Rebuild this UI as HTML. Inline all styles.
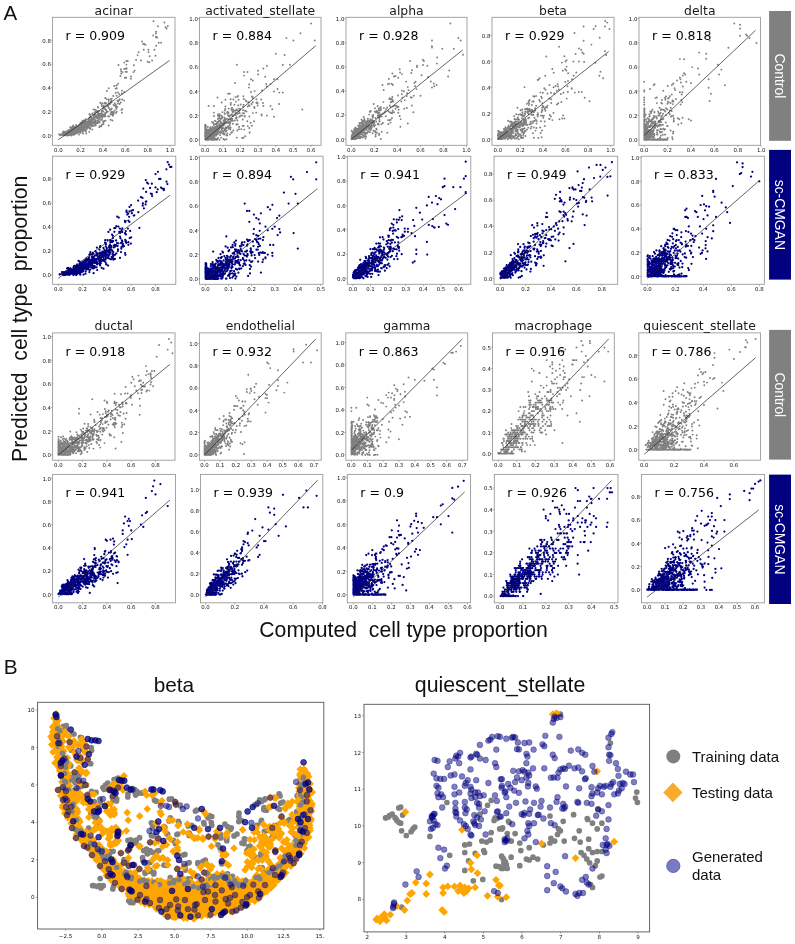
<!DOCTYPE html><html><head><meta charset="utf-8"><style>html,body{margin:0;padding:0;background:#fff;}svg{display:block;}</style></head><body>
<svg width="795" height="944" viewBox="0 0 795 944">
<rect width="795" height="944" fill="#fff"/>
<path d="M97.7 112.7h0M87.0 122.1h0M86.4 122.5h0M68.3 133.9h0M82.2 129.7h0M76.9 130.4h0M71.1 131.0h0M95.7 121.0h0M91.2 117.7h0M88.9 125.6h0M63.9 135.1h0M95.1 111.9h0M89.7 122.5h0M92.5 122.9h0M81.9 123.2h0M76.4 127.8h0M108.2 116.2h0M69.5 134.7h0M61.0 134.6h0M98.1 121.7h0M102.8 116.2h0M76.0 129.5h0M89.8 128.4h0M77.3 126.5h0M69.9 132.4h0M92.4 122.5h0M67.8 134.5h0M68.6 132.8h0M65.7 132.4h0M72.8 132.9h0M91.5 124.7h0M66.4 132.7h0M99.8 118.4h0M77.9 128.4h0M98.9 119.1h0M91.7 121.1h0M85.4 120.0h0M122.1 90.6h0M70.4 134.7h0M95.6 120.1h0M92.9 126.0h0M102.4 115.5h0M66.1 134.9h0M70.9 127.3h0M104.4 120.9h0M103.6 106.5h0M68.3 134.3h0M83.8 126.8h0M77.2 126.5h0M83.9 129.7h0M75.6 130.1h0M95.9 116.2h0M75.0 133.8h0M108.6 125.4h0M67.0 133.1h0M69.6 135.2h0M103.0 121.1h0M103.3 111.6h0M88.3 120.3h0M71.8 131.6h0M105.5 120.6h0M70.4 129.5h0M97.7 120.4h0M96.6 110.7h0M63.6 134.0h0M87.8 127.7h0M118.3 101.2h0M85.5 125.2h0M112.4 114.3h0M94.5 116.5h0M89.3 124.0h0M106.0 103.1h0M63.2 133.9h0M65.3 135.1h0M96.5 117.3h0M61.3 134.5h0M70.4 131.9h0M93.5 109.4h0M74.2 129.4h0M93.8 121.8h0M78.8 130.3h0M108.6 103.3h0M105.2 112.9h0M60.2 135.0h0M60.8 134.8h0M80.7 129.7h0M66.1 134.7h0M72.8 131.5h0M72.4 134.3h0M101.5 125.7h0M90.5 121.9h0M87.7 125.3h0M65.6 134.8h0M73.1 133.1h0M84.2 121.9h0M63.6 135.2h0M107.9 111.8h0M79.7 129.7h0M85.0 126.1h0M76.1 130.2h0M110.6 119.8h0M103.1 115.5h0M73.6 131.0h0M107.9 105.6h0M66.5 132.0h0M60.4 135.2h0M96.8 116.9h0M83.4 120.5h0M101.0 115.2h0M109.9 109.3h0M69.6 133.1h0M76.1 132.3h0M70.2 133.6h0M73.1 131.5h0M92.4 117.9h0M69.7 133.0h0M97.7 123.2h0M79.2 124.9h0M101.6 115.3h0M76.0 130.7h0M80.7 126.4h0M98.7 116.7h0M89.3 122.8h0M62.8 133.7h0M116.4 106.3h0M71.2 135.0h0M92.5 118.3h0M110.4 109.7h0M79.0 134.5h0M72.9 130.7h0M76.5 129.7h0M76.2 125.4h0M82.5 123.0h0M116.9 107.6h0M113.6 104.8h0M119.3 94.2h0M72.9 131.7h0M67.1 135.4h0M119.3 99.9h0M67.4 133.9h0M86.3 127.2h0M116.0 112.9h0M64.8 132.9h0M98.6 120.3h0M73.1 128.8h0M68.4 131.5h0M74.6 133.2h0M81.9 129.1h0M71.6 135.5h0M74.2 130.4h0M91.6 122.7h0M92.1 125.0h0M122.1 109.0h0M107.1 105.7h0M79.8 125.1h0M82.9 124.3h0M82.8 128.2h0M95.6 123.9h0M78.6 130.0h0M76.1 129.2h0M82.4 130.6h0M80.4 129.2h0M82.3 120.9h0M72.9 128.9h0M89.4 114.2h0M117.9 103.5h0M74.4 134.2h0M71.0 131.4h0M86.7 129.2h0M82.8 130.9h0M115.7 106.8h0M106.4 111.9h0M74.5 130.6h0M72.2 130.2h0M92.2 121.0h0M81.5 127.3h0M62.1 134.5h0M83.0 128.0h0M111.7 108.5h0M87.8 122.5h0M106.0 113.1h0M82.4 126.2h0M78.6 128.2h0M70.9 133.3h0M74.5 129.6h0M71.0 132.0h0M70.1 129.8h0M68.6 135.1h0M87.3 123.8h0M71.4 130.1h0M77.1 129.4h0M89.3 121.6h0M98.2 117.3h0M90.3 123.1h0M124.3 91.9h0M110.9 99.2h0M71.6 135.1h0M83.1 133.4h0M76.8 130.0h0M98.9 117.0h0M98.0 114.5h0M122.1 99.4h0M101.1 120.0h0M76.8 132.9h0M94.3 114.9h0M72.5 129.2h0M63.1 133.9h0M74.8 132.2h0M98.5 113.3h0M88.9 122.6h0M101.2 126.3h0M70.1 134.4h0M99.0 111.2h0M82.2 127.6h0M67.6 135.3h0M81.2 122.6h0M71.8 130.9h0M71.1 133.8h0M99.4 115.0h0M74.5 128.9h0M85.9 121.6h0M81.7 127.3h0M72.8 130.1h0M93.2 122.3h0M79.1 128.5h0M83.4 123.8h0M78.5 128.6h0M65.3 133.4h0M113.2 112.0h0M89.3 131.7h0M64.4 134.0h0M117.3 100.7h0M92.4 120.7h0M87.3 122.6h0M106.0 103.6h0M116.7 111.7h0M89.5 123.3h0M77.5 128.6h0M98.9 116.7h0M85.0 123.7h0M73.3 132.3h0M76.9 133.2h0M90.2 116.3h0M100.8 116.7h0M71.6 129.8h0M90.7 122.7h0M80.8 129.4h0M95.1 117.3h0M95.8 125.4h0M70.3 127.2h0M83.1 123.5h0M97.1 118.3h0M75.7 131.8h0M108.6 107.7h0M62.4 134.4h0M101.8 124.7h0M94.2 122.2h0M97.2 111.2h0M74.5 130.4h0M69.7 132.1h0M80.5 132.8h0M81.9 129.2h0M79.8 130.0h0M74.7 127.0h0M94.2 116.3h0M91.5 120.5h0M80.5 126.5h0M78.6 126.3h0M84.1 127.0h0M66.0 133.4h0M92.1 121.6h0M104.9 114.9h0M93.5 122.4h0M80.7 128.4h0M69.5 133.9h0M86.3 125.7h0M98.1 107.6h0M92.7 125.9h0M67.4 134.0h0M90.0 121.5h0M73.2 125.5h0M86.3 124.8h0M82.2 130.1h0M99.3 127.3h0M120.7 102.5h0M70.8 128.0h0M79.1 128.0h0M67.7 135.5h0M109.2 116.6h0M87.9 125.9h0M116.3 108.7h0M76.0 133.2h0M73.0 130.4h0M90.4 114.6h0M84.1 129.0h0M87.5 123.7h0M67.8 132.7h0M101.7 114.7h0M96.8 123.0h0M92.4 129.6h0M72.8 130.5h0M85.5 130.7h0M79.5 130.1h0M99.5 122.5h0M85.6 123.5h0M74.0 131.6h0M64.9 131.6h0M84.9 126.0h0M63.7 132.7h0M91.5 122.2h0M90.8 120.7h0M88.1 124.3h0M94.2 115.2h0M87.1 124.3h0M71.9 130.1h0M85.6 126.7h0M88.4 120.8h0M94.6 120.2h0M80.9 124.3h0M74.3 126.9h0M71.5 130.5h0M73.2 134.5h0M62.6 134.6h0M70.3 130.1h0M71.5 130.6h0M63.1 135.3h0M70.5 132.1h0M105.6 116.2h0M91.4 121.9h0M77.0 130.5h0M71.4 133.4h0M111.5 100.6h0M99.8 122.1h0M104.3 115.3h0M85.3 127.5h0M92.3 113.4h0M64.4 135.2h0M86.7 125.7h0M68.4 131.1h0M74.3 129.3h0M66.1 132.6h0M81.2 128.0h0M81.8 124.8h0M68.7 130.1h0M86.0 131.2h0M65.7 134.4h0M98.6 121.3h0M67.0 132.0h0M72.0 130.8h0M108.9 99.4h0M85.6 121.1h0M117.2 106.7h0M88.7 125.6h0M66.7 135.2h0M69.5 131.0h0M76.0 125.3h0M68.6 133.0h0M88.0 121.8h0M111.0 112.7h0M95.7 117.4h0M75.3 132.7h0M66.1 133.5h0M75.0 129.2h0M84.8 124.7h0M83.7 130.5h0M115.7 92.7h0M113.5 114.2h0M105.0 109.0h0M62.0 134.7h0M70.2 131.4h0M82.2 128.1h0M92.2 120.2h0M105.9 110.1h0M67.8 131.7h0M73.6 132.0h0M89.7 128.5h0M103.3 114.7h0M77.0 126.5h0M95.2 121.8h0M88.8 127.2h0M74.0 126.6h0M103.3 122.6h0M70.6 132.9h0M74.4 132.5h0M78.6 127.8h0M83.6 124.0h0M82.4 128.1h0M72.0 127.4h0M90.7 125.6h0M71.8 129.7h0M113.9 112.5h0M119.6 103.9h0M108.4 106.3h0M59.7 134.4h0M104.4 114.2h0M74.3 132.0h0M73.2 131.7h0M93.6 115.5h0M100.9 115.2h0M82.3 127.9h0M89.9 125.5h0M78.3 131.8h0M95.4 121.3h0M100.3 102.8h0M67.1 134.4h0M112.9 115.7h0M102.3 117.5h0M97.2 115.3h0M95.3 109.8h0M66.5 133.9h0M68.8 133.0h0M81.0 128.4h0M67.0 133.4h0M94.7 117.7h0M71.8 130.0h0M75.2 131.3h0M77.2 129.9h0M86.2 133.5h0M99.7 126.3h0M88.5 125.4h0M95.5 114.2h0M66.9 132.9h0M76.7 127.0h0M89.3 125.7h0M72.9 133.2h0M105.1 114.1h0M97.6 118.0h0M90.7 123.1h0M75.2 133.2h0M63.3 135.3h0M87.1 126.4h0M59.6 134.8h0M62.8 134.6h0M93.8 119.1h0M84.1 128.6h0M89.6 117.7h0M75.4 128.2h0M75.4 129.5h0M76.0 129.2h0M87.8 122.6h0M63.9 134.2h0M63.1 134.6h0M104.1 116.5h0M94.3 124.4h0M84.9 128.8h0M66.7 134.3h0M71.0 134.6h0M85.6 119.1h0M69.2 133.8h0M70.8 130.0h0M73.8 131.4h0M67.1 134.3h0M96.8 111.9h0M112.4 112.6h0M69.6 132.8h0M66.8 134.9h0M121.5 110.1h0M80.3 125.0h0M103.2 108.3h0M111.9 114.6h0M83.1 128.8h0M66.0 135.2h0M111.9 111.6h0M114.2 105.4h0M121.9 93.4h0M69.0 132.6h0M72.5 131.5h0M77.8 126.8h0M80.6 130.8h0M75.0 133.9h0M71.5 131.1h0M105.6 106.6h0M101.9 106.0h0M101.6 111.0h0M119.7 99.2h0M62.9 133.0h0M83.5 126.3h0M74.0 134.8h0M82.5 123.4h0M100.0 113.8h0M101.8 119.2h0M111.6 102.3h0M66.0 133.6h0M87.4 124.9h0M91.0 122.5h0M75.3 130.1h0M76.3 129.3h0M103.7 105.8h0M90.5 128.0h0M79.4 128.4h0M81.2 124.2h0M72.2 129.7h0M59.2 134.3h0M110.2 103.8h0M75.8 128.4h0M83.3 130.6h0M81.7 127.1h0M82.5 132.1h0M109.4 104.1h0M76.5 130.0h0M73.3 131.1h0M84.1 127.3h0M94.3 117.7h0M70.2 134.0h0M91.0 117.0h0M85.6 131.3h0M65.3 134.2h0M80.2 123.5h0M69.3 132.5h0M83.6 126.8h0M75.2 131.8h0M74.3 127.0h0M91.3 119.6h0M67.5 130.7h0M92.9 117.6h0M91.4 120.9h0M103.7 114.6h0M71.4 131.8h0M78.8 131.8h0M72.4 130.2h0M73.0 126.6h0M70.4 132.5h0M70.9 134.2h0M78.4 126.6h0M88.3 122.7h0M87.6 124.1h0M97.9 106.9h0M112.7 113.0h0M92.7 119.1h0M62.5 133.7h0M85.2 130.4h0M80.8 124.3h0M85.4 127.5h0M79.4 127.7h0M85.9 122.5h0M69.7 133.7h0M110.4 114.4h0M62.8 134.3h0M122.0 112.7h0M78.8 132.2h0M72.5 131.8h0M82.3 131.6h0M98.6 115.9h0M86.5 127.2h0M86.5 124.4h0M95.1 123.1h0M78.5 128.2h0M90.3 124.5h0M89.0 125.3h0M106.7 111.2h0M114.8 103.1h0M66.7 132.4h0M99.0 122.0h0M76.1 132.2h0M91.6 125.9h0M98.9 113.7h0M73.4 127.9h0M75.0 130.8h0M79.8 126.6h0M80.2 131.7h0M84.3 122.5h0M78.8 129.4h0M77.1 132.8h0M91.4 124.8h0M76.0 129.0h0M76.6 133.3h0M101.9 114.0h0M104.4 108.2h0M115.7 104.8h0M78.5 128.7h0M73.7 131.4h0M94.3 125.5h0M99.9 114.5h0M70.7 133.3h0M64.9 133.5h0M67.7 133.8h0M67.8 131.4h0M101.7 113.0h0M112.4 120.4h0M94.2 123.4h0M71.9 133.3h0M110.3 110.5h0M70.1 133.0h0M76.2 125.3h0M74.8 131.8h0M71.3 132.8h0M82.6 126.0h0M90.3 120.3h0M124.1 100.6h0M93.2 114.9h0M65.8 135.1h0M71.2 134.3h0M101.5 116.7h0M91.4 124.3h0M65.7 132.7h0M94.5 112.7h0M81.8 126.3h0M70.7 131.9h0M65.4 133.0h0M63.2 131.4h0M91.3 122.2h0M95.4 120.1h0M66.0 134.4h0M103.5 124.0h0M66.3 134.2h0M77.6 132.6h0M98.1 116.2h0M81.2 123.9h0M114.7 110.5h0M80.1 130.7h0M104.6 103.3h0M102.6 110.2h0M81.6 126.5h0M96.5 122.5h0M72.1 132.9h0M71.2 133.0h0M89.7 123.4h0M86.1 123.5h0M88.9 120.9h0M88.8 119.2h0M90.4 119.9h0M95.0 121.2h0M101.0 119.9h0M86.0 122.3h0M78.6 130.0h0M111.8 108.8h0M90.4 128.7h0M104.9 102.6h0M118.0 92.5h0M105.9 103.7h0M125.5 77.8h0M125.9 71.8h0M126.7 71.6h0M121.2 71.3h0M120.9 69.3h0M126.5 68.1h0M106.7 99.2h0M108.7 100.9h0M114.3 85.9h0M116.8 88.3h0M110.8 101.9h0M126.4 64.6h0M116.4 85.6h0M101.6 104.2h0M124.2 68.9h0M122.8 72.1h0M113.3 95.9h0M126.3 60.9h0M111.9 98.6h0M126.2 77.7h0M108.7 88.2h0M126.6 68.8h0M116.6 95.8h0M118.2 83.6h0M116.8 85.3h0M108.0 105.1h0M118.5 64.9h0M105.2 98.0h0M106.1 110.0h0M115.6 88.6h0M102.4 103.2h0M106.9 90.9h0M127.8 61.0h0M145.5 44.7h0M124.3 62.6h0M140.9 60.4h0M137.6 55.1h0M153.5 21.3h0M130.9 78.8h0M134.6 70.6h0M149.4 62.3h0M155.8 33.4h0M120.4 75.9h0M158.0 26.2h0M156.1 45.8h0M133.5 72.1h0M155.9 37.2h0M156.1 36.6h0M126.6 71.9h0M133.9 65.3h0M125.9 68.4h0M148.4 49.7h0M149.6 56.3h0M124.9 77.8h0M143.7 49.8h0M144.2 44.0h0M121.2 73.5h0M157.2 37.5h0M148.5 52.1h0M156.1 31.7h0M131.0 76.4h0M136.1 60.0h0M164.4 22.5h0M167.8 26.0h0M165.5 27.2h0M153.2 35.5h0M158.8 42.7h0M161.1 42.7h0M142.1 41.5h0M143.2 43.9h0M138.7 52.2h0M147.7 61.7h0M152.1 60.5h0M154.4 49.8h0M155.5 55.8h0M166.6 28.4h0" stroke="#808080" stroke-width="1.95" stroke-linecap="round" fill="none"/>
<line x1="58.3" y1="139.8" x2="169.6" y2="60.4" stroke="#222" stroke-width="0.7"/>
<rect x="52.5" y="17.3" width="122.5" height="128.0" fill="none" stroke="#9a9a9a" stroke-width="0.9"/>
<text x="58.3" y="151.9" font-family="'DejaVu Sans', sans-serif" font-size="5.4" fill="#111" text-anchor="middle">0.0</text>
<text x="80.6" y="151.9" font-family="'DejaVu Sans', sans-serif" font-size="5.4" fill="#111" text-anchor="middle">0.2</text>
<text x="103.0" y="151.9" font-family="'DejaVu Sans', sans-serif" font-size="5.4" fill="#111" text-anchor="middle">0.4</text>
<text x="125.3" y="151.9" font-family="'DejaVu Sans', sans-serif" font-size="5.4" fill="#111" text-anchor="middle">0.6</text>
<text x="147.7" y="151.9" font-family="'DejaVu Sans', sans-serif" font-size="5.4" fill="#111" text-anchor="middle">0.8</text>
<text x="170.0" y="151.9" font-family="'DejaVu Sans', sans-serif" font-size="5.4" fill="#111" text-anchor="middle">1.0</text>
<text x="50.9" y="137.8" font-family="'DejaVu Sans', sans-serif" font-size="5.4" fill="#111" text-anchor="end">0.0</text>
<text x="50.9" y="114.0" font-family="'DejaVu Sans', sans-serif" font-size="5.4" fill="#111" text-anchor="end">0.2</text>
<text x="50.9" y="90.2" font-family="'DejaVu Sans', sans-serif" font-size="5.4" fill="#111" text-anchor="end">0.4</text>
<text x="50.9" y="66.4" font-family="'DejaVu Sans', sans-serif" font-size="5.4" fill="#111" text-anchor="end">0.6</text>
<text x="50.9" y="42.6" font-family="'DejaVu Sans', sans-serif" font-size="5.4" fill="#111" text-anchor="end">0.8</text>
<path d="M58.3 145.3v1.8M80.6 145.3v1.8M103.0 145.3v1.8M125.3 145.3v1.8M147.7 145.3v1.8M170.0 145.3v1.8M52.5 135.5h-1.8M52.5 111.7h-1.8M52.5 87.9h-1.8M52.5 64.1h-1.8M52.5 40.3h-1.8" stroke="#888" stroke-width="0.6"/>
<text x="65.5" y="40.0" font-family="'DejaVu Sans', sans-serif" font-size="12.55" fill="#000">r = 0.909</text>
<text x="113.8" y="14.7" font-family="'DejaVu Sans', sans-serif" font-size="12.4" fill="#1a1a1a" text-anchor="middle">acinar</text>
<path d="M222.1 118.3h0M252.0 125.7h0M218.0 127.2h0M216.3 129.5h0M220.2 123.6h0M210.4 132.0h0M207.8 135.0h0M207.9 138.8h0M209.1 139.1h0M213.6 133.6h0M210.6 133.8h0M216.2 131.4h0M223.5 123.4h0M225.5 106.4h0M218.2 130.6h0M257.6 105.6h0M212.1 134.0h0M211.3 135.9h0M214.7 130.3h0M222.8 127.5h0M207.5 131.7h0M220.5 121.9h0M236.6 109.2h0M230.5 119.8h0M215.4 123.9h0M212.0 136.5h0M220.2 120.5h0M230.4 119.5h0M231.4 120.4h0M223.0 131.2h0M223.2 125.3h0M242.0 115.6h0M232.8 123.7h0M210.4 132.9h0M211.3 134.0h0M207.5 139.2h0M227.1 135.5h0M222.2 116.9h0M233.0 112.3h0M237.7 124.3h0M213.0 130.7h0M218.0 137.9h0M211.1 128.6h0M233.4 99.4h0M215.3 131.7h0M232.3 115.3h0M228.5 115.7h0M217.1 133.6h0M219.4 116.7h0M230.4 129.5h0M217.4 131.6h0M227.0 118.7h0M210.3 131.6h0M205.9 136.7h0M214.6 127.6h0M212.5 127.0h0M210.1 135.0h0M211.8 137.3h0M215.8 124.2h0M208.2 139.2h0M224.7 118.3h0M214.7 134.7h0M214.8 129.7h0M211.5 130.2h0M231.5 115.1h0M217.9 122.8h0M240.4 109.2h0M244.2 129.6h0M219.5 139.7h0M211.9 139.2h0M210.5 134.9h0M247.3 121.2h0M216.3 135.5h0M262.0 90.4h0M231.9 114.1h0M220.9 126.8h0M212.0 122.1h0M212.4 134.5h0M209.0 135.3h0M214.5 129.7h0M222.1 125.6h0M236.9 109.7h0M206.5 130.9h0M215.4 139.5h0M215.6 131.2h0M211.1 134.3h0M254.3 107.0h0M248.8 105.1h0M232.0 132.3h0M213.6 135.4h0M237.9 113.7h0M209.5 136.3h0M254.6 91.1h0M232.3 118.8h0M209.0 136.9h0M238.0 95.9h0M220.7 123.4h0M219.1 128.3h0M224.6 133.7h0M222.4 127.8h0M216.7 133.8h0M213.3 134.1h0M214.0 132.8h0M216.8 132.1h0M214.0 136.4h0M248.7 102.5h0M210.3 130.6h0M205.3 130.1h0M213.9 124.8h0M210.4 133.0h0M217.6 121.9h0M230.7 127.6h0M208.3 136.6h0M220.9 126.2h0M244.0 113.1h0M214.0 125.0h0M209.7 131.9h0M216.6 129.5h0M249.3 128.0h0M209.5 136.7h0M211.7 139.5h0M224.6 128.4h0M224.2 117.4h0M221.8 128.3h0M221.7 129.5h0M248.5 102.1h0M212.8 134.7h0M220.8 132.8h0M209.2 133.7h0M212.9 131.8h0M227.1 112.9h0M209.1 133.2h0M222.0 129.6h0M209.2 137.4h0M213.5 133.0h0M219.7 127.4h0M216.5 129.4h0M235.4 97.1h0M223.5 120.8h0M207.2 132.3h0M206.0 139.2h0M218.7 132.4h0M225.9 131.4h0M228.6 122.9h0M220.6 124.0h0M224.6 123.0h0M231.1 132.8h0M243.9 113.5h0M209.1 135.9h0M214.3 136.6h0M224.5 130.2h0M226.3 122.6h0M250.6 122.7h0M243.8 98.9h0M222.4 128.2h0M207.2 132.9h0M225.4 123.4h0M221.7 102.5h0M213.0 130.2h0M233.1 116.1h0M215.0 135.6h0M207.0 137.7h0M279.1 104.0h0M213.7 134.3h0M221.1 118.7h0M235.4 113.0h0M216.9 132.0h0M211.5 135.6h0M223.1 133.5h0M219.4 127.0h0M221.6 128.8h0M206.8 137.1h0M220.8 127.7h0M217.6 126.2h0M234.3 104.8h0M236.7 118.6h0M249.1 84.5h0M206.0 135.7h0M217.6 132.5h0M228.1 122.6h0M228.4 121.9h0M208.9 138.7h0M209.6 139.2h0M207.2 138.7h0M209.9 137.0h0M217.9 134.1h0M210.1 136.3h0M227.9 126.3h0M220.0 125.9h0M223.0 128.2h0M212.6 137.6h0M243.6 104.7h0M214.7 132.5h0M217.6 128.0h0M212.7 129.5h0M240.7 104.4h0M212.7 131.0h0M207.8 134.8h0M205.4 139.6h0M214.6 130.0h0M222.1 131.6h0M207.6 137.6h0M206.0 139.5h0M217.7 123.4h0M225.7 122.5h0M254.1 121.2h0M214.3 128.8h0M210.2 132.5h0M228.5 116.1h0M213.1 130.2h0M206.3 136.8h0M232.0 120.9h0M229.9 124.1h0M234.7 114.6h0M219.2 132.2h0M228.7 119.6h0M243.1 106.7h0M208.7 129.6h0M263.0 103.0h0M223.9 123.3h0M206.8 138.4h0M231.3 109.1h0M211.0 138.2h0M243.4 96.2h0M215.8 132.0h0M210.4 138.9h0M228.6 127.4h0M232.8 120.6h0M224.9 114.0h0M226.6 130.8h0M211.6 129.3h0M235.9 101.6h0M219.8 125.4h0M212.5 129.5h0M219.6 116.5h0M212.1 137.8h0M241.0 115.4h0M221.4 122.5h0M215.6 128.4h0M219.5 124.5h0M221.6 115.8h0M230.3 122.8h0M210.8 131.8h0M227.3 133.5h0M272.2 109.2h0M236.4 124.5h0M213.1 131.9h0M217.2 130.2h0M247.8 106.4h0M217.0 128.6h0M218.8 121.0h0M237.4 120.4h0M213.0 128.4h0M218.1 129.2h0M223.7 125.0h0M214.7 135.9h0M251.6 103.9h0M209.7 132.1h0M212.8 127.5h0M224.3 123.5h0M230.0 128.0h0M249.4 116.4h0M224.8 120.6h0M215.0 133.8h0M210.8 135.3h0M207.2 136.5h0M244.6 116.6h0M205.7 133.6h0M232.7 115.8h0M214.6 131.3h0M224.0 133.4h0M212.2 135.9h0M213.2 122.3h0M206.0 134.4h0M216.5 128.3h0M217.7 126.0h0M226.6 128.1h0M228.0 115.0h0M216.7 124.7h0M216.8 134.6h0M207.8 129.8h0M231.4 120.4h0M225.4 121.1h0M209.4 136.6h0M235.4 110.7h0M208.2 139.6h0M252.0 96.4h0M211.4 130.6h0M206.3 138.1h0M206.1 137.8h0M210.8 128.9h0M239.7 116.6h0M221.2 126.2h0M213.4 137.9h0M219.3 125.1h0M210.9 130.0h0M261.2 99.5h0M220.2 125.4h0M228.9 119.1h0M230.0 121.9h0M214.9 120.6h0M217.8 127.3h0M219.9 118.4h0M254.5 108.1h0M251.0 91.9h0M221.4 123.4h0M226.0 119.2h0M239.5 110.6h0M236.0 112.7h0M238.6 111.5h0M232.7 120.7h0M236.7 117.3h0M237.3 130.5h0M239.4 116.8h0M223.8 125.2h0M230.6 99.3h0M229.6 116.6h0M229.9 134.6h0M257.6 103.4h0M239.7 112.9h0M237.4 96.8h0M238.3 105.5h0M256.2 112.6h0M252.7 98.0h0M224.1 134.5h0M242.8 113.1h0M252.9 113.1h0M246.6 101.6h0M249.7 132.4h0M241.3 129.1h0M225.9 127.2h0M256.4 99.2h0M239.0 129.2h0M245.0 110.8h0M213.7 124.1h0M219.7 115.1h0M219.9 127.1h0M220.1 135.3h0M230.9 102.9h0M210.5 135.8h0M224.6 113.2h0M228.7 128.7h0M222.5 133.6h0M217.9 114.1h0M235.8 118.2h0M243.6 125.7h0M249.6 105.8h0M216.8 124.0h0M248.9 87.6h0M212.2 130.7h0M247.8 126.1h0M256.4 102.7h0M232.6 109.2h0M224.6 139.8h0M208.3 132.4h0M225.5 128.9h0M252.6 97.0h0M224.8 110.4h0M211.1 133.7h0M238.6 99.8h0M246.5 111.4h0M220.5 126.9h0M230.1 115.3h0M215.3 135.7h0M242.2 138.0h0M218.9 118.1h0M234.8 120.5h0M249.6 132.7h0M242.7 119.5h0M245.7 100.4h0M216.6 134.5h0M228.8 108.6h0M226.4 139.2h0M213.4 127.5h0M227.5 111.8h0M215.5 138.9h0M218.4 126.2h0M226.6 130.4h0M235.8 114.9h0M229.4 119.4h0M219.2 116.0h0M252.8 102.2h0M225.1 121.6h0M215.1 126.9h0M223.6 123.0h0M225.6 119.3h0M227.2 122.8h0M225.4 99.8h0M226.4 135.2h0M224.3 119.8h0M231.1 118.9h0M233.3 130.4h0M209.8 133.4h0M222.4 112.1h0M245.0 116.1h0M266.3 84.0h0M232.5 111.5h0M222.3 123.7h0M233.6 110.9h0M236.8 137.6h0M223.8 120.9h0M217.0 122.4h0M223.4 139.0h0M220.5 131.2h0M230.7 104.8h0M237.4 110.2h0M212.5 139.3h0M239.1 108.6h0M231.4 109.8h0M217.9 115.7h0M219.6 114.1h0M219.0 129.5h0M223.6 131.7h0M229.7 125.7h0M245.2 136.3h0M214.0 116.0h0M239.1 127.0h0M219.0 127.1h0M221.1 137.6h0M257.2 102.4h0M233.7 110.2h0M232.0 107.6h0M217.2 138.7h0M217.9 119.0h0M220.0 132.2h0M224.8 119.6h0M213.9 112.6h0M226.4 135.3h0M244.3 116.1h0M219.8 126.4h0M227.5 127.3h0M242.8 125.9h0M243.1 110.2h0M225.9 130.8h0M243.4 137.8h0M225.3 109.0h0M216.9 139.3h0M213.0 130.8h0M228.6 112.8h0M205.2 133.3h0M205.4 126.7h0M205.2 137.6h0M205.1 128.9h0M205.2 131.8h0M205.2 128.1h0M205.3 138.1h0M205.4 132.9h0M206.1 130.4h0M205.2 131.7h0M205.2 132.0h0M205.6 126.3h0M205.5 125.4h0M205.2 138.4h0M205.3 130.7h0M205.2 127.3h0M205.4 137.3h0M205.4 132.5h0M205.3 125.5h0M205.8 127.0h0M205.5 126.1h0M205.5 139.1h0M205.7 128.7h0M205.5 133.9h0M205.2 124.6h0M205.3 127.3h0M205.5 129.5h0M205.3 130.3h0M205.3 129.0h0M205.8 135.4h0M205.4 131.4h0M205.6 131.9h0M205.1 136.2h0M205.6 133.1h0M205.2 130.4h0M205.2 125.4h0M205.5 139.2h0M205.4 125.5h0M205.4 125.1h0M205.3 126.5h0M205.2 126.4h0M205.3 132.8h0M205.1 126.9h0M205.3 138.4h0M205.4 128.1h0M205.3 125.9h0M205.2 129.1h0M205.5 125.0h0M205.4 134.0h0M205.6 131.9h0M205.2 137.6h0M205.4 124.9h0M205.9 125.9h0M205.3 135.3h0M205.5 138.2h0M205.1 135.0h0M205.3 125.0h0M205.5 127.3h0M205.4 132.5h0M205.7 137.4h0M205.3 135.6h0M205.8 137.9h0M205.4 139.4h0M205.2 134.0h0M205.1 133.2h0M205.2 129.0h0M205.3 133.5h0M205.2 135.1h0M205.8 139.0h0M205.2 132.2h0M217.0 139.8h0M214.1 139.7h0M211.9 139.5h0M215.9 139.8h0M211.8 139.5h0M216.4 139.6h0M206.0 139.5h0M213.3 139.7h0M215.2 139.5h0M211.0 139.5h0M212.1 139.5h0M217.0 139.6h0M212.6 139.2h0M205.4 139.6h0M208.2 139.6h0M206.6 139.8h0M212.6 139.8h0M212.2 139.6h0M215.5 139.6h0M216.9 139.6h0M216.0 139.3h0M207.4 139.7h0M215.0 139.4h0M208.1 139.8h0M216.9 139.4h0M206.9 139.7h0M216.9 139.7h0M207.6 139.7h0M209.0 139.7h0M211.3 139.8h0M208.3 135.7h0M220.3 133.1h0M208.9 136.5h0M207.1 131.1h0M207.8 127.0h0M206.4 135.5h0M212.8 128.8h0M205.8 134.6h0M205.5 139.8h0M205.6 134.2h0M207.2 134.3h0M208.3 131.7h0M210.9 137.5h0M206.0 137.4h0M205.2 133.7h0M205.3 138.2h0M212.6 129.8h0M207.9 137.3h0M206.7 132.4h0M214.2 137.0h0M206.1 132.3h0M205.2 131.5h0M211.6 132.8h0M205.9 130.3h0M207.4 133.0h0M208.7 137.7h0M206.1 137.1h0M209.7 130.1h0M206.5 134.3h0M205.7 131.9h0M206.3 135.8h0M206.1 132.0h0M206.4 139.2h0M206.4 129.0h0M206.2 138.3h0M206.2 134.5h0M205.6 134.6h0M211.6 134.9h0M211.9 133.6h0M208.9 135.6h0M211.4 130.0h0M212.9 134.0h0M206.4 136.8h0M205.7 133.7h0M205.7 133.1h0M206.7 135.9h0M211.5 139.7h0M206.1 135.8h0M206.0 133.8h0M205.7 136.5h0M206.8 132.0h0M206.4 132.1h0M208.0 136.4h0M210.0 137.7h0M210.4 127.3h0M206.5 138.6h0M219.2 129.0h0M206.5 138.0h0M206.1 139.1h0M208.6 135.4h0M205.1 135.4h0M205.5 138.5h0M206.0 133.7h0M212.2 122.4h0M209.8 128.1h0M211.4 132.9h0M213.6 134.1h0M211.4 135.5h0M206.8 134.7h0M206.2 131.4h0M206.2 138.9h0M207.1 135.5h0M209.1 137.6h0M209.1 136.7h0M212.4 133.0h0M206.3 136.6h0M208.2 132.3h0M205.6 136.7h0M213.7 130.8h0M206.9 133.9h0M209.4 130.9h0M205.9 134.7h0M206.6 136.0h0M205.4 131.4h0M205.9 134.5h0M215.5 121.1h0M211.0 133.4h0M207.7 135.1h0M205.6 135.4h0M211.8 130.4h0M207.0 132.0h0M205.3 139.1h0M205.9 133.0h0M207.7 133.5h0M206.2 136.7h0M205.9 138.7h0M205.7 136.2h0M216.3 126.6h0M208.4 139.0h0M211.9 131.2h0M212.1 137.1h0M206.9 133.3h0M206.3 134.3h0M205.6 135.1h0M207.6 132.7h0M210.6 127.8h0M210.5 131.4h0M205.7 130.3h0M208.7 135.2h0M214.6 138.3h0M208.2 138.9h0M207.4 136.2h0M207.2 137.8h0M214.5 130.5h0M207.5 133.2h0M208.3 136.9h0M207.1 137.5h0M205.7 135.8h0M212.5 139.1h0M209.5 132.7h0M311.1 23.5h0M300.5 33.2h0M286.4 38.1h0M293.4 40.5h0M314.7 40.5h0M275.8 53.8h0M284.6 55.0h0M282.8 64.7h0M289.9 64.7h0M302.3 109.5h0M236.9 64.7h0M258.1 70.8h0M263.4 68.4h0M266.9 65.9h0M258.1 74.4h0M274.0 79.3h0M277.5 79.3h0M265.2 76.8h0M244.0 72.0h0M247.5 72.0h0M244.0 75.6h0M251.0 79.3h0M252.8 80.5h0M235.1 82.9h0M266.9 86.5h0M270.5 84.1h0M279.3 92.6h0M277.5 88.9h0M282.8 92.6h0M274.0 91.4h0M270.5 105.9h0M263.4 105.9h0M261.6 115.6h0M266.9 115.6h0M274.0 116.8h0M261.6 114.4h0M217.5 97.4h0M228.1 93.8h0M229.8 93.8h0M208.6 105.9h0M213.9 105.9h0" stroke="#808080" stroke-width="1.95" stroke-linecap="round" fill="none"/>
<line x1="205.1" y1="139.8" x2="315.7" y2="45.8" stroke="#222" stroke-width="0.7"/>
<rect x="199.5" y="17.3" width="121.5" height="128.0" fill="none" stroke="#9a9a9a" stroke-width="0.9"/>
<text x="205.1" y="151.9" font-family="'DejaVu Sans', sans-serif" font-size="5.4" fill="#111" text-anchor="middle">0.0</text>
<text x="222.8" y="151.9" font-family="'DejaVu Sans', sans-serif" font-size="5.4" fill="#111" text-anchor="middle">0.1</text>
<text x="240.4" y="151.9" font-family="'DejaVu Sans', sans-serif" font-size="5.4" fill="#111" text-anchor="middle">0.2</text>
<text x="258.1" y="151.9" font-family="'DejaVu Sans', sans-serif" font-size="5.4" fill="#111" text-anchor="middle">0.3</text>
<text x="275.8" y="151.9" font-family="'DejaVu Sans', sans-serif" font-size="5.4" fill="#111" text-anchor="middle">0.4</text>
<text x="293.4" y="151.9" font-family="'DejaVu Sans', sans-serif" font-size="5.4" fill="#111" text-anchor="middle">0.5</text>
<text x="311.1" y="151.9" font-family="'DejaVu Sans', sans-serif" font-size="5.4" fill="#111" text-anchor="middle">0.6</text>
<text x="197.9" y="142.1" font-family="'DejaVu Sans', sans-serif" font-size="5.4" fill="#111" text-anchor="end">0.0</text>
<text x="197.9" y="117.9" font-family="'DejaVu Sans', sans-serif" font-size="5.4" fill="#111" text-anchor="end">0.2</text>
<text x="197.9" y="93.7" font-family="'DejaVu Sans', sans-serif" font-size="5.4" fill="#111" text-anchor="end">0.4</text>
<text x="197.9" y="69.4" font-family="'DejaVu Sans', sans-serif" font-size="5.4" fill="#111" text-anchor="end">0.6</text>
<text x="197.9" y="45.2" font-family="'DejaVu Sans', sans-serif" font-size="5.4" fill="#111" text-anchor="end">0.8</text>
<text x="197.9" y="21.0" font-family="'DejaVu Sans', sans-serif" font-size="5.4" fill="#111" text-anchor="end">1.0</text>
<path d="M205.1 145.3v1.8M222.8 145.3v1.8M240.4 145.3v1.8M258.1 145.3v1.8M275.8 145.3v1.8M293.4 145.3v1.8M311.1 145.3v1.8M199.5 139.8h-1.8M199.5 115.6h-1.8M199.5 91.4h-1.8M199.5 67.1h-1.8M199.5 42.9h-1.8M199.5 18.7h-1.8" stroke="#888" stroke-width="0.6"/>
<text x="212.5" y="40.0" font-family="'DejaVu Sans', sans-serif" font-size="12.55" fill="#000">r = 0.884</text>
<text x="260.2" y="14.7" font-family="'DejaVu Sans', sans-serif" font-size="12.4" fill="#1a1a1a" text-anchor="middle">activated_stellate</text>
<path d="M392.4 73.5h0M387.3 132.7h0M376.7 129.5h0M372.8 117.8h0M378.5 115.4h0M360.8 130.2h0M371.3 122.5h0M359.7 124.1h0M371.6 121.8h0M373.0 121.8h0M352.8 135.8h0M355.3 136.7h0M369.8 122.1h0M356.2 132.5h0M379.1 112.8h0M368.7 123.0h0M363.7 132.0h0M355.4 138.0h0M355.4 127.4h0M392.6 110.5h0M379.2 112.8h0M366.0 124.8h0M359.9 137.4h0M390.7 119.8h0M361.6 130.4h0M355.8 132.4h0M364.9 133.0h0M362.6 129.4h0M359.7 132.1h0M354.5 136.1h0M368.9 125.6h0M356.4 138.6h0M352.7 133.4h0M353.7 135.9h0M363.3 136.3h0M363.7 116.9h0M355.2 132.8h0M354.3 133.3h0M371.5 127.2h0M362.2 125.0h0M359.8 122.9h0M368.1 122.9h0M379.9 116.8h0M355.3 128.9h0M353.7 138.0h0M369.5 126.8h0M377.9 124.3h0M370.7 130.1h0M357.5 133.4h0M363.1 129.4h0M372.7 120.8h0M368.4 122.3h0M372.8 123.2h0M359.1 130.1h0M377.9 115.4h0M361.5 119.6h0M370.8 111.0h0M371.8 120.1h0M356.8 131.3h0M379.5 121.5h0M356.6 128.6h0M380.1 115.2h0M362.1 126.0h0M364.3 136.6h0M361.7 122.9h0M373.5 130.8h0M365.9 136.1h0M365.9 136.7h0M379.1 135.0h0M379.9 110.6h0M370.0 129.2h0M383.7 90.0h0M360.7 131.1h0M357.3 132.0h0M365.2 126.5h0M369.1 114.6h0M392.3 97.0h0M367.7 120.5h0M355.6 132.2h0M378.2 123.7h0M373.6 123.9h0M361.1 129.3h0M380.3 107.4h0M360.7 132.6h0M360.4 134.1h0M364.6 120.7h0M371.8 127.2h0M356.9 134.8h0M375.3 132.3h0M363.0 123.7h0M354.7 138.6h0M355.7 133.7h0M356.3 137.6h0M357.3 135.6h0M370.4 119.7h0M379.9 115.0h0M360.7 134.2h0M376.3 128.8h0M358.7 131.5h0M362.3 132.9h0M353.2 137.8h0M363.5 129.5h0M360.7 137.0h0M384.6 112.4h0M383.9 108.1h0M363.8 126.4h0M354.6 138.7h0M375.5 118.1h0M370.7 122.6h0M355.8 138.0h0M388.0 84.3h0M367.2 132.9h0M382.9 122.9h0M362.9 120.7h0M370.4 126.3h0M362.4 121.2h0M371.5 125.7h0M356.3 137.2h0M385.8 116.2h0M360.3 129.5h0M379.2 133.7h0M362.9 126.1h0M366.4 121.4h0M354.3 137.5h0M363.9 128.5h0M380.8 139.0h0M397.4 107.2h0M353.7 135.9h0M361.1 136.9h0M360.4 128.3h0M367.5 124.4h0M378.8 109.9h0M368.9 124.0h0M358.5 133.6h0M381.9 116.6h0M359.8 129.7h0M355.6 133.5h0M363.5 124.3h0M366.3 124.6h0M366.6 129.8h0M371.5 120.2h0M367.6 124.4h0M369.8 111.8h0M359.3 134.0h0M359.7 134.3h0M356.3 136.6h0M366.5 123.8h0M379.5 119.9h0M360.4 133.2h0M360.8 130.6h0M378.7 108.5h0M362.7 135.1h0M366.6 123.8h0M381.0 107.1h0M355.5 135.1h0M355.7 139.0h0M371.4 128.5h0M364.9 122.5h0M367.6 125.4h0M357.5 132.3h0M365.7 123.0h0M364.6 124.9h0M356.2 132.9h0M360.3 137.9h0M369.6 120.7h0M370.1 127.8h0M357.0 136.4h0M395.5 75.9h0M358.6 135.0h0M391.5 99.3h0M375.7 134.7h0M362.6 129.3h0M373.3 114.9h0M391.0 102.2h0M359.8 129.5h0M374.8 111.6h0M357.1 136.3h0M360.0 130.8h0M367.1 127.0h0M379.9 115.2h0M364.4 120.2h0M356.5 134.0h0M361.9 134.2h0M367.9 118.6h0M366.4 128.5h0M352.5 134.4h0M394.1 112.2h0M358.1 131.5h0M390.6 102.1h0M398.6 109.7h0M360.0 125.1h0M359.4 122.9h0M364.8 125.6h0M354.8 136.5h0M354.7 134.3h0M359.4 131.6h0M395.5 108.7h0M389.8 98.3h0M357.0 135.2h0M359.6 136.0h0M357.9 132.6h0M357.8 129.8h0M358.1 136.1h0M357.8 128.6h0M358.0 125.6h0M359.3 134.9h0M376.4 111.3h0M377.6 105.9h0M356.5 133.8h0M371.2 124.4h0M353.9 139.0h0M374.3 126.4h0M373.3 125.4h0M355.4 137.9h0M357.6 137.1h0M355.8 136.6h0M371.2 121.6h0M372.6 133.3h0M355.7 135.5h0M375.0 108.2h0M367.5 121.1h0M356.4 136.9h0M368.6 124.9h0M353.6 137.3h0M364.9 127.8h0M354.4 135.4h0M369.9 132.1h0M374.1 123.5h0M368.1 126.8h0M377.8 123.9h0M365.2 127.7h0M373.0 116.8h0M391.9 101.8h0M365.7 134.2h0M377.0 132.7h0M364.1 128.5h0M362.6 127.7h0M352.4 138.8h0M367.8 122.9h0M355.5 134.4h0M392.8 100.2h0M378.8 124.6h0M355.0 134.1h0M397.9 95.5h0M364.8 128.0h0M362.5 121.7h0M372.0 120.8h0M362.7 131.7h0M355.5 128.7h0M373.3 121.9h0M381.7 131.7h0M398.2 77.8h0M362.2 132.9h0M353.3 135.0h0M356.2 137.0h0M364.5 133.1h0M356.3 136.0h0M354.5 138.9h0M354.3 136.3h0M372.3 116.2h0M388.9 79.0h0M365.5 138.4h0M375.4 125.1h0M367.5 127.3h0M371.0 122.6h0M352.1 138.2h0M361.7 131.8h0M362.9 123.1h0M369.0 129.3h0M364.4 118.9h0M375.6 136.4h0M356.7 129.9h0M355.5 136.0h0M364.5 122.0h0M354.4 130.4h0M396.2 105.7h0M359.6 125.9h0M389.3 83.6h0M353.7 137.8h0M357.1 136.4h0M376.3 121.5h0M366.0 132.6h0M357.4 131.0h0M357.6 132.4h0M359.8 133.2h0M392.3 112.4h0M394.7 105.5h0M364.7 130.2h0M362.0 126.1h0M368.0 131.3h0M352.6 132.7h0M367.1 126.3h0M399.7 115.9h0M366.6 124.9h0M359.5 132.5h0M362.1 127.8h0M375.6 118.0h0M364.0 130.8h0M364.9 128.2h0M360.4 131.2h0M378.1 113.8h0M401.8 94.3h0M351.9 138.9h0M355.4 133.1h0M362.3 123.5h0M362.2 131.7h0M358.8 137.3h0M354.7 134.1h0M354.6 135.8h0M358.9 135.9h0M374.4 122.5h0M369.0 131.7h0M356.7 135.0h0M369.8 122.1h0M388.3 124.0h0M356.9 134.7h0M359.2 125.6h0M360.5 136.9h0M364.0 128.2h0M362.7 132.3h0M353.3 132.0h0M383.4 102.1h0M376.6 132.6h0M355.8 130.8h0M360.9 127.3h0M359.5 130.4h0M373.7 120.6h0M361.2 132.9h0M372.9 121.0h0M358.1 137.9h0M358.8 127.6h0M355.6 133.1h0M354.8 136.1h0M357.0 137.4h0M360.7 127.7h0M359.0 132.9h0M375.0 130.9h0M361.5 133.0h0M367.1 123.2h0M364.5 133.8h0M361.7 133.7h0M373.9 123.4h0M357.2 135.4h0M355.4 135.0h0M361.2 122.7h0M356.7 138.1h0M363.4 127.9h0M390.7 99.3h0M353.0 136.8h0M371.7 120.5h0M381.4 124.2h0M363.3 128.4h0M363.8 135.7h0M398.3 112.8h0M368.9 125.4h0M359.1 138.3h0M361.9 133.2h0M361.6 128.6h0M379.3 117.9h0M370.1 126.1h0M377.5 111.3h0M377.9 117.0h0M368.0 120.2h0M356.8 134.5h0M356.9 132.2h0M356.2 130.9h0M357.5 134.4h0M370.5 119.1h0M354.3 138.5h0M373.7 104.0h0M377.3 112.1h0M356.0 139.0h0M361.6 125.7h0M365.0 125.4h0M356.2 136.9h0M370.3 128.5h0M369.9 112.1h0M367.9 127.8h0M362.9 126.9h0M355.5 138.7h0M401.9 90.6h0M388.1 120.1h0M400.4 126.8h0M357.4 136.5h0M356.1 135.5h0M362.6 137.5h0M391.2 113.0h0M355.5 135.9h0M362.7 128.4h0M381.0 114.3h0M376.0 112.5h0M380.7 108.0h0M357.4 130.7h0M361.7 131.0h0M360.9 130.1h0M381.0 109.8h0M385.5 111.2h0M367.1 125.2h0M360.7 130.4h0M355.1 132.6h0M365.7 132.7h0M376.3 111.3h0M359.3 136.3h0M365.9 126.3h0M362.6 123.1h0M362.1 133.4h0M364.5 134.5h0M365.9 129.2h0M369.6 121.4h0M359.8 132.7h0M383.1 113.5h0M360.6 131.8h0M358.9 128.9h0M370.3 126.4h0M353.0 134.9h0M352.6 134.4h0M353.0 139.0h0M353.1 138.1h0M352.2 137.7h0M351.8 131.0h0M351.7 136.3h0M362.1 127.3h0M352.6 135.0h0M353.0 135.9h0M352.4 137.1h0M353.3 136.4h0M354.5 132.3h0M352.2 136.4h0M353.4 132.8h0M351.7 136.5h0M351.6 138.4h0M356.1 133.3h0M357.6 132.3h0M354.5 135.7h0M359.3 133.7h0M353.1 134.4h0M355.7 137.1h0M353.5 136.9h0M355.1 139.0h0M352.1 136.8h0M352.2 137.9h0M355.0 135.7h0M354.2 139.1h0M355.7 133.8h0M354.1 129.2h0M352.7 135.5h0M354.2 137.1h0M351.5 138.1h0M351.8 137.6h0M358.8 131.7h0M361.7 129.8h0M352.8 138.9h0M351.9 138.4h0M351.7 135.6h0M352.4 137.0h0M353.8 135.1h0M352.9 135.0h0M354.5 138.7h0M352.0 135.2h0M352.4 136.7h0M356.1 130.8h0M355.4 136.2h0M352.9 138.7h0M359.4 128.5h0M353.0 135.6h0M351.7 130.8h0M352.7 137.2h0M353.1 135.0h0M351.7 139.2h0M354.6 138.0h0M355.3 132.6h0M354.1 133.6h0M354.0 138.1h0M351.7 136.9h0M404.8 100.1h0M386.1 109.1h0M407.8 87.1h0M389.7 112.2h0M401.4 101.5h0M389.3 99.0h0M387.3 107.5h0M428.1 77.0h0M423.0 65.0h0M392.9 106.6h0M411.9 97.6h0M408.5 90.2h0M437.2 57.5h0M389.4 120.2h0M416.5 89.1h0M396.8 106.2h0M404.2 108.8h0M411.9 105.5h0M412.1 70.2h0M388.2 110.9h0M389.8 105.5h0M398.5 106.8h0M413.3 112.3h0M406.2 81.6h0M400.1 72.4h0M400.7 119.1h0M406.8 96.1h0M431.9 46.2h0M407.2 93.3h0M390.5 112.7h0M403.9 91.2h0M402.4 97.6h0M436.9 63.6h0M410.7 97.3h0M413.7 95.8h0M415.6 81.8h0M390.7 107.1h0M414.4 82.9h0M433.8 83.4h0M390.5 122.6h0M392.0 117.9h0M392.2 113.0h0M393.2 101.6h0M406.8 108.0h0M415.0 85.9h0M391.7 98.9h0M450.4 23.5h0M432.0 40.4h0M460.7 40.4h0M458.4 38.0h0M432.0 47.6h0M442.3 48.8h0M453.8 48.8h0M463.0 54.8h0M449.2 70.5h0M448.1 76.5h0M410.1 60.9h0M422.8 59.7h0M423.9 60.9h0M417.0 65.7h0M417.0 66.9h0M427.4 65.7h0M399.7 69.3h0M402.0 74.1h0M411.3 72.9h0M394.0 76.5h0M421.6 75.3h0M430.8 81.4h0M432.0 87.4h0M434.3 86.2h0M436.6 85.0h0M420.5 95.8h0M407.8 123.5h0M382.5 85.0h0M391.7 83.8h0M392.8 85.0h0" stroke="#808080" stroke-width="1.95" stroke-linecap="round" fill="none"/>
<line x1="351.4" y1="139.2" x2="462.7" y2="50.0" stroke="#222" stroke-width="0.7"/>
<rect x="346" y="17.3" width="121.0" height="128.0" fill="none" stroke="#9a9a9a" stroke-width="0.9"/>
<text x="351.4" y="151.9" font-family="'DejaVu Sans', sans-serif" font-size="5.4" fill="#111" text-anchor="middle">0.0</text>
<text x="374.4" y="151.9" font-family="'DejaVu Sans', sans-serif" font-size="5.4" fill="#111" text-anchor="middle">0.2</text>
<text x="397.4" y="151.9" font-family="'DejaVu Sans', sans-serif" font-size="5.4" fill="#111" text-anchor="middle">0.4</text>
<text x="420.5" y="151.9" font-family="'DejaVu Sans', sans-serif" font-size="5.4" fill="#111" text-anchor="middle">0.6</text>
<text x="443.5" y="151.9" font-family="'DejaVu Sans', sans-serif" font-size="5.4" fill="#111" text-anchor="middle">0.8</text>
<text x="466.5" y="151.9" font-family="'DejaVu Sans', sans-serif" font-size="5.4" fill="#111" text-anchor="middle">1.0</text>
<text x="344.4" y="141.5" font-family="'DejaVu Sans', sans-serif" font-size="5.4" fill="#111" text-anchor="end">0.0</text>
<text x="344.4" y="117.4" font-family="'DejaVu Sans', sans-serif" font-size="5.4" fill="#111" text-anchor="end">0.2</text>
<text x="344.4" y="93.3" font-family="'DejaVu Sans', sans-serif" font-size="5.4" fill="#111" text-anchor="end">0.4</text>
<text x="344.4" y="69.2" font-family="'DejaVu Sans', sans-serif" font-size="5.4" fill="#111" text-anchor="end">0.6</text>
<text x="344.4" y="45.1" font-family="'DejaVu Sans', sans-serif" font-size="5.4" fill="#111" text-anchor="end">0.8</text>
<text x="344.4" y="21.0" font-family="'DejaVu Sans', sans-serif" font-size="5.4" fill="#111" text-anchor="end">1.0</text>
<path d="M351.4 145.3v1.8M374.4 145.3v1.8M397.4 145.3v1.8M420.5 145.3v1.8M443.5 145.3v1.8M466.5 145.3v1.8M346.0 139.2h-1.8M346.0 115.1h-1.8M346.0 91.0h-1.8M346.0 66.9h-1.8M346.0 42.8h-1.8M346.0 18.7h-1.8" stroke="#888" stroke-width="0.6"/>
<text x="359.0" y="40.0" font-family="'DejaVu Sans', sans-serif" font-size="12.55" fill="#000">r = 0.928</text>
<text x="406.5" y="14.7" font-family="'DejaVu Sans', sans-serif" font-size="12.4" fill="#1a1a1a" text-anchor="middle">alpha</text>
<path d="M542.3 103.1h0M531.9 109.9h0M535.9 119.6h0M526.7 124.8h0M501.6 136.2h0M511.7 125.6h0M528.7 109.5h0M516.0 121.4h0M521.1 115.0h0M499.5 135.9h0M514.8 138.5h0M508.1 120.8h0M517.6 132.3h0M522.8 137.9h0M515.9 121.7h0M523.6 123.9h0M515.8 122.5h0M507.5 127.6h0M524.0 132.8h0M523.4 129.0h0M527.8 112.9h0M508.3 127.2h0M531.0 123.8h0M501.7 137.9h0M511.9 128.8h0M524.4 115.7h0M529.3 117.6h0M540.4 92.6h0M512.1 122.9h0M503.3 136.1h0M514.4 128.3h0M520.6 110.3h0M515.3 135.2h0M511.3 129.7h0M533.8 127.5h0M519.2 134.1h0M542.0 110.9h0M524.6 128.3h0M517.6 132.0h0M505.8 128.8h0M518.0 133.4h0M533.8 112.3h0M513.0 137.6h0M506.5 133.0h0M502.7 139.0h0M521.2 137.2h0M528.7 101.2h0M502.1 136.7h0M540.6 133.0h0M506.0 135.7h0M501.8 138.1h0M545.4 110.7h0M523.2 135.0h0M505.6 134.3h0M513.1 127.5h0M528.4 109.4h0M522.6 115.8h0M525.0 130.8h0M525.5 109.2h0M515.3 123.6h0M536.1 105.7h0M507.7 135.6h0M505.7 138.0h0M537.4 114.7h0M505.0 137.1h0M516.1 129.8h0M527.0 129.4h0M520.6 125.0h0M528.2 118.3h0M515.3 127.6h0M544.9 109.2h0M511.3 132.4h0M503.0 133.2h0M563.4 92.7h0M522.4 131.9h0M508.9 137.8h0M525.2 121.2h0M504.8 136.3h0M529.3 108.8h0M542.7 105.8h0M501.8 137.0h0M511.5 121.6h0M527.8 110.0h0M537.6 114.8h0M533.0 121.1h0M503.2 134.1h0M521.0 135.5h0M544.7 108.4h0M531.4 114.8h0M559.1 46.8h0M506.5 132.0h0M514.6 127.5h0M502.3 138.9h0M517.3 119.3h0M535.5 130.6h0M509.0 133.2h0M525.4 135.9h0M519.5 125.2h0M521.9 118.2h0M505.5 138.2h0M513.2 136.4h0M513.0 129.2h0M504.2 134.1h0M520.0 134.3h0M549.1 118.7h0M509.5 137.6h0M515.1 124.2h0M543.8 115.8h0M516.7 123.9h0M518.0 136.2h0M510.7 131.5h0M503.5 135.2h0M523.5 125.5h0M562.8 70.7h0M507.0 132.5h0M504.8 134.9h0M514.8 123.3h0M500.5 138.1h0M505.4 134.1h0M504.5 137.3h0M511.7 132.5h0M541.5 112.2h0M510.1 135.3h0M506.3 132.6h0M502.8 138.7h0M499.6 135.9h0M507.2 133.2h0M517.4 126.4h0M540.1 127.5h0M501.0 135.7h0M533.4 114.9h0M518.0 121.9h0M514.3 123.4h0M519.1 126.4h0M520.3 125.1h0M527.1 108.4h0M541.0 115.6h0M531.4 126.4h0M524.2 124.2h0M504.4 138.1h0M536.0 95.9h0M537.8 113.1h0M522.2 126.0h0M545.5 89.7h0M503.5 133.9h0M514.2 116.2h0M539.3 99.9h0M526.0 109.2h0M523.1 116.5h0M551.2 99.2h0M522.4 112.3h0M511.4 136.1h0M553.7 72.7h0M513.7 137.8h0M512.5 125.5h0M506.3 135.5h0M512.7 131.7h0M533.6 101.2h0M506.0 134.2h0M508.6 132.5h0M506.8 134.3h0M505.3 138.7h0M543.3 117.7h0M522.3 126.2h0M525.0 109.3h0M508.5 126.6h0M500.8 137.3h0M521.5 123.1h0M503.2 135.6h0M515.1 125.3h0M530.8 128.5h0M528.6 102.0h0M533.9 137.8h0M522.3 114.1h0M517.8 121.4h0M508.7 125.4h0M541.8 97.9h0M536.5 123.4h0M500.3 134.0h0M520.9 138.1h0M532.0 109.8h0M507.3 136.7h0M517.8 118.3h0M509.8 136.3h0M506.6 135.3h0M520.9 129.7h0M510.4 134.5h0M544.8 126.0h0M534.5 117.7h0M503.8 137.6h0M519.9 127.3h0M504.2 138.0h0M511.9 131.5h0M530.5 109.9h0M512.0 126.1h0M533.3 96.1h0M499.8 132.0h0M508.3 136.3h0M508.2 132.0h0M509.7 134.8h0M515.7 124.2h0M515.7 126.7h0M501.2 137.7h0M520.9 130.4h0M503.0 136.1h0M526.3 122.3h0M509.8 121.7h0M507.6 136.3h0M510.4 130.3h0M532.9 133.2h0M511.5 129.7h0M525.2 120.2h0M518.8 139.2h0M534.4 110.6h0M525.1 114.0h0M505.2 136.8h0M541.2 96.6h0M517.5 107.7h0M512.6 130.8h0M515.7 125.7h0M499.8 137.1h0M502.3 138.6h0M502.0 134.7h0M528.5 111.5h0M509.2 137.2h0M518.6 134.0h0M500.8 137.5h0M506.4 137.5h0M511.0 124.8h0M524.5 87.1h0M523.9 132.1h0M532.6 111.1h0M511.2 125.7h0M540.0 101.4h0M514.3 122.0h0M509.9 133.5h0M507.2 135.5h0M511.3 129.3h0M516.5 124.6h0M513.8 137.1h0M510.9 135.4h0M522.6 128.9h0M511.5 131.3h0M501.4 139.0h0M558.1 86.4h0M501.8 134.4h0M516.6 131.5h0M520.7 122.9h0M506.4 133.8h0M517.3 129.5h0M518.8 123.5h0M510.3 121.7h0M532.5 114.8h0M531.0 121.9h0M538.4 137.9h0M516.6 124.6h0M519.3 119.7h0M524.4 122.0h0M532.3 101.6h0M520.5 129.7h0M500.9 134.4h0M500.5 138.3h0M543.6 107.0h0M542.3 115.8h0M521.3 122.3h0M505.7 130.1h0M517.4 124.6h0M504.5 130.5h0M537.7 80.0h0M510.5 138.2h0M520.3 114.3h0M503.3 138.4h0M508.2 132.9h0M517.1 130.0h0M520.4 121.9h0M503.9 135.3h0M518.4 126.8h0M503.5 134.0h0M533.5 101.6h0M529.7 124.2h0M528.9 114.3h0M509.9 128.2h0M502.8 134.8h0M535.1 108.2h0M514.5 119.0h0M507.6 136.7h0M499.7 137.9h0M503.7 136.8h0M518.9 136.0h0M510.5 136.6h0M531.6 112.2h0M528.9 105.1h0M501.1 136.3h0M522.3 130.4h0M536.7 120.9h0M502.9 132.3h0M507.8 131.2h0M517.8 130.1h0M523.8 133.6h0M516.2 131.0h0M504.7 134.4h0M512.5 129.8h0M519.4 127.6h0M523.8 119.8h0M516.8 138.6h0M516.2 114.3h0M518.5 119.3h0M512.1 125.9h0M517.9 117.5h0M510.4 132.9h0M549.6 119.0h0M518.5 127.3h0M517.6 137.1h0M534.2 96.7h0M504.8 134.6h0M558.9 89.4h0M505.1 131.8h0M522.1 132.4h0M510.8 121.8h0M501.8 135.2h0M525.2 123.3h0M540.9 121.3h0M510.3 126.8h0M515.7 133.9h0M557.0 104.5h0M552.4 120.1h0M500.3 137.6h0M500.5 138.9h0M505.3 134.1h0M503.5 133.3h0M514.3 128.4h0M525.5 119.0h0M507.9 134.7h0M536.4 127.9h0M506.3 131.7h0M547.5 93.4h0M504.2 134.2h0M538.3 114.6h0M501.4 138.9h0M561.9 62.6h0M513.0 123.2h0M534.6 121.0h0M508.6 131.6h0M519.6 126.4h0M547.1 107.6h0M517.4 131.5h0M505.3 129.0h0M506.6 131.9h0M531.9 105.0h0M527.2 125.1h0M517.6 132.9h0M513.8 129.2h0M500.0 137.9h0M512.8 128.8h0M542.2 109.9h0M506.3 130.3h0M506.7 131.1h0M506.7 136.1h0M521.3 136.9h0M525.7 122.9h0M501.5 137.0h0M511.0 125.3h0M513.4 133.0h0M504.4 138.3h0M511.7 130.9h0M499.0 137.2h0M519.9 124.0h0M522.5 132.2h0M542.0 130.5h0M531.3 110.2h0M508.5 134.1h0M547.5 105.6h0M525.3 120.3h0M516.4 138.3h0M505.0 132.4h0M522.1 115.4h0M525.2 113.9h0M503.2 132.8h0M537.7 116.4h0M502.7 134.9h0M507.8 139.2h0M527.6 124.6h0M507.8 128.8h0M542.3 107.7h0M501.5 136.8h0M530.6 121.7h0M512.0 135.8h0M542.9 92.7h0M526.1 120.3h0M521.4 129.4h0M515.2 131.3h0M525.6 124.4h0M522.0 124.9h0M521.4 122.0h0M516.3 135.3h0M544.3 88.3h0M512.4 132.2h0M529.6 100.0h0M522.4 131.5h0M509.8 138.0h0M529.5 110.6h0M503.0 134.2h0M505.3 129.9h0M523.5 120.8h0M516.7 126.8h0M549.5 85.0h0M549.8 115.0h0M510.3 130.5h0M526.3 124.8h0M503.4 135.8h0M510.9 137.3h0M503.0 135.2h0M513.3 124.7h0M531.7 114.8h0M515.5 119.4h0M510.8 129.4h0M505.3 131.8h0M535.2 110.5h0M523.3 115.7h0M516.4 124.2h0M507.7 132.3h0M513.6 125.8h0M504.3 133.2h0M551.2 103.0h0M501.0 132.4h0M511.5 133.9h0M505.1 134.1h0M501.8 135.7h0M522.8 123.2h0M521.1 136.2h0M542.5 110.2h0M528.3 127.6h0M523.9 122.2h0M521.7 130.0h0M511.6 138.7h0M512.9 136.5h0M533.0 122.9h0M505.5 127.3h0M505.0 138.4h0M502.0 137.1h0M511.5 124.5h0M525.6 131.2h0M527.2 111.9h0M502.6 138.4h0M529.2 103.5h0M516.2 128.3h0M530.0 111.3h0M525.3 111.8h0M512.5 132.4h0M503.0 134.1h0M530.9 123.8h0M526.9 103.8h0M519.8 126.5h0M546.2 56.5h0M546.1 106.9h0M507.0 131.5h0M512.8 136.6h0M518.6 114.7h0M511.5 123.7h0M506.8 135.1h0M522.2 109.5h0M519.1 124.5h0M559.4 119.2h0M523.2 137.4h0M524.6 113.5h0M514.9 136.1h0M544.7 121.5h0M541.7 137.3h0M508.1 128.0h0M499.5 132.0h0M498.9 136.2h0M499.3 139.1h0M508.2 131.7h0M503.5 137.2h0M497.9 135.8h0M499.2 134.3h0M500.9 135.2h0M507.3 131.2h0M502.1 135.5h0M501.6 132.3h0M500.3 137.1h0M502.6 136.2h0M502.9 132.2h0M506.0 129.0h0M499.3 136.2h0M507.2 131.0h0M501.6 138.8h0M498.4 135.2h0M506.5 131.4h0M500.6 133.1h0M499.5 137.1h0M497.9 139.0h0M498.1 130.7h0M505.5 132.9h0M500.4 136.7h0M499.0 135.7h0M499.7 134.0h0M507.2 133.1h0M503.9 129.0h0M500.6 134.8h0M502.8 138.0h0M503.4 134.4h0M498.7 137.5h0M499.9 132.0h0M500.9 137.8h0M499.9 138.0h0M498.2 137.3h0M502.8 138.7h0M498.7 136.8h0M500.0 136.4h0M508.4 128.9h0M498.5 138.2h0M498.4 133.2h0M498.0 134.4h0M500.9 132.8h0M504.0 134.0h0M499.0 137.1h0M498.5 137.5h0M504.3 134.5h0M499.5 135.3h0M499.6 138.4h0M504.6 134.1h0M498.8 136.4h0M499.2 138.4h0M501.1 135.3h0M498.6 136.1h0M502.7 134.0h0M499.3 136.7h0M508.8 134.8h0M511.4 132.1h0M498.8 134.4h0M504.6 135.5h0M498.3 134.4h0M503.6 131.6h0M499.7 136.9h0M498.3 136.5h0M503.7 132.9h0M498.4 137.5h0M501.4 132.6h0M504.5 134.9h0M498.4 135.6h0M498.5 131.0h0M498.7 132.2h0M498.2 138.9h0M498.9 134.5h0M499.1 138.2h0M498.3 138.6h0M500.1 135.1h0M505.4 133.0h0M557.6 84.3h0M565.2 69.2h0M581.8 91.9h0M589.5 101.2h0M574.8 92.6h0M556.8 90.7h0M567.5 86.3h0M551.0 92.8h0M583.7 53.8h0M552.3 68.9h0M560.8 94.1h0M576.3 72.4h0M571.7 88.7h0M584.1 62.0h0M603.1 78.2h0M561.4 102.0h0M568.1 73.3h0M553.5 113.0h0M563.1 115.5h0M568.0 80.9h0M566.4 70.5h0M571.8 88.3h0M605.2 20.9h0M555.6 85.9h0M575.6 53.9h0M560.9 94.0h0M595.6 26.2h0M553.6 87.2h0M573.6 75.7h0M567.9 91.9h0M565.3 81.9h0M554.2 93.5h0M558.3 103.3h0M595.4 62.8h0M551.0 116.4h0M578.8 91.9h0M572.0 79.3h0M599.7 37.7h0M549.3 98.4h0M566.7 98.6h0M607.2 22.6h0M605.0 26.4h0M609.5 29.0h0M583.6 26.4h0M593.7 29.0h0M574.5 32.9h0M583.6 40.7h0M591.4 44.6h0M579.0 48.5h0M581.3 49.8h0M582.4 52.4h0M564.4 56.3h0M565.5 61.4h0M566.6 60.1h0M573.4 61.4h0M579.0 61.4h0M566.6 66.6h0M605.0 51.1h0M606.1 55.0h0M600.5 71.8h0M599.3 75.7h0M584.7 97.7h0M564.4 118.5h0M562.1 118.5h0M545.2 75.7h0M539.6 78.3h0M538.5 79.6h0" stroke="#808080" stroke-width="1.95" stroke-linecap="round" fill="none"/>
<line x1="497.9" y1="139.2" x2="608.7" y2="51.5" stroke="#222" stroke-width="0.7"/>
<rect x="492" y="17.3" width="122.0" height="128.0" fill="none" stroke="#9a9a9a" stroke-width="0.9"/>
<text x="497.9" y="151.9" font-family="'DejaVu Sans', sans-serif" font-size="5.4" fill="#111" text-anchor="middle">0.0</text>
<text x="520.4" y="151.9" font-family="'DejaVu Sans', sans-serif" font-size="5.4" fill="#111" text-anchor="middle">0.2</text>
<text x="543.0" y="151.9" font-family="'DejaVu Sans', sans-serif" font-size="5.4" fill="#111" text-anchor="middle">0.4</text>
<text x="565.5" y="151.9" font-family="'DejaVu Sans', sans-serif" font-size="5.4" fill="#111" text-anchor="middle">0.6</text>
<text x="588.1" y="151.9" font-family="'DejaVu Sans', sans-serif" font-size="5.4" fill="#111" text-anchor="middle">0.8</text>
<text x="610.6" y="151.9" font-family="'DejaVu Sans', sans-serif" font-size="5.4" fill="#111" text-anchor="middle">1.0</text>
<text x="490.4" y="141.5" font-family="'DejaVu Sans', sans-serif" font-size="5.4" fill="#111" text-anchor="end">0.0</text>
<text x="490.4" y="115.6" font-family="'DejaVu Sans', sans-serif" font-size="5.4" fill="#111" text-anchor="end">0.2</text>
<text x="490.4" y="89.7" font-family="'DejaVu Sans', sans-serif" font-size="5.4" fill="#111" text-anchor="end">0.4</text>
<text x="490.4" y="63.7" font-family="'DejaVu Sans', sans-serif" font-size="5.4" fill="#111" text-anchor="end">0.6</text>
<text x="490.4" y="37.8" font-family="'DejaVu Sans', sans-serif" font-size="5.4" fill="#111" text-anchor="end">0.8</text>
<path d="M497.9 145.3v1.8M520.4 145.3v1.8M543.0 145.3v1.8M565.5 145.3v1.8M588.1 145.3v1.8M610.6 145.3v1.8M492.0 139.2h-1.8M492.0 113.3h-1.8M492.0 87.4h-1.8M492.0 61.4h-1.8M492.0 35.5h-1.8" stroke="#888" stroke-width="0.6"/>
<text x="505.0" y="40.0" font-family="'DejaVu Sans', sans-serif" font-size="12.55" fill="#000">r = 0.929</text>
<text x="553.0" y="14.7" font-family="'DejaVu Sans', sans-serif" font-size="12.4" fill="#1a1a1a" text-anchor="middle">beta</text>
<path d="M654.8 127.3h0M650.0 137.9h0M655.1 127.5h0M654.4 111.9h0M652.3 130.8h0M655.5 98.1h0M680.6 104.4h0M650.4 136.3h0M660.0 137.6h0M649.4 114.3h0M644.8 131.7h0M652.8 127.9h0M670.8 107.7h0M651.6 122.2h0M652.9 131.8h0M670.6 102.9h0M665.2 111.4h0M650.1 135.2h0M646.9 127.1h0M659.5 125.0h0M646.9 137.2h0M653.4 131.4h0M675.1 90.1h0M660.8 135.8h0M646.5 129.1h0M651.1 112.9h0M651.1 123.9h0M659.2 122.5h0M669.9 110.5h0M651.8 121.9h0M649.1 121.8h0M654.1 123.6h0M651.3 131.9h0M649.1 133.4h0M650.3 111.5h0M679.3 119.2h0M654.4 117.1h0M679.9 92.3h0M673.1 133.5h0M653.9 137.1h0M645.1 138.6h0M647.8 123.2h0M661.9 116.1h0M679.8 77.5h0M649.6 120.9h0M660.9 125.4h0M655.5 121.5h0M655.9 125.5h0M660.1 138.7h0M650.7 135.4h0M646.7 134.2h0M649.7 130.9h0M648.8 136.5h0M661.1 117.0h0M681.4 99.9h0M645.2 138.8h0M663.3 90.8h0M666.5 108.6h0M646.8 127.1h0M652.5 109.6h0M665.3 98.6h0M649.8 115.9h0M657.0 130.3h0M673.4 101.2h0M673.8 118.3h0M654.1 134.0h0M653.5 137.8h0M660.4 128.9h0M660.0 120.9h0M659.6 114.9h0M656.3 125.5h0M659.0 115.6h0M667.8 101.6h0M660.6 119.3h0M682.2 102.1h0M682.6 117.8h0M648.4 138.8h0M649.7 131.2h0M656.9 118.4h0M656.8 97.4h0M647.1 128.0h0M667.7 137.9h0M646.9 137.1h0M656.5 117.6h0M662.3 115.6h0M654.1 122.1h0M647.7 135.6h0M673.7 121.5h0M662.0 131.7h0M645.3 136.8h0M661.1 122.3h0M652.1 136.6h0M658.1 139.0h0M651.3 135.8h0M684.0 59.2h0M660.8 124.6h0M663.6 128.8h0M657.0 132.5h0M655.6 125.3h0M646.6 136.4h0M650.8 121.3h0M656.9 103.1h0M651.2 129.7h0M677.8 118.3h0M655.3 124.5h0M647.4 135.8h0M652.4 134.3h0M658.6 113.1h0M646.0 137.2h0M669.7 114.3h0M673.3 115.6h0M650.3 125.8h0M651.9 137.0h0M659.3 113.7h0M654.0 115.8h0M665.9 108.1h0M653.5 134.5h0M664.3 129.7h0M672.7 100.5h0M662.1 103.6h0M667.6 125.9h0M659.3 125.8h0M672.2 137.2h0M670.6 130.4h0M650.9 133.6h0M678.3 124.4h0M653.8 117.9h0M644.6 129.0h0M680.9 82.5h0M646.3 132.1h0M667.4 109.5h0M648.9 119.8h0M657.5 134.5h0M647.7 134.4h0M647.9 136.5h0M655.2 123.1h0M652.1 123.8h0M650.7 131.5h0M653.4 117.4h0M647.0 131.0h0M647.8 137.4h0M655.0 124.4h0M655.2 123.9h0M649.2 138.0h0M654.5 112.6h0M673.9 120.1h0M665.2 134.6h0M665.4 99.7h0M664.8 134.6h0M646.3 128.6h0M667.4 103.7h0M661.2 102.7h0M665.9 96.4h0M649.2 137.5h0M648.0 136.8h0M650.1 131.0h0M658.1 111.4h0M648.3 133.1h0M667.8 85.9h0M665.7 122.5h0M652.3 121.1h0M671.0 116.5h0M645.5 139.2h0M661.9 99.9h0M649.9 130.5h0M673.0 104.1h0M660.8 110.0h0M671.8 116.2h0M652.4 132.9h0M676.0 98.9h0M673.2 83.4h0M657.5 126.7h0M660.7 112.7h0M662.9 124.7h0M645.4 127.5h0M653.3 126.3h0M664.6 110.3h0M648.6 118.9h0M671.8 94.6h0M651.6 111.2h0M654.3 135.6h0M652.9 118.9h0M660.0 132.5h0M651.3 136.4h0M665.9 115.2h0M681.7 94.4h0M654.4 134.0h0M662.8 134.8h0M652.0 131.5h0M651.4 119.8h0M651.8 130.9h0M647.2 129.9h0M661.7 132.3h0M681.4 123.2h0M673.5 83.6h0M668.6 102.3h0M672.5 101.5h0M658.4 115.8h0M679.9 59.1h0M668.1 98.5h0M650.5 135.6h0M648.3 130.7h0M663.1 113.8h0M649.4 116.4h0M651.1 133.7h0M667.1 126.0h0M661.5 109.3h0M661.8 129.1h0M652.1 136.8h0M647.2 128.3h0M672.6 139.2h0M671.9 85.0h0M669.8 96.3h0M649.8 130.3h0M653.9 137.0h0M657.0 134.4h0M651.8 139.1h0M651.5 125.7h0M650.2 130.4h0M663.2 109.7h0M650.0 120.6h0M659.6 107.8h0M682.4 92.2h0M650.1 134.7h0M654.2 121.5h0M647.8 138.5h0M668.7 98.0h0M645.9 136.7h0M645.2 136.6h0M655.0 139.2h0M651.0 125.6h0M662.0 119.4h0M665.0 129.2h0M673.2 131.7h0M663.4 118.7h0M674.5 88.2h0M652.3 134.7h0M671.7 111.0h0M656.1 116.4h0M650.5 120.7h0M658.0 125.3h0M665.2 97.5h0M647.9 135.9h0M647.9 129.8h0M647.4 128.3h0M650.3 126.9h0M647.0 139.3h0M646.8 134.3h0M659.8 131.4h0M668.9 112.7h0M658.6 120.9h0M644.3 123.0h0M644.3 127.7h0M644.2 127.2h0M644.2 126.1h0M644.4 138.0h0M644.3 132.5h0M644.7 137.0h0M644.4 127.6h0M644.3 115.1h0M644.3 132.3h0M644.3 110.1h0M644.3 130.8h0M644.5 116.2h0M644.4 132.3h0M644.3 115.7h0M644.4 129.3h0M644.4 112.6h0M644.3 137.4h0M644.3 134.5h0M644.4 126.0h0M644.4 132.7h0M644.5 109.5h0M644.3 123.5h0M644.2 125.0h0M644.2 126.7h0M644.5 123.1h0M644.2 132.3h0M644.2 120.5h0M644.2 129.2h0M644.5 120.9h0M644.2 114.8h0M644.4 124.3h0M644.7 114.9h0M644.4 129.1h0M644.5 129.8h0M644.5 111.9h0M644.3 120.1h0M644.2 127.3h0M644.4 129.2h0M644.3 125.4h0M644.2 111.4h0M644.5 108.8h0M644.4 127.4h0M644.3 135.3h0M644.2 116.7h0M644.4 109.1h0M644.3 121.8h0M644.3 130.9h0M644.4 115.1h0M644.2 121.7h0M644.3 111.8h0M644.4 122.3h0M644.3 115.9h0M644.6 135.8h0M644.5 113.6h0M644.4 113.0h0M644.3 123.9h0M644.2 108.4h0M644.4 117.5h0M644.6 115.5h0M644.3 110.5h0M644.5 108.4h0M644.2 116.3h0M644.5 127.2h0M644.3 114.7h0M644.7 124.5h0M644.3 130.7h0M644.7 135.1h0M644.3 108.7h0M644.5 114.9h0M644.6 131.9h0M644.3 114.8h0M644.4 117.8h0M644.2 120.0h0M644.5 115.7h0M644.7 128.8h0M644.6 129.0h0M644.5 125.5h0M644.3 109.7h0M644.2 119.6h0M644.2 133.9h0M644.2 113.6h0M644.5 127.8h0M644.4 130.6h0M644.4 130.7h0M644.5 120.6h0M644.4 123.0h0M644.4 111.4h0M644.4 115.9h0M644.5 127.9h0M645.9 139.6h0M650.1 139.7h0M646.7 139.5h0M649.2 139.5h0M654.7 139.4h0M664.4 139.7h0M659.1 139.8h0M652.3 139.8h0M653.1 139.8h0M665.5 139.8h0M665.0 139.5h0M657.8 139.7h0M645.8 139.7h0M650.2 139.7h0M645.5 139.7h0M666.9 139.8h0M653.3 139.7h0M657.0 139.7h0M658.1 139.6h0M655.4 139.7h0M664.6 139.6h0M655.2 139.7h0M666.4 139.7h0M651.3 139.6h0M663.1 139.8h0M661.5 139.6h0M662.8 139.8h0M654.8 139.5h0M658.0 139.4h0M660.1 139.6h0M665.4 139.5h0M665.9 139.7h0M653.8 139.5h0M659.9 139.8h0M658.4 139.7h0M657.0 139.7h0M654.4 139.7h0M655.6 139.8h0M661.4 139.7h0M649.6 139.6h0M654.6 139.7h0M649.1 139.6h0M650.3 139.7h0M661.7 139.3h0M666.4 139.6h0M664.7 139.7h0M660.7 139.4h0M664.2 139.4h0M656.9 139.7h0M666.6 139.6h0M662.5 139.6h0M661.7 139.7h0M648.1 139.8h0M645.8 139.5h0M663.5 139.5h0M647.3 139.6h0M667.0 139.7h0M651.6 139.5h0M665.5 139.7h0M652.9 139.7h0M667.0 139.5h0M651.9 139.7h0M655.2 139.6h0M662.5 139.8h0M652.3 139.5h0M646.7 139.8h0M661.8 139.6h0M648.0 139.1h0M662.6 139.5h0M665.8 139.5h0M664.3 139.4h0M654.9 139.5h0M658.5 139.6h0M666.7 139.7h0M667.2 139.6h0M654.2 139.6h0M667.3 139.6h0M653.9 139.5h0M666.5 139.7h0M651.0 139.6h0M650.4 131.5h0M651.7 119.4h0M644.6 138.8h0M648.6 135.4h0M645.4 131.4h0M645.9 133.8h0M648.9 136.3h0M648.4 135.1h0M645.8 114.6h0M644.5 131.2h0M652.7 123.4h0M647.2 135.8h0M649.4 131.0h0M647.0 132.5h0M645.3 136.4h0M658.0 130.3h0M650.5 134.9h0M649.0 125.9h0M646.5 125.8h0M646.0 138.3h0M646.7 121.5h0M644.9 131.1h0M652.9 123.1h0M644.2 139.7h0M646.3 127.0h0M648.8 130.8h0M644.4 137.9h0M646.4 127.2h0M644.8 124.4h0M648.7 122.3h0M648.1 124.1h0M645.1 126.4h0M648.4 126.8h0M646.5 123.9h0M648.5 133.8h0M645.7 136.5h0M647.3 129.3h0M644.9 130.5h0M645.0 124.5h0M645.3 134.7h0M647.5 134.1h0M650.5 125.4h0M645.7 134.6h0M647.7 118.2h0M644.8 137.8h0M645.0 132.8h0M647.1 129.1h0M645.2 130.4h0M648.3 129.9h0M653.8 129.7h0M644.5 136.5h0M647.2 122.5h0M645.4 127.4h0M644.2 137.9h0M646.8 138.8h0M645.4 129.5h0M645.3 134.9h0M647.1 126.6h0M646.8 137.1h0M645.6 137.0h0M644.5 136.8h0M648.9 135.3h0M647.6 131.4h0M654.6 125.8h0M644.2 137.8h0M648.5 132.6h0M645.7 124.6h0M646.1 125.3h0M647.7 126.4h0M644.4 136.8h0M650.6 132.7h0M648.9 127.0h0M654.9 127.9h0M646.1 119.4h0M645.0 129.7h0M645.1 128.4h0M645.4 136.1h0M645.0 138.6h0M649.4 138.9h0M646.4 127.6h0M644.7 131.9h0M647.6 131.1h0M645.4 128.9h0M650.4 127.1h0M645.6 129.5h0M650.4 131.9h0M645.9 139.3h0M648.4 137.5h0M648.6 134.9h0M653.1 131.7h0M650.6 131.9h0M644.8 117.1h0M644.7 135.0h0M647.4 127.8h0M644.2 137.6h0M646.5 125.5h0M645.2 139.7h0M647.9 126.8h0M648.7 121.4h0M644.2 81.7h0M644.2 90.1h0M644.2 91.4h0M644.2 97.4h0M644.2 99.8h0M644.2 102.3h0M644.2 104.7h0M734.3 23.5h0M740.1 24.8h0M740.1 28.4h0M746.0 34.4h0M747.2 35.7h0M740.1 35.7h0M749.5 38.1h0M756.5 42.9h0M709.7 40.5h0M728.4 47.8h0M699.2 52.6h0M706.2 53.8h0M706.2 58.7h0M692.2 67.1h0M698.0 68.4h0M699.2 74.4h0M717.9 64.7h0M719.1 74.4h0M721.4 69.6h0M708.6 79.3h0M724.9 85.3h0M708.6 87.7h0M710.9 93.8h0M709.7 101.0h0M692.2 67.1h0M682.8 75.6h0M684.0 73.2h0M685.2 74.4h0M686.3 81.7h0M680.5 79.3h0M677.0 80.5h0M654.7 84.1h0M653.6 85.3h0M650.1 88.9h0M691.0 82.9h0M688.7 119.2h0M691.0 120.4h0M682.8 86.5h0" stroke="#808080" stroke-width="1.95" stroke-linecap="round" fill="none"/>
<line x1="644.2" y1="135.4" x2="755.6" y2="30.3" stroke="#222" stroke-width="0.7"/>
<rect x="639" y="17.3" width="121.5" height="128.0" fill="none" stroke="#9a9a9a" stroke-width="0.9"/>
<text x="644.2" y="151.9" font-family="'DejaVu Sans', sans-serif" font-size="5.4" fill="#111" text-anchor="middle">0.0</text>
<text x="667.6" y="151.9" font-family="'DejaVu Sans', sans-serif" font-size="5.4" fill="#111" text-anchor="middle">0.2</text>
<text x="691.0" y="151.9" font-family="'DejaVu Sans', sans-serif" font-size="5.4" fill="#111" text-anchor="middle">0.4</text>
<text x="714.4" y="151.9" font-family="'DejaVu Sans', sans-serif" font-size="5.4" fill="#111" text-anchor="middle">0.6</text>
<text x="737.8" y="151.9" font-family="'DejaVu Sans', sans-serif" font-size="5.4" fill="#111" text-anchor="middle">0.8</text>
<text x="761.2" y="151.9" font-family="'DejaVu Sans', sans-serif" font-size="5.4" fill="#111" text-anchor="middle">1.0</text>
<text x="637.4" y="142.1" font-family="'DejaVu Sans', sans-serif" font-size="5.4" fill="#111" text-anchor="end">0.0</text>
<text x="637.4" y="117.9" font-family="'DejaVu Sans', sans-serif" font-size="5.4" fill="#111" text-anchor="end">0.2</text>
<text x="637.4" y="93.7" font-family="'DejaVu Sans', sans-serif" font-size="5.4" fill="#111" text-anchor="end">0.4</text>
<text x="637.4" y="69.4" font-family="'DejaVu Sans', sans-serif" font-size="5.4" fill="#111" text-anchor="end">0.6</text>
<text x="637.4" y="45.2" font-family="'DejaVu Sans', sans-serif" font-size="5.4" fill="#111" text-anchor="end">0.8</text>
<text x="637.4" y="21.0" font-family="'DejaVu Sans', sans-serif" font-size="5.4" fill="#111" text-anchor="end">1.0</text>
<path d="M644.2 145.3v1.8M667.6 145.3v1.8M691.0 145.3v1.8M714.4 145.3v1.8M737.8 145.3v1.8M761.2 145.3v1.8M639.0 139.8h-1.8M639.0 115.6h-1.8M639.0 91.4h-1.8M639.0 67.1h-1.8M639.0 42.9h-1.8M639.0 18.7h-1.8" stroke="#888" stroke-width="0.6"/>
<text x="652.0" y="40.0" font-family="'DejaVu Sans', sans-serif" font-size="12.55" fill="#000">r = 0.818</text>
<text x="699.8" y="14.7" font-family="'DejaVu Sans', sans-serif" font-size="12.4" fill="#1a1a1a" text-anchor="middle">delta</text>
<path d="M78.0 267.7h0M67.7 273.3h0M68.7 271.1h0M76.3 275.0h0M89.4 272.1h0M81.9 265.4h0M63.9 273.1h0M126.0 234.4h0M74.0 268.8h0M109.5 250.9h0M113.7 247.4h0M72.8 272.7h0M81.4 270.1h0M99.2 256.2h0M68.8 268.6h0M64.9 274.7h0M103.4 247.9h0M78.5 265.9h0M104.2 261.1h0M67.8 271.5h0M70.8 272.5h0M87.4 264.6h0M68.1 273.0h0M122.4 241.5h0M64.3 273.6h0M83.1 271.3h0M129.4 221.9h0M79.2 268.9h0M80.8 266.1h0M77.2 269.0h0M74.3 270.2h0M113.3 252.1h0M76.7 270.9h0M92.1 267.6h0M121.0 252.1h0M67.4 271.0h0M67.3 273.9h0M83.3 264.1h0M89.7 265.5h0M103.3 260.2h0M73.5 271.1h0M76.4 266.1h0M68.0 274.0h0M108.8 251.2h0M66.0 274.6h0M81.5 263.1h0M97.1 264.4h0M97.7 263.4h0M76.8 270.4h0M125.8 240.9h0M70.9 272.9h0M113.1 255.2h0M123.1 244.1h0M111.4 246.0h0M111.9 240.7h0M81.4 267.3h0M68.6 269.2h0M85.4 267.4h0M91.0 264.8h0M117.9 251.1h0M64.3 273.2h0M73.7 271.7h0M72.6 271.8h0M129.7 238.1h0M92.1 258.0h0M114.3 246.7h0M94.1 261.0h0M73.9 266.1h0M112.5 254.2h0M92.9 261.0h0M79.9 269.4h0M89.6 262.1h0M91.9 256.7h0M112.8 254.0h0M70.0 273.8h0M77.2 271.3h0M84.9 265.3h0M85.5 273.7h0M106.1 253.1h0M80.3 274.7h0M106.2 255.8h0M83.2 261.7h0M87.2 260.4h0M70.9 269.4h0M94.7 255.6h0M76.5 274.0h0M69.5 273.0h0M91.8 263.8h0M94.6 261.3h0M92.8 252.9h0M72.1 272.1h0M69.0 270.3h0M109.1 246.0h0M92.7 262.3h0M80.1 265.2h0M106.8 250.4h0M94.7 266.2h0M82.9 263.8h0M82.7 269.9h0M62.5 272.6h0M89.9 254.0h0M72.3 270.7h0M67.3 274.7h0M126.3 242.9h0M75.1 271.7h0M88.9 262.5h0M79.7 266.8h0M63.9 273.1h0M107.9 257.9h0M76.2 269.6h0M128.4 242.2h0M79.0 268.4h0M77.6 267.8h0M99.6 253.5h0M67.9 271.0h0M72.2 272.8h0M111.8 250.2h0M106.6 250.4h0M125.7 221.1h0M78.2 269.7h0M67.3 272.7h0M85.5 259.9h0M72.7 273.2h0M106.1 264.3h0M81.3 270.1h0M93.1 259.7h0M105.3 254.4h0M120.9 243.1h0M109.1 254.5h0M77.5 265.1h0M66.2 271.9h0M83.2 269.4h0M82.6 264.7h0M93.6 273.2h0M69.7 271.2h0M75.0 273.5h0M74.2 267.5h0M74.5 270.8h0M99.4 261.0h0M79.3 269.3h0M69.3 274.9h0M76.1 273.8h0M86.0 262.1h0M113.2 256.2h0M107.9 250.3h0M83.8 269.6h0M100.7 254.5h0M103.5 268.7h0M74.8 270.0h0M106.4 252.0h0M78.0 272.6h0M111.3 259.0h0M82.0 268.8h0M98.9 258.2h0M79.3 268.8h0M88.2 259.1h0M103.4 252.4h0M105.7 256.3h0M69.3 274.9h0M105.0 255.4h0M68.2 267.9h0M77.6 265.4h0M121.4 247.0h0M113.5 259.7h0M102.3 256.3h0M114.9 258.9h0M75.6 270.7h0M73.0 274.1h0M70.8 272.2h0M78.7 268.9h0M73.3 269.0h0M66.3 272.7h0M70.3 272.8h0M108.6 256.1h0M71.2 271.2h0M78.9 268.6h0M73.5 274.7h0M69.3 270.1h0M63.4 273.8h0M128.4 244.8h0M100.0 260.5h0M100.0 261.8h0M114.0 245.3h0M108.1 265.6h0M79.8 273.5h0M69.0 273.7h0M78.3 268.1h0M75.0 271.0h0M67.0 274.6h0M116.3 253.4h0M81.3 263.0h0M102.0 252.6h0M105.0 242.6h0M67.7 273.3h0M110.0 244.7h0M111.0 241.3h0M83.4 266.5h0M73.8 270.8h0M89.8 263.3h0M87.9 259.3h0M69.9 273.2h0M66.2 272.9h0M80.8 271.3h0M83.6 266.6h0M108.2 251.0h0M76.5 271.7h0M84.1 266.9h0M62.8 274.2h0M74.0 272.9h0M75.2 272.1h0M85.2 266.0h0M125.2 239.8h0M76.3 268.8h0M71.8 272.5h0M97.1 254.5h0M99.5 249.7h0M77.8 270.4h0M63.3 274.5h0M82.4 262.2h0M101.7 254.1h0M105.2 240.2h0M82.6 263.4h0M102.6 253.1h0M81.7 270.9h0M70.2 270.9h0M94.6 258.5h0M67.0 268.4h0M104.3 249.6h0M103.9 251.5h0M68.9 272.5h0M63.0 272.9h0M80.7 265.1h0M91.1 264.8h0M95.1 262.6h0M79.1 273.3h0M123.2 246.5h0M113.2 241.2h0M92.1 263.6h0M69.1 274.3h0M90.5 262.2h0M69.2 273.4h0M63.3 272.9h0M94.8 262.5h0M66.8 271.6h0M100.0 263.2h0M90.4 252.0h0M87.0 260.0h0M104.9 250.8h0M63.1 272.4h0M70.6 272.0h0M80.2 266.2h0M81.3 266.7h0M120.0 236.5h0M122.0 242.3h0M66.1 271.3h0M92.4 261.6h0M66.9 274.4h0M110.9 259.3h0M97.1 255.4h0M78.8 271.5h0M84.0 264.8h0M70.5 274.2h0M78.4 273.0h0M102.3 251.6h0M65.0 273.8h0M99.5 255.9h0M91.3 259.9h0M72.3 272.9h0M62.2 273.8h0M106.2 251.3h0M87.2 266.6h0M77.6 271.2h0M91.7 267.4h0M81.2 265.8h0M81.8 267.0h0M68.7 272.7h0M68.6 269.5h0M95.4 262.8h0M74.2 268.6h0M108.5 250.2h0M118.0 249.3h0M96.1 255.4h0M131.1 237.3h0M80.5 264.3h0M105.6 243.8h0M95.1 262.3h0M98.2 256.7h0M79.1 265.2h0M84.8 262.5h0M90.0 264.8h0M83.1 271.2h0M70.5 269.5h0M80.3 272.5h0M93.0 261.0h0M120.1 232.9h0M89.7 259.6h0M114.9 254.8h0M70.4 274.0h0M97.2 270.1h0M78.5 260.8h0M83.5 274.6h0M110.8 242.1h0M75.8 272.7h0M93.6 259.4h0M95.4 251.2h0M93.4 268.4h0M125.1 253.0h0M118.3 243.3h0M64.9 273.6h0M59.6 274.6h0M77.6 271.5h0M88.1 261.0h0M100.1 262.5h0M86.4 267.9h0M71.2 271.6h0M74.2 273.7h0M73.7 274.1h0M84.0 268.7h0M111.6 256.9h0M62.0 272.0h0M75.8 269.9h0M67.3 272.6h0M79.9 263.8h0M107.5 254.6h0M67.0 274.1h0M88.5 259.5h0M72.2 273.4h0M101.7 255.4h0M60.0 274.1h0M89.8 266.7h0M88.5 269.4h0M114.6 244.8h0M103.1 255.8h0M101.7 260.9h0M101.0 254.6h0M100.8 257.4h0M102.0 254.0h0M95.1 259.8h0M86.2 266.6h0M83.2 267.4h0M130.2 230.9h0M71.2 271.1h0M71.5 273.4h0M74.8 271.1h0M70.6 271.3h0M71.4 270.0h0M88.2 265.4h0M104.5 253.0h0M100.0 259.4h0M72.1 272.4h0M96.1 262.0h0M81.5 265.1h0M84.3 262.6h0M113.0 258.5h0M96.7 267.3h0M96.4 252.4h0M65.6 274.3h0M103.8 259.1h0M73.7 267.0h0M81.4 268.2h0M70.5 268.4h0M125.4 254.8h0M71.8 272.6h0M125.1 233.6h0M82.0 265.2h0M76.9 271.1h0M97.4 258.4h0M90.8 266.9h0M121.9 240.4h0M83.9 265.5h0M89.3 262.2h0M84.7 260.6h0M99.7 264.0h0M101.7 257.3h0M97.0 253.3h0M71.8 272.0h0M82.5 269.1h0M108.3 257.1h0M116.1 240.3h0M119.2 231.9h0M72.8 271.8h0M89.7 269.8h0M73.5 274.1h0M85.7 271.3h0M116.2 245.4h0M87.4 263.8h0M92.6 261.4h0M74.6 269.9h0M97.5 262.3h0M64.2 273.4h0M89.6 265.3h0M80.4 268.2h0M101.5 260.8h0M96.3 261.8h0M93.3 259.6h0M76.5 271.1h0M89.9 254.8h0M70.3 271.1h0M73.9 270.6h0M110.1 240.1h0M88.2 262.9h0M78.8 268.7h0M78.9 270.2h0M75.7 271.2h0M79.4 269.0h0M74.9 272.5h0M79.4 272.5h0M74.1 270.4h0M125.0 233.0h0M73.5 270.5h0M90.1 269.7h0M105.4 253.0h0M83.0 262.4h0M88.8 261.6h0M87.0 260.0h0M72.9 273.0h0M63.4 275.0h0M109.8 245.7h0M74.9 272.1h0M93.5 258.7h0M93.5 253.6h0M93.4 261.4h0M65.5 273.9h0M70.8 272.7h0M102.2 252.8h0M111.2 247.6h0M80.2 266.6h0M82.6 265.0h0M68.5 272.4h0M124.0 246.0h0M95.2 262.3h0M75.9 267.2h0M72.8 271.6h0M69.3 274.3h0M64.4 273.7h0M70.9 272.2h0M107.8 255.1h0M75.6 266.4h0M81.5 269.6h0M62.3 274.3h0M92.2 268.2h0M117.0 243.0h0M94.2 259.7h0M115.9 245.1h0M89.7 262.7h0M89.0 263.9h0M99.1 259.1h0M66.3 272.6h0M97.6 259.4h0M101.5 254.5h0M105.3 259.7h0M126.0 242.3h0M112.9 257.4h0M80.7 268.1h0M76.2 269.0h0M121.3 248.7h0M80.6 267.7h0M73.7 273.0h0M106.4 264.4h0M96.6 259.3h0M63.9 273.7h0M84.3 264.6h0M78.9 269.8h0M92.9 259.4h0M91.0 260.6h0M109.1 258.6h0M76.9 264.7h0M91.5 261.5h0M107.7 254.5h0M103.2 260.5h0M93.0 266.9h0M106.8 255.7h0M70.4 273.3h0M130.9 243.5h0M85.6 267.9h0M71.0 272.4h0M86.6 264.0h0M81.8 272.0h0M106.8 248.2h0M75.4 271.0h0M106.0 244.2h0M66.0 271.7h0M102.4 255.3h0M96.5 258.8h0M83.1 268.8h0M109.7 253.8h0M64.7 273.7h0M104.2 254.7h0M70.3 269.4h0M68.2 273.6h0M86.2 269.4h0M73.7 268.3h0M82.1 265.6h0M83.2 268.4h0M119.8 228.5h0M97.2 263.6h0M79.4 265.7h0M82.6 269.0h0M70.0 273.1h0M73.1 272.4h0M90.4 254.4h0M66.2 273.6h0M79.2 269.8h0M105.8 259.0h0M90.5 261.4h0M93.6 256.8h0M72.0 272.8h0M70.4 269.7h0M94.2 265.8h0M86.5 265.7h0M79.7 261.7h0M96.9 247.5h0M96.7 259.7h0M101.4 253.7h0M109.1 252.6h0M89.4 254.6h0M66.7 273.5h0M101.6 267.8h0M100.0 247.2h0M92.2 254.4h0M78.8 272.2h0M75.7 267.2h0M69.0 274.0h0M76.9 274.2h0M76.9 267.7h0M117.6 246.1h0M66.4 272.7h0M86.6 265.0h0M73.4 275.1h0M65.0 275.1h0M98.4 253.6h0M125.5 241.3h0M116.1 240.6h0M115.2 246.5h0M86.9 269.2h0M67.4 274.2h0M66.6 273.0h0M88.3 267.5h0M69.3 273.7h0M93.0 258.2h0M120.5 238.3h0M64.5 274.1h0M86.6 258.4h0M89.0 257.4h0M63.0 272.8h0M82.7 269.8h0M86.8 264.5h0M100.2 246.2h0M76.0 266.1h0M82.8 265.9h0M101.3 257.9h0M104.6 253.3h0M71.2 272.5h0M68.2 270.4h0M76.6 268.7h0M84.0 266.4h0M85.4 264.4h0M84.7 265.5h0M69.1 274.2h0M83.6 266.3h0M94.8 267.6h0M74.4 274.4h0M112.6 251.5h0M100.0 252.6h0M83.0 265.5h0M109.0 247.3h0M100.9 263.0h0M100.1 265.4h0M101.5 255.6h0M109.2 247.8h0M76.1 266.2h0M89.2 266.8h0M100.1 264.2h0M78.6 268.7h0M114.4 231.8h0M92.3 265.1h0M82.6 265.6h0M96.5 254.3h0M64.1 274.0h0M110.7 249.4h0M84.2 266.9h0M101.8 259.8h0M122.6 245.2h0M98.6 259.7h0M83.0 266.2h0M95.1 259.6h0M80.5 267.9h0M81.8 268.5h0M71.4 269.6h0M112.0 234.6h0M81.0 266.0h0M108.2 251.9h0M101.3 255.2h0M103.7 257.2h0M65.4 273.4h0M84.9 267.6h0M65.2 275.0h0M110.0 249.6h0M94.2 262.9h0M63.3 274.9h0M98.0 259.5h0M78.9 268.6h0M120.0 257.9h0M76.3 266.2h0M71.7 271.2h0M109.7 247.3h0M90.5 261.7h0M87.0 264.2h0M79.6 270.3h0M75.5 268.4h0M66.8 274.3h0M96.8 259.3h0M78.1 266.7h0M79.8 269.2h0M110.4 252.4h0M81.3 265.9h0M68.2 273.4h0M64.0 273.0h0M127.9 228.6h0M90.1 265.6h0M64.1 272.1h0M74.9 265.8h0M89.2 257.4h0M78.0 271.4h0M73.3 271.8h0M89.8 254.8h0M73.9 268.8h0M105.8 246.4h0M82.0 265.9h0M112.2 250.5h0M126.5 211.5h0M129.5 211.4h0M118.8 217.6h0M115.4 227.9h0M129.1 216.8h0M114.3 228.2h0M105.2 251.6h0M117.2 216.7h0M112.9 238.1h0M122.3 228.4h0M124.9 220.8h0M120.2 231.8h0M128.2 213.7h0M110.1 229.7h0M105.6 262.3h0M112.9 235.8h0M127.3 214.5h0M131.6 210.7h0M107.5 240.1h0M131.9 213.2h0M131.1 205.1h0M133.1 210.1h0M122.2 232.1h0M125.1 222.0h0M121.6 230.1h0M106.0 257.9h0M110.0 240.0h0M116.3 226.2h0M118.4 226.5h0M108.4 231.9h0M112.2 242.1h0M110.3 242.2h0M126.5 210.5h0M109.6 254.5h0M150.1 187.9h0M145.6 204.4h0M142.9 203.4h0M152.1 196.0h0M129.5 206.9h0M157.7 189.3h0M139.4 227.9h0M126.7 212.2h0M150.8 193.6h0M167.4 184.1h0M134.3 215.3h0M142.7 205.7h0M138.3 212.2h0M143.9 208.3h0M146.1 191.9h0M162.4 188.6h0M146.3 201.4h0M128.4 220.5h0M161.0 187.5h0M157.9 171.8h0M125.8 231.1h0M151.8 183.7h0M133.7 215.6h0M138.1 200.5h0M166.5 181.7h0M151.9 194.0h0M148.1 183.6h0M142.5 197.9h0M163.9 190.0h0M163.9 188.9h0M167.7 162.1h0M171.3 166.9h0M168.9 164.5h0M166.4 169.3h0M155.5 174.1h0M159.1 178.9h0M160.4 178.9h0M145.8 180.1h0M147.0 182.5h0M143.3 188.6h0M155.5 187.4h0M156.7 192.2h0M140.9 197.0h0M145.8 201.8h0M170.1 166.9h0" stroke="#000080" stroke-width="2.25" stroke-linecap="round" fill="none"/>
<line x1="58.3" y1="278.3" x2="170.0" y2="195.3" stroke="#222" stroke-width="0.7"/>
<rect x="52.6" y="156.2" width="123.2" height="128.1" fill="none" stroke="#9a9a9a" stroke-width="0.9"/>
<text x="58.3" y="290.9" font-family="'DejaVu Sans', sans-serif" font-size="5.4" fill="#111" text-anchor="middle">0.0</text>
<text x="82.6" y="290.9" font-family="'DejaVu Sans', sans-serif" font-size="5.4" fill="#111" text-anchor="middle">0.2</text>
<text x="106.9" y="290.9" font-family="'DejaVu Sans', sans-serif" font-size="5.4" fill="#111" text-anchor="middle">0.4</text>
<text x="131.2" y="290.9" font-family="'DejaVu Sans', sans-serif" font-size="5.4" fill="#111" text-anchor="middle">0.6</text>
<text x="155.5" y="290.9" font-family="'DejaVu Sans', sans-serif" font-size="5.4" fill="#111" text-anchor="middle">0.8</text>
<text x="51.0" y="277.4" font-family="'DejaVu Sans', sans-serif" font-size="5.4" fill="#111" text-anchor="end">0.0</text>
<text x="51.0" y="253.4" font-family="'DejaVu Sans', sans-serif" font-size="5.4" fill="#111" text-anchor="end">0.2</text>
<text x="51.0" y="229.3" font-family="'DejaVu Sans', sans-serif" font-size="5.4" fill="#111" text-anchor="end">0.4</text>
<text x="51.0" y="205.3" font-family="'DejaVu Sans', sans-serif" font-size="5.4" fill="#111" text-anchor="end">0.6</text>
<text x="51.0" y="181.2" font-family="'DejaVu Sans', sans-serif" font-size="5.4" fill="#111" text-anchor="end">0.8</text>
<path d="M58.3 284.3v1.8M82.6 284.3v1.8M106.9 284.3v1.8M131.2 284.3v1.8M155.5 284.3v1.8M52.6 275.1h-1.8M52.6 251.1h-1.8M52.6 227.0h-1.8M52.6 203.0h-1.8M52.6 178.9h-1.8" stroke="#888" stroke-width="0.6"/>
<text x="65.6" y="178.9" font-family="'DejaVu Sans', sans-serif" font-size="12.55" fill="#000">r = 0.929</text>
<path d="M263.7 252.9h0M230.2 271.2h0M214.2 278.7h0M208.5 272.0h0M220.8 270.8h0M209.3 271.4h0M232.3 259.8h0M227.4 258.5h0M250.2 251.5h0M220.2 270.5h0M246.9 256.6h0M220.7 272.2h0M224.3 256.0h0M235.2 245.7h0M207.2 278.5h0M230.0 259.5h0M209.2 275.2h0M239.1 262.4h0M246.4 255.8h0M220.2 265.1h0M229.8 262.0h0M214.1 272.9h0M225.4 271.5h0M217.3 267.3h0M259.9 245.9h0M211.4 272.6h0M244.4 260.8h0M220.2 272.5h0M230.5 259.7h0M217.3 273.2h0M233.1 257.4h0M215.6 273.7h0M258.8 253.0h0M225.9 278.6h0M214.9 272.6h0M206.0 278.0h0M213.2 271.2h0M219.1 271.0h0M251.6 255.4h0M218.4 268.9h0M222.0 264.3h0M210.7 266.1h0M219.6 260.7h0M213.7 267.9h0M223.7 260.4h0M232.3 273.3h0M211.6 264.3h0M211.1 269.0h0M213.8 267.6h0M219.5 267.7h0M211.1 277.5h0M215.1 265.2h0M215.1 272.8h0M243.5 245.1h0M210.1 277.6h0M228.7 264.5h0M222.0 270.7h0M223.6 260.5h0M212.4 268.5h0M225.0 264.9h0M222.5 271.0h0M213.8 264.9h0M229.0 274.9h0M212.3 271.1h0M255.1 258.0h0M210.8 271.5h0M207.4 278.5h0M218.4 276.1h0M208.3 275.8h0M213.3 266.0h0M214.6 273.7h0M227.7 269.8h0M212.6 277.7h0M231.9 266.0h0M208.4 274.5h0M218.5 257.9h0M211.9 276.0h0M217.9 278.2h0M209.3 273.2h0M207.0 271.6h0M206.7 276.1h0M216.6 278.8h0M249.8 240.1h0M234.1 271.2h0M226.0 262.6h0M214.8 278.4h0M256.4 249.5h0M215.1 264.4h0M222.2 274.2h0M231.2 267.8h0M207.0 277.3h0M211.4 275.0h0M212.4 277.7h0M225.3 269.2h0M231.3 268.1h0M250.7 252.2h0M212.0 273.8h0M232.8 247.2h0M208.1 277.4h0M222.7 265.5h0M234.0 252.6h0M234.2 242.4h0M206.7 276.1h0M215.3 269.8h0M237.0 256.8h0M227.0 255.8h0M273.3 244.9h0M209.0 275.4h0M226.4 278.7h0M217.4 267.5h0M236.7 251.5h0M227.2 265.9h0M217.2 267.9h0M236.4 276.5h0M263.4 237.2h0M215.9 268.4h0M240.4 253.9h0M212.1 275.8h0M222.9 268.0h0M229.0 261.9h0M224.0 265.1h0M220.3 264.3h0M228.9 266.5h0M222.3 269.3h0M218.9 269.8h0M205.6 276.8h0M209.6 276.3h0M229.6 264.4h0M215.4 268.5h0M207.8 276.5h0M216.7 260.7h0M218.3 264.2h0M223.1 271.4h0M227.6 269.2h0M211.5 275.8h0M207.5 278.1h0M257.7 249.5h0M222.2 266.3h0M217.4 277.3h0M217.8 272.7h0M211.6 276.4h0M227.1 263.9h0M208.3 273.1h0M246.5 251.6h0M240.5 250.3h0M239.5 264.8h0M211.0 277.8h0M210.7 268.8h0M232.6 261.5h0M215.2 269.0h0M207.9 268.4h0M214.0 275.2h0M209.2 277.7h0M206.1 274.8h0M253.5 233.8h0M221.0 258.0h0M206.7 276.1h0M207.4 276.3h0M218.8 269.6h0M205.8 270.9h0M221.6 262.0h0M235.7 257.1h0M211.7 272.5h0M221.7 270.3h0M230.0 278.1h0M229.0 263.6h0M215.8 263.5h0M249.1 240.2h0M208.5 273.0h0M213.3 268.0h0M213.2 272.8h0M210.6 270.2h0M206.1 277.7h0M212.4 275.7h0M210.8 277.1h0M212.2 275.2h0M213.5 276.9h0M218.0 271.4h0M225.7 263.0h0M212.8 267.3h0M219.9 275.9h0M214.6 270.8h0M212.8 276.5h0M244.5 255.4h0M225.5 257.9h0M219.7 269.1h0M235.0 258.6h0M227.7 256.9h0M222.5 274.5h0M247.4 244.4h0M223.9 274.2h0M216.6 275.6h0M220.2 274.7h0M209.5 274.4h0M239.3 253.0h0M212.6 269.8h0M217.4 260.8h0M213.3 276.6h0M247.5 254.1h0M224.0 267.5h0M251.6 252.4h0M212.6 278.5h0M210.2 271.9h0M229.2 265.8h0M217.0 269.5h0M221.6 269.4h0M231.9 267.4h0M218.4 270.6h0M210.9 277.5h0M293.6 233.1h0M230.1 257.1h0M226.7 271.2h0M229.3 259.7h0M212.2 272.2h0M217.4 273.8h0M223.5 273.9h0M213.1 277.7h0M236.2 261.0h0M227.3 260.7h0M227.6 260.3h0M208.7 273.6h0M222.5 266.8h0M222.7 267.9h0M221.9 257.0h0M223.5 267.4h0M220.5 271.3h0M232.5 264.3h0M223.4 264.0h0M238.9 263.2h0M208.3 278.4h0M232.5 267.2h0M218.2 275.0h0M245.2 251.5h0M222.2 262.5h0M214.3 276.0h0M235.4 251.1h0M237.2 269.5h0M209.1 277.8h0M215.4 266.4h0M216.4 274.4h0M210.3 276.5h0M234.8 264.4h0M214.1 268.4h0M251.3 253.2h0M213.3 272.5h0M207.2 272.8h0M219.4 264.0h0M240.6 260.2h0M221.3 261.3h0M206.9 274.9h0M222.6 268.2h0M237.2 262.7h0M227.0 260.8h0M243.7 263.8h0M242.1 251.4h0M248.0 241.2h0M214.0 277.6h0M214.1 278.9h0M237.5 255.4h0M219.1 264.3h0M216.5 272.8h0M213.3 265.3h0M225.5 264.5h0M230.5 260.9h0M220.0 274.9h0M218.2 268.5h0M253.5 246.1h0M211.6 268.8h0M258.1 235.9h0M211.0 271.3h0M207.5 278.7h0M243.5 253.8h0M222.1 274.9h0M206.9 278.8h0M220.4 261.6h0M220.5 276.5h0M227.8 256.5h0M216.1 274.5h0M221.4 267.3h0M231.0 262.0h0M210.7 270.0h0M211.0 278.2h0M235.9 268.9h0M227.7 268.4h0M211.7 277.3h0M252.6 252.2h0M209.8 277.6h0M216.4 278.7h0M225.7 262.1h0M212.7 264.0h0M211.9 275.5h0M209.5 276.0h0M214.3 268.1h0M206.4 273.2h0M206.9 275.3h0M217.9 271.6h0M235.5 244.0h0M209.3 272.6h0M217.4 268.4h0M230.3 273.8h0M220.9 257.5h0M213.3 265.0h0M235.4 262.7h0M250.0 273.4h0M213.6 264.8h0M239.0 263.4h0M262.9 252.6h0M226.9 261.3h0M212.6 262.2h0M222.3 278.3h0M250.9 250.1h0M235.8 261.7h0M241.6 244.0h0M272.3 228.8h0M225.2 265.7h0M216.5 267.5h0M240.7 249.1h0M224.8 267.9h0M242.9 266.1h0M229.6 273.2h0M258.1 261.6h0M223.0 272.6h0M236.2 249.7h0M233.4 276.1h0M277.6 235.0h0M228.0 275.7h0M250.7 248.4h0M234.8 275.0h0M219.9 275.3h0M250.0 268.9h0M256.4 240.2h0M247.1 239.7h0M255.1 239.1h0M232.3 277.5h0M240.1 265.4h0M231.7 261.1h0M246.3 260.3h0M262.7 252.1h0M224.1 265.0h0M259.7 230.8h0M245.5 264.9h0M223.3 274.9h0M217.4 261.7h0M241.4 246.0h0M244.7 263.4h0M251.1 262.1h0M227.7 247.7h0M213.7 267.4h0M242.1 242.3h0M239.3 251.7h0M244.5 260.7h0M258.0 246.8h0M221.9 276.7h0M237.4 260.9h0M231.0 247.4h0M262.5 262.1h0M226.8 267.7h0M225.6 246.4h0M260.9 272.5h0M234.0 273.8h0M232.7 253.4h0M213.2 251.5h0M236.1 261.0h0M234.2 253.8h0M242.8 258.0h0M221.6 274.2h0M247.0 245.7h0M228.8 267.6h0M236.6 251.6h0M237.8 252.8h0M238.4 257.0h0M247.0 250.6h0M261.9 252.8h0M214.6 272.4h0M252.4 261.3h0M231.7 270.6h0M229.2 250.1h0M254.6 255.0h0M241.3 268.3h0M258.8 244.0h0M230.9 255.9h0M259.2 254.9h0M233.4 256.6h0M242.0 242.6h0M223.5 266.9h0M234.6 264.4h0M256.5 239.5h0M264.9 252.9h0M209.4 271.3h0M260.2 252.5h0M262.9 240.1h0M235.2 273.7h0M235.9 240.7h0M249.5 260.4h0M272.3 252.9h0M240.0 246.1h0M225.8 265.2h0M231.6 267.0h0M233.4 258.5h0M265.4 257.3h0M206.3 277.4h0M239.1 268.5h0M224.6 270.0h0M260.4 238.6h0M226.9 262.9h0M217.9 262.0h0M248.1 275.9h0M218.3 270.5h0M220.5 272.1h0M215.6 275.5h0M256.9 241.8h0M238.4 250.7h0M280.1 232.4h0M231.9 263.4h0M235.3 261.1h0M217.2 278.8h0M228.7 260.9h0M229.2 275.9h0M247.7 255.1h0M220.3 263.3h0M252.9 241.5h0M251.1 266.6h0M238.3 259.8h0M244.5 242.0h0M229.9 260.7h0M228.9 262.0h0M218.0 265.3h0M223.0 252.6h0M232.6 244.9h0M259.8 223.4h0M240.2 246.5h0M228.6 251.2h0M239.6 269.0h0M243.1 259.2h0M222.4 251.5h0M216.3 259.9h0M226.0 259.8h0M235.4 278.6h0M258.0 242.6h0M233.2 257.1h0M249.7 265.0h0M235.0 249.3h0M218.2 265.5h0M220.5 254.2h0M224.9 273.6h0M263.2 259.5h0M238.2 250.2h0M222.8 276.8h0M238.4 272.7h0M206.0 265.2h0M205.6 269.5h0M206.0 270.4h0M205.7 272.9h0M206.0 263.5h0M205.8 267.8h0M205.5 269.6h0M206.0 276.1h0M205.5 268.0h0M205.8 267.2h0M205.6 263.2h0M205.9 274.8h0M205.6 273.9h0M205.8 265.0h0M205.7 269.4h0M205.6 273.7h0M205.7 271.1h0M205.7 272.7h0M205.9 272.1h0M206.5 274.6h0M205.6 269.3h0M206.1 271.3h0M205.8 272.2h0M205.8 266.4h0M205.9 270.0h0M206.1 271.1h0M205.6 271.0h0M205.6 268.3h0M205.6 278.0h0M205.8 270.5h0M206.2 267.1h0M205.5 268.4h0M205.7 276.0h0M206.1 270.0h0M205.7 273.4h0M205.6 277.6h0M205.5 271.3h0M206.2 263.7h0M206.3 265.2h0M205.7 275.0h0M206.4 278.7h0M206.0 265.0h0M205.9 266.8h0M205.6 275.6h0M205.8 277.4h0M206.0 276.7h0M205.6 266.6h0M206.0 269.1h0M205.9 270.5h0M206.1 275.3h0M205.8 263.4h0M206.0 271.5h0M205.6 271.3h0M205.6 270.3h0M205.6 274.1h0M206.3 266.3h0M206.3 275.5h0M206.4 270.3h0M206.0 268.6h0M205.6 264.5h0M206.1 270.5h0M205.6 277.9h0M206.0 276.0h0M205.5 269.7h0M205.6 267.8h0M205.8 275.9h0M205.9 269.4h0M206.1 271.8h0M205.6 267.1h0M206.9 268.2h0M214.2 278.4h0M217.1 278.8h0M214.6 278.8h0M221.2 278.7h0M208.9 278.9h0M217.6 278.9h0M209.4 278.5h0M215.0 278.7h0M207.6 278.8h0M210.0 278.9h0M206.0 278.9h0M211.3 278.5h0M213.8 278.7h0M216.4 278.7h0M214.6 278.6h0M214.9 278.6h0M217.9 278.7h0M218.4 278.7h0M205.7 278.4h0M209.7 278.8h0M211.7 278.9h0M217.6 278.6h0M214.8 278.9h0M207.6 278.7h0M209.4 278.9h0M215.5 278.8h0M213.2 278.5h0M213.9 278.6h0M213.4 278.9h0M205.6 278.5h0M207.3 272.5h0M210.3 268.5h0M205.8 274.4h0M215.3 272.4h0M206.1 270.3h0M208.4 274.3h0M212.0 272.4h0M206.9 271.0h0M217.6 274.5h0M208.3 270.7h0M207.3 273.9h0M217.1 269.4h0M223.6 265.4h0M211.2 277.5h0M216.3 276.2h0M215.2 275.4h0M210.3 272.0h0M208.5 275.2h0M210.1 273.9h0M205.7 270.5h0M206.6 277.0h0M207.3 278.1h0M209.2 270.2h0M206.5 273.3h0M213.1 265.6h0M207.5 271.0h0M210.3 274.4h0M206.9 274.3h0M212.7 267.0h0M206.8 272.3h0M206.2 277.9h0M207.2 274.5h0M206.3 278.4h0M209.1 271.6h0M207.2 278.2h0M209.0 270.4h0M213.7 272.6h0M216.3 278.9h0M219.9 272.7h0M208.1 272.1h0M210.2 277.3h0M208.9 274.2h0M208.2 274.3h0M206.4 274.7h0M210.5 276.9h0M211.2 268.7h0M210.0 275.7h0M210.1 270.7h0M205.6 273.7h0M207.9 272.8h0M209.5 269.4h0M215.8 271.4h0M206.7 270.8h0M205.6 277.6h0M207.2 272.4h0M214.1 277.5h0M206.5 276.8h0M209.2 278.2h0M210.5 276.7h0M205.9 274.5h0M208.7 275.4h0M206.3 275.6h0M210.1 276.4h0M216.7 275.7h0M205.5 272.8h0M212.1 277.1h0M206.9 273.7h0M207.6 274.9h0M205.9 275.3h0M213.7 271.8h0M205.7 275.7h0M205.7 269.8h0M228.0 267.3h0M209.5 271.5h0M208.3 273.3h0M208.4 274.5h0M205.7 269.0h0M210.3 271.9h0M205.5 272.1h0M206.6 271.4h0M214.6 278.3h0M205.8 273.3h0M209.3 276.9h0M215.3 276.9h0M208.0 269.9h0M207.2 278.2h0M207.0 275.6h0M213.2 275.7h0M206.4 274.7h0M211.8 276.7h0M206.6 274.2h0M210.4 272.9h0M209.1 272.3h0M214.3 272.9h0M214.4 272.7h0M206.2 275.0h0M212.4 275.2h0M212.3 273.8h0M216.4 273.1h0M205.6 273.8h0M214.9 267.0h0M207.5 272.4h0M216.2 272.0h0M207.3 277.1h0M219.1 271.1h0M207.5 272.6h0M209.8 271.5h0M208.5 276.6h0M208.0 277.4h0M210.1 269.1h0M209.1 270.4h0M208.2 269.7h0M221.7 267.7h0M210.3 277.3h0M208.1 271.2h0M206.5 274.9h0M207.6 273.5h0M207.1 275.5h0M210.9 264.0h0M316.2 162.3h0M307.0 172.0h0M290.9 176.8h0M293.2 179.3h0M316.2 179.3h0M283.9 192.6h0M295.5 193.8h0M288.6 203.6h0M297.8 203.6h0M297.8 248.5h0M244.7 203.6h0M247.0 210.9h0M249.3 210.9h0M253.9 214.5h0M256.3 218.1h0M260.9 213.3h0M267.8 207.2h0M272.4 204.8h0M270.1 209.6h0M258.6 219.4h0M265.5 226.7h0M277.0 218.1h0M279.3 215.7h0M249.3 221.8h0M267.8 230.3h0M274.7 226.7h0M279.3 229.1h0M272.4 255.8h0M265.5 258.2h0M267.8 254.6h0M270.1 244.9h0M258.6 238.8h0M256.3 235.2h0M253.9 229.1h0M226.3 236.4h0" stroke="#000080" stroke-width="2.25" stroke-linecap="round" fill="none"/>
<line x1="205.5" y1="278.9" x2="317.4" y2="188.7" stroke="#222" stroke-width="0.7"/>
<rect x="199.5" y="156.2" width="123.6" height="128.1" fill="none" stroke="#9a9a9a" stroke-width="0.9"/>
<text x="205.5" y="290.9" font-family="'DejaVu Sans', sans-serif" font-size="5.4" fill="#111" text-anchor="middle">0.0</text>
<text x="228.6" y="290.9" font-family="'DejaVu Sans', sans-serif" font-size="5.4" fill="#111" text-anchor="middle">0.1</text>
<text x="251.6" y="290.9" font-family="'DejaVu Sans', sans-serif" font-size="5.4" fill="#111" text-anchor="middle">0.2</text>
<text x="274.7" y="290.9" font-family="'DejaVu Sans', sans-serif" font-size="5.4" fill="#111" text-anchor="middle">0.3</text>
<text x="297.8" y="290.9" font-family="'DejaVu Sans', sans-serif" font-size="5.4" fill="#111" text-anchor="middle">0.4</text>
<text x="320.9" y="290.9" font-family="'DejaVu Sans', sans-serif" font-size="5.4" fill="#111" text-anchor="middle">0.5</text>
<text x="197.9" y="281.2" font-family="'DejaVu Sans', sans-serif" font-size="5.4" fill="#111" text-anchor="end">0.0</text>
<text x="197.9" y="256.9" font-family="'DejaVu Sans', sans-serif" font-size="5.4" fill="#111" text-anchor="end">0.2</text>
<text x="197.9" y="232.6" font-family="'DejaVu Sans', sans-serif" font-size="5.4" fill="#111" text-anchor="end">0.4</text>
<text x="197.9" y="208.3" font-family="'DejaVu Sans', sans-serif" font-size="5.4" fill="#111" text-anchor="end">0.6</text>
<text x="197.9" y="184.0" font-family="'DejaVu Sans', sans-serif" font-size="5.4" fill="#111" text-anchor="end">0.8</text>
<text x="197.9" y="159.7" font-family="'DejaVu Sans', sans-serif" font-size="5.4" fill="#111" text-anchor="end">1.0</text>
<path d="M205.5 284.3v1.8M228.6 284.3v1.8M251.6 284.3v1.8M274.7 284.3v1.8M297.8 284.3v1.8M320.9 284.3v1.8M199.5 278.9h-1.8M199.5 254.6h-1.8M199.5 230.3h-1.8M199.5 206.0h-1.8M199.5 181.7h-1.8M199.5 157.4h-1.8" stroke="#888" stroke-width="0.6"/>
<text x="212.5" y="178.9" font-family="'DejaVu Sans', sans-serif" font-size="12.55" fill="#000">r = 0.894</text>
<path d="M356.3 276.8h0M359.8 265.7h0M376.7 264.7h0M375.3 262.2h0M375.3 269.7h0M355.9 277.9h0M357.7 269.6h0M361.8 268.7h0M357.5 269.7h0M359.6 275.8h0M367.0 268.3h0M384.7 266.4h0M359.6 274.3h0M387.8 253.5h0M365.3 261.0h0M375.6 260.4h0M390.3 243.9h0M363.3 272.2h0M393.0 239.9h0M368.7 268.7h0M372.9 249.0h0M366.1 257.7h0M355.1 272.6h0M363.3 271.1h0M380.2 251.5h0M381.8 263.3h0M378.1 247.5h0M358.0 274.6h0M371.8 258.6h0M378.7 262.1h0M378.4 256.8h0M394.9 242.4h0M387.8 264.8h0M401.3 237.2h0M360.8 273.1h0M361.9 271.7h0M356.4 273.3h0M378.6 243.4h0M367.9 262.8h0M356.5 278.2h0M358.0 275.1h0M394.6 249.2h0M375.4 257.6h0M386.8 241.2h0M361.3 273.5h0M382.0 253.4h0M365.8 264.6h0M388.2 252.8h0M397.6 259.0h0M398.9 248.1h0M390.8 228.0h0M401.7 254.2h0M365.4 268.9h0M380.5 262.8h0M361.9 272.1h0M355.9 277.5h0M373.7 259.6h0M354.9 275.9h0M354.4 278.2h0M404.1 235.8h0M358.1 277.1h0M361.4 271.0h0M378.5 275.1h0M366.4 276.1h0M382.0 255.3h0M373.1 261.7h0M360.1 275.3h0M379.8 250.3h0M365.7 272.4h0M383.5 239.4h0M380.1 258.8h0M385.7 257.8h0M367.2 263.5h0M372.4 263.5h0M355.6 274.0h0M369.3 257.6h0M390.8 247.4h0M358.9 276.7h0M362.6 268.2h0M382.6 251.7h0M362.6 265.5h0M389.8 230.2h0M356.6 275.9h0M359.3 273.9h0M370.0 263.0h0M355.7 276.8h0M389.2 248.8h0M360.9 272.1h0M372.7 263.1h0M362.0 266.0h0M367.5 265.5h0M362.8 272.9h0M364.7 267.0h0M359.2 270.6h0M379.8 259.1h0M355.0 276.8h0M359.4 272.3h0M360.0 267.5h0M370.4 249.0h0M381.8 268.3h0M375.2 261.7h0M378.2 250.4h0M365.3 271.0h0M361.5 272.2h0M379.3 253.7h0M387.4 259.7h0M393.4 224.8h0M378.1 271.7h0M375.7 258.3h0M366.6 263.0h0M354.5 277.4h0M365.6 265.3h0M396.6 219.6h0M356.7 276.5h0M388.6 236.9h0M354.7 277.4h0M362.4 277.4h0M376.6 265.4h0M381.4 256.1h0M399.0 247.2h0M372.7 255.6h0M367.7 271.8h0M384.0 256.9h0M377.2 271.4h0M372.1 264.6h0M375.2 269.3h0M372.3 273.8h0M367.1 274.1h0M376.3 249.3h0M365.9 264.0h0M359.9 275.7h0M363.1 267.0h0M389.7 266.3h0M379.2 264.6h0M363.1 270.2h0M381.1 268.0h0M381.7 260.4h0M368.4 259.0h0M359.3 274.3h0M360.6 270.7h0M372.5 267.8h0M359.6 277.6h0M356.4 277.6h0M366.6 262.8h0M356.3 276.3h0M371.9 270.4h0M379.3 260.6h0M383.8 247.5h0M398.3 242.4h0M369.0 256.1h0M364.5 266.0h0M364.4 271.1h0M355.5 275.8h0M369.4 263.0h0M383.6 266.9h0M370.3 270.1h0M361.2 267.1h0M396.8 236.9h0M360.3 275.1h0M368.5 272.7h0M361.9 272.2h0M354.8 277.6h0M394.1 259.1h0M376.6 256.8h0M398.8 219.8h0M361.6 266.6h0M371.0 268.6h0M397.8 245.4h0M380.1 243.6h0M354.9 275.8h0M360.9 277.0h0M359.4 275.7h0M356.3 275.5h0M359.3 271.0h0M364.0 267.8h0M359.0 277.9h0M376.3 266.2h0M358.3 276.5h0M375.2 259.1h0M383.9 249.8h0M364.2 267.5h0M363.7 269.0h0M362.1 273.1h0M362.4 265.2h0M355.9 275.5h0M359.9 278.0h0M371.5 266.0h0M366.7 266.1h0M361.9 267.0h0M363.9 268.4h0M391.4 239.8h0M368.7 266.7h0M384.5 265.3h0M380.2 249.5h0M372.1 263.9h0M366.3 275.3h0M392.7 230.9h0M374.4 249.3h0M358.1 277.9h0M365.0 269.2h0M364.2 266.1h0M365.8 270.0h0M389.0 235.9h0M371.6 263.4h0M375.1 267.8h0M370.4 258.0h0M374.1 265.7h0M371.8 261.5h0M359.8 265.0h0M375.2 269.9h0M369.1 257.5h0M362.5 273.7h0M389.7 248.1h0M364.3 272.8h0M361.5 276.5h0M380.0 237.3h0M361.9 264.3h0M385.4 257.7h0M362.3 269.2h0M374.2 256.8h0M357.3 274.2h0M390.4 250.7h0M373.6 262.3h0M374.2 254.6h0M371.3 253.3h0M379.1 257.9h0M355.4 272.7h0M355.1 271.6h0M363.4 269.3h0M361.4 270.1h0M362.2 269.9h0M360.6 276.2h0M379.2 246.9h0M379.3 246.2h0M391.9 242.5h0M363.1 270.5h0M359.9 273.1h0M359.2 272.5h0M372.2 260.6h0M372.1 257.5h0M364.4 264.3h0M377.3 260.7h0M362.2 271.1h0M381.8 260.7h0M365.9 270.8h0M374.6 253.1h0M357.2 269.8h0M367.5 274.1h0M361.8 272.7h0M374.2 267.4h0M367.2 272.6h0M361.1 264.2h0M364.8 267.9h0M372.5 259.2h0M359.3 265.3h0M370.1 273.8h0M398.2 237.8h0M359.1 273.0h0M371.2 276.9h0M378.0 269.6h0M372.6 252.5h0M381.4 250.3h0M357.2 272.8h0M390.8 248.4h0M379.1 252.0h0M364.5 266.0h0M361.5 270.0h0M374.3 254.0h0M375.1 258.4h0M370.5 266.0h0M382.9 258.3h0M376.2 255.4h0M363.6 267.6h0M375.6 258.2h0M384.2 248.1h0M359.9 272.7h0M365.7 256.8h0M359.7 275.7h0M364.4 264.2h0M354.7 274.3h0M363.3 271.1h0M354.6 277.2h0M359.3 272.0h0M367.6 276.9h0M393.3 227.5h0M365.4 264.1h0M366.0 258.2h0M387.0 254.9h0M399.4 210.1h0M363.4 264.2h0M383.8 267.0h0M368.7 263.2h0M396.7 249.3h0M359.2 278.0h0M376.1 270.5h0M354.7 277.9h0M384.9 270.7h0M397.8 246.8h0M386.3 244.3h0M366.6 270.4h0M357.8 277.1h0M371.9 262.7h0M371.2 255.0h0M365.4 265.7h0M369.6 265.4h0M359.0 272.6h0M360.1 266.8h0M359.5 278.2h0M363.8 274.3h0M385.5 265.2h0M382.6 237.0h0M384.5 254.5h0M375.1 268.4h0M373.9 264.2h0M354.8 276.1h0M365.5 263.3h0M360.0 270.6h0M377.9 266.2h0M360.7 267.9h0M372.0 266.6h0M361.3 269.5h0M377.3 250.6h0M355.5 276.5h0M363.5 278.3h0M355.1 276.1h0M370.0 270.8h0M387.7 246.7h0M381.2 257.2h0M357.4 275.2h0M362.1 268.9h0M381.6 252.4h0M374.3 258.9h0M364.6 268.7h0M359.6 278.0h0M374.6 247.9h0M365.2 270.5h0M375.6 252.2h0M367.8 265.0h0M382.2 259.8h0M385.5 253.6h0M380.9 251.7h0M367.6 263.5h0M369.4 260.6h0M364.0 269.8h0M365.4 276.1h0M364.5 261.1h0M360.2 259.8h0M361.3 269.9h0M365.5 267.1h0M393.8 219.3h0M380.9 246.3h0M359.2 270.8h0M362.6 270.1h0M376.3 243.5h0M362.1 272.2h0M357.9 278.0h0M384.0 252.3h0M373.0 262.5h0M368.8 271.5h0M367.0 263.2h0M368.9 262.8h0M387.9 243.0h0M369.3 265.5h0M362.5 270.0h0M372.1 269.7h0M390.5 257.0h0M379.9 263.1h0M375.0 271.1h0M355.8 271.9h0M360.5 276.4h0M374.0 256.9h0M367.7 265.1h0M367.5 260.6h0M388.7 240.2h0M358.4 272.1h0M366.8 265.2h0M363.5 262.8h0M378.6 257.6h0M364.5 273.7h0M379.8 249.5h0M386.7 268.0h0M366.5 272.4h0M382.7 254.4h0M365.6 271.4h0M375.7 259.2h0M358.7 266.6h0M363.5 273.9h0M359.0 271.6h0M373.4 256.3h0M369.0 261.0h0M364.8 264.3h0M380.0 260.5h0M361.5 272.3h0M388.3 235.6h0M388.6 263.7h0M377.2 258.4h0M362.7 273.2h0M360.5 271.6h0M379.9 271.7h0M372.3 263.2h0M355.8 273.3h0M355.3 278.1h0M354.8 274.2h0M354.9 275.5h0M359.1 273.4h0M354.1 271.9h0M354.3 275.0h0M354.2 274.0h0M353.7 275.6h0M359.1 268.6h0M354.7 273.9h0M353.5 275.2h0M355.5 271.7h0M355.3 271.1h0M357.0 270.0h0M353.6 272.7h0M353.6 278.0h0M362.4 274.7h0M358.3 272.4h0M354.9 272.4h0M355.1 275.9h0M355.8 278.3h0M354.5 274.8h0M356.1 269.9h0M353.0 277.2h0M358.7 270.5h0M355.3 278.1h0M353.8 276.5h0M355.5 277.9h0M354.2 274.8h0M353.0 275.1h0M354.0 276.1h0M354.2 277.4h0M353.3 277.5h0M356.4 277.3h0M353.7 275.5h0M357.0 274.3h0M354.2 275.1h0M358.5 275.7h0M358.9 266.6h0M361.4 270.7h0M353.0 276.6h0M353.2 275.6h0M354.3 276.4h0M356.7 277.7h0M354.7 270.7h0M360.3 271.3h0M353.5 276.4h0M356.3 270.0h0M356.7 273.2h0M355.5 274.6h0M358.0 267.9h0M355.3 276.7h0M353.1 274.5h0M356.0 272.8h0M355.1 275.2h0M353.8 272.5h0M353.8 272.9h0M362.3 271.5h0M356.7 272.5h0M396.4 256.2h0M395.0 230.2h0M390.7 240.6h0M413.1 220.1h0M402.5 236.7h0M395.8 230.6h0M394.2 230.3h0M393.1 233.6h0M415.0 236.2h0M399.8 217.5h0M438.8 226.9h0M388.1 256.7h0M404.7 228.6h0M407.9 231.8h0M435.9 196.1h0M389.2 252.2h0M414.3 225.9h0M401.7 220.0h0M389.6 247.1h0M390.2 250.3h0M399.2 250.7h0M434.6 227.6h0M393.2 248.7h0M398.2 229.0h0M432.0 202.5h0M427.2 254.6h0M404.8 231.7h0M422.2 219.6h0M397.0 253.7h0M428.8 224.9h0M432.9 219.1h0M387.3 255.3h0M416.3 249.7h0M390.6 246.7h0M407.9 228.8h0M390.0 228.5h0M390.2 251.3h0M392.8 251.2h0M391.9 255.8h0M411.6 233.2h0M402.6 234.7h0M465.7 161.7h0M444.5 178.7h0M463.9 178.7h0M465.7 176.2h0M444.5 186.0h0M442.8 187.2h0M453.3 187.2h0M460.4 187.2h0M465.7 192.0h0M465.7 193.2h0M455.1 209.0h0M444.5 215.1h0M428.7 196.9h0M439.2 198.1h0M441.0 199.3h0M426.9 205.4h0M437.5 204.2h0M416.3 207.8h0M419.9 212.7h0M402.2 216.3h0M432.2 226.1h0M434.0 227.3h0M446.3 223.6h0M448.0 224.8h0M426.9 241.9h0M416.3 254.0h0M412.8 262.5h0M414.6 261.3h0M391.7 223.6h0M396.9 222.4h0" stroke="#000080" stroke-width="2.25" stroke-linecap="round" fill="none"/>
<line x1="352.9" y1="278.3" x2="465.0" y2="194.3" stroke="#222" stroke-width="0.7"/>
<rect x="347.3" y="156.2" width="123.5" height="128.1" fill="none" stroke="#9a9a9a" stroke-width="0.9"/>
<text x="352.9" y="290.9" font-family="'DejaVu Sans', sans-serif" font-size="5.4" fill="#111" text-anchor="middle">0.0</text>
<text x="370.5" y="290.9" font-family="'DejaVu Sans', sans-serif" font-size="5.4" fill="#111" text-anchor="middle">0.1</text>
<text x="388.1" y="290.9" font-family="'DejaVu Sans', sans-serif" font-size="5.4" fill="#111" text-anchor="middle">0.2</text>
<text x="405.8" y="290.9" font-family="'DejaVu Sans', sans-serif" font-size="5.4" fill="#111" text-anchor="middle">0.3</text>
<text x="423.4" y="290.9" font-family="'DejaVu Sans', sans-serif" font-size="5.4" fill="#111" text-anchor="middle">0.4</text>
<text x="441.0" y="290.9" font-family="'DejaVu Sans', sans-serif" font-size="5.4" fill="#111" text-anchor="middle">0.5</text>
<text x="458.6" y="290.9" font-family="'DejaVu Sans', sans-serif" font-size="5.4" fill="#111" text-anchor="middle">0.6</text>
<text x="345.7" y="280.6" font-family="'DejaVu Sans', sans-serif" font-size="5.4" fill="#111" text-anchor="end">0.0</text>
<text x="345.7" y="256.3" font-family="'DejaVu Sans', sans-serif" font-size="5.4" fill="#111" text-anchor="end">0.2</text>
<text x="345.7" y="232.0" font-family="'DejaVu Sans', sans-serif" font-size="5.4" fill="#111" text-anchor="end">0.4</text>
<text x="345.7" y="207.7" font-family="'DejaVu Sans', sans-serif" font-size="5.4" fill="#111" text-anchor="end">0.6</text>
<text x="345.7" y="183.4" font-family="'DejaVu Sans', sans-serif" font-size="5.4" fill="#111" text-anchor="end">0.8</text>
<text x="345.7" y="159.1" font-family="'DejaVu Sans', sans-serif" font-size="5.4" fill="#111" text-anchor="end">1.0</text>
<path d="M352.9 284.3v1.8M370.5 284.3v1.8M388.1 284.3v1.8M405.8 284.3v1.8M423.4 284.3v1.8M441.0 284.3v1.8M458.6 284.3v1.8M347.3 278.3h-1.8M347.3 254.0h-1.8M347.3 229.7h-1.8M347.3 205.4h-1.8M347.3 181.1h-1.8M347.3 156.8h-1.8" stroke="#888" stroke-width="0.6"/>
<text x="360.3" y="178.9" font-family="'DejaVu Sans', sans-serif" font-size="12.55" fill="#000">r = 0.941</text>
<path d="M549.0 227.0h0M508.3 277.1h0M534.4 248.6h0M521.4 259.4h0M512.5 266.3h0M528.4 251.4h0M521.6 259.9h0M521.5 256.3h0M509.6 272.5h0M534.0 227.5h0M513.8 262.8h0M528.5 262.1h0M521.2 257.7h0M512.3 273.1h0M519.3 268.0h0M524.6 250.4h0M512.4 264.6h0M530.3 255.3h0M540.8 257.8h0M513.1 269.4h0M502.2 275.7h0M524.6 247.8h0M513.4 268.4h0M544.7 238.2h0M515.4 271.9h0M525.7 252.2h0M522.1 266.6h0M507.8 266.4h0M525.7 251.5h0M504.1 274.2h0M515.8 265.0h0M515.6 266.4h0M514.0 262.0h0M551.7 236.8h0M518.9 256.5h0M524.6 250.6h0M516.3 265.3h0M521.7 261.1h0M536.8 251.6h0M504.2 272.7h0M509.1 264.7h0M520.2 246.9h0M509.2 268.8h0M518.0 244.1h0M543.2 241.0h0M525.2 264.4h0M521.9 259.1h0M527.9 264.7h0M523.5 244.2h0M510.8 255.2h0M523.0 260.3h0M524.8 252.1h0M510.7 277.7h0M540.1 256.9h0M518.2 251.2h0M517.3 261.4h0M538.6 251.8h0M548.1 239.1h0M558.5 234.4h0M525.4 259.4h0M567.5 219.1h0M510.4 267.8h0M514.5 269.1h0M530.8 236.1h0M524.8 246.5h0M518.3 249.3h0M509.9 268.7h0M518.6 277.5h0M506.6 270.5h0M537.3 258.9h0M503.4 272.6h0M563.4 204.6h0M529.8 255.1h0M526.5 269.4h0M540.9 250.9h0M503.9 275.9h0M522.5 263.1h0M514.4 258.1h0M511.6 269.3h0M526.8 250.3h0M518.5 263.7h0M515.7 262.3h0M543.6 265.8h0M527.3 247.2h0M512.1 274.5h0M530.6 251.0h0M515.2 259.8h0M516.5 263.3h0M504.9 271.0h0M510.0 275.9h0M528.6 259.7h0M515.0 267.1h0M504.7 275.9h0M542.4 230.7h0M506.9 272.8h0M538.5 239.0h0M505.8 267.3h0M507.7 269.7h0M506.8 267.8h0M509.1 273.8h0M512.8 262.5h0M541.3 257.5h0M533.5 248.9h0M527.2 265.1h0M514.2 267.6h0M504.2 276.7h0M523.0 265.6h0M540.8 256.5h0M507.9 273.2h0M506.0 276.5h0M523.9 255.5h0M528.2 242.5h0M541.2 244.9h0M503.6 272.5h0M536.0 265.4h0M529.5 243.2h0M524.6 267.6h0M527.2 257.9h0M514.3 252.8h0M527.1 255.4h0M513.7 266.8h0M538.1 257.0h0M537.2 249.3h0M512.7 267.1h0M504.1 275.9h0M513.7 263.3h0M524.1 264.6h0M518.1 262.5h0M509.9 269.7h0M511.5 263.9h0M539.6 244.5h0M532.2 225.2h0M525.4 264.9h0M511.6 263.7h0M505.5 274.4h0M506.8 277.6h0M535.0 234.1h0M510.4 267.9h0M512.1 266.2h0M539.9 235.0h0M524.1 257.4h0M535.0 256.2h0M571.6 221.3h0M512.1 270.6h0M502.5 275.4h0M518.2 257.1h0M516.7 261.8h0M503.8 275.8h0M503.5 277.8h0M510.2 265.7h0M504.0 271.1h0M522.0 254.0h0M523.7 263.3h0M537.6 251.2h0M536.3 237.7h0M513.0 269.0h0M519.1 267.9h0M510.1 273.4h0M527.5 247.9h0M516.5 256.1h0M526.7 259.0h0M559.9 198.2h0M517.8 268.8h0M500.7 277.6h0M515.0 253.8h0M510.4 274.5h0M532.9 234.8h0M523.4 254.1h0M504.7 276.5h0M540.4 242.1h0M521.1 260.8h0M510.1 263.2h0M507.6 277.7h0M553.8 226.5h0M515.4 272.5h0M512.8 262.5h0M507.3 268.1h0M500.7 278.3h0M551.5 245.5h0M528.5 246.6h0M543.7 231.3h0M512.5 259.0h0M516.4 270.9h0M546.2 235.0h0M505.1 269.7h0M509.9 268.7h0M516.5 260.0h0M549.6 239.2h0M518.6 270.4h0M535.1 236.4h0M546.4 243.6h0M517.0 262.0h0M517.7 255.4h0M526.9 255.8h0M529.0 247.3h0M528.2 247.2h0M553.3 236.5h0M516.1 260.1h0M540.5 244.7h0M522.2 252.3h0M550.9 240.3h0M513.0 260.5h0M525.0 252.8h0M546.2 230.0h0M520.2 277.0h0M507.1 274.7h0M516.3 265.6h0M514.1 268.4h0M511.6 265.5h0M518.0 252.3h0M537.6 236.3h0M514.7 269.8h0M513.7 267.7h0M520.1 263.4h0M530.4 257.3h0M510.4 266.7h0M519.3 257.4h0M540.7 246.0h0M535.2 262.7h0M527.1 259.1h0M521.5 271.2h0M565.2 213.2h0M542.5 233.3h0M512.8 268.2h0M502.0 277.3h0M512.9 275.2h0M534.0 249.6h0M516.9 269.2h0M524.7 257.3h0M552.7 246.1h0M506.2 269.6h0M541.3 237.0h0M525.4 262.4h0M535.0 245.1h0M518.6 268.6h0M507.6 276.4h0M508.0 276.0h0M507.5 270.2h0M504.8 273.2h0M520.8 265.3h0M520.1 259.4h0M542.3 224.0h0M529.5 255.4h0M546.7 212.9h0M509.6 271.9h0M511.2 267.5h0M517.9 263.6h0M516.2 261.8h0M537.4 225.6h0M536.6 263.3h0M521.8 275.9h0M519.6 266.5h0M512.8 269.7h0M521.9 265.9h0M545.4 237.9h0M518.5 251.8h0M503.3 276.7h0M538.7 253.7h0M523.3 250.7h0M508.8 269.7h0M530.3 246.2h0M510.8 271.2h0M563.5 215.1h0M541.2 236.9h0M565.4 261.3h0M529.5 246.8h0M527.3 252.8h0M510.4 270.0h0M511.4 262.3h0M518.4 270.1h0M506.9 269.9h0M522.9 258.3h0M510.1 275.0h0M537.7 233.1h0M518.2 264.6h0M566.1 214.8h0M528.8 255.3h0M530.9 268.9h0M509.9 271.0h0M531.3 261.7h0M522.0 257.5h0M519.3 264.5h0M530.4 271.5h0M522.1 261.2h0M520.7 254.2h0M505.7 271.2h0M535.9 233.9h0M513.6 265.5h0M549.4 229.6h0M533.7 241.7h0M556.6 225.0h0M537.3 223.1h0M559.6 232.5h0M515.8 260.7h0M503.8 268.6h0M520.3 266.6h0M507.1 270.3h0M512.7 264.6h0M573.5 243.9h0M501.2 273.9h0M516.5 267.0h0M569.5 248.0h0M515.5 265.0h0M542.8 243.2h0M513.2 264.4h0M505.6 276.7h0M501.1 277.5h0M543.8 255.3h0M503.9 274.6h0M510.7 264.7h0M503.4 276.8h0M511.3 270.4h0M549.1 240.1h0M513.1 269.1h0M533.7 238.2h0M512.0 261.5h0M536.3 264.6h0M537.1 234.1h0M543.3 242.9h0M508.8 269.9h0M504.5 268.4h0M545.8 246.6h0M513.3 266.9h0M501.8 273.1h0M500.4 273.5h0M504.9 277.9h0M502.5 275.1h0M501.3 276.5h0M500.7 272.7h0M502.6 273.2h0M501.3 275.5h0M505.4 268.9h0M503.7 275.7h0M501.8 276.1h0M503.9 273.6h0M502.2 271.7h0M508.2 270.8h0M501.1 277.0h0M501.4 272.0h0M504.4 275.9h0M515.4 265.3h0M501.3 275.2h0M504.1 270.5h0M502.4 273.6h0M502.2 273.5h0M503.1 273.7h0M507.2 267.7h0M501.2 272.9h0M504.5 273.1h0M500.2 274.1h0M503.4 272.1h0M506.4 271.1h0M501.6 277.7h0M505.8 272.4h0M500.8 273.4h0M501.3 276.6h0M505.6 272.8h0M505.8 267.9h0M506.3 268.5h0M508.9 272.4h0M509.5 267.4h0M502.7 276.6h0M504.0 277.2h0M503.4 272.2h0M502.1 271.2h0M509.7 266.6h0M502.2 277.6h0M500.6 273.5h0M512.3 265.3h0M500.6 278.1h0M506.4 270.4h0M507.5 268.1h0M501.7 275.3h0M503.9 276.9h0M504.3 277.3h0M506.7 265.2h0M502.7 272.3h0M501.6 272.5h0M500.7 273.0h0M513.1 264.9h0M502.3 275.0h0M554.9 230.8h0M607.4 176.9h0M569.4 188.0h0M569.8 199.7h0M560.6 212.2h0M582.9 197.2h0M576.9 203.5h0M607.6 195.6h0M578.9 202.9h0M551.2 229.2h0M555.3 239.4h0M559.4 211.3h0M567.8 220.6h0M562.4 221.2h0M575.5 189.4h0M556.0 223.2h0M564.6 202.6h0M589.6 189.4h0M602.7 169.9h0M559.2 221.4h0M564.2 216.6h0M561.6 201.4h0M594.0 178.0h0M584.6 225.0h0M572.5 187.3h0M592.1 201.3h0M578.6 185.0h0M585.9 202.1h0M600.3 176.6h0M578.1 206.5h0M586.6 215.5h0M573.5 211.4h0M610.4 176.3h0M586.2 200.9h0M563.6 211.5h0M560.1 191.9h0M558.1 228.7h0M581.9 187.5h0M572.7 216.7h0M584.3 197.7h0M611.9 162.2h0M600.5 164.9h0M605.5 167.5h0M589.0 167.5h0M596.6 164.9h0M577.6 171.4h0M584.0 179.2h0M582.7 183.1h0M572.5 188.3h0M573.8 189.6h0M581.4 190.9h0M580.1 190.9h0M556.0 194.8h0M554.8 198.8h0M559.8 201.4h0M561.1 200.1h0M570.0 197.5h0M576.3 200.1h0M573.8 198.8h0M591.6 197.5h0M582.7 214.4h0M563.6 227.4h0M558.6 240.5h0M545.9 217.0h0M547.2 217.0h0M563.6 234.0h0" stroke="#000080" stroke-width="2.25" stroke-linecap="round" fill="none"/>
<line x1="500.2" y1="278.3" x2="611.5" y2="169.4" stroke="#222" stroke-width="0.7"/>
<rect x="494" y="156.2" width="123.7" height="128.1" fill="none" stroke="#9a9a9a" stroke-width="0.9"/>
<text x="500.2" y="290.9" font-family="'DejaVu Sans', sans-serif" font-size="5.4" fill="#111" text-anchor="middle">0.0</text>
<text x="525.6" y="290.9" font-family="'DejaVu Sans', sans-serif" font-size="5.4" fill="#111" text-anchor="middle">0.2</text>
<text x="551.0" y="290.9" font-family="'DejaVu Sans', sans-serif" font-size="5.4" fill="#111" text-anchor="middle">0.4</text>
<text x="576.3" y="290.9" font-family="'DejaVu Sans', sans-serif" font-size="5.4" fill="#111" text-anchor="middle">0.6</text>
<text x="601.7" y="290.9" font-family="'DejaVu Sans', sans-serif" font-size="5.4" fill="#111" text-anchor="middle">0.8</text>
<text x="492.4" y="280.6" font-family="'DejaVu Sans', sans-serif" font-size="5.4" fill="#111" text-anchor="end">0.0</text>
<text x="492.4" y="254.5" font-family="'DejaVu Sans', sans-serif" font-size="5.4" fill="#111" text-anchor="end">0.2</text>
<text x="492.4" y="228.4" font-family="'DejaVu Sans', sans-serif" font-size="5.4" fill="#111" text-anchor="end">0.4</text>
<text x="492.4" y="202.4" font-family="'DejaVu Sans', sans-serif" font-size="5.4" fill="#111" text-anchor="end">0.6</text>
<text x="492.4" y="176.3" font-family="'DejaVu Sans', sans-serif" font-size="5.4" fill="#111" text-anchor="end">0.8</text>
<path d="M500.2 284.3v1.8M525.6 284.3v1.8M551.0 284.3v1.8M576.3 284.3v1.8M601.7 284.3v1.8M494.0 278.3h-1.8M494.0 252.2h-1.8M494.0 226.1h-1.8M494.0 200.1h-1.8M494.0 174.0h-1.8" stroke="#888" stroke-width="0.6"/>
<text x="507.0" y="178.9" font-family="'DejaVu Sans', sans-serif" font-size="12.55" fill="#000">r = 0.949</text>
<path d="M664.8 259.5h0M652.1 274.9h0M658.9 259.8h0M672.1 236.8h0M677.3 230.2h0M665.0 255.6h0M663.1 269.7h0M674.8 250.7h0M677.5 264.8h0M657.2 261.8h0M670.9 261.0h0M657.6 269.5h0M654.2 262.0h0M686.2 244.7h0M669.1 259.3h0M657.2 273.9h0M676.5 240.2h0M661.1 262.9h0M705.5 248.3h0M657.7 268.1h0M666.5 242.6h0M691.3 252.5h0M671.0 255.1h0M655.6 259.7h0M677.1 250.6h0M679.5 267.6h0M672.4 257.7h0M657.7 259.3h0M678.2 265.2h0M661.0 267.0h0M652.9 268.1h0M664.5 270.4h0M649.5 264.7h0M657.9 258.4h0M682.5 263.6h0M661.7 275.2h0M686.2 257.7h0M663.8 272.0h0M664.3 255.2h0M655.1 275.5h0M672.6 264.7h0M666.2 256.4h0M657.4 272.2h0M664.9 268.4h0M663.0 270.5h0M659.2 254.1h0M656.7 268.7h0M654.4 265.4h0M658.7 263.4h0M659.6 251.8h0M668.0 251.3h0M658.7 264.6h0M678.2 258.7h0M688.2 268.1h0M652.0 269.0h0M650.7 268.4h0M661.9 271.7h0M682.2 267.2h0M664.3 269.7h0M655.4 273.4h0M655.6 274.3h0M663.4 273.0h0M672.4 233.3h0M707.5 251.4h0M660.4 274.1h0M659.1 259.8h0M647.7 272.5h0M671.7 246.8h0M665.0 264.2h0M665.3 246.2h0M670.2 236.2h0M669.5 256.5h0M704.0 204.3h0M662.3 252.8h0M667.4 259.2h0M685.6 241.6h0M662.2 260.7h0M690.3 240.2h0M665.4 244.7h0M685.3 216.9h0M662.2 251.8h0M667.8 247.1h0M695.5 236.2h0M660.7 269.6h0M656.0 271.8h0M658.8 263.3h0M678.4 263.2h0M659.9 264.9h0M701.9 252.9h0M665.1 265.4h0M667.4 253.8h0M654.4 264.6h0M662.9 251.9h0M675.8 244.9h0M685.1 210.3h0M702.2 195.9h0M677.7 275.0h0M656.1 270.1h0M661.2 246.2h0M655.9 262.8h0M659.7 266.2h0M694.4 240.2h0M655.4 271.7h0M652.7 274.6h0M681.4 243.3h0M652.2 261.2h0M654.1 265.2h0M658.6 262.9h0M649.6 270.5h0M676.9 255.7h0M672.9 259.6h0M655.6 274.2h0M677.6 253.6h0M665.8 250.5h0M681.9 244.3h0M658.9 265.9h0M653.8 262.0h0M658.8 264.6h0M672.8 243.3h0M693.7 242.0h0M668.1 257.3h0M659.5 250.4h0M672.5 262.7h0M668.2 263.1h0M651.5 271.8h0M667.6 244.2h0M654.8 270.4h0M657.6 262.1h0M672.6 260.6h0M660.3 262.8h0M657.8 260.2h0M663.6 252.4h0M679.2 250.3h0M659.6 259.9h0M656.6 272.4h0M679.4 274.4h0M651.7 273.7h0M673.4 247.7h0M672.0 264.3h0M684.9 253.4h0M654.7 258.4h0M649.6 274.4h0M680.7 260.9h0M665.6 275.2h0M677.3 264.1h0M669.5 254.6h0M652.5 263.2h0M666.6 258.3h0M664.0 258.7h0M691.5 263.8h0M676.6 276.2h0M652.9 275.7h0M661.6 258.9h0M691.0 253.6h0M660.0 275.8h0M659.6 264.0h0M675.9 248.4h0M687.9 245.9h0M662.2 255.3h0M655.2 271.8h0M705.7 241.2h0M664.1 252.1h0M660.0 274.1h0M677.8 246.9h0M666.2 259.4h0M660.5 255.3h0M661.4 253.9h0M665.3 249.5h0M673.3 271.5h0M675.9 241.2h0M666.7 253.3h0M662.1 254.5h0M661.9 264.2h0M668.4 247.8h0M656.7 260.1h0M661.3 268.9h0M707.5 215.4h0M674.0 274.3h0M656.6 265.4h0M705.0 210.3h0M654.6 259.4h0M654.7 268.2h0M666.2 267.2h0M674.2 270.8h0M651.9 265.1h0M681.6 273.5h0M702.6 250.4h0M652.3 274.2h0M666.6 258.3h0M662.6 263.7h0M671.3 268.8h0M675.1 262.8h0M665.5 266.7h0M686.5 208.7h0M651.6 270.5h0M659.5 262.2h0M665.1 252.8h0M657.1 268.6h0M681.4 232.3h0M670.6 269.5h0M699.9 226.4h0M706.1 258.9h0M659.3 266.1h0M668.8 259.1h0M670.5 264.1h0M674.4 246.1h0M656.4 261.0h0M688.4 231.9h0M684.7 257.0h0M673.7 252.9h0M667.6 239.9h0M656.2 258.5h0M654.4 267.4h0M692.6 239.0h0M692.5 235.6h0M673.7 228.9h0M659.4 272.0h0M657.1 272.4h0M656.8 274.3h0M656.4 250.4h0M659.0 265.9h0M670.2 251.2h0M659.6 270.3h0M665.3 261.6h0M660.3 260.0h0M665.7 254.9h0M675.6 255.9h0M662.2 257.6h0M667.2 260.1h0M685.9 246.7h0M660.3 254.3h0M661.6 270.7h0M661.4 261.7h0M691.0 233.6h0M676.8 235.0h0M673.2 239.2h0M652.7 268.3h0M653.8 272.9h0M670.1 254.7h0M668.6 256.8h0M657.7 268.6h0M681.8 243.5h0M657.4 272.8h0M654.7 274.5h0M662.8 253.2h0M676.4 257.9h0M692.9 257.1h0M667.0 258.1h0M654.8 261.4h0M663.8 253.5h0M649.2 275.8h0M653.3 264.7h0M709.1 206.7h0M657.1 269.2h0M666.3 260.0h0M688.8 226.4h0M663.5 262.8h0M654.0 267.5h0M702.1 233.6h0M657.5 272.1h0M688.9 270.0h0M678.8 240.1h0M650.0 271.2h0M656.0 271.0h0M699.1 247.6h0M665.4 250.2h0M689.9 250.7h0M649.2 269.6h0M656.8 269.5h0M660.6 255.3h0M665.1 245.2h0M659.3 251.0h0M653.0 269.2h0M705.7 245.0h0M671.7 260.3h0M651.9 273.3h0M675.6 258.2h0M673.1 268.2h0M653.9 252.0h0M658.7 260.9h0M663.3 261.7h0M658.5 274.6h0M669.4 252.3h0M682.7 254.4h0M659.9 271.3h0M666.6 259.5h0M674.8 266.6h0M669.5 240.5h0M663.3 258.6h0M685.9 231.0h0M691.3 245.9h0M703.5 219.0h0M657.1 274.0h0M662.0 260.6h0M647.5 265.1h0M647.6 265.2h0M648.0 264.5h0M647.8 269.6h0M648.0 266.2h0M647.7 270.2h0M647.7 263.0h0M647.6 260.9h0M647.6 256.5h0M647.9 270.3h0M647.5 256.4h0M647.9 260.8h0M647.7 267.4h0M647.8 261.2h0M647.6 270.7h0M647.8 255.3h0M647.6 259.5h0M647.8 259.0h0M647.5 259.4h0M648.0 274.6h0M647.8 261.1h0M647.6 274.2h0M648.0 264.4h0M647.9 275.7h0M647.8 263.5h0M676.9 276.3h0M668.6 276.2h0M651.3 276.3h0M647.7 276.4h0M686.5 276.2h0M671.1 276.3h0M677.7 276.3h0M649.0 276.1h0M664.3 276.3h0M664.3 276.4h0M649.0 276.4h0M669.0 276.3h0M671.4 276.2h0M669.2 276.1h0M678.6 276.1h0M685.5 276.2h0M661.8 276.3h0M652.4 276.3h0M657.5 276.4h0M675.3 276.3h0M658.7 276.3h0M657.7 276.0h0M674.4 276.4h0M674.6 276.3h0M655.3 276.1h0M661.1 276.1h0M664.7 276.4h0M685.2 276.3h0M675.6 276.2h0M667.7 276.1h0M662.1 276.2h0M665.5 276.3h0M685.4 276.1h0M678.3 276.1h0M647.8 276.3h0M650.4 276.1h0M671.0 276.1h0M672.6 276.2h0M655.7 276.0h0M661.4 276.2h0M666.5 276.3h0M650.7 276.2h0M672.4 276.3h0M676.0 276.3h0M681.3 276.4h0M648.1 276.3h0M650.5 276.1h0M677.9 276.2h0M666.3 276.3h0M657.4 276.3h0M651.3 276.4h0M657.0 276.3h0M683.8 276.1h0M654.2 276.2h0M656.6 276.3h0M647.5 276.1h0M685.3 276.3h0M661.8 276.3h0M673.9 276.1h0M671.8 276.4h0M683.7 276.4h0M679.9 276.4h0M679.5 276.3h0M650.1 276.1h0M685.9 276.1h0M677.0 276.1h0M663.7 276.2h0M674.3 276.3h0M655.6 276.2h0M660.8 276.2h0M677.9 276.4h0M681.1 276.1h0M663.8 276.4h0M649.8 275.9h0M679.6 276.3h0M674.0 276.3h0M675.4 275.9h0M650.4 276.2h0M686.3 276.0h0M675.4 276.4h0M649.8 276.4h0M679.0 276.3h0M668.2 276.3h0M662.9 276.1h0M652.8 276.1h0M671.8 276.2h0M650.8 276.4h0M683.2 276.3h0M668.5 276.2h0M651.7 276.1h0M659.2 258.4h0M651.5 269.2h0M651.7 268.5h0M648.7 265.4h0M661.4 252.4h0M649.2 274.6h0M657.7 255.1h0M652.1 269.8h0M661.9 272.3h0M671.2 267.0h0M656.9 262.7h0M650.2 267.0h0M649.0 276.2h0M654.6 269.0h0M673.4 271.1h0M653.0 264.3h0M660.0 267.7h0M669.2 259.1h0M650.1 271.8h0M664.0 257.5h0M660.4 269.4h0M650.2 274.5h0M649.2 269.2h0M651.6 260.5h0M659.7 259.0h0M652.3 270.2h0M653.3 258.9h0M660.3 272.5h0M663.7 248.1h0M650.5 275.0h0M670.2 259.6h0M655.3 266.8h0M660.1 264.9h0M671.0 268.6h0M659.6 267.0h0M649.9 256.1h0M649.3 261.8h0M649.6 269.8h0M652.0 266.8h0M658.0 260.5h0M652.7 256.2h0M648.4 272.0h0M658.5 272.9h0M653.5 269.0h0M653.9 259.8h0M654.8 262.5h0M676.2 257.3h0M671.1 262.0h0M654.4 261.3h0M659.6 259.0h0M663.2 270.7h0M653.5 273.9h0M658.3 270.2h0M652.6 261.9h0M656.2 263.5h0M668.7 257.8h0M673.3 265.9h0M671.0 248.8h0M649.3 257.5h0M655.4 272.5h0M664.2 260.0h0M655.0 270.7h0M660.9 260.2h0M653.6 275.7h0M656.4 262.1h0M659.5 268.9h0M656.5 267.5h0M651.0 274.3h0M649.6 263.5h0M659.4 259.8h0M660.6 259.6h0M665.9 244.3h0M666.0 266.2h0M667.4 259.2h0M656.2 256.8h0M664.7 257.0h0M653.2 275.6h0M667.2 260.1h0M653.4 271.9h0M666.6 254.6h0M652.8 271.3h0M668.8 271.8h0M659.3 255.8h0M670.4 263.2h0M656.8 270.3h0M658.6 258.0h0M652.6 269.5h0M652.5 270.4h0M659.6 269.1h0M651.9 262.6h0M670.5 257.5h0M659.1 264.4h0M664.1 250.0h0M655.0 253.7h0M650.7 267.1h0M662.4 255.5h0M679.2 250.7h0M652.5 271.1h0M648.4 265.4h0M663.4 248.4h0M665.4 267.0h0M654.9 259.4h0M650.9 270.3h0M653.9 258.7h0M656.9 265.9h0M669.7 269.0h0M667.5 265.3h0M681.2 237.0h0M651.2 274.5h0M653.7 267.6h0M655.4 273.2h0M651.6 266.6h0M658.4 263.8h0M680.5 251.6h0M650.8 272.9h0M652.2 264.7h0M649.8 268.0h0M650.2 263.4h0M649.4 262.3h0M653.5 259.8h0M666.6 265.6h0M661.7 266.6h0M650.5 258.7h0M655.2 271.9h0M663.5 271.2h0M654.0 267.3h0M650.4 275.0h0M652.5 271.4h0M655.4 274.8h0M656.0 275.7h0M664.9 251.2h0M650.0 267.4h0M652.5 265.4h0M651.1 272.3h0M663.6 270.9h0M657.7 274.9h0M659.0 264.2h0M654.6 268.2h0M655.9 262.7h0M667.3 261.8h0M647.9 275.6h0M680.5 242.6h0M658.2 266.2h0M655.8 259.2h0M737.0 162.3h0M742.6 163.4h0M742.6 167.0h0M741.2 173.0h0M739.8 174.1h0M751.0 176.5h0M752.4 171.8h0M759.3 181.3h0M716.0 178.9h0M732.8 186.0h0M713.2 190.8h0M713.2 192.0h0M714.6 196.7h0M721.6 202.7h0M725.8 207.4h0M700.6 205.1h0M706.2 206.2h0M695.0 211.0h0M696.4 212.2h0M697.8 216.9h0M716.0 216.9h0M727.2 212.2h0M730.0 222.9h0M713.2 225.3h0M713.2 231.2h0M706.2 228.8h0M707.6 237.2h0M711.8 238.4h0M700.6 253.8h0M686.6 216.9h0M688.0 218.1h0M674.1 228.8h0M675.5 230.0h0" stroke="#000080" stroke-width="2.25" stroke-linecap="round" fill="none"/>
<line x1="647.5" y1="278.3" x2="759.3" y2="180.6" stroke="#222" stroke-width="0.7"/>
<rect x="641.1" y="156.2" width="123.3" height="128.1" fill="none" stroke="#9a9a9a" stroke-width="0.9"/>
<text x="647.5" y="290.9" font-family="'DejaVu Sans', sans-serif" font-size="5.4" fill="#111" text-anchor="middle">0.0</text>
<text x="675.5" y="290.9" font-family="'DejaVu Sans', sans-serif" font-size="5.4" fill="#111" text-anchor="middle">0.2</text>
<text x="703.4" y="290.9" font-family="'DejaVu Sans', sans-serif" font-size="5.4" fill="#111" text-anchor="middle">0.4</text>
<text x="731.4" y="290.9" font-family="'DejaVu Sans', sans-serif" font-size="5.4" fill="#111" text-anchor="middle">0.6</text>
<text x="759.3" y="290.9" font-family="'DejaVu Sans', sans-serif" font-size="5.4" fill="#111" text-anchor="middle">0.8</text>
<text x="639.5" y="278.7" font-family="'DejaVu Sans', sans-serif" font-size="5.4" fill="#111" text-anchor="end">0.0</text>
<text x="639.5" y="254.9" font-family="'DejaVu Sans', sans-serif" font-size="5.4" fill="#111" text-anchor="end">0.2</text>
<text x="639.5" y="231.1" font-family="'DejaVu Sans', sans-serif" font-size="5.4" fill="#111" text-anchor="end">0.4</text>
<text x="639.5" y="207.4" font-family="'DejaVu Sans', sans-serif" font-size="5.4" fill="#111" text-anchor="end">0.6</text>
<text x="639.5" y="183.6" font-family="'DejaVu Sans', sans-serif" font-size="5.4" fill="#111" text-anchor="end">0.8</text>
<text x="639.5" y="159.8" font-family="'DejaVu Sans', sans-serif" font-size="5.4" fill="#111" text-anchor="end">1.0</text>
<path d="M647.5 284.3v1.8M675.5 284.3v1.8M703.4 284.3v1.8M731.4 284.3v1.8M759.3 284.3v1.8M641.1 276.4h-1.8M641.1 252.6h-1.8M641.1 228.8h-1.8M641.1 205.1h-1.8M641.1 181.3h-1.8M641.1 157.5h-1.8" stroke="#888" stroke-width="0.6"/>
<text x="654.1" y="178.9" font-family="'DejaVu Sans', sans-serif" font-size="12.55" fill="#000">r = 0.833</text>
<path d="M85.3 434.9h0M79.5 448.8h0M77.0 438.1h0M82.6 443.6h0M68.1 446.3h0M63.8 453.4h0M64.1 453.3h0M66.1 446.1h0M72.9 442.4h0M68.4 447.3h0M76.8 448.2h0M87.3 432.0h0M90.1 432.8h0M79.8 451.0h0M70.7 446.9h0M69.5 449.3h0M74.6 439.4h0M86.3 439.7h0M63.3 446.0h0M83.0 437.9h0M105.4 421.6h0M97.1 431.9h0M75.6 442.0h0M70.5 453.5h0M82.6 445.7h0M97.0 439.5h0M98.3 438.8h0M86.6 443.8h0M86.9 437.0h0M112.7 424.5h0M100.3 447.6h0M68.1 450.4h0M69.4 448.6h0M63.3 452.4h0M92.3 439.6h0M85.5 443.0h0M100.5 439.6h0M106.9 414.8h0M72.1 440.5h0M79.4 441.0h0M69.1 445.5h0M101.0 422.7h0M75.6 450.0h0M99.6 429.2h0M94.3 429.3h0M78.1 438.5h0M81.4 451.0h0M97.0 442.9h0M78.6 441.8h0M92.3 429.2h0M67.9 444.3h0M60.5 448.2h0M74.5 450.9h0M71.3 446.6h0M67.7 450.6h0M70.2 454.8h0M76.2 447.3h0M64.5 451.3h0M89.0 439.8h0M74.7 446.1h0M74.8 437.4h0M69.8 443.5h0M98.4 435.6h0M79.3 435.8h0M110.6 419.5h0M115.8 405.1h0M81.6 451.9h0M70.4 454.0h0M68.3 444.7h0M119.9 415.7h0M76.9 439.8h0M99.0 437.3h0M83.6 438.2h0M70.6 450.5h0M71.2 447.3h0M65.9 443.6h0M74.4 441.9h0M85.3 447.4h0M105.8 422.6h0M61.6 451.6h0M75.6 443.0h0M76.0 448.9h0M69.2 447.3h0M121.8 422.8h0M99.1 445.0h0M73.0 441.8h0M107.2 421.4h0M66.7 447.4h0M99.6 414.6h0M65.8 447.3h0M107.3 402.9h0M83.4 431.9h0M81.1 437.6h0M88.9 445.1h0M85.7 440.0h0M77.5 434.8h0M72.5 452.4h0M73.6 447.1h0M77.7 451.3h0M73.6 447.2h0M121.7 426.9h0M67.9 441.6h0M59.1 454.2h0M73.4 451.5h0M68.1 452.3h0M78.9 442.7h0M97.3 435.6h0M64.7 451.5h0M83.7 438.6h0M115.4 424.0h0M73.6 449.7h0M67.0 444.9h0M77.4 437.4h0M122.6 406.4h0M66.6 450.9h0M70.2 446.4h0M88.9 439.0h0M88.2 426.3h0M84.9 447.6h0M84.8 437.0h0M121.4 441.9h0M71.8 448.9h0M83.5 442.5h0M66.2 446.7h0M71.9 446.0h0M92.3 437.3h0M66.0 451.2h0M85.2 432.9h0M66.1 448.4h0M72.9 447.5h0M81.9 443.9h0M77.3 443.7h0M103.8 428.1h0M87.3 451.9h0M62.8 453.4h0M60.6 451.0h0M80.5 450.2h0M90.6 431.2h0M94.4 422.3h0M83.1 440.0h0M88.9 441.5h0M97.9 431.2h0M115.4 419.5h0M66.0 446.3h0M74.0 449.3h0M88.7 440.9h0M91.3 443.9h0M124.3 424.3h0M115.2 417.6h0M85.8 442.4h0M62.9 453.8h0M90.0 439.1h0M84.8 447.3h0M72.0 446.7h0M100.7 427.9h0M75.1 442.9h0M62.4 451.2h0M73.2 453.3h0M83.9 437.4h0M103.8 429.1h0M77.9 448.6h0M69.8 447.5h0M86.7 446.2h0M81.5 446.3h0M84.6 423.8h0M62.2 447.1h0M83.5 434.0h0M78.9 447.6h0M102.3 434.6h0M105.6 421.7h0M122.3 424.9h0M60.7 453.0h0M78.9 438.9h0M93.7 434.7h0M94.2 432.0h0M65.7 454.9h0M66.8 447.8h0M62.8 450.7h0M67.3 450.2h0M79.3 447.5h0M67.7 451.6h0M93.5 448.6h0M82.3 443.5h0M86.7 430.5h0M71.5 446.2h0M115.0 422.6h0M74.6 450.2h0M78.9 450.0h0M71.6 447.8h0M111.0 435.4h0M71.6 450.3h0M63.9 446.5h0M59.4 453.0h0M74.5 447.2h0M85.4 448.4h0M63.6 443.3h0M60.7 453.6h0M79.1 436.0h0M90.3 436.5h0M74.1 442.2h0M67.8 451.9h0M94.3 430.3h0M72.2 447.5h0M61.3 453.0h0M99.2 426.5h0M96.3 434.7h0M102.9 414.1h0M81.1 437.9h0M94.6 421.3h0M114.3 403.3h0M65.5 448.6h0M87.8 440.2h0M62.1 450.0h0M98.2 439.7h0M69.1 453.4h0M114.6 393.8h0M76.2 446.2h0M68.0 447.1h0M94.5 430.2h0M100.3 440.6h0M89.3 447.9h0M91.6 433.7h0M69.9 448.5h0M104.5 430.3h0M82.1 441.1h0M71.3 442.9h0M81.8 452.9h0M70.8 448.2h0M111.4 413.4h0M84.4 437.3h0M76.0 438.8h0M81.6 438.3h0M84.6 435.7h0M96.8 430.7h0M68.7 447.0h0M92.6 436.8h0M105.2 422.9h0M72.2 446.4h0M78.4 446.9h0M120.5 412.1h0M78.0 447.4h0M80.6 454.3h0M106.5 427.7h0M72.0 438.0h0M79.6 440.8h0M87.7 436.3h0M74.6 447.2h0M67.0 445.1h0M71.7 442.1h0M88.4 436.9h0M96.4 441.9h0M122.7 404.2h0M89.1 440.8h0M75.1 445.7h0M68.8 452.9h0M62.8 453.8h0M116.3 423.4h0M60.0 451.7h0M100.1 424.6h0M74.5 445.3h0M88.1 424.0h0M70.9 448.1h0M72.3 450.9h0M60.6 454.2h0M77.3 441.7h0M79.0 451.2h0M91.6 432.7h0M93.6 439.5h0M77.5 437.1h0M77.7 439.0h0M63.8 447.3h0M98.3 440.0h0M90.0 438.0h0M66.5 446.9h0M103.8 428.6h0M64.5 445.3h0M69.7 438.0h0M61.3 452.1h0M60.8 450.3h0M68.7 450.1h0M109.6 434.0h0M84.0 448.0h0M72.7 437.6h0M81.4 435.8h0M68.9 450.7h0M82.7 433.5h0M94.9 430.2h0M112.6 418.0h0M93.7 433.9h0M92.6 434.4h0M88.1 437.4h0M70.9 449.4h0M82.4 437.3h0M75.8 442.2h0M73.9 437.7h0M70.5 453.4h0M77.2 447.7h0M72.6 439.2h0M113.3 424.2h0M101.0 421.0h0M117.0 413.3h0M69.6 443.2h0M76.0 453.2h0M66.1 452.5h0M68.1 451.9h0M87.8 440.4h0M59.9 452.1h0M119.8 407.2h0M88.3 434.3h0M61.4 451.6h0M76.9 437.4h0M87.6 435.0h0M62.9 450.6h0M95.7 425.1h0M86.6 428.1h0M97.5 411.9h0M113.7 423.1h0M78.8 443.9h0M60.3 453.3h0M100.6 417.9h0M69.6 447.0h0M90.4 427.1h0M108.4 424.7h0M59.5 451.0h0M62.2 454.2h0M65.8 450.6h0M89.6 440.9h0M74.8 440.1h0M81.2 440.1h0M87.1 441.8h0M61.2 447.0h0M71.5 436.3h0M80.9 447.3h0M80.3 437.7h0M75.6 438.4h0M74.7 442.1h0M62.0 453.9h0M73.7 447.9h0M76.5 432.3h0M72.6 447.8h0M66.9 447.4h0M86.8 436.8h0M120.6 407.3h0M87.3 428.5h0M115.6 448.5h0M64.8 450.2h0M72.9 450.4h0M118.3 415.3h0M96.9 435.9h0M81.4 434.4h0M63.7 448.2h0M69.2 446.3h0M70.8 443.4h0M88.0 429.9h0M88.7 441.5h0M83.8 440.3h0M70.1 451.9h0M72.5 438.0h0M81.9 431.5h0M74.2 450.5h0M68.9 454.3h0M90.6 414.4h0M82.6 438.8h0M78.5 435.6h0M66.2 452.4h0M60.5 453.1h0M109.9 435.2h0M79.7 442.6h0M67.3 445.7h0M64.4 450.8h0M115.4 419.8h0M87.0 437.0h0M63.0 445.1h0M82.6 442.9h0M72.7 444.2h0M80.6 429.6h0M122.8 432.9h0M72.1 448.9h0M70.3 431.5h0M76.5 442.6h0M64.3 453.0h0M73.0 447.6h0M74.1 442.8h0M85.0 433.1h0M71.6 446.5h0M75.7 442.6h0M84.3 437.7h0M88.1 434.4h0M88.7 437.2h0M66.4 447.1h0M63.4 447.3h0M81.7 431.1h0M92.4 427.9h0M90.9 433.4h0M84.5 449.9h0M73.9 452.1h0M68.8 447.7h0M83.2 428.4h0M69.4 453.2h0M83.6 438.4h0M67.0 448.2h0M122.2 402.4h0M66.6 449.9h0M73.4 444.2h0M103.1 431.6h0M66.4 447.9h0M89.1 431.2h0M92.5 435.7h0M91.9 430.5h0M61.1 454.4h0M82.7 439.9h0M77.4 445.8h0M114.3 425.2h0M68.6 446.4h0M78.6 443.2h0M67.0 449.4h0M108.0 411.7h0M81.9 443.2h0M90.6 440.5h0M71.5 451.2h0M67.6 454.5h0M62.6 453.9h0M70.9 439.6h0M86.6 439.4h0M92.6 435.2h0M67.5 454.3h0M102.4 430.2h0M76.1 441.0h0M94.1 419.7h0M67.1 451.0h0M66.1 449.2h0M65.8 447.5h0M110.8 416.2h0M72.1 446.9h0M90.4 430.9h0M102.7 424.1h0M84.3 437.7h0M76.3 439.7h0M78.2 444.5h0M74.4 439.4h0M101.6 420.5h0M102.6 428.0h0M66.8 449.7h0M100.3 431.7h0M85.9 430.6h0M72.9 438.2h0M102.1 418.3h0M108.8 410.4h0M67.5 442.4h0M75.9 446.4h0M92.6 438.5h0M86.8 431.1h0M76.1 446.2h0M81.8 442.4h0M77.4 434.8h0M82.5 442.6h0M70.8 436.8h0M92.6 430.9h0M87.4 440.7h0M150.7 374.3h0M144.9 386.4h0M150.7 376.0h0M130.6 397.9h0M143.9 386.5h0M147.1 390.3h0M125.7 403.3h0M138.9 381.1h0M151.2 378.0h0M106.5 416.7h0M112.6 414.9h0M115.8 409.6h0M117.1 413.3h0M141.5 392.9h0M146.1 375.1h0M125.7 386.9h0M150.5 384.4h0M108.1 414.6h0M146.5 391.4h0M143.2 382.7h0M141.2 390.1h0M114.8 427.3h0M111.9 410.6h0M121.0 394.3h0M117.5 410.0h0M126.6 412.9h0M114.5 419.0h0M123.6 413.4h0M131.1 395.1h0M148.4 374.1h0M104.9 409.0h0M114.6 401.7h0M120.4 411.9h0M146.0 366.1h0M149.4 390.6h0M105.8 411.3h0M126.1 402.7h0M138.0 393.3h0M115.3 403.3h0M132.1 404.7h0M140.9 384.7h0M125.5 418.8h0M136.3 390.5h0M140.0 405.8h0M107.6 416.1h0M146.8 371.3h0M142.1 385.9h0M119.0 404.8h0M130.7 396.2h0M105.7 412.9h0M110.9 414.0h0M126.6 403.5h0M105.1 416.9h0M151.1 382.3h0M139.7 398.7h0M58.8 449.5h0M58.4 452.2h0M58.6 439.4h0M58.4 453.5h0M58.7 454.1h0M58.5 453.9h0M58.5 450.8h0M58.6 448.4h0M58.5 443.2h0M58.4 453.0h0M58.4 454.8h0M58.4 454.6h0M58.5 439.9h0M58.4 449.4h0M58.6 451.7h0M58.5 436.7h0M58.5 452.8h0M58.7 454.7h0M58.5 441.8h0M58.5 453.3h0M58.4 450.2h0M58.4 447.7h0M58.7 452.9h0M58.7 445.6h0M58.5 452.1h0M58.4 453.7h0M58.6 452.4h0M58.6 453.0h0M58.3 452.3h0M58.4 452.2h0M58.6 452.6h0M58.7 452.6h0M58.3 453.9h0M58.4 441.8h0M58.4 441.2h0M58.3 447.2h0M58.4 442.2h0M58.7 439.3h0M58.5 452.2h0M58.3 453.7h0M58.6 453.6h0M58.5 451.7h0M58.5 442.0h0M58.4 452.9h0M58.6 453.1h0M68.5 454.8h0M64.7 454.7h0M63.5 454.8h0M63.3 454.7h0M68.5 454.6h0M63.6 454.1h0M64.8 454.6h0M63.0 454.9h0M60.0 454.5h0M67.9 454.8h0M66.1 454.7h0M61.6 454.8h0M60.1 454.6h0M64.8 454.8h0M64.3 454.6h0M67.7 454.9h0M63.8 454.7h0M60.0 454.6h0M65.1 454.5h0M66.3 454.5h0M68.2 454.8h0M61.1 454.8h0M66.0 454.8h0M67.6 454.9h0M61.2 454.8h0M58.8 444.6h0M59.1 448.3h0M64.4 447.5h0M63.3 444.4h0M58.8 442.6h0M65.3 441.4h0M59.4 447.8h0M60.7 448.1h0M70.5 439.3h0M60.8 448.0h0M58.4 444.7h0M58.5 452.4h0M58.6 446.2h0M59.0 442.8h0M66.3 446.8h0M60.4 446.3h0M60.8 444.5h0M60.6 453.2h0M62.1 444.5h0M60.3 441.3h0M62.3 443.0h0M58.8 444.1h0M66.7 448.2h0M58.5 450.3h0M59.1 450.4h0M59.6 454.0h0M60.9 450.8h0M60.2 447.6h0M63.5 441.0h0M59.1 453.7h0M66.3 439.0h0M58.8 441.6h0M60.9 449.4h0M61.0 437.3h0M58.6 441.7h0M62.8 446.8h0M62.4 449.6h0M58.6 445.6h0M59.8 444.1h0M63.2 451.3h0M58.6 443.6h0M60.7 454.2h0M60.8 449.5h0M60.0 452.5h0M66.9 447.4h0M59.9 450.7h0M68.1 443.1h0M59.8 447.0h0M58.6 452.1h0M58.3 444.5h0M65.1 448.0h0M62.2 450.7h0M59.6 454.4h0M68.9 448.1h0M61.5 442.7h0M64.4 441.9h0M60.8 443.3h0M61.3 447.7h0M58.4 446.2h0M59.7 444.1h0M61.1 444.5h0M63.4 443.5h0M63.0 436.4h0M63.3 446.1h0M59.3 454.7h0M59.7 447.0h0M61.1 449.7h0M60.6 449.5h0M58.6 451.2h0M59.0 450.0h0M58.7 451.1h0M60.0 454.2h0M61.7 448.4h0M59.1 447.5h0M62.4 444.2h0M63.2 454.1h0M65.8 448.1h0M67.3 444.3h0M62.1 448.5h0M61.5 444.0h0M62.7 439.1h0M60.6 449.3h0M63.7 443.4h0M59.1 451.3h0M60.1 451.7h0M59.8 444.9h0M58.6 442.9h0M59.9 449.8h0M63.0 449.7h0M72.8 444.4h0M64.6 450.3h0M64.1 438.6h0M58.6 446.9h0M59.0 443.8h0M59.1 451.0h0M59.2 449.8h0M59.7 448.6h0M60.8 440.6h0M60.0 444.3h0M69.5 439.8h0M65.7 439.4h0M66.8 443.1h0M64.9 442.3h0M61.5 447.9h0M65.1 453.2h0M58.6 449.2h0M58.8 452.7h0M63.8 447.8h0M64.7 444.0h0M59.0 444.1h0M59.2 451.2h0M60.1 451.9h0M67.0 440.8h0M67.0 448.9h0M59.0 452.2h0M69.6 450.7h0M60.5 450.6h0M58.4 447.1h0M168.9 339.0h0M171.3 342.5h0M167.7 349.6h0M172.5 353.2h0M159.1 344.9h0M156.7 356.7h0M151.9 370.9h0M154.3 370.9h0M150.6 373.3h0M153.1 386.3h0M132.4 376.8h0M133.6 379.2h0M138.5 375.6h0M139.7 380.4h0M140.9 380.4h0M134.8 386.3h0M131.2 382.7h0M127.6 393.4h0M125.1 393.4h0M142.1 389.8h0M139.7 414.7h0M92.3 399.3h0M79.0 408.8h0M79.0 413.5h0M104.5 400.5h0M106.9 401.7h0M116.6 402.8h0M104.5 443.1h0M114.2 437.2h0" stroke="#808080" stroke-width="1.95" stroke-linecap="round" fill="none"/>
<line x1="58.3" y1="454.9" x2="170.0" y2="364.3" stroke="#222" stroke-width="0.7"/>
<rect x="52.6" y="332.9" width="122.4" height="127.3" fill="none" stroke="#9a9a9a" stroke-width="0.9"/>
<text x="58.3" y="466.8" font-family="'DejaVu Sans', sans-serif" font-size="5.4" fill="#111" text-anchor="middle">0.0</text>
<text x="82.6" y="466.8" font-family="'DejaVu Sans', sans-serif" font-size="5.4" fill="#111" text-anchor="middle">0.2</text>
<text x="106.9" y="466.8" font-family="'DejaVu Sans', sans-serif" font-size="5.4" fill="#111" text-anchor="middle">0.4</text>
<text x="131.2" y="466.8" font-family="'DejaVu Sans', sans-serif" font-size="5.4" fill="#111" text-anchor="middle">0.6</text>
<text x="155.5" y="466.8" font-family="'DejaVu Sans', sans-serif" font-size="5.4" fill="#111" text-anchor="middle">0.8</text>
<text x="51.0" y="457.2" font-family="'DejaVu Sans', sans-serif" font-size="5.4" fill="#111" text-anchor="end">0.0</text>
<text x="51.0" y="433.5" font-family="'DejaVu Sans', sans-serif" font-size="5.4" fill="#111" text-anchor="end">0.2</text>
<text x="51.0" y="409.9" font-family="'DejaVu Sans', sans-serif" font-size="5.4" fill="#111" text-anchor="end">0.4</text>
<text x="51.0" y="386.2" font-family="'DejaVu Sans', sans-serif" font-size="5.4" fill="#111" text-anchor="end">0.6</text>
<text x="51.0" y="362.6" font-family="'DejaVu Sans', sans-serif" font-size="5.4" fill="#111" text-anchor="end">0.8</text>
<text x="51.0" y="338.9" font-family="'DejaVu Sans', sans-serif" font-size="5.4" fill="#111" text-anchor="end">1.0</text>
<path d="M58.3 460.2v1.8M82.6 460.2v1.8M106.9 460.2v1.8M131.2 460.2v1.8M155.5 460.2v1.8M52.6 454.9h-1.8M52.6 431.2h-1.8M52.6 407.6h-1.8M52.6 383.9h-1.8M52.6 360.3h-1.8M52.6 336.6h-1.8" stroke="#888" stroke-width="0.6"/>
<text x="65.6" y="355.6" font-family="'DejaVu Sans', sans-serif" font-size="12.55" fill="#000">r = 0.918</text>
<text x="113.8" y="330.3" font-family="'DejaVu Sans', sans-serif" font-size="12.4" fill="#1a1a1a" text-anchor="middle">ductal</text>
<path d="M244.4 426.1h0M238.8 418.8h0M227.5 427.7h0M223.5 421.6h0M229.4 416.0h0M211.7 448.0h0M221.9 439.2h0M210.6 449.2h0M222.2 433.9h0M223.7 416.0h0M205.1 454.6h0M206.8 454.0h0M220.4 433.5h0M207.6 445.9h0M230.0 425.8h0M219.3 433.4h0M214.3 452.3h0M206.9 453.1h0M206.9 450.3h0M244.6 442.2h0M230.2 446.5h0M216.6 436.7h0M210.8 445.6h0M242.5 401.2h0M212.4 453.3h0M207.2 450.3h0M215.5 447.8h0M213.3 440.3h0M210.6 448.5h0M206.2 450.0h0M219.5 447.0h0M207.7 449.6h0M205.0 450.6h0M205.7 454.2h0M214.0 444.6h0M214.3 447.5h0M206.8 452.5h0M206.1 452.3h0M222.1 435.5h0M212.9 441.9h0M210.7 447.8h0M218.7 435.6h0M230.9 419.1h0M206.8 451.2h0M220.1 428.7h0M228.8 422.8h0M221.3 441.2h0M208.7 450.2h0M213.7 432.1h0M223.3 436.3h0M219.0 434.3h0M223.5 438.1h0M210.1 448.7h0M228.8 429.3h0M212.2 450.5h0M221.4 438.5h0M222.4 437.8h0M208.1 452.7h0M230.5 420.1h0M207.8 451.1h0M231.1 428.8h0M212.8 436.7h0M215.0 436.5h0M212.5 439.9h0M224.2 434.2h0M216.5 438.5h0M216.5 437.2h0M230.1 422.1h0M230.9 439.8h0M220.6 430.9h0M235.0 432.4h0M211.5 446.1h0M208.4 453.9h0M215.8 451.9h0M219.7 442.5h0M244.3 413.8h0M218.3 443.2h0M207.1 449.7h0M229.1 449.7h0M224.3 436.4h0M211.9 451.3h0M231.3 423.4h0M211.5 444.9h0M211.3 445.9h0M215.2 429.7h0M222.5 431.6h0M208.2 452.4h0M226.1 438.5h0M213.7 445.4h0M206.4 449.9h0M207.1 449.5h0M207.6 451.0h0M208.5 454.3h0M221.0 441.3h0M230.9 416.7h0M211.5 443.2h0M227.1 429.6h0M209.7 442.9h0M213.0 454.2h0M205.3 454.5h0M214.2 447.4h0M211.6 454.1h0M235.9 429.9h0M235.2 405.9h0M214.5 449.7h0M206.2 450.1h0M226.2 438.7h0M221.3 446.1h0M207.2 446.2h0M239.6 418.9h0M217.8 437.0h0M234.1 409.8h0M213.5 445.5h0M221.0 441.2h0M213.1 452.7h0M222.1 440.1h0M207.6 445.4h0M237.2 406.3h0M211.1 447.2h0M230.1 421.8h0M213.6 443.3h0M217.0 439.7h0M206.0 448.8h0M214.5 447.1h0M231.8 421.6h0M249.8 393.1h0M205.6 451.5h0M211.9 443.7h0M211.2 446.5h0M218.0 438.5h0M229.8 443.6h0M219.5 418.7h0M209.5 444.1h0M233.0 429.9h0M210.7 450.7h0M207.0 453.8h0M214.2 434.1h0M216.9 436.8h0M217.1 440.0h0M222.1 446.4h0M218.1 442.9h0M220.4 434.9h0M210.3 448.0h0M210.6 454.1h0M207.7 447.7h0M217.0 438.3h0M230.4 425.2h0M211.2 441.3h0M211.7 450.6h0M229.6 437.6h0M213.4 446.3h0M217.2 450.1h0M232.1 441.7h0M207.0 447.3h0M207.2 448.5h0M222.0 436.9h0M215.6 439.6h0M218.2 440.6h0M208.6 453.2h0M216.3 434.0h0M215.3 452.9h0M207.6 449.6h0M211.2 452.0h0M220.2 439.2h0M220.7 447.9h0M208.2 444.1h0M247.8 418.8h0M209.6 444.6h0M243.4 405.8h0M226.5 426.4h0M213.3 443.6h0M224.0 430.1h0M242.8 416.1h0M210.7 454.4h0M225.6 443.4h0M208.3 448.7h0M210.9 447.0h0M217.7 435.4h0M230.9 440.2h0M215.1 450.0h0M207.8 454.2h0M212.6 437.7h0M218.5 439.3h0M217.0 438.0h0M204.9 454.4h0M246.3 425.5h0M209.2 447.7h0M242.4 401.4h0M251.3 391.0h0M210.8 446.8h0M210.3 445.9h0M215.4 453.5h0M206.4 453.3h0M206.4 454.8h0M210.3 450.7h0M247.7 421.4h0M241.5 407.9h0M208.2 454.3h0M210.5 448.2h0M209.0 450.7h0M208.9 447.2h0M209.2 454.9h0M208.9 450.0h0M209.1 442.4h0M210.3 448.1h0M227.2 435.6h0M228.5 445.2h0M207.8 448.4h0M221.8 437.8h0M205.8 454.3h0M225.0 433.1h0M224.0 439.3h0M206.9 452.4h0M208.8 446.7h0M207.2 450.1h0M221.9 438.2h0M223.2 425.1h0M207.1 451.1h0M225.7 430.6h0M218.0 444.3h0M207.7 449.2h0M219.2 434.9h0M215.6 443.7h0M206.1 452.8h0M220.5 438.9h0M224.8 432.0h0M218.7 435.6h0M228.7 419.9h0M215.8 454.3h0M223.6 438.2h0M243.9 454.0h0M216.3 446.2h0M227.8 441.1h0M214.7 438.2h0M213.3 447.4h0M204.8 450.2h0M218.4 439.6h0M207.0 454.7h0M244.8 414.7h0M229.7 437.8h0M206.6 448.9h0M250.5 388.8h0M215.5 440.8h0M213.2 446.5h0M222.6 435.6h0M213.4 451.8h0M207.0 451.7h0M224.0 434.4h0M232.8 430.1h0M250.7 421.6h0M212.9 447.8h0M205.4 448.2h0M207.6 454.4h0M215.2 428.0h0M207.6 449.5h0M206.2 448.4h0M206.0 447.7h0M222.9 434.2h0M240.5 443.3h0M216.1 454.9h0M226.1 446.0h0M218.1 437.6h0M221.6 437.0h0M204.7 452.9h0M212.5 450.6h0M213.6 450.2h0M219.5 441.4h0M215.0 440.2h0M226.4 423.4h0M208.0 453.7h0M207.0 454.1h0M215.2 445.1h0M206.1 451.5h0M248.6 414.5h0M210.5 448.6h0M241.0 431.9h0M205.6 454.5h0M208.3 452.0h0M227.1 431.0h0M216.6 442.2h0M208.5 447.1h0M208.8 446.3h0M210.7 452.4h0M244.3 411.7h0M246.9 391.9h0M215.3 451.4h0M212.7 447.5h0M218.6 436.7h0M217.7 441.9h0M217.2 448.3h0M210.4 449.8h0M212.8 448.2h0M226.4 419.4h0M214.7 442.5h0M215.5 439.2h0M211.3 447.5h0M229.0 430.5h0M204.6 451.0h0M206.9 450.1h0M213.0 450.5h0M212.9 453.3h0M209.8 451.5h0M206.4 446.2h0M206.3 448.4h0M209.9 449.1h0M225.2 419.5h0M219.6 439.6h0M207.9 448.9h0M220.3 435.7h0M239.9 423.2h0M208.1 450.3h0M210.2 446.4h0M211.4 451.1h0M214.7 448.0h0M213.4 438.6h0M205.3 453.0h0M234.6 423.0h0M227.4 444.3h0M207.2 453.6h0M211.7 450.5h0M210.4 446.9h0M224.4 440.2h0M212.0 435.9h0M223.6 420.7h0M209.2 447.6h0M209.8 450.1h0M207.0 453.0h0M206.4 450.0h0M208.2 454.2h0M211.5 445.8h0M210.0 454.0h0M225.7 431.5h0M212.3 452.2h0M217.6 430.3h0M215.1 441.5h0M212.4 451.9h0M224.6 441.4h0M208.4 453.7h0M206.9 453.9h0M212.0 448.5h0M208.0 454.7h0M214.1 445.0h0M242.5 444.3h0M205.2 445.4h0M222.3 440.3h0M232.5 423.3h0M214.0 442.7h0M214.4 433.8h0M250.9 388.8h0M219.4 433.7h0M210.1 452.3h0M212.6 448.9h0M212.4 443.5h0M230.2 420.5h0M220.7 431.1h0M228.4 433.9h0M228.8 424.3h0M218.6 448.0h0M208.1 452.2h0M208.1 453.0h0M207.5 451.2h0M208.6 449.0h0M221.2 452.6h0M206.1 451.6h0M224.4 438.0h0M228.2 442.4h0M207.4 448.6h0M212.4 447.1h0M215.6 436.3h0M207.6 450.9h0M220.9 442.9h0M220.5 453.5h0M218.5 444.8h0M213.6 442.8h0M207.0 452.0h0M239.7 425.4h0M208.5 453.8h0M207.5 447.9h0M213.3 441.7h0M243.1 410.3h0M207.0 453.1h0M213.4 444.6h0M232.1 418.3h0M226.8 437.1h0M231.7 433.8h0M208.6 452.2h0M212.4 454.2h0M211.7 448.3h0M232.0 432.6h0M236.8 426.0h0M217.7 450.9h0M211.5 444.9h0M206.6 452.3h0M216.3 447.0h0M227.1 426.1h0M210.2 447.5h0M216.5 450.0h0M213.3 452.7h0M212.8 440.1h0M215.1 446.0h0M216.5 430.1h0M220.2 442.2h0M210.7 445.9h0M234.3 423.5h0M211.4 454.6h0M209.9 449.6h0M220.9 435.3h0M211.0 444.0h0M248.7 421.1h0M215.4 444.0h0M223.0 433.2h0M215.7 447.8h0M229.5 413.0h0M210.8 448.9h0M212.3 446.7h0M231.1 441.8h0M213.8 451.3h0M221.8 429.2h0M208.4 454.0h0M204.8 451.4h0M204.6 451.3h0M204.6 443.5h0M204.6 449.8h0M204.6 445.9h0M204.6 453.7h0M205.0 447.3h0M204.8 454.8h0M204.9 452.8h0M204.9 451.3h0M205.0 447.0h0M204.7 452.3h0M204.6 448.4h0M205.1 450.7h0M205.1 440.6h0M204.6 454.7h0M204.7 445.5h0M204.6 453.7h0M204.8 447.7h0M204.6 450.0h0M204.7 453.8h0M204.9 445.9h0M204.7 454.7h0M204.7 454.5h0M204.5 441.5h0M204.6 446.8h0M204.6 453.7h0M204.6 453.4h0M204.8 448.1h0M205.1 452.6h0M204.7 454.8h0M204.7 454.8h0M204.8 454.8h0M204.7 453.9h0M204.6 443.0h0M205.2 448.9h0M204.6 452.3h0M205.0 453.2h0M206.7 451.2h0M206.1 449.6h0M214.1 445.1h0M206.1 451.6h0M208.6 448.1h0M210.4 449.6h0M208.8 445.8h0M208.8 445.5h0M208.5 452.0h0M210.3 450.0h0M207.3 442.5h0M207.2 446.7h0M207.2 447.0h0M211.2 445.0h0M207.1 453.5h0M210.5 454.9h0M205.1 453.1h0M206.8 453.4h0M207.0 452.7h0M205.1 452.9h0M207.9 452.7h0M210.2 453.7h0M209.8 447.4h0M210.3 451.3h0M205.1 451.0h0M204.5 449.2h0M207.1 451.1h0M207.8 452.6h0M207.4 446.3h0M204.9 451.6h0M213.1 444.2h0M205.1 453.5h0M204.6 450.9h0M212.6 446.0h0M208.8 454.2h0M209.6 453.5h0M210.7 450.7h0M215.5 445.6h0M206.5 454.6h0M211.3 441.6h0M205.6 453.3h0M204.6 452.5h0M210.4 444.1h0M205.6 452.9h0M217.6 442.5h0M206.6 452.3h0M206.2 450.7h0M206.0 453.9h0M206.3 448.9h0M213.9 444.1h0M205.3 451.0h0M206.2 453.8h0M214.8 447.6h0M204.8 452.3h0M207.3 453.1h0M209.6 447.6h0M209.6 446.3h0M204.6 454.1h0M210.3 447.8h0M212.4 451.5h0M205.4 454.9h0M207.2 447.9h0M210.0 448.0h0M209.0 446.9h0M205.1 454.8h0M206.5 450.6h0M208.9 449.7h0M207.7 448.4h0M206.9 452.0h0M212.2 449.9h0M206.3 453.3h0M212.5 453.9h0M215.1 452.8h0M217.1 445.1h0M205.5 449.6h0M208.8 449.0h0M206.1 449.0h0M205.2 450.8h0M212.7 441.7h0M207.7 454.1h0M209.1 454.9h0M204.8 451.7h0M205.4 450.0h0M205.5 450.9h0M206.7 451.4h0M207.0 448.1h0M210.3 436.7h0M211.2 447.8h0M207.7 445.0h0M205.0 446.1h0M205.2 453.7h0M207.2 449.8h0M218.0 441.6h0M208.4 449.5h0M207.7 447.1h0M216.2 440.5h0M204.7 454.3h0M208.4 449.9h0M208.3 454.6h0M206.1 451.7h0M217.3 438.4h0M208.5 450.8h0M211.2 446.9h0M205.5 452.3h0M207.9 453.5h0M206.1 446.8h0M204.5 453.2h0M205.6 448.3h0M208.3 449.6h0M206.3 450.1h0M204.5 443.6h0M208.4 450.2h0M209.6 449.6h0M206.0 448.1h0M210.5 453.9h0M210.7 450.8h0M204.6 453.0h0M207.4 447.4h0M205.5 453.6h0M205.8 450.1h0M211.1 449.1h0M207.6 449.2h0M216.3 444.5h0M204.7 454.2h0M209.1 449.4h0M210.8 449.3h0M204.9 452.3h0M205.1 451.0h0M205.3 450.2h0M207.9 449.5h0M207.0 452.7h0M214.2 444.9h0M205.7 451.7h0M209.6 451.1h0M205.7 449.0h0M210.2 450.4h0M206.4 454.1h0M208.9 451.0h0M204.8 450.4h0M213.4 450.2h0M207.1 454.9h0M205.8 453.2h0M208.2 450.3h0M209.0 447.8h0M204.9 453.9h0M210.3 444.4h0M211.7 444.8h0M269.1 384.7h0M249.1 413.2h0M242.0 420.7h0M266.9 394.9h0M259.0 396.8h0M306.2 344.7h0M293.6 349.2h0M293.6 351.4h0M317.1 350.3h0M303.0 362.5h0M310.9 362.5h0M267.1 362.5h0M268.6 363.6h0M270.2 368.1h0M278.0 370.3h0M248.3 374.8h0M278.0 380.3h0M287.4 382.6h0M278.0 385.9h0M276.4 390.3h0M284.3 392.6h0M254.5 387.0h0M256.1 383.7h0M246.7 389.2h0M254.5 392.6h0M265.5 393.7h0M265.5 398.1h0M267.1 398.1h0M268.6 402.6h0M265.5 412.6h0M254.5 399.2h0M257.7 404.8h0M235.8 395.9h0M237.3 398.1h0M234.2 405.9h0M237.3 405.9h0M240.5 408.2h0M238.9 400.4h0M245.2 401.5h0" stroke="#808080" stroke-width="1.95" stroke-linecap="round" fill="none"/>
<line x1="204.5" y1="454.9" x2="315.9" y2="338.9" stroke="#222" stroke-width="0.7"/>
<rect x="199.4" y="332.9" width="121.8" height="127.3" fill="none" stroke="#9a9a9a" stroke-width="0.9"/>
<text x="204.5" y="466.8" font-family="'DejaVu Sans', sans-serif" font-size="5.4" fill="#111" text-anchor="middle">0.0</text>
<text x="220.1" y="466.8" font-family="'DejaVu Sans', sans-serif" font-size="5.4" fill="#111" text-anchor="middle">0.1</text>
<text x="235.8" y="466.8" font-family="'DejaVu Sans', sans-serif" font-size="5.4" fill="#111" text-anchor="middle">0.2</text>
<text x="251.4" y="466.8" font-family="'DejaVu Sans', sans-serif" font-size="5.4" fill="#111" text-anchor="middle">0.3</text>
<text x="267.1" y="466.8" font-family="'DejaVu Sans', sans-serif" font-size="5.4" fill="#111" text-anchor="middle">0.4</text>
<text x="282.7" y="466.8" font-family="'DejaVu Sans', sans-serif" font-size="5.4" fill="#111" text-anchor="middle">0.5</text>
<text x="298.3" y="466.8" font-family="'DejaVu Sans', sans-serif" font-size="5.4" fill="#111" text-anchor="middle">0.6</text>
<text x="314.0" y="466.8" font-family="'DejaVu Sans', sans-serif" font-size="5.4" fill="#111" text-anchor="middle">0.7</text>
<text x="197.8" y="457.2" font-family="'DejaVu Sans', sans-serif" font-size="5.4" fill="#111" text-anchor="end">0.0</text>
<text x="197.8" y="434.9" font-family="'DejaVu Sans', sans-serif" font-size="5.4" fill="#111" text-anchor="end">0.2</text>
<text x="197.8" y="412.7" font-family="'DejaVu Sans', sans-serif" font-size="5.4" fill="#111" text-anchor="end">0.4</text>
<text x="197.8" y="390.4" font-family="'DejaVu Sans', sans-serif" font-size="5.4" fill="#111" text-anchor="end">0.6</text>
<text x="197.8" y="368.2" font-family="'DejaVu Sans', sans-serif" font-size="5.4" fill="#111" text-anchor="end">0.8</text>
<text x="197.8" y="345.9" font-family="'DejaVu Sans', sans-serif" font-size="5.4" fill="#111" text-anchor="end">1.0</text>
<path d="M204.5 460.2v1.8M220.1 460.2v1.8M235.8 460.2v1.8M251.4 460.2v1.8M267.1 460.2v1.8M282.7 460.2v1.8M298.3 460.2v1.8M314.0 460.2v1.8M199.4 454.9h-1.8M199.4 432.6h-1.8M199.4 410.4h-1.8M199.4 388.1h-1.8M199.4 365.9h-1.8M199.4 343.6h-1.8" stroke="#888" stroke-width="0.6"/>
<text x="212.4" y="355.6" font-family="'DejaVu Sans', sans-serif" font-size="12.55" fill="#000">r = 0.932</text>
<text x="260.3" y="330.3" font-family="'DejaVu Sans', sans-serif" font-size="12.4" fill="#1a1a1a" text-anchor="middle">endothelial</text>
<path d="M375.4 417.4h0M368.9 452.5h0M371.3 446.0h0M365.7 439.4h0M352.3 452.5h0M357.1 448.8h0M366.9 445.9h0M359.5 450.8h0M362.4 443.6h0M351.6 449.5h0M358.8 441.1h0M355.3 443.6h0M360.4 441.6h0M363.4 452.1h0M359.4 447.9h0M363.8 435.5h0M359.3 440.0h0M355.0 454.7h0M364.1 432.8h0M363.8 442.4h0M366.4 433.0h0M355.4 447.6h0M368.3 440.7h0M352.3 451.3h0M357.2 442.1h0M364.3 437.2h0M367.3 426.6h0M374.2 432.5h0M357.3 449.6h0M353.0 446.1h0M358.6 439.0h0M362.1 438.3h0M359.1 448.8h0M356.9 437.8h0M370.1 422.9h0M361.3 423.6h0M375.2 422.0h0M364.4 446.1h0M360.4 429.4h0M354.1 440.2h0M360.6 431.4h0M370.1 431.6h0M357.8 452.7h0M354.5 445.1h0M352.7 449.8h0M362.4 439.7h0M366.9 453.6h0M352.5 452.9h0M374.3 430.3h0M354.2 446.8h0M352.4 452.5h0M377.4 417.8h0M363.6 435.3h0M354.0 451.7h0M357.9 447.5h0M366.7 434.1h0M363.3 452.9h0M364.7 444.6h0M365.0 448.7h0M359.1 430.3h0M371.5 435.1h0M355.0 442.9h0M354.1 440.2h0M372.3 426.7h0M353.8 444.4h0M359.5 435.4h0M365.9 432.1h0M362.1 434.8h0M366.6 439.0h0M359.1 433.6h0M377.0 422.3h0M356.9 442.2h0M352.9 449.0h0M389.1 421.8h0M363.1 419.9h0M355.7 441.4h0M364.8 443.8h0M353.7 449.7h0M367.3 438.0h0M375.6 448.4h0M352.4 448.5h0M357.0 424.3h0M366.4 437.4h0M372.4 434.5h0M369.5 438.4h0M353.0 443.0h0M362.3 436.3h0M376.9 430.2h0M368.6 427.8h0M386.2 395.1h0M354.5 452.9h0M358.7 429.4h0M352.6 446.7h0M360.2 435.5h0M371.1 446.7h0M355.7 445.4h0M364.9 438.8h0M361.5 437.2h0M362.9 436.6h0M354.0 452.4h0M357.9 433.9h0M357.8 440.1h0M353.4 447.2h0M361.7 438.7h0M379.7 434.1h0M356.0 443.7h0M359.0 445.9h0M376.3 416.8h0M359.8 435.5h0M360.6 443.2h0M356.6 439.1h0M353.1 441.0h0M363.8 435.9h0M388.7 392.6h0M393.5 410.6h0M354.7 445.2h0M353.7 450.9h0M358.8 439.1h0M351.9 446.1h0M354.0 441.6h0M353.6 443.8h0M357.1 454.3h0M374.8 425.1h0M356.3 453.2h0M354.4 453.4h0M352.8 440.0h0M354.8 451.8h0M360.3 431.1h0M374.0 415.1h0M395.1 404.6h0M352.1 447.1h0M369.8 441.8h0M360.6 448.2h0M358.5 442.3h0M361.3 447.9h0M361.9 439.4h0M365.9 445.8h0M374.5 416.4h0M368.6 426.1h0M364.2 444.6h0M353.5 450.3h0M371.4 428.6h0M372.5 434.2h0M363.0 444.5h0M377.4 440.0h0M353.1 452.0h0M358.5 444.4h0M398.9 439.2h0M373.5 428.6h0M365.3 434.4h0M363.6 448.1h0M381.1 402.6h0M363.1 437.5h0M357.0 444.4h0M382.7 419.1h0M358.2 452.1h0M357.6 437.2h0M394.2 398.9h0M354.4 452.4h0M357.6 438.1h0M369.9 425.5h0M354.2 450.0h0M355.5 447.1h0M354.6 451.3h0M353.9 454.3h0M376.0 415.9h0M363.1 440.0h0M364.7 447.1h0M355.5 446.6h0M352.0 453.1h0M362.6 436.8h0M353.0 449.5h0M359.0 452.4h0M368.2 445.3h0M366.8 440.5h0M370.1 445.4h0M363.1 437.4h0M360.5 444.6h0M355.5 449.3h0M375.0 409.5h0M371.7 422.3h0M351.9 444.8h0M362.3 453.0h0M368.9 429.9h0M354.8 443.4h0M360.5 433.0h0M356.1 437.9h0M354.5 436.2h0M362.3 435.8h0M356.4 444.7h0M377.0 441.0h0M370.5 438.9h0M353.2 448.6h0M361.7 442.3h0M353.4 447.0h0M357.2 440.9h0M368.0 439.6h0M357.3 445.7h0M405.0 417.2h0M371.6 427.3h0M360.1 434.9h0M368.0 417.1h0M374.6 421.1h0M378.7 446.2h0M372.1 443.1h0M371.6 433.3h0M373.8 434.1h0M367.5 437.0h0M373.2 446.9h0M365.9 434.3h0M402.4 424.8h0M373.8 433.4h0M372.9 419.7h0M388.4 429.5h0M360.1 447.5h0M360.5 439.0h0M377.1 420.8h0M366.3 422.3h0M356.8 441.8h0M380.1 430.7h0M394.5 395.3h0M365.7 443.0h0M371.1 436.5h0M404.9 391.8h0M355.1 434.5h0M355.4 441.6h0M360.7 438.2h0M358.7 445.7h0M369.7 432.6h0M380.4 437.6h0M363.3 447.4h0M390.5 431.5h0M361.7 436.7h0M400.5 394.3h0M359.5 453.6h0M392.1 393.3h0M356.4 444.2h0M368.4 422.6h0M388.8 437.5h0M364.0 445.0h0M374.8 419.7h0M400.1 418.4h0M372.7 439.1h0M360.7 450.2h0M362.0 427.5h0M386.3 442.3h0M381.9 424.7h0M372.9 421.7h0M369.2 424.2h0M354.8 448.9h0M368.2 437.0h0M395.7 407.6h0M361.7 427.7h0M362.2 434.1h0M352.3 425.7h0M351.5 448.0h0M351.7 443.4h0M351.7 422.5h0M351.5 447.8h0M351.7 425.6h0M351.7 429.9h0M351.9 425.2h0M351.5 454.4h0M351.4 432.4h0M351.5 439.6h0M351.6 421.7h0M351.6 422.1h0M351.9 447.2h0M351.6 440.4h0M351.7 428.0h0M351.6 449.8h0M351.4 451.4h0M351.9 431.8h0M352.1 425.3h0M351.6 448.4h0M351.6 428.6h0M351.5 427.1h0M351.8 446.2h0M352.0 440.9h0M351.6 443.5h0M352.1 442.9h0M351.7 444.5h0M351.7 426.4h0M351.5 451.1h0M351.6 438.0h0M351.5 421.9h0M351.8 450.3h0M351.7 435.9h0M351.9 434.5h0M351.9 434.5h0M351.4 430.9h0M351.4 448.1h0M351.7 427.0h0M351.5 447.6h0M351.5 446.4h0M351.4 432.5h0M351.4 452.0h0M351.5 423.6h0M351.7 452.0h0M351.5 427.7h0M351.5 441.5h0M351.7 448.0h0M351.5 453.1h0M352.0 427.4h0M351.5 439.9h0M351.9 448.3h0M351.5 441.9h0M351.6 427.9h0M351.4 439.4h0M351.8 424.0h0M351.4 448.9h0M351.7 439.6h0M351.8 449.3h0M351.6 443.0h0M351.6 428.5h0M351.6 450.6h0M351.5 422.6h0M351.5 428.2h0M352.0 428.7h0M351.6 453.6h0M351.7 433.2h0M351.7 426.4h0M351.7 422.4h0M351.7 448.1h0M351.9 452.7h0M352.2 438.4h0M351.7 435.6h0M351.9 422.2h0M351.7 449.7h0M351.5 440.2h0M351.6 423.4h0M351.8 449.9h0M351.8 441.1h0M351.6 435.3h0M351.6 453.1h0M351.7 441.9h0M351.6 449.5h0M351.5 442.4h0M351.5 454.2h0M351.6 441.0h0M351.4 436.0h0M351.8 446.5h0M351.8 443.1h0M352.0 450.8h0M351.4 429.3h0M351.9 421.9h0M351.7 427.4h0M351.4 435.8h0M351.7 449.2h0M351.8 427.0h0M351.4 430.2h0M351.6 426.1h0M351.6 421.8h0M351.8 427.6h0M351.7 450.3h0M351.5 428.0h0M351.8 426.8h0M351.4 451.8h0M351.7 425.7h0M351.9 424.1h0M351.9 446.9h0M351.9 452.6h0M351.9 438.5h0M351.5 434.2h0M352.7 447.2h0M351.6 453.7h0M353.5 448.6h0M352.1 448.4h0M358.0 436.3h0M354.4 439.2h0M352.3 453.5h0M355.3 444.1h0M364.7 438.4h0M361.9 438.4h0M354.6 450.0h0M356.1 435.7h0M352.2 452.7h0M356.5 438.5h0M353.3 442.6h0M351.8 439.9h0M352.5 441.8h0M351.8 450.6h0M353.4 438.8h0M351.7 453.1h0M358.6 439.3h0M358.8 446.4h0M354.7 439.6h0M363.4 444.2h0M351.6 449.0h0M356.5 447.1h0M351.5 450.2h0M353.2 451.9h0M354.2 446.3h0M359.2 445.2h0M352.5 447.9h0M352.6 453.6h0M351.9 448.1h0M351.7 443.2h0M351.5 443.6h0M353.7 437.0h0M354.4 432.9h0M358.1 446.9h0M356.2 443.5h0M353.5 448.9h0M353.3 443.4h0M358.6 441.8h0M357.3 444.5h0M352.1 450.4h0M351.6 447.3h0M361.4 441.5h0M353.6 436.3h0M352.1 450.4h0M354.1 444.6h0M353.6 451.6h0M351.4 446.5h0M352.7 445.6h0M354.7 453.9h0M361.6 438.6h0M355.8 440.2h0M352.5 449.4h0M360.4 436.1h0M359.9 428.8h0M353.2 446.9h0M352.0 445.3h0M353.6 443.8h0M352.2 450.1h0M359.5 439.0h0M356.1 440.3h0M359.0 447.6h0M352.2 452.1h0M351.8 453.3h0M351.5 451.6h0M352.1 441.3h0M355.1 425.9h0M352.4 451.9h0M353.6 443.3h0M351.9 442.4h0M357.8 439.2h0M351.7 441.8h0M352.0 448.8h0M354.1 448.0h0M352.7 445.2h0M353.1 444.2h0M352.2 453.3h0M357.2 447.6h0M352.2 450.0h0M354.2 446.1h0M356.1 448.4h0M351.7 443.2h0M356.6 439.8h0M353.1 449.2h0M352.6 445.4h0M361.8 440.7h0M352.9 448.2h0M359.1 440.8h0M351.6 438.1h0M353.8 444.8h0M358.5 444.5h0M351.7 453.2h0M352.9 444.4h0M351.5 443.4h0M353.7 445.7h0M352.8 439.4h0M358.6 445.8h0M352.0 441.4h0M355.9 445.7h0M352.4 445.6h0M354.3 447.2h0M351.4 446.1h0M354.6 440.1h0M352.1 445.4h0M352.0 440.8h0M359.3 429.1h0M361.3 447.5h0M354.1 439.0h0M353.1 449.9h0M359.5 442.4h0M357.5 445.5h0M353.5 444.2h0M355.6 444.4h0M362.3 440.8h0M351.8 444.6h0M352.7 440.0h0M351.5 449.7h0M355.3 442.3h0M351.7 443.8h0M352.9 444.2h0M353.6 442.9h0M356.4 436.6h0M357.0 447.7h0M351.8 452.1h0M351.7 448.9h0M361.4 447.6h0M357.0 448.7h0M353.1 443.8h0M355.1 438.1h0M353.9 454.4h0M355.5 448.6h0M354.9 447.7h0M354.9 439.4h0M358.6 440.8h0M352.7 448.9h0M355.3 450.9h0M353.2 448.7h0M354.1 444.9h0M352.4 446.6h0M357.6 444.7h0M356.8 442.3h0M353.1 454.3h0M351.5 437.7h0M351.9 442.5h0M352.0 443.2h0M351.9 441.0h0M362.1 454.8h0M354.1 454.5h0M375.4 454.8h0M374.0 454.9h0M368.0 454.7h0M362.0 454.7h0M377.5 454.7h0M365.3 454.9h0M357.2 454.7h0M369.8 454.9h0M357.6 445.1h0M359.0 442.5h0M359.6 435.6h0M360.6 436.7h0M361.5 442.3h0M355.7 436.4h0M366.1 424.8h0M359.3 418.3h0M355.4 430.6h0M359.8 428.8h0M361.0 433.6h0M373.9 432.6h0M357.8 426.0h0M373.8 449.5h0M370.0 416.2h0M368.1 424.9h0M372.3 425.0h0M354.2 441.8h0M372.0 445.7h0M354.0 442.0h0M355.8 436.4h0M363.1 439.8h0M371.4 440.3h0M378.3 428.2h0M362.5 439.7h0M359.8 426.3h0M373.8 446.7h0M370.2 417.1h0M359.2 432.8h0M368.6 426.3h0M378.1 445.6h0M371.4 444.3h0M353.3 447.2h0M366.5 436.3h0M369.8 435.1h0M362.0 446.3h0M360.7 425.7h0M370.0 424.0h0M358.6 419.9h0M359.2 442.1h0M354.3 444.2h0M363.3 439.9h0M365.4 445.8h0M369.4 441.6h0M358.5 444.5h0M368.5 422.0h0M365.4 450.0h0M363.3 430.6h0M372.4 429.4h0M369.1 432.5h0M354.3 445.2h0M365.2 442.6h0M354.7 431.0h0M369.6 450.3h0M359.8 443.2h0M366.6 437.7h0M360.3 444.6h0M372.3 434.7h0M360.6 444.1h0M369.8 445.7h0M371.8 446.4h0M356.7 443.3h0M360.5 437.5h0M353.5 421.8h0M371.6 433.4h0M354.9 437.5h0M361.5 446.9h0M372.9 444.8h0M358.5 426.2h0M355.5 442.2h0M355.6 428.4h0M375.7 418.2h0M375.3 436.6h0M369.3 447.5h0M353.9 443.7h0M374.1 450.2h0M360.2 432.0h0M359.6 449.2h0M364.7 447.5h0M360.6 437.7h0M355.6 440.9h0M361.9 437.7h0M372.4 441.8h0M366.3 450.0h0M364.4 442.1h0M366.6 446.3h0M377.7 430.2h0M363.7 439.0h0M355.1 447.8h0M362.4 449.4h0M460.8 346.0h0M456.1 351.6h0M451.3 352.7h0M452.9 352.7h0M443.4 362.8h0M445.0 363.9h0M432.3 368.4h0M433.9 369.6h0M433.9 379.7h0M437.0 387.5h0M437.0 395.4h0M424.4 380.8h0M414.8 379.7h0M408.5 377.4h0M403.7 384.2h0M394.2 385.3h0M395.8 388.6h0M397.4 389.8h0M397.4 390.9h0M405.3 396.5h0M403.7 402.1h0M399.0 405.5h0M405.3 411.1h0M406.9 412.2h0M410.1 416.7h0M394.2 399.9h0M387.9 397.6h0M391.0 397.6h0M378.4 399.9h0M367.3 397.6h0M367.3 404.4h0M368.8 405.5h0M383.1 403.2h0M356.2 407.7h0M351.4 407.7h0M351.4 411.1h0M391.0 412.2h0M386.3 406.6h0M392.6 417.8h0" stroke="#808080" stroke-width="1.95" stroke-linecap="round" fill="none"/>
<line x1="351.4" y1="450.2" x2="462.4" y2="338.9" stroke="#222" stroke-width="0.7"/>
<rect x="345.8" y="332.9" width="121.9" height="127.3" fill="none" stroke="#9a9a9a" stroke-width="0.9"/>
<text x="351.4" y="466.8" font-family="'DejaVu Sans', sans-serif" font-size="5.4" fill="#111" text-anchor="middle">0.0</text>
<text x="367.3" y="466.8" font-family="'DejaVu Sans', sans-serif" font-size="5.4" fill="#111" text-anchor="middle">0.1</text>
<text x="383.1" y="466.8" font-family="'DejaVu Sans', sans-serif" font-size="5.4" fill="#111" text-anchor="middle">0.2</text>
<text x="399.0" y="466.8" font-family="'DejaVu Sans', sans-serif" font-size="5.4" fill="#111" text-anchor="middle">0.3</text>
<text x="414.8" y="466.8" font-family="'DejaVu Sans', sans-serif" font-size="5.4" fill="#111" text-anchor="middle">0.4</text>
<text x="430.7" y="466.8" font-family="'DejaVu Sans', sans-serif" font-size="5.4" fill="#111" text-anchor="middle">0.5</text>
<text x="446.6" y="466.8" font-family="'DejaVu Sans', sans-serif" font-size="5.4" fill="#111" text-anchor="middle">0.6</text>
<text x="462.4" y="466.8" font-family="'DejaVu Sans', sans-serif" font-size="5.4" fill="#111" text-anchor="middle">0.7</text>
<text x="344.2" y="457.2" font-family="'DejaVu Sans', sans-serif" font-size="5.4" fill="#111" text-anchor="end">0.0</text>
<text x="344.2" y="434.7" font-family="'DejaVu Sans', sans-serif" font-size="5.4" fill="#111" text-anchor="end">0.2</text>
<text x="344.2" y="412.3" font-family="'DejaVu Sans', sans-serif" font-size="5.4" fill="#111" text-anchor="end">0.4</text>
<text x="344.2" y="389.8" font-family="'DejaVu Sans', sans-serif" font-size="5.4" fill="#111" text-anchor="end">0.6</text>
<text x="344.2" y="367.4" font-family="'DejaVu Sans', sans-serif" font-size="5.4" fill="#111" text-anchor="end">0.8</text>
<text x="344.2" y="344.9" font-family="'DejaVu Sans', sans-serif" font-size="5.4" fill="#111" text-anchor="end">1.0</text>
<path d="M351.4 460.2v1.8M367.3 460.2v1.8M383.1 460.2v1.8M399.0 460.2v1.8M414.8 460.2v1.8M430.7 460.2v1.8M446.6 460.2v1.8M462.4 460.2v1.8M345.8 454.9h-1.8M345.8 432.4h-1.8M345.8 410.0h-1.8M345.8 387.5h-1.8M345.8 365.1h-1.8M345.8 342.6h-1.8" stroke="#888" stroke-width="0.6"/>
<text x="358.8" y="355.6" font-family="'DejaVu Sans', sans-serif" font-size="12.55" fill="#000">r = 0.863</text>
<text x="406.8" y="330.3" font-family="'DejaVu Sans', sans-serif" font-size="12.4" fill="#1a1a1a" text-anchor="middle">gamma</text>
<path d="M521.9 449.4h0M513.3 436.6h0M522.3 417.5h0M521.1 447.2h0M517.5 436.6h0M523.1 438.7h0M561.2 389.9h0M514.1 447.2h0M530.3 445.1h0M512.1 451.5h0M501.8 443.0h0M518.4 436.6h0M546.9 404.7h0M516.3 436.6h0M518.7 434.5h0M546.6 385.6h0M538.5 402.6h0M513.5 430.2h0M507.2 453.6h0M589.8 341.0h0M529.6 430.2h0M507.2 451.5h0M519.4 443.0h0M553.2 409.0h0M531.6 421.7h0M506.3 447.2h0M515.4 438.7h0M515.4 438.7h0M529.1 409.0h0M545.6 409.0h0M516.7 447.2h0M511.7 430.2h0M520.7 423.9h0M515.8 438.7h0M511.6 438.7h0M514.0 430.2h0M559.3 394.1h0M521.2 432.4h0M560.1 375.0h0M579.8 421.7h0M550.4 411.1h0M520.3 406.9h0M502.8 449.4h0M509.1 434.5h0M533.4 419.6h0M560.0 387.8h0M512.6 434.5h0M531.8 411.1h0M522.9 432.4h0M523.7 413.2h0M530.6 400.5h0M514.6 430.2h0M506.8 434.5h0M512.9 447.2h0M511.0 434.5h0M532.1 428.1h0M562.4 443.0h0M503.1 453.6h0M535.5 406.9h0M540.5 432.4h0M506.8 447.2h0M518.0 426.0h0M538.6 423.9h0M513.0 432.4h0M525.5 421.7h0M550.7 392.0h0M551.4 400.5h0M520.6 423.9h0M581.7 351.6h0M519.7 434.5h0M531.0 419.6h0M530.3 423.9h0M529.7 413.2h0M524.4 411.1h0M528.8 423.9h0M542.4 421.7h0M531.2 423.9h0M563.4 400.5h0M564.0 377.1h0M510.3 443.0h0M512.7 430.2h0M525.4 421.7h0M525.2 426.0h0M507.6 445.1h0M542.3 404.7h0M507.1 445.1h0M524.7 423.9h0M533.9 417.5h0M520.7 430.2h0M508.8 447.2h0M551.2 423.9h0M533.6 404.7h0M503.4 438.7h0M532.1 415.4h0M517.2 432.4h0M527.3 426.0h0M515.7 436.6h0M566.1 389.9h0M531.7 432.4h0M536.0 419.6h0M525.6 423.9h0M523.1 432.4h0M506.4 449.4h0M514.9 438.7h0M525.4 423.9h0M515.5 434.5h0M557.1 377.1h0M522.7 434.5h0M508.3 436.6h0M517.7 430.2h0M528.2 428.1h0M505.0 451.5h0M545.2 406.9h0M550.6 389.9h0M513.9 438.7h0M516.8 447.2h0M529.3 404.7h0M520.5 438.7h0M539.6 430.2h0M519.6 428.1h0M537.1 396.3h0M549.7 400.5h0M533.6 421.7h0M542.1 417.5h0M529.3 419.6h0M549.0 404.7h0M546.6 398.4h0M514.9 443.0h0M557.8 387.8h0M520.1 438.7h0M501.2 449.4h0M561.6 351.6h0M505.9 449.4h0M541.8 402.6h0M511.2 428.1h0M526.3 443.0h0M508.9 447.2h0M509.2 436.6h0M522.4 421.7h0M517.3 438.7h0M514.7 436.6h0M519.4 443.0h0M507.3 453.6h0M509.0 436.6h0M522.1 434.5h0M522.5 415.4h0M511.8 436.6h0M521.3 432.4h0M551.5 381.4h0M538.4 419.6h0M538.8 423.9h0M537.9 413.2h0M505.8 453.6h0M541.9 411.1h0M532.2 411.1h0M539.6 372.9h0M511.9 451.5h0M509.5 434.5h0M513.5 453.6h0M527.3 438.7h0M510.1 434.5h0M542.5 413.2h0M539.3 400.5h0M517.5 440.9h0M547.3 392.0h0M503.9 438.7h0M533.3 423.9h0M513.2 445.1h0M550.2 406.9h0M531.6 415.4h0M548.4 411.1h0M517.7 440.9h0M554.5 430.2h0M550.5 389.9h0M526.3 417.5h0M531.5 432.4h0M534.9 419.6h0M503.6 447.2h0M519.3 428.1h0M537.5 409.0h0M510.7 432.4h0M548.4 400.5h0M516.3 434.5h0M521.0 449.4h0M518.6 411.1h0M530.3 438.7h0M515.7 432.4h0M539.5 392.0h0M562.7 387.8h0M521.2 430.2h0M534.7 426.0h0M517.0 430.2h0M515.9 440.9h0M516.6 443.0h0M507.8 438.7h0M533.0 415.4h0M562.3 360.1h0M550.9 409.0h0M543.6 387.8h0M549.5 419.6h0M527.8 417.5h0M560.2 404.7h0M542.9 426.0h0M514.4 432.4h0M510.1 438.7h0M535.3 394.1h0M512.1 445.1h0M515.3 430.2h0M541.3 428.1h0M532.7 406.9h0M533.3 428.1h0M517.2 447.2h0M507.7 436.6h0M549.6 402.6h0M548.6 404.7h0M545.4 423.9h0M512.9 447.2h0M520.2 419.6h0M525.5 406.9h0M516.6 443.0h0M516.0 438.7h0M513.7 432.4h0M535.3 402.6h0M513.3 443.0h0M529.8 406.9h0M563.7 351.6h0M513.6 440.9h0M520.8 447.2h0M509.0 443.0h0M543.7 419.6h0M504.8 453.6h0M502.9 445.1h0M581.1 383.5h0M522.2 443.0h0M515.2 436.6h0M533.5 432.4h0M538.2 396.3h0M550.4 406.9h0M535.7 404.7h0M552.4 402.6h0M582.8 345.3h0M517.6 428.1h0M548.3 392.0h0M524.0 432.4h0M514.3 440.9h0M527.1 445.1h0M538.5 409.0h0M509.3 436.6h0M509.3 436.6h0M508.2 432.4h0M513.9 449.4h0M507.4 449.4h0M506.9 445.1h0M530.1 426.0h0M508.8 449.4h0M544.1 419.6h0M528.2 392.0h0M522.7 428.1h0M511.1 434.5h0M521.9 451.5h0M567.8 387.8h0M522.4 432.4h0M513.0 445.1h0M538.4 423.9h0M525.3 436.6h0M517.3 428.1h0M537.9 400.5h0M546.7 421.7h0M519.7 417.5h0M551.3 398.4h0M506.6 440.9h0M540.4 428.1h0M524.1 419.6h0M557.0 396.3h0M532.2 438.7h0M510.8 436.6h0M503.9 440.9h0M530.9 404.7h0M563.8 366.5h0M533.7 406.9h0M524.3 421.7h0M523.5 415.4h0M524.9 432.4h0M526.4 434.5h0M511.4 438.7h0M547.8 400.5h0M514.8 440.9h0M535.6 423.9h0M508.4 438.7h0M513.5 443.0h0M523.5 406.9h0M538.5 426.0h0M523.3 430.2h0M510.3 438.7h0M508.3 440.9h0M524.3 426.0h0M542.1 415.4h0M503.4 453.6h0M507.1 434.5h0M540.7 400.5h0M518.1 447.2h0M511.8 451.5h0M521.7 426.0h0M510.9 445.1h0M590.0 343.2h0M518.6 443.0h0M511.2 447.2h0M511.9 445.1h0M550.5 415.4h0M587.8 366.5h0M527.5 421.7h0M505.3 451.5h0M517.7 436.6h0M522.2 417.5h0M510.5 434.5h0M542.1 398.4h0M555.4 409.0h0M537.9 421.7h0M538.0 406.9h0M559.8 394.1h0M511.5 423.9h0M518.7 430.2h0M517.2 430.2h0M507.9 449.4h0M549.3 426.0h0M551.1 426.0h0M532.6 411.1h0M567.5 383.5h0M505.8 447.2h0M530.7 415.4h0M537.2 409.0h0M521.4 426.0h0M552.5 406.9h0M532.2 436.6h0M528.8 436.6h0M511.8 445.1h0M505.9 449.4h0M558.2 402.6h0M506.0 430.2h0M543.8 415.4h0M565.0 377.1h0M506.2 451.5h0M552.3 383.5h0M522.7 443.0h0M544.8 396.3h0M518.2 419.6h0M525.4 419.6h0M531.8 415.4h0M516.2 426.0h0M534.8 445.1h0M540.9 385.6h0M516.3 438.7h0M536.5 402.6h0M573.9 360.1h0M550.8 421.7h0M589.5 396.3h0M510.3 453.6h0M549.8 409.0h0M525.9 436.6h0M532.6 423.9h0M519.3 449.4h0M553.3 402.6h0M509.1 440.9h0M507.6 451.5h0M536.6 398.4h0M539.8 411.1h0M503.8 453.6h0M529.0 428.1h0M532.8 419.6h0M581.3 341.0h0M546.8 400.5h0M512.1 453.6h0M504.2 451.5h0M541.0 402.6h0M552.6 368.6h0M526.3 434.5h0M506.6 434.5h0M533.9 426.0h0M557.5 392.0h0M534.5 430.2h0M516.1 440.9h0M551.9 402.6h0M507.3 440.9h0M535.7 409.0h0M525.0 451.5h0M524.0 415.4h0M556.6 383.5h0M545.2 430.2h0M554.0 383.5h0M521.2 432.4h0M564.7 372.9h0M539.9 402.6h0M534.1 411.1h0M511.1 436.6h0M525.3 438.7h0M500.8 453.6h0M539.1 419.6h0M520.9 432.4h0M512.5 453.6h0M522.7 419.6h0M529.0 400.5h0M513.3 453.6h0M553.0 394.1h0M520.5 438.7h0M507.6 447.2h0M499.3 453.6h0M572.2 364.4h0M537.5 406.9h0M506.3 443.0h0M524.0 432.4h0M562.8 402.6h0M540.6 409.0h0M518.8 436.6h0M515.8 447.2h0M509.5 447.2h0M519.2 434.5h0M504.0 449.4h0M536.3 406.9h0M527.3 434.5h0M547.6 417.5h0M529.9 417.5h0M529.6 402.6h0M547.6 426.0h0M541.4 432.4h0M514.9 434.5h0M563.3 370.8h0M512.7 434.5h0M516.9 428.1h0M542.3 432.4h0M514.1 436.6h0M513.7 432.4h0M555.0 379.3h0M527.1 421.7h0M533.0 440.9h0M505.3 434.5h0M511.6 443.0h0M546.1 434.5h0M526.1 415.4h0M519.0 436.6h0M524.8 432.4h0M522.8 426.0h0M509.8 443.0h0M548.5 392.0h0M518.1 438.7h0M533.8 423.9h0M507.6 440.9h0M550.0 366.5h0M514.1 436.6h0M510.5 438.7h0M512.1 436.6h0M521.3 430.2h0M522.5 445.1h0M521.1 419.6h0M528.1 417.5h0M546.8 411.1h0M502.4 443.0h0M508.5 440.9h0M514.5 432.4h0M530.2 402.6h0M521.3 434.5h0M516.2 438.7h0M528.4 428.1h0M518.6 436.6h0M510.2 445.1h0M510.4 440.9h0M529.0 396.3h0M567.5 415.4h0M509.2 453.6h0M528.7 413.2h0M513.8 436.6h0M562.2 409.0h0M523.9 428.1h0M505.8 434.5h0M516.1 445.1h0M501.8 453.6h0M510.8 453.6h0M506.6 452.7h0M505.7 453.3h0M498.3 452.9h0M506.4 453.1h0M510.6 453.1h0M512.9 453.4h0M511.4 452.9h0M507.3 453.6h0M507.8 453.3h0M505.3 453.6h0M501.1 453.2h0M505.4 453.2h0M500.7 453.5h0M505.0 453.5h0M498.6 453.6h0M508.3 453.1h0M505.9 453.6h0M504.2 453.6h0M503.4 453.6h0M509.9 453.5h0M500.8 453.5h0M511.2 453.4h0M512.9 453.4h0M608.2 351.6h0M604.4 347.4h0M598.8 351.6h0M595.1 377.1h0M591.4 375.0h0M604.4 381.4h0M585.8 355.9h0M587.7 360.1h0M584.0 362.3h0M576.5 347.4h0M565.3 349.5h0M576.5 360.1h0M572.8 360.1h0M574.6 360.1h0M546.7 360.1h0M552.3 362.3h0M552.3 364.4h0M559.7 364.4h0M559.7 368.6h0M556.0 370.8h0M533.7 370.8h0M539.3 372.9h0M552.3 372.9h0M572.8 364.4h0M582.1 377.1h0M584.0 377.1h0M580.2 389.9h0M582.1 400.5h0M576.5 413.2h0M570.9 396.3h0M531.8 381.4h0M531.8 368.6h0M546.7 377.1h0M563.5 379.3h0M565.3 385.6h0M569.1 379.3h0" stroke="#808080" stroke-width="1.95" stroke-linecap="round" fill="none"/>
<line x1="498.3" y1="454.2" x2="608.7" y2="338.9" stroke="#222" stroke-width="0.7"/>
<rect x="492.5" y="332.9" width="121.8" height="127.3" fill="none" stroke="#9a9a9a" stroke-width="0.9"/>
<text x="498.3" y="466.8" font-family="'DejaVu Sans', sans-serif" font-size="5.4" fill="#111" text-anchor="middle">0.0</text>
<text x="516.9" y="466.8" font-family="'DejaVu Sans', sans-serif" font-size="5.4" fill="#111" text-anchor="middle">0.1</text>
<text x="535.5" y="466.8" font-family="'DejaVu Sans', sans-serif" font-size="5.4" fill="#111" text-anchor="middle">0.2</text>
<text x="554.2" y="466.8" font-family="'DejaVu Sans', sans-serif" font-size="5.4" fill="#111" text-anchor="middle">0.3</text>
<text x="572.8" y="466.8" font-family="'DejaVu Sans', sans-serif" font-size="5.4" fill="#111" text-anchor="middle">0.4</text>
<text x="591.4" y="466.8" font-family="'DejaVu Sans', sans-serif" font-size="5.4" fill="#111" text-anchor="middle">0.5</text>
<text x="610.0" y="466.8" font-family="'DejaVu Sans', sans-serif" font-size="5.4" fill="#111" text-anchor="middle">0.6</text>
<text x="490.9" y="455.9" font-family="'DejaVu Sans', sans-serif" font-size="5.4" fill="#111" text-anchor="end">0.0</text>
<text x="490.9" y="434.7" font-family="'DejaVu Sans', sans-serif" font-size="5.4" fill="#111" text-anchor="end">0.1</text>
<text x="490.9" y="413.4" font-family="'DejaVu Sans', sans-serif" font-size="5.4" fill="#111" text-anchor="end">0.2</text>
<text x="490.9" y="392.2" font-family="'DejaVu Sans', sans-serif" font-size="5.4" fill="#111" text-anchor="end">0.3</text>
<text x="490.9" y="370.9" font-family="'DejaVu Sans', sans-serif" font-size="5.4" fill="#111" text-anchor="end">0.4</text>
<text x="490.9" y="349.7" font-family="'DejaVu Sans', sans-serif" font-size="5.4" fill="#111" text-anchor="end">0.5</text>
<path d="M498.3 460.2v1.8M516.9 460.2v1.8M535.5 460.2v1.8M554.2 460.2v1.8M572.8 460.2v1.8M591.4 460.2v1.8M610.0 460.2v1.8M492.5 453.6h-1.8M492.5 432.4h-1.8M492.5 411.1h-1.8M492.5 389.9h-1.8M492.5 368.6h-1.8M492.5 347.4h-1.8" stroke="#888" stroke-width="0.6"/>
<text x="505.5" y="355.6" font-family="'DejaVu Sans', sans-serif" font-size="12.55" fill="#000">r = 0.916</text>
<text x="553.4" y="330.3" font-family="'DejaVu Sans', sans-serif" font-size="12.4" fill="#1a1a1a" text-anchor="middle">macrophage</text>
<path d="M680.7 423.1h0M666.0 443.7h0M666.9 429.0h0M650.2 443.6h0M673.7 448.4h0M669.3 434.5h0M670.9 429.6h0M669.9 433.5h0M659.2 442.5h0M667.8 437.3h0M657.6 433.1h0M655.7 446.6h0M659.4 438.4h0M652.8 447.9h0M675.7 429.4h0M654.8 439.5h0M673.5 435.0h0M655.0 447.1h0M657.8 446.4h0M658.1 443.9h0M659.7 436.7h0M692.4 430.5h0M661.0 436.8h0M683.3 437.4h0M662.8 449.4h0M653.9 442.1h0M676.1 427.2h0M668.6 446.9h0M673.2 424.7h0M689.7 415.6h0M664.1 433.9h0M668.6 423.8h0M659.7 445.0h0M684.8 428.4h0M686.1 418.9h0M650.5 449.2h0M668.3 445.7h0M682.9 449.5h0M653.8 449.6h0M653.4 441.7h0M666.6 431.3h0M674.8 431.7h0M677.8 427.5h0M661.8 442.0h0M652.2 443.9h0M679.7 426.4h0M660.6 444.5h0M660.2 435.4h0M656.3 432.8h0M651.9 442.9h0M662.0 445.1h0M655.5 442.4h0M662.7 436.9h0M655.7 438.7h0M692.1 400.7h0M699.5 369.1h0M691.9 426.4h0M668.3 434.4h0M652.0 444.9h0M658.7 442.2h0M649.7 447.5h0M673.6 441.7h0M661.1 441.9h0M674.0 445.3h0M690.9 441.4h0M657.0 440.6h0M661.3 430.7h0M667.1 446.3h0M666.2 439.8h0M662.6 429.6h0M660.3 435.6h0M679.7 417.6h0M667.3 439.5h0M671.7 434.2h0M651.0 445.9h0M676.3 418.0h0M689.3 403.3h0M653.7 444.8h0M654.9 447.9h0M676.6 449.6h0M648.1 444.8h0M670.1 420.3h0M692.0 424.0h0M665.5 426.8h0M662.5 448.1h0M668.9 435.5h0M656.0 443.1h0M691.3 405.8h0M664.2 443.9h0M653.0 439.0h0M665.3 421.5h0M668.1 433.9h0M667.7 442.4h0M656.0 441.6h0M672.0 435.9h0M666.4 438.5h0M657.6 437.5h0M672.4 442.5h0M657.6 447.2h0M667.5 436.1h0M653.6 449.5h0M663.3 439.7h0M687.8 415.7h0M664.2 425.4h0M664.2 440.4h0M664.6 439.3h0M683.9 413.2h0M665.7 438.6h0M680.6 448.7h0M660.7 435.8h0M690.2 436.8h0M652.7 446.0h0M672.2 440.8h0M674.2 435.9h0M650.4 449.2h0M664.0 440.9h0M672.6 440.1h0M664.3 447.6h0M676.6 414.0h0M687.8 416.6h0M681.9 430.6h0M660.8 439.7h0M670.0 435.5h0M663.5 439.2h0M694.0 422.4h0M667.3 431.7h0M663.5 424.5h0M684.6 432.4h0M656.5 436.8h0M675.1 436.5h0M653.6 441.9h0M666.9 442.3h0M663.1 434.5h0M660.3 444.6h0M669.8 447.0h0M666.4 433.1h0M654.7 446.5h0M658.0 433.9h0M668.8 424.4h0M652.8 441.2h0M698.0 420.0h0M689.2 409.6h0M675.9 406.0h0M685.7 417.2h0M655.3 437.0h0M665.0 449.6h0M669.9 424.1h0M677.3 439.0h0M665.5 436.1h0M662.7 435.7h0M679.0 422.1h0M671.0 423.2h0M651.9 449.2h0M672.5 426.2h0M655.8 440.4h0M657.3 435.0h0M682.0 427.7h0M670.9 416.9h0M685.8 420.8h0M655.6 442.8h0M654.9 439.9h0M678.8 429.3h0M675.7 443.6h0M662.6 444.7h0M694.7 401.3h0M688.1 430.1h0M694.8 387.6h0M668.0 430.7h0M665.0 421.5h0M659.7 431.6h0M650.9 443.5h0M651.2 444.2h0M658.1 444.6h0M668.1 430.5h0M661.8 434.6h0M653.1 437.5h0M674.6 409.5h0M666.8 442.8h0M663.0 441.5h0M682.0 441.9h0M650.7 446.6h0M656.7 436.7h0M664.9 422.3h0M662.7 434.1h0M661.0 447.5h0M661.5 437.4h0M670.5 443.5h0M664.6 441.7h0M659.0 432.3h0M668.8 422.6h0M667.5 443.9h0M655.9 444.7h0M655.0 436.7h0M666.0 445.0h0M677.2 436.3h0M667.0 439.0h0M655.2 445.9h0M672.1 438.4h0M684.5 431.2h0M673.3 440.9h0M678.2 423.6h0M661.6 437.7h0M656.9 440.9h0M690.9 438.4h0M664.7 437.3h0M657.4 436.2h0M686.5 421.2h0M672.5 435.0h0M654.3 434.2h0M660.8 439.5h0M704.3 385.2h0M656.5 449.7h0M666.9 443.5h0M666.3 431.2h0M669.3 443.6h0M686.4 434.8h0M662.5 437.4h0M667.9 431.0h0M659.8 441.1h0M671.5 442.6h0M686.3 425.3h0M696.7 438.6h0M666.2 447.6h0M653.0 440.6h0M678.7 423.6h0M673.6 425.3h0M672.5 441.2h0M658.4 431.8h0M655.1 439.6h0M671.5 414.4h0M684.0 422.0h0M659.3 421.7h0M652.2 441.3h0M658.8 433.8h0M660.9 444.5h0M656.0 441.3h0M649.9 446.3h0M685.7 446.2h0M660.6 440.3h0M657.5 448.6h0M679.8 429.0h0M655.2 426.5h0M681.4 410.3h0M664.5 422.9h0M662.6 436.1h0M664.0 437.4h0M692.7 434.6h0M661.5 449.0h0M648.8 446.2h0M659.0 440.1h0M664.6 441.5h0M662.7 426.5h0M661.2 436.8h0M664.5 445.2h0M670.4 439.9h0M663.2 441.4h0M650.7 443.0h0M684.5 415.2h0M665.4 446.5h0M668.3 432.2h0M663.0 446.8h0M692.2 445.8h0M668.7 443.7h0M663.2 425.5h0M657.6 448.0h0M667.2 442.6h0M673.6 420.8h0M669.3 424.5h0M650.8 444.7h0M679.4 445.3h0M664.3 443.2h0M663.8 443.6h0M657.1 431.2h0M656.5 441.9h0M696.7 435.2h0M660.4 433.9h0M659.6 428.9h0M672.5 438.6h0M681.3 423.6h0M672.0 428.5h0M664.5 447.5h0M687.8 404.0h0M665.7 422.2h0M673.5 442.8h0M658.5 431.6h0M653.0 444.6h0M661.8 433.1h0M684.2 435.2h0M667.0 434.3h0M656.9 432.6h0M656.5 449.1h0M667.7 427.3h0M652.4 449.5h0M668.9 410.6h0M655.1 442.9h0M654.7 449.4h0M663.9 442.5h0M656.4 432.0h0M661.3 447.9h0M672.2 444.4h0M698.3 411.2h0M655.6 439.7h0M656.6 427.0h0M661.3 423.1h0M673.0 432.6h0M658.3 439.8h0M681.1 434.7h0M650.9 446.5h0M657.0 441.7h0M671.0 434.7h0M673.1 414.8h0M671.0 444.2h0M665.6 443.5h0M667.9 424.9h0M658.2 423.0h0M663.4 437.5h0M688.9 416.9h0M671.4 443.2h0M677.1 441.9h0M662.7 439.3h0M670.1 448.5h0M663.3 430.9h0M656.0 443.4h0M686.6 430.9h0M667.1 442.5h0M657.3 443.9h0M669.2 441.5h0M665.6 433.9h0M673.0 424.1h0M664.8 418.6h0M689.1 437.2h0M676.3 433.8h0M674.5 425.7h0M662.8 439.1h0M674.3 447.5h0M666.0 440.2h0M677.8 433.9h0M659.9 440.2h0M670.0 429.9h0M658.7 441.8h0M671.8 433.2h0M691.6 445.5h0M666.4 446.7h0M658.7 445.4h0M660.2 437.8h0M672.2 441.0h0M670.8 424.0h0M675.0 440.2h0M656.0 438.3h0M663.9 437.3h0M674.2 448.1h0M681.8 419.8h0M685.9 411.7h0M667.4 439.5h0M666.6 437.9h0M673.1 417.7h0M656.0 448.0h0M663.8 441.7h0M665.7 448.8h0M678.0 422.8h0M685.2 422.6h0M666.3 430.8h0M676.3 442.9h0M666.7 416.9h0M677.0 427.4h0M661.4 435.1h0M697.8 448.2h0M672.9 422.0h0M654.6 446.6h0M666.2 441.9h0M699.4 425.4h0M676.4 432.0h0M686.7 415.4h0M653.6 439.6h0M669.7 424.2h0M662.0 433.7h0M660.0 438.8h0M675.9 418.4h0M660.3 438.5h0M655.7 445.3h0M665.2 422.2h0M667.8 444.6h0M659.9 438.8h0M659.4 438.2h0M667.7 441.7h0M668.6 428.7h0M682.9 426.1h0M660.6 449.4h0M666.0 438.9h0M682.8 441.6h0M657.1 443.6h0M674.4 425.8h0M653.0 438.8h0M658.0 444.9h0M677.4 433.4h0M664.1 448.8h0M682.5 432.5h0M668.6 434.4h0M655.5 448.2h0M656.7 446.1h0M671.5 443.8h0M671.1 440.5h0M671.9 446.8h0M662.5 437.4h0M656.8 438.7h0M680.6 412.1h0M664.7 438.1h0M677.1 409.2h0M684.1 415.8h0M667.9 414.7h0M657.3 437.5h0M672.2 432.5h0M663.2 434.7h0M678.3 408.2h0M662.5 424.9h0M671.7 417.0h0M661.5 446.1h0M654.7 444.2h0M671.7 425.9h0M664.5 449.1h0M655.9 433.3h0M689.5 413.8h0M675.1 425.9h0M676.7 412.1h0M660.1 447.5h0M661.1 429.5h0M656.3 443.5h0M690.3 449.5h0M651.5 449.3h0M687.9 449.5h0M674.2 449.7h0M676.7 449.6h0M671.8 449.8h0M685.4 449.7h0M658.6 449.6h0M669.7 449.8h0M659.7 449.4h0M654.5 449.8h0M680.3 449.8h0M646.6 449.5h0M656.7 449.8h0M676.9 449.4h0M657.7 449.8h0M689.5 449.6h0M666.4 449.8h0M669.8 449.8h0M687.7 449.7h0M660.9 449.6h0M661.8 449.8h0M688.4 449.8h0M663.0 449.6h0M670.7 449.5h0M654.5 449.8h0M677.3 449.7h0M669.7 449.4h0M659.8 449.7h0M675.7 449.8h0M648.6 449.5h0M665.1 449.6h0M660.7 449.7h0M649.3 449.7h0M687.5 449.7h0M654.1 449.5h0M680.8 449.4h0M677.2 449.5h0M686.3 449.6h0M664.8 449.4h0M662.7 449.6h0M678.4 449.7h0M652.9 449.6h0M671.9 449.4h0M651.7 449.5h0M687.4 449.6h0M680.5 449.6h0M684.1 449.4h0M672.6 449.3h0M674.6 449.6h0M666.6 449.6h0M667.4 449.7h0M658.6 449.2h0M655.0 449.7h0M680.1 449.5h0M684.5 449.5h0M680.5 449.6h0M661.1 449.5h0M648.9 449.8h0M665.7 449.6h0M664.5 449.7h0M650.3 449.6h0M646.3 449.6h0M655.7 449.6h0M660.2 449.6h0M657.0 449.8h0M675.2 449.8h0M690.5 449.7h0M686.1 449.7h0M670.9 449.6h0M672.9 449.7h0M673.5 449.8h0M669.3 449.5h0M672.4 449.7h0M688.1 449.7h0M675.8 449.5h0M689.6 449.6h0M663.4 449.6h0M673.5 449.3h0M648.1 449.8h0M682.2 449.6h0M679.7 449.7h0M648.4 449.8h0M660.6 449.6h0M680.3 449.4h0M652.7 449.7h0M657.1 449.7h0M673.5 449.8h0M664.7 449.6h0M663.5 449.6h0M663.4 449.7h0M673.1 449.6h0M677.2 449.6h0M684.4 449.6h0M661.8 449.6h0M687.5 449.6h0M686.2 449.6h0M657.6 449.5h0M678.4 449.7h0M657.2 449.8h0M688.0 449.7h0M667.9 449.7h0M654.6 449.6h0M668.3 449.5h0M685.1 449.7h0M659.0 449.7h0M675.5 449.6h0M666.6 449.7h0M677.4 449.4h0M675.0 449.6h0M668.5 413.3h0M671.2 407.8h0M696.5 401.1h0M660.3 414.9h0M683.0 406.5h0M669.3 406.5h0M684.0 403.0h0M683.8 395.8h0M704.0 381.7h0M677.2 412.3h0M691.5 388.1h0M690.1 402.9h0M672.9 404.5h0M670.5 400.4h0M689.5 399.1h0M676.9 413.4h0M677.4 411.5h0M695.8 403.4h0M689.8 395.2h0M703.5 372.8h0M694.6 397.3h0M678.5 409.1h0M665.4 399.2h0M682.6 402.3h0M660.0 421.0h0M661.0 424.1h0M669.2 396.9h0M673.1 406.8h0M684.3 383.3h0M688.4 407.1h0M691.9 401.4h0M687.1 418.5h0M661.3 420.0h0M685.9 405.9h0M663.7 404.7h0M645.6 445.2h0M651.4 449.0h0M650.5 446.8h0M660.6 435.1h0M651.0 448.4h0M656.6 441.6h0M658.8 442.8h0M650.5 449.3h0M651.7 443.5h0M663.5 446.3h0M657.1 448.5h0M646.1 444.6h0M647.6 447.0h0M658.9 443.1h0M656.2 437.9h0M656.9 446.7h0M656.6 440.5h0M654.9 439.2h0M650.8 448.6h0M648.6 440.8h0M653.5 443.1h0M652.6 432.1h0M653.0 440.8h0M652.4 443.1h0M656.4 442.9h0M654.3 441.7h0M647.5 443.0h0M656.7 445.7h0M649.2 446.0h0M651.7 438.8h0M657.8 444.9h0M660.9 445.4h0M656.4 436.1h0M649.1 442.4h0M662.0 437.0h0M655.4 447.7h0M649.2 442.8h0M662.5 438.3h0M654.4 435.1h0M661.8 444.8h0M652.4 445.4h0M653.6 440.4h0M755.6 339.0h0M745.9 340.2h0M747.4 342.5h0M745.1 347.2h0M745.9 347.2h0M729.4 349.6h0M739.9 351.9h0M733.9 359.0h0M714.5 353.1h0M714.5 357.8h0M713.0 364.9h0M701.0 372.0h0M705.5 372.0h0M698.0 375.5h0M702.5 374.3h0M713.0 379.1h0M714.5 377.9h0M710.0 377.9h0M698.0 382.6h0M695.0 383.8h0M707.0 382.6h0M721.9 382.6h0M723.4 390.9h0M717.5 408.5h0M701.0 396.7h0M699.5 397.9h0M695.0 405.0h0M704.0 405.0h0M677.1 387.3h0M683.1 389.7h0M675.6 390.9h0M672.6 393.2h0M678.6 393.2h0M681.6 394.4h0M663.6 390.9h0M672.6 396.7h0M669.6 401.5h0M687.6 392.0h0M689.1 393.2h0M690.5 393.2h0M686.1 397.9h0" stroke="#808080" stroke-width="1.95" stroke-linecap="round" fill="none"/>
<line x1="644.2" y1="454.3" x2="755.6" y2="357.7" stroke="#222" stroke-width="0.7"/>
<rect x="638.8" y="332.9" width="121.7" height="127.3" fill="none" stroke="#9a9a9a" stroke-width="0.9"/>
<text x="644.2" y="466.8" font-family="'DejaVu Sans', sans-serif" font-size="5.4" fill="#111" text-anchor="middle">0.0</text>
<text x="674.1" y="466.8" font-family="'DejaVu Sans', sans-serif" font-size="5.4" fill="#111" text-anchor="middle">0.2</text>
<text x="704.0" y="466.8" font-family="'DejaVu Sans', sans-serif" font-size="5.4" fill="#111" text-anchor="middle">0.4</text>
<text x="733.9" y="466.8" font-family="'DejaVu Sans', sans-serif" font-size="5.4" fill="#111" text-anchor="middle">0.6</text>
<text x="637.2" y="452.1" font-family="'DejaVu Sans', sans-serif" font-size="5.4" fill="#111" text-anchor="end">0.0</text>
<text x="637.2" y="428.5" font-family="'DejaVu Sans', sans-serif" font-size="5.4" fill="#111" text-anchor="end">0.2</text>
<text x="637.2" y="404.9" font-family="'DejaVu Sans', sans-serif" font-size="5.4" fill="#111" text-anchor="end">0.4</text>
<text x="637.2" y="381.4" font-family="'DejaVu Sans', sans-serif" font-size="5.4" fill="#111" text-anchor="end">0.6</text>
<text x="637.2" y="357.8" font-family="'DejaVu Sans', sans-serif" font-size="5.4" fill="#111" text-anchor="end">0.8</text>
<path d="M644.2 460.2v1.8M674.1 460.2v1.8M704.0 460.2v1.8M733.9 460.2v1.8M638.8 449.8h-1.8M638.8 426.2h-1.8M638.8 402.6h-1.8M638.8 379.1h-1.8M638.8 355.5h-1.8" stroke="#888" stroke-width="0.6"/>
<text x="651.8" y="355.6" font-family="'DejaVu Sans', sans-serif" font-size="12.55" fill="#000">r = 0.786</text>
<text x="699.6" y="330.3" font-family="'DejaVu Sans', sans-serif" font-size="12.4" fill="#1a1a1a" text-anchor="middle">quiescent_stellate</text>
<path d="M93.1 585.3h0M73.7 582.4h0M65.5 588.0h0M82.0 576.5h0M66.7 584.4h0M95.5 578.1h0M89.8 592.9h0M115.1 552.7h0M81.3 578.9h0M111.5 564.4h0M81.9 579.6h0M86.3 582.6h0M98.8 559.7h0M62.4 592.0h0M63.2 592.1h0M92.9 568.4h0M66.7 593.0h0M103.1 572.2h0M111.0 551.1h0M81.4 579.9h0M92.6 569.9h0M73.6 584.0h0M87.6 576.9h0M77.7 590.8h0M69.8 584.9h0M108.9 552.5h0M81.4 579.3h0M93.5 572.9h0M77.7 582.6h0M96.4 580.5h0M75.5 581.1h0M88.1 581.6h0M74.7 576.6h0M60.6 591.9h0M72.3 582.2h0M79.9 582.5h0M116.6 556.2h0M79.1 572.5h0M83.6 577.8h0M68.9 586.2h0M80.6 575.8h0M73.0 579.1h0M85.5 576.1h0M95.5 566.9h0M70.1 592.5h0M69.4 588.6h0M73.2 579.0h0M80.5 588.9h0M69.4 583.4h0M74.8 575.2h0M74.8 579.5h0M107.9 566.0h0M68.0 585.3h0M91.4 580.5h0M83.6 580.4h0M85.5 571.6h0M71.3 581.1h0M87.0 578.0h0M84.1 576.0h0M73.2 579.5h0M91.8 573.3h0M71.1 588.0h0M69.0 587.7h0M63.6 586.5h0M79.1 573.1h0M65.2 585.0h0M72.5 585.1h0M74.2 582.1h0M90.3 574.0h0M71.5 589.3h0M95.0 577.4h0M65.2 589.0h0M79.2 573.4h0M70.6 585.5h0M78.4 576.2h0M66.8 583.5h0M62.8 590.9h0M62.2 587.4h0M76.9 576.1h0M114.6 560.3h0M97.5 577.9h0M88.2 579.7h0M74.4 583.4h0M74.9 580.0h0M83.7 577.7h0M94.2 566.4h0M62.8 585.7h0M69.9 585.2h0M71.3 590.1h0M87.4 583.9h0M94.3 576.4h0M115.6 561.9h0M70.7 586.2h0M96.0 576.3h0M64.8 589.5h0M84.4 569.9h0M97.5 565.1h0M97.6 572.6h0M62.4 587.7h0M75.1 582.2h0M100.8 568.9h0M89.4 578.8h0M66.2 590.7h0M88.7 567.8h0M77.8 584.2h0M100.4 578.9h0M89.6 570.4h0M77.6 587.9h0M100.1 571.7h0M76.0 579.3h0M104.4 575.2h0M70.8 591.8h0M84.5 582.0h0M91.7 571.6h0M85.9 570.7h0M81.5 578.5h0M91.6 577.6h0M83.9 578.3h0M79.8 570.9h0M59.5 592.7h0M67.1 587.8h0M92.5 582.6h0M75.3 584.9h0M64.3 590.6h0M76.9 579.1h0M78.9 586.4h0M84.8 565.3h0M90.1 577.2h0M70.0 582.8h0M63.8 587.3h0M83.7 577.2h0M77.8 579.2h0M78.3 585.9h0M70.1 583.8h0M89.5 577.0h0M65.1 590.2h0M111.1 571.2h0M104.6 563.4h0M103.5 577.6h0M69.3 589.7h0M68.8 589.3h0M95.9 558.0h0M75.0 583.9h0M64.5 585.8h0M73.4 591.7h0M66.6 594.0h0M61.0 590.7h0M118.6 562.3h0M82.3 577.7h0M62.3 589.4h0M63.6 592.4h0M79.6 588.2h0M60.1 590.7h0M83.1 582.2h0M99.3 573.9h0M70.3 585.9h0M83.1 572.4h0M92.9 573.7h0M91.8 577.5h0M75.8 576.1h0M113.9 553.5h0M65.6 588.7h0M72.6 588.0h0M72.3 589.5h0M68.7 591.6h0M61.0 594.1h0M71.3 588.2h0M69.0 590.6h0M71.0 588.3h0M72.7 579.2h0M78.6 580.3h0M87.9 581.1h0M71.8 589.2h0M81.0 580.0h0M74.2 582.9h0M71.8 580.1h0M108.9 572.1h0M87.6 587.8h0M80.8 579.1h0M98.5 576.6h0M90.3 581.1h0M84.1 581.2h0M112.1 556.5h0M85.8 580.9h0M76.9 576.4h0M81.3 567.6h0M67.1 586.6h0M103.2 570.4h0M71.5 577.7h0M77.9 593.1h0M72.6 587.6h0M112.2 559.5h0M86.0 587.3h0M116.5 566.2h0M71.5 581.8h0M68.2 589.7h0M91.9 570.0h0M77.3 591.8h0M83.0 576.3h0M95.0 581.7h0M79.1 583.4h0M69.1 591.0h0M93.0 561.8h0M89.1 584.2h0M92.0 571.2h0M71.0 586.6h0M77.9 579.0h0M85.3 584.2h0M72.2 584.0h0M99.9 568.2h0M89.7 577.7h0M90.2 566.5h0M65.7 584.3h0M84.1 571.6h0M84.4 579.2h0M83.4 581.8h0M85.3 579.7h0M81.7 577.1h0M95.7 579.3h0M85.2 584.7h0M102.8 562.7h0M65.2 587.5h0M95.7 560.5h0M78.8 583.5h0M109.8 559.0h0M83.8 577.7h0M73.8 585.7h0M98.9 574.4h0M100.9 571.5h0M66.4 586.9h0M75.2 576.0h0M76.5 581.7h0M68.3 591.2h0M98.3 576.2h0M73.5 585.1h0M116.3 572.8h0M72.5 576.3h0M63.2 588.5h0M80.4 584.6h0M104.7 571.3h0M60.3 591.9h0M82.7 573.2h0M62.7 594.0h0M84.2 565.8h0M101.0 564.4h0M89.4 577.5h0M108.1 562.7h0M106.4 566.1h0M112.7 558.2h0M73.4 580.1h0M73.6 586.3h0M101.3 556.8h0M80.0 575.8h0M76.7 585.1h0M72.5 584.3h0M87.7 574.6h0M93.4 567.3h0M81.1 581.3h0M78.9 576.7h0M118.6 561.7h0M70.2 582.2h0M69.4 584.4h0M63.8 589.9h0M107.9 577.5h0M83.7 583.6h0M62.7 591.5h0M81.6 575.8h0M81.7 577.2h0M90.4 571.0h0M76.1 589.1h0M82.8 586.5h0M94.0 574.9h0M68.8 586.4h0M69.3 593.6h0M99.5 572.7h0M90.2 579.7h0M70.3 587.8h0M117.7 572.3h0M67.5 580.2h0M76.6 585.3h0M87.9 577.7h0M71.7 582.5h0M70.5 587.9h0M67.0 587.8h0M73.9 577.1h0M61.7 593.3h0M62.8 588.4h0M78.5 587.7h0M99.0 572.3h0M66.7 585.5h0M77.9 581.4h0M93.2 575.5h0M68.1 587.5h0M65.2 592.9h0M74.4 579.8h0M100.7 573.8h0M86.1 578.7h0M102.7 566.5h0M74.5 583.9h0M71.1 582.2h0M73.1 583.5h0M92.1 581.6h0M76.3 578.3h0M94.8 559.2h0M68.0 581.5h0M93.8 559.3h0M70.0 592.0h0M71.0 580.4h0M92.1 566.2h0M74.0 579.7h0M78.5 569.7h0M77.4 584.6h0M72.3 583.5h0M84.2 569.2h0M103.5 574.2h0M106.1 570.4h0M62.3 587.2h0M104.3 554.2h0M86.3 579.4h0M77.6 575.7h0M110.8 552.4h0M71.2 581.4h0M79.2 585.5h0M105.0 575.8h0M84.4 572.9h0M71.6 587.0h0M67.1 584.4h0M94.3 555.1h0M80.7 578.5h0M117.0 560.2h0M67.9 585.0h0M72.0 578.1h0M73.0 582.2h0M63.2 593.1h0M83.7 583.6h0M62.9 593.8h0M89.9 573.2h0M64.8 586.3h0M66.0 588.9h0M69.3 593.5h0M77.7 588.4h0M77.0 592.0h0M68.9 584.3h0M78.5 589.2h0M66.6 590.8h0M86.9 580.8h0M83.7 576.8h0M88.3 566.6h0M86.5 574.3h0M117.6 583.1h0M60.1 593.1h0M92.8 572.1h0M104.8 551.7h0M77.7 580.8h0M93.6 580.4h0M92.7 569.4h0M78.8 591.6h0M86.0 572.1h0M74.2 584.1h0M75.9 587.0h0M76.1 581.2h0M78.1 579.3h0M93.9 573.7h0M79.1 581.6h0M70.3 584.7h0M70.1 588.2h0M76.3 579.8h0M85.2 563.5h0M64.6 593.1h0M73.6 592.0h0M94.2 586.4h0M84.8 575.3h0M69.5 588.9h0M111.6 556.3h0M80.9 568.8h0M92.2 569.1h0M72.2 584.8h0M80.9 575.3h0M105.3 550.9h0M88.0 571.7h0M86.5 574.3h0M74.4 589.6h0M113.9 544.6h0M81.4 581.6h0M102.7 575.0h0M63.8 584.6h0M74.9 585.3h0M89.2 582.4h0M111.3 558.1h0M70.4 590.2h0M79.2 578.9h0M112.3 565.1h0M81.0 576.6h0M65.5 589.1h0M103.5 558.2h0M66.8 588.2h0M83.5 583.0h0M69.6 585.9h0M77.2 576.4h0M64.9 591.5h0M85.5 574.7h0M76.8 576.0h0M70.3 591.5h0M72.7 584.0h0M100.5 565.5h0M67.4 588.0h0M71.3 581.9h0M65.6 590.8h0M94.2 578.0h0M94.8 565.5h0M79.3 576.5h0M79.5 578.8h0M73.4 589.0h0M70.5 584.8h0M68.7 587.2h0M87.0 583.5h0M100.7 574.0h0M63.8 591.6h0M72.0 577.7h0M105.2 573.5h0M59.4 593.1h0M99.2 569.3h0M76.0 582.6h0M102.8 562.5h0M74.1 580.1h0M78.6 588.7h0M72.9 584.5h0M92.8 574.5h0M113.1 573.8h0M62.7 593.1h0M64.3 590.5h0M89.7 577.9h0M102.4 574.5h0M84.4 580.5h0M86.3 570.3h0M66.6 589.3h0M86.2 583.1h0M106.5 559.3h0M94.5 562.8h0M65.1 591.5h0M71.9 584.7h0M110.6 560.9h0M71.1 589.3h0M103.5 567.8h0M65.5 588.6h0M63.6 588.5h0M76.5 591.7h0M92.8 585.2h0M99.7 567.9h0M101.6 558.8h0M93.7 573.6h0M68.1 582.6h0M62.2 587.1h0M80.8 575.3h0M94.7 577.1h0M62.4 584.9h0M84.1 559.0h0M107.4 567.0h0M73.1 582.3h0M61.7 586.3h0M69.2 590.0h0M95.5 565.5h0M81.1 585.7h0M86.6 575.2h0M117.0 556.6h0M71.7 593.6h0M64.6 587.3h0M85.7 565.6h0M71.4 579.4h0M87.8 573.3h0M75.5 586.5h0M102.6 580.0h0M69.8 584.5h0M81.5 571.0h0M79.0 583.1h0M74.1 586.3h0M95.3 575.5h0M80.3 567.7h0M67.3 593.2h0M94.6 548.1h0M100.9 568.7h0M91.8 574.8h0M99.6 561.1h0M78.0 578.9h0M85.2 570.8h0M77.4 578.3h0M91.1 575.5h0M107.2 572.1h0M70.7 589.0h0M104.2 562.4h0M90.3 575.3h0M70.0 587.9h0M65.2 593.3h0M86.4 577.3h0M89.5 579.1h0M95.8 563.1h0M73.9 578.7h0M112.2 556.1h0M114.2 541.4h0M124.4 547.1h0M105.5 560.5h0M131.8 539.1h0M105.5 562.7h0M105.4 560.1h0M109.8 568.2h0M66.0 594.1h0M70.4 594.1h0M71.5 594.1h0M72.2 593.7h0M64.7 594.1h0M67.7 594.2h0M65.9 594.0h0M64.7 594.1h0M60.8 594.0h0M67.9 594.0h0M68.7 594.0h0M67.4 594.0h0M67.5 594.2h0M58.5 593.9h0M64.2 593.7h0M66.8 594.1h0M71.3 594.2h0M61.6 594.1h0M58.7 594.1h0M62.8 594.2h0M154.3 480.5h0M160.4 484.0h0M153.1 486.3h0M151.9 491.0h0M155.5 494.4h0M145.8 497.9h0M167.7 506.0h0M142.1 515.3h0M145.8 513.0h0M147.0 511.8h0M140.9 524.6h0M143.3 526.9h0M125.1 516.5h0M128.8 518.8h0M127.6 521.1h0M130.0 521.1h0M128.8 525.8h0M131.2 530.4h0M123.9 523.4h0M122.7 530.4h0M122.7 533.9h0M127.6 539.7h0M126.3 544.3h0M127.6 554.8h0M105.7 539.7h0M110.5 539.7h0M113.0 538.5h0M106.9 540.8h0M94.8 549.0h0" stroke="#000080" stroke-width="2.25" stroke-linecap="round" fill="none"/>
<line x1="58.3" y1="597.1" x2="170.0" y2="500.0" stroke="#222" stroke-width="0.7"/>
<rect x="52.6" y="474.4" width="122.9" height="128.4" fill="none" stroke="#9a9a9a" stroke-width="0.9"/>
<text x="58.3" y="609.4" font-family="'DejaVu Sans', sans-serif" font-size="5.4" fill="#111" text-anchor="middle">0.0</text>
<text x="82.6" y="609.4" font-family="'DejaVu Sans', sans-serif" font-size="5.4" fill="#111" text-anchor="middle">0.2</text>
<text x="106.9" y="609.4" font-family="'DejaVu Sans', sans-serif" font-size="5.4" fill="#111" text-anchor="middle">0.4</text>
<text x="131.2" y="609.4" font-family="'DejaVu Sans', sans-serif" font-size="5.4" fill="#111" text-anchor="middle">0.6</text>
<text x="155.5" y="609.4" font-family="'DejaVu Sans', sans-serif" font-size="5.4" fill="#111" text-anchor="middle">0.8</text>
<text x="51.0" y="596.5" font-family="'DejaVu Sans', sans-serif" font-size="5.4" fill="#111" text-anchor="end">0.0</text>
<text x="51.0" y="573.3" font-family="'DejaVu Sans', sans-serif" font-size="5.4" fill="#111" text-anchor="end">0.2</text>
<text x="51.0" y="550.1" font-family="'DejaVu Sans', sans-serif" font-size="5.4" fill="#111" text-anchor="end">0.4</text>
<text x="51.0" y="526.9" font-family="'DejaVu Sans', sans-serif" font-size="5.4" fill="#111" text-anchor="end">0.6</text>
<text x="51.0" y="503.7" font-family="'DejaVu Sans', sans-serif" font-size="5.4" fill="#111" text-anchor="end">0.8</text>
<text x="51.0" y="480.5" font-family="'DejaVu Sans', sans-serif" font-size="5.4" fill="#111" text-anchor="end">1.0</text>
<path d="M58.3 602.8v1.8M82.6 602.8v1.8M106.9 602.8v1.8M131.2 602.8v1.8M155.5 602.8v1.8M52.6 594.2h-1.8M52.6 571.0h-1.8M52.6 547.8h-1.8M52.6 524.6h-1.8M52.6 501.4h-1.8M52.6 478.2h-1.8" stroke="#888" stroke-width="0.6"/>
<text x="65.6" y="497.1" font-family="'DejaVu Sans', sans-serif" font-size="12.55" fill="#000">r = 0.941</text>
<path d="M208.3 593.5h0M211.1 587.6h0M247.7 533.9h0M224.8 586.3h0M223.7 570.5h0M223.7 578.7h0M207.9 593.5h0M209.4 593.4h0M212.8 588.3h0M209.2 592.6h0M210.9 586.4h0M217.0 588.5h0M231.4 574.3h0M210.9 594.6h0M233.9 571.1h0M215.6 590.7h0M224.0 588.1h0M236.0 578.5h0M214.0 581.6h0M238.1 557.9h0M218.4 593.1h0M221.8 575.7h0M216.3 592.3h0M207.3 594.5h0M213.9 586.9h0M227.7 584.7h0M229.0 577.7h0M226.0 568.0h0M209.7 591.5h0M220.9 578.4h0M226.5 580.8h0M226.3 583.6h0M239.7 574.0h0M233.9 561.6h0M244.9 560.8h0M212.0 592.6h0M212.8 589.5h0M208.3 590.3h0M226.4 576.2h0M217.7 575.9h0M208.4 590.2h0M209.7 591.9h0M239.4 561.5h0M223.8 575.7h0M233.1 581.7h0M212.3 591.7h0M229.2 564.7h0M216.0 583.0h0M234.2 574.1h0M241.9 573.7h0M242.9 563.0h0M236.3 572.9h0M245.2 572.2h0M215.7 584.0h0M228.0 562.1h0M212.8 583.7h0M208.0 594.2h0M222.4 580.9h0M207.1 589.5h0M206.7 592.5h0M247.2 570.6h0M209.8 592.5h0M212.4 587.9h0M226.3 571.5h0M216.5 582.9h0M229.2 581.6h0M221.9 584.8h0M211.3 591.4h0M227.4 573.5h0M215.9 583.5h0M230.4 569.2h0M227.6 573.4h0M232.2 574.2h0M217.1 578.1h0M221.3 578.9h0M207.7 593.3h0M218.8 584.5h0M236.4 564.6h0M210.4 587.0h0M213.4 586.5h0M229.7 567.6h0M213.4 588.1h0M235.5 579.2h0M208.5 589.6h0M210.7 590.3h0M219.4 594.4h0M207.7 589.1h0M235.0 553.5h0M212.0 592.2h0M221.6 580.5h0M212.9 585.3h0M217.4 585.6h0M213.5 582.4h0M215.1 585.9h0M210.7 593.1h0M227.4 567.6h0M207.2 594.5h0M210.8 589.0h0M211.2 582.5h0M219.8 588.5h0M229.0 563.5h0M223.6 582.1h0M226.1 575.7h0M215.6 588.5h0M212.5 592.4h0M227.0 559.3h0M233.6 555.6h0M238.5 570.3h0M226.0 573.4h0M224.1 573.9h0M216.6 583.4h0M206.8 594.0h0M215.8 585.6h0M241.0 553.0h0M208.6 587.4h0M234.5 569.1h0M207.0 590.1h0M213.3 580.5h0M224.8 576.1h0M228.7 570.7h0M243.0 558.1h0M221.6 585.4h0M217.6 577.8h0M230.9 561.5h0M225.3 574.2h0M221.2 580.7h0M223.7 578.5h0M221.3 578.7h0M217.1 582.6h0M224.5 572.2h0M216.1 580.5h0M211.2 590.2h0M213.8 587.1h0M235.4 573.2h0M226.9 578.9h0M213.8 582.8h0M228.4 562.1h0M228.9 583.2h0M218.1 584.6h0M210.7 592.6h0M211.7 592.5h0M221.4 569.7h0M210.9 589.0h0M208.3 590.6h0M216.7 574.5h0M208.3 593.6h0M221.0 578.9h0M227.0 574.0h0M230.7 587.8h0M242.5 576.3h0M218.6 575.2h0M214.9 583.6h0M214.8 583.2h0M207.6 592.8h0M218.9 579.2h0M230.5 567.1h0M219.7 579.8h0M212.2 584.9h0M241.3 559.2h0M211.5 590.0h0M218.2 585.3h0M212.8 585.9h0M207.0 592.0h0M239.0 561.7h0M224.8 573.7h0M242.8 560.2h0M212.6 580.2h0M220.3 584.8h0M242.0 551.0h0M227.6 567.2h0M207.1 593.6h0M212.0 588.6h0M210.7 588.6h0M208.2 591.4h0M210.7 584.8h0M214.5 583.0h0M210.4 584.3h0M224.6 579.9h0M209.9 583.3h0M223.7 570.3h0M230.7 583.2h0M214.7 584.5h0M214.3 588.8h0M213.0 592.9h0M213.3 593.0h0M207.9 593.0h0M211.2 593.8h0M220.6 583.0h0M216.7 581.1h0M212.8 590.0h0M214.5 589.3h0M236.8 565.8h0M218.3 576.3h0M231.2 567.1h0M227.8 574.9h0M221.1 578.8h0M216.4 578.0h0M237.9 578.1h0M223.0 584.6h0M209.7 594.7h0M215.4 577.4h0M214.7 587.0h0M216.0 589.9h0M234.9 571.4h0M220.7 579.0h0M223.6 572.2h0M219.7 578.6h0M222.8 585.0h0M220.9 574.8h0M211.1 591.3h0M223.6 574.9h0M218.7 577.4h0M213.4 587.4h0M235.5 583.2h0M214.8 585.1h0M212.5 591.9h0M227.6 572.2h0M212.8 588.7h0M232.0 571.3h0M213.2 585.8h0M222.8 577.0h0M209.1 590.4h0M236.0 566.3h0M222.4 586.8h0M222.8 568.1h0M220.5 583.1h0M226.8 568.0h0M207.6 592.0h0M207.3 594.4h0M214.1 587.5h0M212.4 586.6h0M213.1 585.6h0M211.8 586.3h0M226.9 575.5h0M227.0 585.4h0M237.2 550.8h0M213.8 574.4h0M211.2 588.0h0M210.6 589.1h0M221.2 567.7h0M221.1 574.3h0M214.9 583.2h0M225.4 575.8h0M213.0 579.9h0M229.0 575.2h0M216.0 589.4h0M223.2 578.0h0M209.0 591.5h0M217.4 588.5h0M212.7 585.4h0M222.8 576.1h0M217.2 580.8h0M212.2 588.7h0M215.2 585.1h0M221.5 585.9h0M210.7 592.6h0M219.5 586.0h0M242.4 576.3h0M210.5 585.4h0M220.4 586.5h0M226.0 571.8h0M221.5 578.6h0M228.7 565.6h0M209.0 588.9h0M236.4 561.5h0M226.8 572.7h0M215.0 579.7h0M212.5 588.1h0M222.9 584.3h0M223.5 573.0h0M219.8 590.7h0M229.9 579.3h0M224.4 577.5h0M214.2 589.1h0M224.0 577.3h0M231.0 555.9h0M211.2 592.2h0M215.9 582.7h0M211.0 586.9h0M214.9 582.9h0M207.0 591.0h0M214.0 588.8h0M206.9 593.7h0M210.7 585.4h0M217.4 590.3h0M238.4 564.4h0M215.7 587.9h0M216.2 584.1h0M233.3 584.5h0M243.4 561.1h0M214.0 584.8h0M230.6 579.8h0M218.4 582.7h0M241.2 549.3h0M210.7 588.0h0M224.4 588.7h0M207.0 593.0h0M231.5 582.8h0M242.0 564.8h0M232.7 570.4h0M216.7 588.2h0M209.5 592.8h0M221.0 571.1h0M220.4 594.5h0M215.7 587.1h0M247.7 543.1h0M219.1 579.5h0M210.4 589.5h0M211.4 589.1h0M210.9 593.4h0M214.4 588.6h0M232.1 573.5h0M229.7 574.0h0M231.3 577.7h0M223.6 577.8h0M222.6 574.6h0M207.1 591.2h0M215.8 584.2h0M211.3 585.5h0M225.9 577.1h0M211.9 586.9h0M221.1 583.2h0M212.3 586.2h0M225.3 573.9h0M207.6 590.5h0M214.1 587.0h0M207.3 592.7h0M219.4 581.8h0M233.8 573.4h0M228.5 586.1h0M209.2 590.1h0M213.0 594.5h0M228.9 573.9h0M222.9 583.9h0M215.0 589.5h0M211.0 590.0h0M223.1 574.7h0M215.5 586.6h0M224.0 572.9h0M217.6 570.8h0M229.3 571.5h0M232.1 568.4h0M228.2 573.3h0M217.5 584.3h0M218.9 581.0h0M214.5 588.7h0M215.6 584.0h0M214.9 586.8h0M211.5 583.9h0M212.4 593.5h0M215.7 574.7h0M238.8 573.7h0M228.3 577.6h0M210.7 587.3h0M213.4 587.5h0M224.5 584.2h0M213.0 585.5h0M209.6 592.3h0M230.8 567.3h0M221.8 582.6h0M218.5 576.8h0M217.0 583.1h0M218.5 576.6h0M234.0 566.5h0M218.8 580.2h0M213.4 590.2h0M221.1 577.5h0M236.1 566.6h0M227.5 569.3h0M223.5 578.3h0M207.9 592.0h0M211.7 592.5h0M222.7 590.5h0M248.2 560.6h0M217.5 588.8h0M217.4 584.7h0M234.6 581.1h0M210.0 589.9h0M248.7 545.4h0M216.8 587.6h0M214.1 592.4h0M226.4 567.5h0M214.9 582.6h0M227.4 567.8h0M233.0 563.6h0M216.6 582.3h0M229.7 569.8h0M215.8 578.0h0M224.1 573.5h0M210.2 593.1h0M214.1 589.2h0M210.5 586.4h0M222.2 578.1h0M218.6 576.5h0M215.1 593.2h0M227.5 573.9h0M212.5 585.9h0M234.3 565.2h0M234.6 578.5h0M225.3 583.6h0M213.5 581.1h0M211.7 590.2h0M227.5 577.4h0M221.3 584.1h0M215.6 584.4h0M210.8 586.8h0M217.1 580.8h0M236.6 554.7h0M213.9 586.5h0M218.9 570.7h0M211.6 589.6h0M217.2 578.2h0M210.3 586.3h0M231.9 579.8h0M217.1 582.0h0M225.9 576.2h0M212.3 589.1h0M232.9 563.2h0M223.6 578.3h0M210.6 590.5h0M212.0 587.4h0M213.5 581.9h0M217.0 585.1h0M215.1 579.7h0M226.7 574.3h0M230.7 566.8h0M219.8 583.0h0M213.3 587.9h0M240.5 553.4h0M217.9 580.3h0M216.4 594.3h0M208.5 593.2h0M221.3 574.9h0M209.3 588.9h0M206.9 594.7h0M218.1 582.6h0M225.8 579.4h0M216.3 584.9h0M221.5 586.3h0M206.8 592.7h0M215.3 582.9h0M218.7 584.0h0M219.1 581.9h0M213.1 588.3h0M246.6 556.7h0M215.6 588.0h0M211.7 588.3h0M220.0 580.4h0M216.5 583.1h0M208.4 591.8h0M217.9 582.8h0M215.8 582.3h0M221.8 593.8h0M208.1 590.5h0M227.9 568.9h0M218.7 579.0h0M223.6 577.5h0M210.2 588.8h0M212.5 585.2h0M212.1 589.5h0M225.3 579.7h0M211.8 588.3h0M212.1 584.7h0M210.8 594.8h0M214.0 594.6h0M206.8 594.8h0M213.6 594.7h0M211.2 594.4h0M208.5 594.7h0M206.3 594.6h0M206.8 594.7h0M210.4 594.8h0M206.8 594.8h0M212.0 594.4h0M211.1 594.8h0M212.9 594.7h0M205.8 594.6h0M214.0 594.8h0M210.8 594.5h0M209.8 594.8h0M206.0 594.7h0M215.4 594.8h0M212.8 594.8h0M237.3 565.9h0M233.1 571.7h0M283.0 494.8h0M306.4 490.6h0M299.1 497.9h0M316.6 495.8h0M303.5 507.4h0M307.9 507.4h0M268.4 507.4h0M274.2 508.5h0M269.9 512.7h0M274.2 514.8h0M255.2 519.0h0M275.7 524.2h0M285.9 526.4h0M262.5 527.4h0M268.4 529.5h0M278.6 535.8h0M247.9 532.7h0M252.3 530.6h0M259.6 535.8h0M265.5 541.1h0M264.0 541.1h0M258.1 545.3h0M256.7 547.4h0M259.6 554.8h0M258.1 556.9h0M249.4 560.1h0M245.0 542.1h0M243.5 541.1h0M243.5 544.3h0M242.1 547.4h0M242.1 549.5h0M236.2 556.9h0M239.1 557.9h0M234.8 553.7h0" stroke="#000080" stroke-width="2.25" stroke-linecap="round" fill="none"/>
<line x1="205.5" y1="597.1" x2="317.7" y2="480.1" stroke="#222" stroke-width="0.7"/>
<rect x="200.5" y="474.4" width="122.3" height="128.4" fill="none" stroke="#9a9a9a" stroke-width="0.9"/>
<text x="205.5" y="609.4" font-family="'DejaVu Sans', sans-serif" font-size="5.4" fill="#111" text-anchor="middle">0.0</text>
<text x="234.8" y="609.4" font-family="'DejaVu Sans', sans-serif" font-size="5.4" fill="#111" text-anchor="middle">0.2</text>
<text x="264.0" y="609.4" font-family="'DejaVu Sans', sans-serif" font-size="5.4" fill="#111" text-anchor="middle">0.4</text>
<text x="293.2" y="609.4" font-family="'DejaVu Sans', sans-serif" font-size="5.4" fill="#111" text-anchor="middle">0.6</text>
<text x="322.5" y="609.4" font-family="'DejaVu Sans', sans-serif" font-size="5.4" fill="#111" text-anchor="middle">0.8</text>
<text x="198.9" y="597.1" font-family="'DejaVu Sans', sans-serif" font-size="5.4" fill="#111" text-anchor="end">0.0</text>
<text x="198.9" y="576.0" font-family="'DejaVu Sans', sans-serif" font-size="5.4" fill="#111" text-anchor="end">0.2</text>
<text x="198.9" y="555.0" font-family="'DejaVu Sans', sans-serif" font-size="5.4" fill="#111" text-anchor="end">0.4</text>
<text x="198.9" y="533.9" font-family="'DejaVu Sans', sans-serif" font-size="5.4" fill="#111" text-anchor="end">0.6</text>
<text x="198.9" y="512.9" font-family="'DejaVu Sans', sans-serif" font-size="5.4" fill="#111" text-anchor="end">0.8</text>
<text x="198.9" y="491.8" font-family="'DejaVu Sans', sans-serif" font-size="5.4" fill="#111" text-anchor="end">1.0</text>
<path d="M205.5 602.8v1.8M234.8 602.8v1.8M264.0 602.8v1.8M293.2 602.8v1.8M322.5 602.8v1.8M200.5 594.8h-1.8M200.5 573.7h-1.8M200.5 552.7h-1.8M200.5 531.6h-1.8M200.5 510.6h-1.8M200.5 489.5h-1.8" stroke="#888" stroke-width="0.6"/>
<text x="213.5" y="497.1" font-family="'DejaVu Sans', sans-serif" font-size="12.55" fill="#000">r = 0.939</text>
<path d="M380.8 552.0h0M356.6 588.2h0M371.7 579.8h0M363.8 574.1h0M358.8 578.1h0M368.0 576.3h0M364.0 569.2h0M363.9 585.1h0M357.3 577.3h0M371.4 579.2h0M359.6 585.8h0M368.1 576.8h0M363.8 584.3h0M358.7 582.9h0M362.7 585.2h0M365.8 588.2h0M358.8 576.8h0M369.2 576.4h0M375.6 582.1h0M359.2 586.2h0M353.8 576.0h0M365.8 584.7h0M359.3 587.2h0M378.1 575.7h0M360.4 572.6h0M366.4 578.7h0M364.3 581.4h0M356.3 581.3h0M366.4 581.7h0M354.6 590.8h0M360.7 584.7h0M360.6 570.1h0M359.6 584.1h0M382.5 559.8h0M362.4 582.5h0M365.8 575.6h0M407.0 557.8h0M398.9 553.4h0M360.9 586.0h0M364.0 582.7h0M373.2 564.1h0M354.6 583.5h0M357.0 581.3h0M363.2 571.7h0M357.1 583.6h0M361.9 581.7h0M377.1 568.3h0M366.1 587.6h0M364.2 566.7h0M367.7 568.9h0M365.1 583.9h0M357.9 590.9h0M364.8 571.5h0M365.9 594.4h0M357.8 588.9h0M375.2 564.8h0M362.0 583.7h0M361.5 580.7h0M374.2 580.1h0M380.2 552.9h0M386.8 545.8h0M366.2 588.6h0M392.7 558.8h0M357.7 584.8h0M360.0 576.8h0M369.5 573.6h0M365.9 584.0h0M362.1 588.1h0M357.4 580.9h0M362.2 582.7h0M355.8 586.0h0M373.5 564.7h0M390.0 572.7h0M368.9 585.2h0M366.9 591.2h0M375.7 592.5h0M354.5 594.4h0M364.5 591.3h0M359.9 576.0h0M358.4 592.1h0M367.0 577.9h0M362.2 582.1h0M360.6 579.6h0M377.4 579.8h0M367.4 569.3h0M358.6 581.5h0M369.3 566.8h0M360.3 587.5h0M399.4 535.4h0M361.1 588.8h0M354.9 591.7h0M357.5 587.3h0M368.1 582.9h0M360.2 584.6h0M354.9 577.1h0M376.6 573.0h0M355.9 588.7h0M374.2 564.3h0M355.4 578.9h0M356.3 584.5h0M355.9 582.0h0M357.0 585.5h0M359.0 584.5h0M375.9 553.5h0M371.1 575.2h0M367.3 588.0h0M359.8 581.5h0M354.7 587.5h0M364.8 584.1h0M375.6 570.3h0M356.4 591.5h0M355.5 594.0h0M365.3 570.4h0M367.9 578.3h0M375.9 556.9h0M354.4 586.5h0M372.7 589.5h0M368.7 569.2h0M365.7 576.1h0M367.3 574.1h0M359.8 582.6h0M367.3 585.4h0M359.5 570.8h0M373.9 570.2h0M373.4 568.0h0M358.9 589.3h0M354.6 580.8h0M359.5 592.8h0M365.4 565.7h0M361.9 574.9h0M357.4 570.3h0M358.3 588.3h0M374.9 554.7h0M370.3 571.1h0M366.2 572.4h0M358.3 589.8h0M355.2 585.2h0M355.9 591.6h0M372.0 555.0h0M357.7 589.8h0M358.6 590.9h0M375.1 555.2h0M365.4 580.3h0M372.0 584.4h0M395.3 549.4h0M358.6 585.7h0M408.2 542.9h0M353.9 593.1h0M362.0 573.8h0M361.2 583.4h0M354.4 583.1h0M354.3 589.0h0M357.6 588.1h0M354.6 590.2h0M364.2 566.5h0M365.2 575.9h0M373.6 567.6h0M372.9 580.9h0M359.1 590.7h0M362.6 585.9h0M357.5 581.9h0M367.5 576.9h0M361.1 578.5h0M367.0 584.5h0M387.7 562.3h0M361.8 578.4h0M402.6 584.9h0M353.4 590.7h0M360.2 582.8h0M357.7 585.4h0M370.7 576.6h0M365.1 583.6h0M354.8 594.0h0M375.4 563.9h0M363.7 590.9h0M357.6 593.9h0M356.2 589.6h0M383.8 550.2h0M360.4 586.8h0M359.0 591.7h0M356.1 582.5h0M382.3 549.2h0M368.1 578.6h0M377.4 563.5h0M358.8 579.0h0M361.0 571.4h0M379.0 570.6h0M355.0 585.1h0M357.4 587.7h0M361.1 594.3h0M381.1 571.5h0M362.2 564.8h0M372.1 574.0h0M379.1 579.9h0M361.3 586.6h0M361.7 567.9h0M367.2 564.5h0M368.4 587.0h0M367.9 592.5h0M373.8 574.5h0M363.3 569.4h0M397.0 520.3h0M398.4 548.7h0M406.2 590.4h0M375.6 563.9h0M406.9 568.5h0M375.7 558.6h0M366.4 568.4h0M359.1 586.9h0M365.4 593.9h0M369.2 583.6h0M365.4 582.3h0M414.9 551.7h0M376.4 553.6h0M371.8 576.7h0M379.8 560.8h0M385.3 566.6h0M360.4 579.9h0M394.7 588.4h0M363.6 573.0h0M398.6 575.8h0M408.2 543.9h0M411.2 524.2h0M366.3 577.5h0M370.0 564.7h0M399.9 575.9h0M411.0 556.6h0M387.9 565.8h0M365.5 584.3h0M372.3 564.3h0M380.9 568.2h0M416.7 528.1h0M391.8 530.3h0M373.6 566.7h0M398.2 531.0h0M401.7 564.4h0M358.5 577.3h0M382.0 582.9h0M366.4 578.4h0M408.9 567.8h0M363.6 583.5h0M360.6 588.9h0M361.8 590.8h0M370.5 587.8h0M384.6 570.0h0M381.4 579.0h0M381.7 562.9h0M362.5 570.3h0M376.8 572.8h0M397.0 537.6h0M378.5 590.4h0M391.2 543.2h0M356.3 592.6h0M387.0 567.6h0M366.2 555.1h0M353.3 592.7h0M353.6 577.9h0M353.8 592.6h0M353.5 586.4h0M353.9 584.9h0M353.7 594.5h0M353.5 579.2h0M354.1 590.1h0M353.7 586.0h0M353.9 593.0h0M353.5 577.2h0M353.6 578.4h0M353.3 580.4h0M353.4 578.8h0M353.9 578.9h0M353.9 585.9h0M353.4 584.2h0M353.8 586.0h0M353.7 582.5h0M353.7 589.9h0M353.4 592.7h0M353.6 592.2h0M353.6 578.8h0M353.6 580.3h0M353.9 580.8h0M353.7 593.5h0M353.4 591.1h0M353.8 586.8h0M353.4 584.6h0M353.5 580.4h0M353.4 579.1h0M353.8 582.8h0M353.7 593.4h0M353.5 586.2h0M353.4 592.9h0M353.8 589.8h0M353.4 579.3h0M353.5 583.3h0M353.6 591.2h0M353.4 579.3h0M353.6 583.1h0M353.4 590.1h0M353.6 583.6h0M353.5 581.5h0M353.8 590.2h0M353.5 591.8h0M353.5 589.1h0M354.2 579.5h0M353.6 589.9h0M353.4 590.2h0M358.3 586.1h0M356.6 592.4h0M354.4 586.4h0M358.8 582.5h0M353.7 583.9h0M354.4 591.9h0M359.2 578.2h0M354.1 579.4h0M354.7 576.4h0M362.2 579.6h0M355.3 590.8h0M354.3 581.4h0M356.5 584.1h0M354.4 587.6h0M355.0 585.8h0M363.3 581.4h0M354.9 578.6h0M355.2 580.8h0M354.0 585.6h0M353.6 575.9h0M353.7 589.5h0M355.6 584.1h0M359.8 587.1h0M353.7 588.1h0M355.7 578.0h0M353.6 586.2h0M353.4 575.3h0M357.2 583.3h0M360.4 582.9h0M357.0 579.7h0M353.7 583.7h0M354.6 592.3h0M354.8 577.8h0M356.9 592.9h0M354.1 584.9h0M366.3 575.3h0M354.5 578.2h0M353.8 592.6h0M357.7 588.8h0M359.5 574.9h0M356.3 584.5h0M358.0 581.4h0M355.7 586.0h0M358.0 593.6h0M353.6 587.0h0M364.4 578.9h0M354.8 583.4h0M355.4 593.2h0M356.7 582.6h0M354.4 591.4h0M370.0 574.2h0M355.7 583.6h0M355.2 584.9h0M354.0 591.4h0M354.8 579.0h0M358.8 586.0h0M356.0 581.6h0M353.9 587.1h0M354.7 577.9h0M356.8 588.5h0M361.4 571.1h0M362.5 585.5h0M363.5 573.0h0M354.3 589.1h0M360.0 579.0h0M360.0 578.4h0M359.8 575.5h0M356.2 578.2h0M355.1 594.4h0M354.0 581.2h0M361.2 573.9h0M354.9 584.0h0M357.4 585.2h0M355.9 588.4h0M364.4 576.2h0M357.5 587.1h0M354.7 583.2h0M359.4 581.0h0M353.8 587.3h0M354.6 584.8h0M355.7 584.7h0M353.9 585.0h0M355.3 586.6h0M359.6 584.5h0M366.8 581.5h0M353.6 592.1h0M357.9 588.3h0M355.8 590.6h0M354.9 593.8h0M358.3 585.9h0M359.3 574.8h0M356.4 588.8h0M360.3 579.7h0M361.3 583.1h0M357.9 573.9h0M360.8 577.0h0M361.7 584.8h0M357.6 584.2h0M356.1 591.2h0M361.0 580.0h0M354.5 584.5h0M353.4 588.7h0M354.4 580.3h0M355.6 585.9h0M356.8 587.0h0M359.8 580.8h0M359.4 577.3h0M356.9 591.8h0M355.2 592.5h0M354.5 584.7h0M355.4 586.3h0M353.4 581.7h0M355.3 585.1h0M354.5 583.5h0M367.0 577.1h0M354.0 581.2h0M357.4 583.8h0M353.9 586.7h0M355.9 580.5h0M361.8 580.0h0M356.4 581.7h0M355.5 586.5h0M354.4 584.5h0M353.9 580.6h0M354.2 585.9h0M357.8 591.1h0M357.3 586.8h0M356.8 581.7h0M354.9 579.1h0M360.0 577.3h0M353.8 578.2h0M355.6 585.7h0M357.4 587.4h0M353.4 594.2h0M354.4 588.0h0M353.5 594.6h0M355.8 580.7h0M355.0 576.5h0M356.3 579.6h0M354.5 584.1h0M353.6 580.9h0M355.9 585.4h0M353.8 592.0h0M355.0 586.8h0M358.9 579.6h0M362.2 576.8h0M355.4 592.1h0M354.1 583.2h0M355.2 584.7h0M358.9 594.7h0M376.2 594.7h0M375.5 594.6h0M363.9 594.7h0M384.1 594.6h0M367.8 594.5h0M375.0 594.6h0M372.0 594.7h0M369.6 594.7h0M368.4 594.8h0M370.0 594.6h0M353.8 594.6h0M384.7 594.5h0M375.7 594.7h0M369.6 594.8h0M383.9 594.5h0M354.8 594.4h0M354.0 594.7h0M372.3 594.7h0M365.0 594.5h0M372.7 594.7h0M377.0 594.7h0M381.9 594.5h0M357.7 594.7h0M375.1 594.8h0M372.3 594.4h0M378.8 594.5h0M353.8 594.5h0M379.7 594.7h0M376.3 594.7h0M366.1 594.7h0M365.9 594.7h0M385.4 594.7h0M361.5 594.6h0M357.5 594.8h0M379.5 594.5h0M367.9 594.8h0M355.1 594.3h0M377.6 594.5h0M353.6 594.6h0M368.3 594.8h0M360.0 594.8h0M379.5 594.5h0M356.4 594.8h0M376.4 594.8h0M375.5 594.5h0M374.0 594.6h0M375.3 594.7h0M369.0 594.7h0M383.8 594.5h0M364.6 594.8h0M377.5 594.5h0M374.7 594.7h0M369.2 594.6h0M385.2 594.8h0M363.3 594.8h0M355.3 594.4h0M378.3 594.6h0M353.9 594.3h0M381.7 594.4h0M365.8 594.6h0M368.6 594.4h0M362.9 594.7h0M373.3 594.7h0M383.6 594.7h0M363.5 594.4h0M363.7 594.7h0M373.2 594.8h0M363.0 594.7h0M380.8 594.7h0M364.9 587.7h0M391.2 566.4h0M364.1 576.8h0M373.6 581.5h0M371.5 584.6h0M363.7 587.4h0M382.0 571.5h0M355.7 586.1h0M368.4 575.6h0M388.7 577.9h0M368.3 573.7h0M357.6 591.2h0M360.9 586.4h0M364.1 587.0h0M375.0 579.5h0M384.4 570.4h0M381.5 580.0h0M360.2 583.9h0M362.9 592.6h0M375.5 593.4h0M394.4 579.2h0M388.5 574.6h0M390.2 572.2h0M369.8 586.4h0M372.1 586.6h0M380.9 582.6h0M376.9 581.3h0M377.7 592.2h0M369.5 581.0h0M373.1 588.9h0M371.2 586.2h0M368.8 579.5h0M376.5 585.1h0M371.9 583.2h0M358.2 586.8h0M358.7 592.9h0M383.7 576.5h0M363.5 582.5h0M369.6 586.4h0M380.0 580.0h0M397.0 555.1h0M387.6 560.0h0M363.1 593.9h0M364.1 582.0h0M379.9 588.8h0M366.0 585.2h0M359.4 580.0h0M370.5 590.9h0M366.5 582.4h0M355.4 589.7h0M373.0 576.8h0M396.9 548.2h0M372.6 575.7h0M361.9 590.1h0M370.8 579.9h0M362.0 590.3h0M383.2 574.1h0M396.2 553.9h0M368.4 590.7h0M381.9 567.6h0M371.5 577.6h0M367.1 571.7h0M358.4 584.8h0M371.4 585.2h0M362.5 585.9h0M403.8 577.1h0M378.4 576.9h0M368.8 582.3h0M373.3 585.1h0M377.1 569.5h0M361.9 584.4h0M392.8 583.9h0M381.8 569.6h0M370.0 577.3h0M367.8 576.8h0M384.5 570.5h0M371.8 566.8h0M390.1 564.1h0M376.1 559.1h0M385.3 561.0h0M359.7 584.0h0M365.5 578.5h0M362.4 578.2h0M376.2 560.1h0M365.2 580.5h0M363.3 586.3h0M365.6 577.7h0M368.5 572.5h0M368.6 579.3h0M387.9 587.5h0M384.4 582.0h0M378.9 580.6h0M356.5 593.3h0M374.7 582.8h0M391.7 572.2h0M371.4 570.1h0M359.0 582.7h0M372.8 572.0h0M362.9 577.8h0M364.0 579.1h0M385.1 562.1h0M365.2 583.5h0M367.6 585.1h0M374.7 591.5h0M387.4 566.9h0M372.0 593.6h0M360.8 582.4h0M381.5 581.2h0M367.0 582.7h0M388.4 575.6h0M366.0 580.3h0M376.3 571.2h0M372.9 572.6h0M359.8 590.9h0M370.4 588.9h0M463.7 480.8h0M458.0 486.7h0M452.3 487.9h0M454.2 499.6h0M452.3 498.4h0M440.8 505.5h0M442.7 504.3h0M448.5 516.1h0M433.2 517.2h0M437.0 517.2h0M440.8 524.3h0M452.3 532.5h0M416.1 513.7h0M416.1 516.1h0M414.2 520.8h0M418.0 521.9h0M410.4 526.6h0M399.0 525.5h0M423.7 527.8h0M421.8 523.1h0M418.0 532.5h0M412.3 533.7h0M412.3 540.8h0M404.7 538.4h0M400.9 534.9h0M399.0 534.9h0M391.4 537.2h0M389.5 537.2h0M395.2 541.9h0M393.3 544.3h0M383.7 546.6h0M385.7 545.4h0M368.5 553.7h0M372.3 550.1h0M408.5 563.1h0M418.0 554.8h0M419.9 550.1h0M416.1 549.0h0" stroke="#000080" stroke-width="2.25" stroke-linecap="round" fill="none"/>
<line x1="353.3" y1="597.1" x2="464.6" y2="492.0" stroke="#222" stroke-width="0.7"/>
<rect x="347.3" y="474.4" width="123.2" height="128.4" fill="none" stroke="#9a9a9a" stroke-width="0.9"/>
<text x="353.3" y="609.4" font-family="'DejaVu Sans', sans-serif" font-size="5.4" fill="#111" text-anchor="middle">0.0</text>
<text x="372.3" y="609.4" font-family="'DejaVu Sans', sans-serif" font-size="5.4" fill="#111" text-anchor="middle">0.1</text>
<text x="391.4" y="609.4" font-family="'DejaVu Sans', sans-serif" font-size="5.4" fill="#111" text-anchor="middle">0.2</text>
<text x="410.4" y="609.4" font-family="'DejaVu Sans', sans-serif" font-size="5.4" fill="#111" text-anchor="middle">0.3</text>
<text x="429.4" y="609.4" font-family="'DejaVu Sans', sans-serif" font-size="5.4" fill="#111" text-anchor="middle">0.4</text>
<text x="448.5" y="609.4" font-family="'DejaVu Sans', sans-serif" font-size="5.4" fill="#111" text-anchor="middle">0.5</text>
<text x="467.5" y="609.4" font-family="'DejaVu Sans', sans-serif" font-size="5.4" fill="#111" text-anchor="middle">0.6</text>
<text x="345.7" y="597.1" font-family="'DejaVu Sans', sans-serif" font-size="5.4" fill="#111" text-anchor="end">0.0</text>
<text x="345.7" y="573.6" font-family="'DejaVu Sans', sans-serif" font-size="5.4" fill="#111" text-anchor="end">0.2</text>
<text x="345.7" y="550.1" font-family="'DejaVu Sans', sans-serif" font-size="5.4" fill="#111" text-anchor="end">0.4</text>
<text x="345.7" y="526.6" font-family="'DejaVu Sans', sans-serif" font-size="5.4" fill="#111" text-anchor="end">0.6</text>
<text x="345.7" y="503.1" font-family="'DejaVu Sans', sans-serif" font-size="5.4" fill="#111" text-anchor="end">0.8</text>
<text x="345.7" y="479.6" font-family="'DejaVu Sans', sans-serif" font-size="5.4" fill="#111" text-anchor="end">1.0</text>
<path d="M353.3 602.8v1.8M372.3 602.8v1.8M391.4 602.8v1.8M410.4 602.8v1.8M429.4 602.8v1.8M448.5 602.8v1.8M467.5 602.8v1.8M347.3 594.8h-1.8M347.3 571.3h-1.8M347.3 547.8h-1.8M347.3 524.3h-1.8M347.3 500.8h-1.8M347.3 477.3h-1.8" stroke="#888" stroke-width="0.6"/>
<text x="360.3" y="497.1" font-family="'DejaVu Sans', sans-serif" font-size="12.55" fill="#000">r = 0.9</text>
<path d="M527.1 591.8h0M507.3 587.5h0M518.0 574.5h0M538.6 550.7h0M546.5 565.8h0M527.5 574.5h0M524.4 587.5h0M542.6 574.5h0M546.9 550.7h0M515.3 574.5h0M536.7 576.6h0M516.0 576.6h0M510.6 576.6h0M560.5 529.1h0M533.9 563.7h0M515.4 587.5h0M545.4 561.5h0M521.4 574.5h0M590.5 524.8h0M516.1 578.8h0M529.8 559.3h0M568.4 524.8h0M536.9 561.5h0M512.7 583.1h0M546.3 559.3h0M550.0 548.5h0M538.9 576.6h0M516.1 578.8h0M547.9 561.5h0M521.2 570.2h0M508.7 585.3h0M526.7 572.3h0M503.3 596.1h0M516.4 581.0h0M554.7 552.9h0M522.3 576.6h0M560.5 548.5h0M525.6 585.3h0M526.3 587.5h0M512.0 576.6h0M539.3 555.0h0M529.3 574.5h0M515.6 589.6h0M527.4 578.8h0M524.3 574.5h0M518.5 572.3h0M514.5 583.1h0M510.9 576.6h0M517.6 583.1h0M519.0 576.6h0M532.1 550.7h0M517.6 587.5h0M547.9 578.8h0M563.5 544.2h0M507.2 589.6h0M505.2 593.9h0M522.7 578.8h0M554.2 568.0h0M526.4 563.7h0M512.5 591.8h0M512.8 585.3h0M524.9 570.2h0M538.9 574.5h0M593.6 488.0h0M520.2 561.5h0M518.3 587.5h0M500.6 596.1h0M538.0 552.9h0M610.7 488.0h0M527.4 589.6h0M527.9 568.0h0M535.5 550.7h0M534.5 574.5h0M588.2 550.7h0M523.3 572.3h0M531.2 552.9h0M559.5 526.9h0M523.0 583.1h0M566.8 550.7h0M528.0 570.2h0M559.1 509.6h0M523.0 570.2h0M531.8 561.5h0M575.0 507.5h0M520.7 568.0h0M513.5 591.8h0M517.7 581.0h0M548.3 559.3h0M519.5 591.8h0M585.0 535.6h0M527.6 585.3h0M531.2 572.3h0M511.0 589.6h0M524.2 576.6h0M544.3 539.9h0M558.7 550.7h0M585.3 522.6h0M547.3 542.1h0M513.6 583.1h0M521.5 574.5h0M513.3 585.3h0M519.2 576.6h0M573.3 518.3h0M512.6 581.0h0M508.3 593.9h0M553.0 561.5h0M507.5 587.5h0M510.6 581.0h0M517.5 568.0h0M503.4 596.1h0M546.0 546.4h0M539.8 559.3h0M512.9 596.1h0M547.0 568.0h0M528.7 574.5h0M553.8 563.7h0M518.0 574.5h0M510.1 587.5h0M517.8 578.8h0M539.6 570.2h0M572.2 546.4h0M532.3 574.5h0M519.0 568.0h0M539.2 574.5h0M532.4 568.0h0M506.4 581.0h0M531.4 572.3h0M511.6 585.3h0M515.9 596.1h0M539.3 574.5h0M520.1 591.8h0M516.2 583.1h0M525.3 572.3h0M549.6 563.7h0M519.0 574.5h0M514.4 585.3h0M599.0 498.8h0M549.8 557.2h0M506.7 596.1h0M540.6 565.8h0M538.4 557.2h0M558.5 539.9h0M511.4 589.6h0M503.4 587.5h0M551.8 539.9h0M528.4 572.3h0M546.6 552.9h0M534.4 565.8h0M508.0 596.1h0M530.0 576.6h0M525.8 578.8h0M568.7 542.1h0M545.4 559.3h0M508.6 583.1h0M606.8 526.9h0M522.1 559.3h0M568.0 552.9h0M519.7 574.5h0M519.0 565.8h0M544.4 546.4h0M563.1 548.5h0M523.0 568.0h0M512.2 587.5h0M590.8 542.1h0M526.0 583.1h0M519.7 583.1h0M547.4 552.9h0M529.3 563.7h0M520.4 565.8h0M521.9 578.8h0M527.9 589.6h0M540.3 555.0h0M544.5 557.2h0M530.0 565.8h0M523.0 576.6h0M522.6 574.5h0M532.7 559.3h0M514.5 574.5h0M521.7 568.0h0M593.6 533.4h0M541.5 576.6h0M514.3 589.6h0M589.7 513.9h0M511.3 587.5h0M511.4 596.1h0M529.3 557.2h0M541.8 578.8h0M507.1 591.8h0M553.4 542.1h0M586.0 520.4h0M507.7 583.1h0M530.0 578.8h0M523.7 572.3h0M537.2 555.0h0M543.2 561.5h0M528.2 572.3h0M561.0 533.4h0M506.6 596.1h0M518.8 576.6h0M527.6 572.3h0M515.1 578.8h0M552.9 555.0h0M536.2 557.2h0M581.8 522.6h0M591.5 522.6h0M518.5 581.0h0M533.3 561.5h0M536.0 552.9h0M542.1 561.5h0M514.0 576.6h0M563.9 533.4h0M558.1 565.8h0M541.0 546.4h0M531.5 559.3h0M513.8 578.8h0M510.9 596.1h0M570.4 542.1h0M570.2 524.8h0M541.0 568.0h0M518.7 587.5h0M515.1 596.1h0M514.6 578.8h0M514.0 581.0h0M518.1 585.3h0M535.5 568.0h0M519.0 581.0h0M527.9 585.3h0M520.1 572.3h0M528.6 576.6h0M544.0 555.0h0M523.1 568.0h0M530.9 563.7h0M560.0 513.9h0M520.1 578.8h0M522.1 576.6h0M521.8 574.5h0M567.9 526.9h0M545.8 572.3h0M540.2 550.7h0M508.2 589.6h0M510.1 587.5h0M535.5 578.8h0M533.0 572.3h0M516.1 585.3h0M553.6 550.7h0M515.6 583.1h0M511.4 578.8h0M524.0 585.3h0M545.1 550.7h0M571.0 542.1h0M530.5 578.8h0M511.5 585.3h0M525.6 583.1h0M502.8 593.9h0M509.2 596.1h0M596.1 526.9h0M515.2 581.0h0M529.5 581.0h0M564.5 526.9h0M525.1 574.5h0M510.3 589.6h0M585.2 520.4h0M515.7 583.1h0M564.7 537.7h0M548.9 559.3h0M504.1 593.9h0M513.4 578.8h0M580.6 542.1h0M528.0 568.0h0M607.1 498.8h0M566.2 565.8h0M502.9 596.1h0M514.7 568.0h0M520.5 574.5h0M527.7 572.3h0M518.5 583.1h0M508.8 593.9h0M590.8 498.8h0M537.9 570.2h0M507.0 583.1h0M543.9 552.9h0M540.1 559.3h0M510.1 587.5h0M517.6 578.8h0M524.8 574.5h0M517.3 585.3h0M534.3 565.8h0M555.0 561.5h0M519.6 581.0h0M530.0 563.7h0M542.7 572.3h0M534.5 548.5h0M524.8 587.5h0M559.9 552.9h0M568.3 548.5h0M587.4 526.9h0M515.2 585.3h0M522.8 572.3h0M529.9 578.8h0M508.3 591.8h0M577.7 522.6h0M539.1 559.3h0M511.4 591.8h0M540.6 570.2h0M551.1 537.7h0M528.2 565.8h0M551.7 544.2h0M528.4 574.5h0M577.6 563.7h0M516.2 591.8h0M529.3 576.6h0M508.6 587.5h0M523.3 596.1h0M548.1 555.0h0M530.5 570.2h0M502.4 596.1h0M510.6 585.3h0M507.6 589.6h0M542.0 542.1h0M510.1 589.6h0M513.7 587.5h0M534.6 576.6h0M512.3 581.0h0M563.3 559.3h0M531.7 552.9h0M572.3 531.2h0M517.2 576.6h0M506.6 596.1h0M511.4 583.1h0M508.2 596.1h0M506.2 581.0h0M503.7 591.8h0M541.8 559.3h0M520.3 587.5h0M569.0 513.9h0M567.6 537.7h0M555.9 559.3h0M531.9 563.7h0M530.2 574.5h0M560.1 533.4h0M556.3 552.9h0M515.8 596.1h0M531.7 581.0h0M512.0 581.0h0M518.2 583.1h0M557.1 539.9h0M542.3 542.1h0M504.6 591.8h0M519.2 572.3h0M523.0 596.1h0M526.5 568.0h0M516.5 583.1h0M513.5 591.8h0M536.0 563.7h0M565.3 544.2h0M531.2 574.5h0M521.9 578.8h0M524.2 572.3h0M552.1 559.3h0M552.6 572.3h0M528.3 565.8h0M529.2 572.3h0M579.1 574.5h0M504.7 593.9h0M567.3 542.1h0M518.9 581.0h0M530.2 572.3h0M527.5 585.3h0M539.9 570.2h0M506.8 585.3h0M540.8 550.7h0M566.0 552.9h0M518.1 583.1h0M512.1 581.0h0M532.7 565.8h0M552.8 568.0h0M529.6 570.2h0M504.2 596.1h0M509.1 587.5h0M507.6 591.8h0M528.3 583.1h0M547.6 565.8h0M516.7 576.6h0M518.7 585.3h0M552.2 581.0h0M527.8 572.3h0M553.3 557.2h0M507.4 585.3h0M550.6 565.8h0M541.5 539.9h0M550.3 574.5h0M548.7 546.4h0M515.9 568.0h0M530.5 574.5h0M555.5 529.1h0M514.7 585.3h0M502.2 593.9h0M513.4 581.0h0M514.8 587.5h0M510.2 574.5h0M514.5 587.5h0M515.8 572.3h0M610.1 492.3h0M546.8 570.2h0M521.2 576.6h0M538.4 563.7h0M508.1 583.1h0M523.8 583.1h0M525.0 581.0h0M546.5 544.2h0M545.7 546.4h0M583.8 542.1h0M557.7 533.4h0M529.7 578.8h0M529.5 568.0h0M512.6 587.5h0M513.6 585.3h0M524.6 583.1h0M539.3 576.6h0M537.8 555.0h0M539.4 572.3h0M525.0 574.5h0M525.8 578.8h0M530.8 565.8h0M539.0 572.3h0M530.8 563.7h0M515.8 570.2h0M520.5 583.1h0M535.2 570.2h0M552.8 548.5h0M519.4 578.8h0M512.0 591.8h0M529.4 548.5h0M512.0 581.0h0M542.5 559.3h0M526.5 578.8h0M555.6 548.5h0M527.8 557.2h0M513.9 589.6h0M505.6 593.9h0M546.9 568.0h0M516.6 589.6h0M554.4 576.6h0M519.5 589.6h0M552.8 544.2h0M502.4 591.8h0M516.0 587.5h0M519.6 583.1h0M510.0 583.1h0M527.2 578.8h0M509.6 587.5h0M513.2 596.1h0M527.0 563.7h0M534.9 565.8h0M552.0 570.2h0M505.4 589.6h0M532.3 568.0h0M504.9 589.6h0M541.1 544.2h0M567.0 533.4h0M546.9 544.2h0M530.8 576.6h0M533.4 581.0h0M541.3 563.7h0M540.2 539.9h0M518.4 581.0h0M534.3 574.5h0M540.7 593.9h0M530.7 568.0h0M551.7 565.8h0M504.5 591.8h0M512.4 576.6h0M512.4 581.0h0M509.0 589.6h0M537.3 546.4h0M544.4 548.5h0M537.1 559.3h0M574.8 529.1h0M518.9 576.6h0M536.0 561.5h0M567.9 546.4h0M537.9 557.2h0M542.3 563.7h0M565.2 559.3h0M539.7 570.2h0M519.0 578.8h0M526.5 574.5h0M566.2 552.9h0M533.6 572.3h0M521.5 587.5h0M518.5 585.3h0M549.0 572.3h0M511.3 581.0h0M515.2 596.1h0M504.5 593.9h0M502.8 591.8h0M534.6 576.6h0M531.5 557.2h0M516.2 583.1h0M523.9 576.6h0M503.2 596.1h0M543.3 546.4h0M537.1 563.7h0M525.9 570.2h0M570.7 529.1h0M530.2 572.3h0M526.8 587.5h0M567.1 546.4h0M511.3 589.6h0M537.1 570.2h0M537.4 561.5h0M519.0 585.3h0M569.6 546.4h0M557.9 574.5h0M516.7 585.3h0M558.9 524.8h0M552.5 548.5h0M523.1 578.8h0M530.6 565.8h0M512.5 578.8h0M522.6 578.8h0M529.6 565.8h0M549.2 546.4h0M520.0 563.7h0M512.0 587.5h0M513.3 578.8h0M530.7 583.1h0M519.6 578.8h0M560.7 552.9h0M518.4 574.5h0M538.6 563.7h0M512.5 585.3h0M536.2 578.8h0M509.1 587.5h0M508.5 589.6h0M527.3 576.6h0M567.6 555.0h0M528.6 572.3h0M518.0 596.0h0M503.0 596.1h0M505.4 595.9h0M508.1 595.9h0M503.7 595.9h0M506.8 595.5h0M509.3 596.0h0M502.0 595.6h0M504.1 596.0h0M513.2 595.4h0M506.7 595.6h0M509.1 595.5h0M501.3 595.4h0M506.2 595.8h0M502.9 595.3h0M509.9 596.1h0M502.7 595.9h0M503.6 595.8h0M502.2 596.0h0M503.6 595.5h0M503.8 595.6h0M502.7 596.1h0M505.2 595.3h0M513.4 595.8h0M510.8 595.6h0M575.5 488.0h0M577.8 490.2h0M607.5 488.0h0M609.7 492.3h0M612.0 492.3h0M577.8 501.0h0M580.1 501.0h0M586.9 501.0h0M589.2 496.6h0M591.5 498.8h0M586.9 507.5h0M591.5 503.1h0M593.8 516.1h0M596.0 518.3h0M577.8 516.1h0M582.4 518.3h0M607.5 522.6h0M580.1 526.9h0M584.6 531.2h0M584.6 542.1h0M577.8 555.0h0M552.7 501.0h0M555.0 507.5h0M557.2 507.5h0M559.5 511.8h0M561.8 505.3h0M564.1 509.6h0M566.4 513.9h0M550.4 513.9h0M545.8 516.1h0M548.1 520.4h0M568.7 520.4h0M573.2 520.4h0M573.2 537.7h0M566.4 533.4h0M568.7 539.9h0M564.1 557.2h0M561.8 557.2h0M545.8 518.3h0M543.6 509.6h0" stroke="#000080" stroke-width="2.25" stroke-linecap="round" fill="none"/>
<line x1="500.2" y1="597.2" x2="611.6" y2="480.4" stroke="#222" stroke-width="0.7"/>
<rect x="494.3" y="474.4" width="123.7" height="128.4" fill="none" stroke="#9a9a9a" stroke-width="0.9"/>
<text x="500.2" y="609.4" font-family="'DejaVu Sans', sans-serif" font-size="5.4" fill="#111" text-anchor="middle">0.0</text>
<text x="523.0" y="609.4" font-family="'DejaVu Sans', sans-serif" font-size="5.4" fill="#111" text-anchor="middle">0.1</text>
<text x="545.8" y="609.4" font-family="'DejaVu Sans', sans-serif" font-size="5.4" fill="#111" text-anchor="middle">0.2</text>
<text x="568.7" y="609.4" font-family="'DejaVu Sans', sans-serif" font-size="5.4" fill="#111" text-anchor="middle">0.3</text>
<text x="591.5" y="609.4" font-family="'DejaVu Sans', sans-serif" font-size="5.4" fill="#111" text-anchor="middle">0.4</text>
<text x="614.3" y="609.4" font-family="'DejaVu Sans', sans-serif" font-size="5.4" fill="#111" text-anchor="middle">0.5</text>
<text x="492.7" y="598.4" font-family="'DejaVu Sans', sans-serif" font-size="5.4" fill="#111" text-anchor="end">0.0</text>
<text x="492.7" y="576.8" font-family="'DejaVu Sans', sans-serif" font-size="5.4" fill="#111" text-anchor="end">0.1</text>
<text x="492.7" y="555.2" font-family="'DejaVu Sans', sans-serif" font-size="5.4" fill="#111" text-anchor="end">0.2</text>
<text x="492.7" y="533.5" font-family="'DejaVu Sans', sans-serif" font-size="5.4" fill="#111" text-anchor="end">0.3</text>
<text x="492.7" y="511.9" font-family="'DejaVu Sans', sans-serif" font-size="5.4" fill="#111" text-anchor="end">0.4</text>
<text x="492.7" y="490.3" font-family="'DejaVu Sans', sans-serif" font-size="5.4" fill="#111" text-anchor="end">0.5</text>
<path d="M500.2 602.8v1.8M523.0 602.8v1.8M545.8 602.8v1.8M568.7 602.8v1.8M591.5 602.8v1.8M614.3 602.8v1.8M494.3 596.1h-1.8M494.3 574.5h-1.8M494.3 552.9h-1.8M494.3 531.2h-1.8M494.3 509.6h-1.8M494.3 488.0h-1.8" stroke="#888" stroke-width="0.6"/>
<text x="507.3" y="497.1" font-family="'DejaVu Sans', sans-serif" font-size="12.55" fill="#000">r = 0.926</text>
<path d="M684.2 553.1h0M667.0 575.9h0M663.4 585.7h0M674.2 562.5h0M666.4 584.0h0M655.9 579.1h0M663.2 580.5h0M659.3 583.1h0M678.6 581.7h0M682.0 578.7h0M681.8 583.7h0M712.2 577.9h0M666.7 581.2h0M664.4 581.2h0M680.8 585.9h0M667.4 578.1h0M684.4 572.2h0M657.4 585.7h0M661.2 577.9h0M688.3 539.2h0M665.4 576.4h0M708.5 556.9h0M661.2 578.1h0M662.7 584.0h0M672.4 586.3h0M673.3 557.5h0M682.2 582.0h0M662.3 583.0h0M665.7 565.7h0M680.9 567.6h0M682.8 573.7h0M659.4 581.7h0M670.1 569.5h0M671.2 589.8h0M662.7 578.7h0M662.8 588.3h0M690.5 562.3h0M697.6 549.9h0M663.7 576.7h0M714.4 558.3h0M668.6 579.6h0M696.3 570.3h0M680.9 566.0h0M690.8 574.2h0M681.1 576.8h0M666.8 572.3h0M671.3 576.2h0M670.2 562.0h0M676.1 568.4h0M674.8 576.8h0M697.9 574.3h0M690.3 589.5h0M675.0 565.1h0M678.9 558.6h0M679.8 553.2h0M652.5 584.7h0M672.5 574.1h0M721.3 568.3h0M670.1 568.3h0M682.6 585.6h0M679.2 573.4h0M678.1 575.9h0M687.5 536.2h0M672.7 568.0h0M665.9 589.4h0M653.2 586.8h0M678.5 556.8h0M658.8 582.7h0M665.2 571.9h0M662.7 579.1h0M700.6 563.6h0M674.6 579.7h0M662.0 571.2h0M664.5 568.7h0M688.8 575.1h0M671.9 582.8h0M682.9 570.0h0M653.3 582.9h0M670.8 559.1h0M693.8 534.4h0M708.3 564.0h0M677.6 566.6h0M671.9 576.4h0M673.8 574.9h0M661.9 579.9h0M691.0 571.5h0M673.5 587.6h0M667.5 585.4h0M684.0 575.6h0M672.1 583.7h0M657.3 581.6h0M675.5 585.7h0M677.0 587.4h0M675.3 586.2h0M666.1 584.4h0M659.1 580.5h0M685.5 569.2h0M675.0 570.1h0M668.8 572.2h0M659.1 572.0h0M702.4 566.7h0M661.9 585.3h0M681.5 579.4h0M678.4 563.0h0M689.0 571.5h0M674.3 574.7h0M655.5 577.6h0M672.6 572.7h0M716.4 533.6h0M664.5 587.5h0M686.7 548.3h0M672.1 561.9h0M668.5 565.3h0M660.9 579.5h0M665.9 578.0h0M664.8 587.2h0M673.8 579.8h0M690.8 561.9h0M662.7 582.5h0M668.1 588.6h0M671.6 569.0h0M669.4 568.5h0M667.8 561.3h0M661.9 577.7h0M653.9 586.0h0M706.6 525.0h0M657.2 582.0h0M673.2 565.9h0M660.5 588.1h0M681.9 539.4h0M670.0 567.6h0M668.3 583.8h0M681.0 574.8h0M664.5 586.3h0M653.4 584.5h0M670.0 568.0h0M668.6 585.4h0M688.9 569.7h0M666.7 574.4h0M667.9 576.2h0M668.7 566.1h0M661.2 576.2h0M666.6 562.5h0M665.5 586.4h0M672.2 552.7h0M670.1 566.2h0M657.1 579.8h0M675.4 557.0h0M714.0 526.2h0M683.3 548.7h0M693.3 555.8h0M671.8 553.2h0M675.4 589.1h0M673.9 584.3h0M693.1 556.2h0M670.1 587.6h0M662.8 576.0h0M688.6 557.6h0M684.1 578.5h0M664.3 584.9h0M685.3 568.0h0M662.6 579.8h0M663.7 574.1h0M674.0 560.8h0M663.3 573.4h0M679.2 575.7h0M666.3 566.2h0M668.8 574.0h0M676.8 574.6h0M656.1 584.9h0M664.7 579.1h0M679.8 582.2h0M657.0 587.9h0M666.2 562.5h0M676.4 571.9h0M681.1 545.7h0M660.4 575.2h0M680.1 565.8h0M666.4 578.5h0M692.7 563.5h0M671.2 578.1h0M664.9 571.6h0M674.2 577.1h0M670.4 562.1h0M651.8 587.4h0M675.7 586.4h0M693.6 568.9h0M669.7 573.8h0M703.0 566.5h0M666.7 572.1h0M653.7 586.0h0M680.1 562.8h0M680.4 553.9h0M664.3 574.2h0M672.0 589.4h0M694.2 565.7h0M667.1 586.5h0M662.7 585.5h0M697.2 516.0h0M669.3 587.0h0M679.8 579.4h0M692.7 583.6h0M656.6 581.7h0M672.6 568.5h0M665.8 584.1h0M686.1 561.1h0M667.8 581.7h0M673.5 568.8h0M677.7 566.2h0M680.5 566.4h0M663.8 578.4h0M689.7 572.9h0M712.0 530.9h0M674.9 578.1h0M674.4 585.6h0M689.1 558.7h0M686.0 554.6h0M698.8 557.0h0M685.7 555.5h0M661.6 579.6h0M676.8 565.4h0M680.1 546.0h0M704.6 581.7h0M683.3 570.7h0M670.2 566.4h0M661.4 586.9h0M667.9 564.8h0M715.5 572.5h0M664.8 577.7h0M676.4 577.6h0M659.2 571.5h0M661.7 586.0h0M668.1 572.0h0M662.3 580.9h0M672.3 552.1h0M675.3 547.7h0M657.1 586.7h0M689.6 561.5h0M672.2 578.5h0M690.8 561.6h0M675.3 557.2h0M677.8 551.0h0M701.7 510.8h0M663.1 583.6h0M682.3 567.1h0M662.4 574.9h0M658.8 574.7h0M672.4 573.2h0M665.6 582.5h0M664.7 578.5h0M677.7 562.8h0M683.3 531.0h0M691.1 557.9h0M660.1 581.7h0M702.3 564.7h0M659.0 589.1h0M669.1 580.6h0M673.9 570.7h0M664.8 582.3h0M660.9 574.3h0M695.2 558.8h0M668.2 577.2h0M670.9 562.9h0M662.2 586.7h0M682.9 573.8h0M673.3 554.5h0M677.6 565.4h0M678.7 574.4h0M667.9 558.9h0M663.8 569.4h0M679.4 559.9h0M704.7 563.3h0M685.7 560.8h0M677.8 574.3h0M707.5 542.5h0M673.1 570.2h0M680.3 559.8h0M672.8 565.2h0M687.6 567.7h0M666.1 577.5h0M677.1 577.6h0M676.2 566.5h0M663.3 584.8h0M701.7 564.5h0M668.2 580.9h0M663.8 586.5h0M669.6 579.4h0M684.3 577.3h0M658.5 582.6h0M675.8 557.3h0M652.6 586.3h0M688.6 565.3h0M680.3 573.0h0M665.7 589.4h0M656.2 581.5h0M691.6 553.8h0M659.4 585.0h0M668.7 572.9h0M690.2 574.1h0M656.2 586.0h0M666.3 589.3h0M664.3 588.9h0M704.1 575.2h0M664.1 574.2h0M664.0 587.6h0M666.4 567.5h0M675.9 570.8h0M697.2 552.9h0M667.8 582.3h0M674.4 584.2h0M684.7 573.1h0M661.5 584.3h0M677.2 562.2h0M676.0 571.4h0M664.6 580.5h0M663.6 575.8h0M676.8 551.9h0M669.8 570.3h0M675.7 575.4h0M654.6 579.8h0M663.1 577.3h0M666.6 573.5h0M670.1 588.6h0M681.7 582.2h0M670.5 569.6h0M666.8 589.4h0M683.3 585.3h0M672.2 562.1h0M673.6 569.0h0M667.8 576.0h0M680.8 584.9h0M660.5 588.9h0M665.7 568.3h0M687.1 569.4h0M673.4 582.0h0M660.1 585.9h0M658.7 573.9h0M661.7 585.3h0M673.9 562.7h0M684.3 571.3h0M668.8 568.8h0M662.1 576.3h0M655.1 587.3h0M667.5 582.2h0M684.4 556.1h0M658.6 575.4h0M695.6 520.7h0M671.2 568.6h0M685.0 588.0h0M665.6 585.8h0M661.3 579.6h0M674.3 575.5h0M681.5 576.2h0M700.4 559.3h0M681.3 569.3h0M702.6 567.6h0M680.9 575.7h0M682.3 563.0h0M682.3 586.4h0M668.8 577.3h0M679.7 563.3h0M675.8 583.1h0M658.7 583.5h0M685.9 570.1h0M661.2 586.2h0M668.3 563.9h0M691.7 547.4h0M664.4 580.2h0M655.3 582.5h0M671.9 583.3h0M697.4 560.8h0M661.3 588.6h0M675.7 583.5h0M673.5 578.7h0M687.8 552.2h0M691.4 548.4h0M653.6 589.4h0M667.3 576.2h0M667.1 587.7h0M679.5 532.7h0M680.2 580.9h0M666.2 589.6h0M672.0 572.5h0M679.2 564.3h0M669.6 588.0h0M675.3 559.3h0M667.2 572.1h0M661.6 568.8h0M673.4 562.2h0M668.2 589.5h0M687.2 540.6h0M672.4 586.9h0M657.8 580.7h0M672.3 567.5h0M660.7 581.2h0M682.0 584.8h0M669.1 589.8h0M671.2 567.9h0M656.3 585.3h0M670.1 570.8h0M669.8 589.4h0M680.9 554.7h0M693.9 539.5h0M678.4 585.1h0M671.0 573.4h0M667.5 578.1h0M659.9 574.2h0M670.2 572.2h0M695.1 580.8h0M676.9 567.1h0M701.6 540.1h0M679.6 571.8h0M673.9 585.3h0M660.0 589.1h0M667.9 577.8h0M678.1 586.0h0M673.1 544.3h0M669.1 572.3h0M668.6 564.0h0M669.2 579.5h0M654.4 582.0h0M685.9 562.5h0M686.1 565.3h0M670.9 580.3h0M660.6 588.5h0M666.4 572.9h0M659.4 578.7h0M674.0 582.3h0M687.0 556.5h0M657.2 582.0h0M659.1 585.2h0M691.7 577.0h0M654.4 581.2h0M704.6 563.5h0M673.7 568.0h0M678.1 581.7h0M665.4 589.5h0M667.7 571.7h0M669.1 589.9h0M661.0 589.6h0M650.4 589.6h0M667.3 589.9h0M675.3 589.5h0M654.5 589.9h0M697.0 589.7h0M656.0 589.8h0M689.2 589.7h0M691.9 589.8h0M677.4 589.7h0M658.5 589.9h0M671.3 589.5h0M656.2 589.8h0M682.1 589.7h0M684.1 589.8h0M676.6 589.6h0M681.2 589.8h0M662.4 589.5h0M653.3 589.3h0M678.4 589.8h0M672.1 589.8h0M664.1 589.6h0M689.2 589.6h0M652.2 589.5h0M676.4 589.8h0M665.4 589.8h0M681.5 589.8h0M689.4 589.7h0M674.3 589.5h0M674.1 589.8h0M663.0 589.6h0M656.2 589.8h0M668.7 589.8h0M654.3 589.4h0M657.1 589.6h0M658.7 589.8h0M663.6 589.5h0M673.9 589.9h0M690.5 589.9h0M663.0 589.8h0M672.8 589.6h0M663.7 589.8h0M664.2 589.5h0M651.6 589.8h0M689.8 589.8h0M648.1 589.9h0M668.5 589.7h0M686.4 589.8h0M684.2 589.6h0M678.4 589.9h0M654.3 589.6h0M668.1 589.7h0M693.4 589.9h0M654.4 589.8h0M687.0 589.9h0M680.1 589.5h0M647.3 589.7h0M677.1 589.8h0M693.1 589.4h0M683.6 589.3h0M668.7 589.8h0M691.4 589.8h0M669.5 589.8h0M675.9 589.5h0M648.1 589.6h0M655.7 589.8h0M684.6 589.9h0M681.8 589.8h0M671.8 589.8h0M659.3 589.7h0M682.4 589.8h0M676.3 589.5h0M694.3 589.8h0M685.4 589.7h0M689.9 589.9h0M653.5 589.8h0M673.7 589.9h0M662.0 589.7h0M676.4 589.4h0M694.6 589.6h0M650.5 589.8h0M687.2 589.8h0M684.7 589.9h0M650.6 589.4h0M648.3 589.8h0M666.9 589.6h0M656.1 589.7h0M666.2 589.9h0M668.5 589.6h0M680.1 589.7h0M670.8 589.8h0M649.7 589.6h0M650.5 589.7h0M671.4 589.6h0M695.8 589.7h0M668.9 589.6h0M647.2 589.5h0M691.1 589.6h0M672.5 589.8h0M663.6 589.8h0M689.6 589.7h0M692.8 589.8h0M663.1 589.9h0M669.8 589.8h0M688.0 589.8h0M652.7 589.8h0M690.4 589.8h0M668.2 589.8h0M664.5 589.7h0M654.2 589.9h0M670.3 589.7h0M663.2 589.5h0M674.5 589.6h0M683.3 589.8h0M654.8 589.8h0M687.1 589.5h0M654.8 589.9h0M659.5 589.7h0M669.3 589.4h0M669.6 589.8h0M696.3 589.6h0M668.3 589.9h0M693.8 589.6h0M676.2 589.6h0M658.6 589.8h0M692.4 589.8h0M649.1 589.3h0M673.5 589.8h0M696.3 589.8h0M648.9 588.8h0M652.8 581.1h0M658.7 579.1h0M657.8 580.7h0M661.2 581.7h0M664.4 585.3h0M657.2 583.6h0M669.4 582.9h0M664.9 584.4h0M656.1 583.5h0M673.7 582.2h0M672.3 579.0h0M668.9 581.2h0M663.4 570.8h0M666.6 579.4h0M660.4 586.4h0M671.0 570.5h0M649.0 586.7h0M658.5 587.1h0M652.5 584.6h0M661.8 582.4h0M662.2 579.7h0M666.5 578.3h0M669.5 584.2h0M651.3 581.6h0M658.1 575.5h0M664.9 579.5h0M662.7 580.8h0M661.1 583.5h0M654.5 587.5h0M648.9 588.2h0M660.1 583.0h0M662.8 588.8h0M664.4 579.9h0M652.8 586.7h0M655.4 588.9h0M651.9 579.1h0M651.8 588.3h0M666.0 585.8h0M660.2 589.1h0M656.8 579.6h0M650.6 589.3h0M649.4 584.2h0M656.9 587.7h0M651.9 588.7h0M657.9 575.5h0M657.8 587.1h0M659.2 582.8h0M760.4 480.4h0M758.6 481.6h0M755.0 483.9h0M751.4 488.5h0M753.2 488.5h0M744.2 490.9h0M749.6 493.2h0M749.6 500.2h0M729.8 494.4h0M729.8 499.0h0M717.2 497.9h0M720.8 506.0h0M711.8 513.0h0M708.2 516.5h0M711.8 516.5h0M710.0 520.0h0M715.4 520.0h0M706.4 524.7h0M708.2 523.5h0M704.6 525.8h0M701.0 523.5h0M724.4 520.0h0M717.2 531.6h0M724.4 531.6h0M713.6 537.5h0M711.8 536.3h0M711.8 545.6h0M719.0 549.1h0M708.2 550.3h0M692.1 528.2h0M692.1 530.5h0M693.8 530.5h0M697.4 531.6h0M690.3 535.1h0M690.3 536.3h0M677.7 531.6h0M679.5 537.5h0M686.7 537.5h0M665.1 548.0h0M668.7 546.8h0M704.6 587.6h0M706.4 589.9h0M710.0 589.9h0M711.8 589.9h0M715.4 568.9h0M719.0 549.1h0" stroke="#000080" stroke-width="2.25" stroke-linecap="round" fill="none"/>
<line x1="647.1" y1="597.1" x2="758.8" y2="509.9" stroke="#222" stroke-width="0.7"/>
<rect x="641.5" y="474.4" width="122.9" height="128.4" fill="none" stroke="#9a9a9a" stroke-width="0.9"/>
<text x="647.1" y="609.4" font-family="'DejaVu Sans', sans-serif" font-size="5.4" fill="#111" text-anchor="middle">0.0</text>
<text x="665.1" y="609.4" font-family="'DejaVu Sans', sans-serif" font-size="5.4" fill="#111" text-anchor="middle">0.1</text>
<text x="683.1" y="609.4" font-family="'DejaVu Sans', sans-serif" font-size="5.4" fill="#111" text-anchor="middle">0.2</text>
<text x="701.0" y="609.4" font-family="'DejaVu Sans', sans-serif" font-size="5.4" fill="#111" text-anchor="middle">0.3</text>
<text x="719.0" y="609.4" font-family="'DejaVu Sans', sans-serif" font-size="5.4" fill="#111" text-anchor="middle">0.4</text>
<text x="737.0" y="609.4" font-family="'DejaVu Sans', sans-serif" font-size="5.4" fill="#111" text-anchor="middle">0.5</text>
<text x="755.0" y="609.4" font-family="'DejaVu Sans', sans-serif" font-size="5.4" fill="#111" text-anchor="middle">0.6</text>
<text x="639.9" y="592.2" font-family="'DejaVu Sans', sans-serif" font-size="5.4" fill="#111" text-anchor="end">0.0</text>
<text x="639.9" y="568.9" font-family="'DejaVu Sans', sans-serif" font-size="5.4" fill="#111" text-anchor="end">0.2</text>
<text x="639.9" y="545.6" font-family="'DejaVu Sans', sans-serif" font-size="5.4" fill="#111" text-anchor="end">0.4</text>
<text x="639.9" y="522.3" font-family="'DejaVu Sans', sans-serif" font-size="5.4" fill="#111" text-anchor="end">0.6</text>
<text x="639.9" y="499.0" font-family="'DejaVu Sans', sans-serif" font-size="5.4" fill="#111" text-anchor="end">0.8</text>
<path d="M647.1 602.8v1.8M665.1 602.8v1.8M683.1 602.8v1.8M701.0 602.8v1.8M719.0 602.8v1.8M737.0 602.8v1.8M755.0 602.8v1.8M641.5 589.9h-1.8M641.5 566.6h-1.8M641.5 543.3h-1.8M641.5 520.0h-1.8M641.5 496.7h-1.8" stroke="#888" stroke-width="0.6"/>
<text x="654.5" y="497.1" font-family="'DejaVu Sans', sans-serif" font-size="12.55" fill="#000">r = 0.756</text>
<rect x="769.1" y="11" width="21.9" height="129.8" fill="#808080"/>
<text transform="translate(775.2 75.9) rotate(90)" font-family="'Liberation Sans', Arial, sans-serif" font-size="13.9" fill="#fff" text-anchor="middle">Control</text>
<rect x="769.1" y="149.9" width="21.9" height="129.7" fill="#000080"/>
<text transform="translate(775.2 214.8) rotate(90)" font-family="'Liberation Sans', Arial, sans-serif" font-size="13.9" fill="#fff" text-anchor="middle">sc-CMGAN</text>
<rect x="769.1" y="329.9" width="21.9" height="129.7" fill="#808080"/>
<text transform="translate(775.2 394.8) rotate(90)" font-family="'Liberation Sans', Arial, sans-serif" font-size="13.9" fill="#fff" text-anchor="middle">Control</text>
<rect x="769.1" y="474.6" width="21.9" height="129.4" fill="#000080"/>
<text transform="translate(775.2 539.3) rotate(90)" font-family="'Liberation Sans', Arial, sans-serif" font-size="13.9" fill="#fff" text-anchor="middle">sc-CMGAN</text>
<text x="3.5" y="20" font-family="'Liberation Sans', Arial, sans-serif" font-size="20.5" fill="#111">A</text>
<text x="3.8" y="674" font-family="'Liberation Sans', Arial, sans-serif" font-size="20.8" fill="#111">B</text>
<text transform="translate(27.1 461.9) rotate(-90) scale(1 1.06)" font-family="'Liberation Sans', Arial, sans-serif" font-size="21.2" fill="#111" style="white-space:pre">Predicted  cell type  proportion</text>
<text transform="translate(259.3 637.3) scale(1 1.06)" font-family="'Liberation Sans', Arial, sans-serif" font-size="21.2" fill="#111" style="white-space:pre">Computed  cell type proportion</text>
<path d="M63.3 726.4h0M65.2 728.5h0M74.0 734.0h0M71.4 750.3h0M68.9 764.8h0M81.5 737.7h0M82.8 749.0h0M91.6 750.3h0M89.7 763.5h0M79.0 775.5h0M74.0 776.7h0M118.0 778.0h0M70.2 780.0h0M75.0 782.5h0M72.0 791.4h0M77.7 790.0h0M81.5 786.3h0M86.5 785.0h0M91.6 791.4h0M92.8 793.0h0M92.8 802.0h0M91.6 806.4h0M94.0 816.5h0M97.9 819.0h0M99.1 821.5h0M102.9 787.6h0M105.4 785.0h0M107.9 783.8h0M116.7 778.8h0M116.7 798.9h0M113.0 800.2h0M128.0 793.9h0M133.1 790.1h0M136.9 791.4h0M135.6 795.1h0M128.0 840.4h0M135.6 840.4h0M110.4 851.7h0M103.4 788.0h0M100.2 802.3h0M95.4 815.0h0M96.1 819.0h0M89.0 829.3h0M109.7 853.1h0M124.0 859.5h0M127.2 873.0h0M100.2 878.6h0M93.8 885.7h0M96.9 886.3h0M100.0 886.3h0M103.2 885.7h0M112.9 888.9h0M128.8 900.8h0M130.4 902.4h0M135.7 793.9h0M142.6 792.6h0M154.5 800.2h0M171.5 798.9h0M180.3 805.8h0M170.3 817.8h0M179.1 822.8h0M151.4 822.8h0M152.6 826.6h0M164.0 826.6h0M151.4 835.4h0M167.7 834.1h0M177.8 834.1h0M175.3 843.6h0M189.1 835.4h0M191.6 825.3h0M196.7 810.2h0M208.0 817.8h0M211.8 816.5h0M204.2 824.0h0M211.8 825.3h0M220.6 837.9h0M226.9 837.9h0M218.0 844.8h0M146.4 849.2h0M150.1 850.5h0M158.9 850.5h0M136.3 840.4h0M279.1 793.9h0M265.3 798.9h0M261.5 801.4h0M256.4 804.6h0M264.0 807.7h0M266.5 810.2h0M277.8 808.3h0M282.9 802.0h0M298.0 795.1h0M296.7 811.5h0M238.8 816.5h0M241.3 820.3h0M261.5 820.3h0M256.4 826.6h0M287.9 820.9h0M276.6 825.3h0M267.8 830.3h0M272.8 835.4h0M237.0 834.1h0M227.5 826.6h0M231.3 827.8h0M226.3 839.2h0M245.1 839.2h0M243.9 843.6h0M248.9 846.7h0M247.0 850.5h0M272.8 837.9h0M295.4 834.1h0M142.6 857.5h0M147.6 853.8h0M150.1 862.6h0M148.9 871.4h0M153.9 872.6h0M145.1 873.3h0M164.0 865.1h0M170.3 877.7h0M182.8 855.0h0M189.1 862.6h0M185.3 870.1h0M187.9 878.9h0M187.9 885.2h0M203.0 861.3h0M208.0 875.2h0M221.8 863.8h0M159.6 897.2h0M152.6 899.7h0M147.6 890.3h0M197.9 862.6h0M260.8 853.8h0M260.2 858.8h0M259.6 867.6h0M252.7 853.8h0M232.5 876.4h0M227.5 873.9h0M239.5 898.4h0M247.6 884.0h0M255.0 857.0h0M263.0 856.0h0M66.3 725.6h0M65.3 729.2h0M72.6 734.0h0M71.4 747.1h0M70.7 765.9h0M80.4 737.4h0M83.7 748.5h0M91.2 747.7h0M90.7 763.7h0M79.5 772.8h0M77.0 777.0h0M117.3 781.7h0M70.1 777.4h0M74.3 778.4h0M73.9 790.7h0M76.4 791.9h0M78.5 787.3h0M82.8 783.8h0M89.4 794.0h0M96.0 792.4h0M94.3 801.7h0M92.6 805.0h0M90.9 813.3h0M98.6 823.0h0M99.6 820.6h0M106.3 788.0h0M105.6 785.5h0M107.7 783.2h0M114.1 779.7h0M116.5 801.0h0M112.3 796.8h0M127.8 797.0h0M132.4 788.5h0M134.8 789.5h0M135.1 793.0h0M130.7 839.9h0M135.8 843.0h0M113.1 851.3h0M104.0 789.3h0M99.9 799.1h0M96.6 816.6h0M96.8 817.3h0M88.6 828.2h0M109.2 855.4h0M126.8 860.7h0M128.2 874.2h0M100.2 878.5h0M92.6 885.6h0M101.0 887.9h0M99.4 885.5h0M101.6 886.4h0M113.6 886.3h0M129.7 899.8h0M133.0 902.7h0M138.8 793.1h0M142.1 793.1h0M156.4 801.2h0M169.3 799.2h0M180.3 805.0h0M169.1 820.9h0M178.4 821.3h0M152.5 823.0h0M152.5 828.0h0M164.9 827.3h0M153.1 835.9h0M166.6 833.4h0M176.9 834.5h0M173.4 840.3h0M189.3 833.0h0M188.1 826.0h0M195.4 811.1h0M207.0 815.8h0M209.6 815.6h0M203.7 822.5h0M211.3 822.5h0M220.6 834.7h0M226.6 839.2h0M220.0 847.9h0M143.6 850.6h0M152.3 852.3h0M157.2 851.2h0M139.6 837.7h0M280.0 795.9h0M264.0 799.9h0M259.6 799.9h0M254.9 804.9h0M263.8 809.4h0M264.8 810.0h0M279.5 809.3h0M280.5 803.2h0M297.1 795.8h0M297.2 813.7h0M239.0 813.2h0M238.8 821.6h0M261.0 822.3h0M256.9 825.3h0M289.8 819.4h0M272.9 829.0h0M264.4 831.4h0M274.5 835.7h0M234.0 835.9h0M224.9 824.2h0M230.6 829.2h0M226.8 840.7h0M244.3 838.9h0M241.9 843.0h0M250.0 846.2h0M247.9 849.5h0M271.7 838.0h0M295.0 835.2h0M142.9 860.6h0M147.2 853.4h0M148.2 862.6h0M150.1 870.1h0M153.8 873.9h0M144.9 872.4h0M165.8 865.3h0M171.0 879.8h0M184.9 854.4h0M188.2 863.1h0M185.1 866.7h0M190.2 878.9h0M189.2 883.1h0M205.3 860.2h0M207.8 872.7h0M221.5 863.4h0M159.3 898.0h0M152.7 901.5h0M146.8 888.5h0M197.9 863.7h0M263.0 855.3h0M257.0 859.5h0M262.2 867.7h0M251.8 854.4h0M231.6 877.6h0M227.5 876.4h0M240.4 897.1h0M248.7 885.7h0M254.0 856.2h0M258.9 857.6h0" stroke="#808080" stroke-width="5.7" stroke-linecap="round" fill="none"/>
<polygon points="55.7,713.6 54.2,715.9 52.8,722.3 52.1,738.0 52.3,744.6 56.7,757.3 58.6,765.7 61.6,787.3 62.3,799.8 63.6,809.2 73.0,824.2 76.1,833.0 81.8,841.6 88.2,849.0 93.9,856.6 98.9,864.7 105.1,872.3 112.9,880.0 122.5,888.1 131.4,897.1 143.5,902.9 156.2,907.4 168.6,915.3 180.6,918.1 192.7,918.1 205.1,916.3 217.5,913.6 227.6,912.2 236.9,910.3 246.5,905.9 256.3,899.7 264.9,892.3 282.4,874.8 298.6,856.2 306.2,842.1 309.6,831.1 311.4,818.8 312.0,806.4 309.5,775.6 306.8,769.8 303.1,768.5 300.8,769.5 298.1,806.5 297.6,832.2 294.8,841.6 291.8,846.4 284.8,854.4 277.1,866.0 266.9,870.1 259.1,874.0 250.5,879.3 239.4,881.2 231.0,879.1 224.3,873.4 213.2,875.1 207.1,882.6 205.5,883.3 192.5,883.2 180.0,877.5 171.7,881.3 159.0,882.3 149.7,881.3 134.2,875.1 125.9,870.9 116.1,864.3 107.9,856.2 100.1,845.2 80.6,829.0 78.0,810.7 75.1,800.9 68.6,789.5 68.1,780.1 68.7,772.0 67.9,763.6 63.2,753.4 61.7,745.2 60.2,726.2 59.2,718.8" fill="#FFA500"/>
<path d="M171.7 894.9l3.8 3.8l-3.8 3.8l-3.8 -3.8zM143.5 894.5l3.8 3.8l-3.8 3.8l-3.8 -3.8zM149.9 881.9l3.8 3.8l-3.8 3.8l-3.8 -3.8zM307.1 831.2l3.8 3.8l-3.8 3.8l-3.8 -3.8zM142.9 894.2l3.8 3.8l-3.8 3.8l-3.8 -3.8zM300.4 774.6l3.8 3.8l-3.8 3.8l-3.8 -3.8zM287.3 859.0l3.8 3.8l-3.8 3.8l-3.8 -3.8zM116.7 868.1l3.8 3.8l-3.8 3.8l-3.8 -3.8zM148.8 886.0l3.8 3.8l-3.8 3.8l-3.8 -3.8zM108.4 864.4l3.8 3.8l-3.8 3.8l-3.8 -3.8zM201.5 885.2l3.8 3.8l-3.8 3.8l-3.8 -3.8zM105.9 868.2l3.8 3.8l-3.8 3.8l-3.8 -3.8zM152.6 900.6l3.8 3.8l-3.8 3.8l-3.8 -3.8zM117.5 868.2l3.8 3.8l-3.8 3.8l-3.8 -3.8zM276.1 875.6l3.8 3.8l-3.8 3.8l-3.8 -3.8zM233.3 885.6l3.8 3.8l-3.8 3.8l-3.8 -3.8zM78.4 832.2l3.8 3.8l-3.8 3.8l-3.8 -3.8zM301.6 817.4l3.8 3.8l-3.8 3.8l-3.8 -3.8zM215.9 882.9l3.8 3.8l-3.8 3.8l-3.8 -3.8zM307.1 785.6l3.8 3.8l-3.8 3.8l-3.8 -3.8zM191.6 895.1l3.8 3.8l-3.8 3.8l-3.8 -3.8zM173.6 878.2l3.8 3.8l-3.8 3.8l-3.8 -3.8zM203.6 895.7l3.8 3.8l-3.8 3.8l-3.8 -3.8zM59.4 763.4l3.8 3.8l-3.8 3.8l-3.8 -3.8zM242.7 896.3l3.8 3.8l-3.8 3.8l-3.8 -3.8zM213.1 906.1l3.8 3.8l-3.8 3.8l-3.8 -3.8zM65.3 790.1l3.8 3.8l-3.8 3.8l-3.8 -3.8zM252.8 890.7l3.8 3.8l-3.8 3.8l-3.8 -3.8zM194.6 892.5l3.8 3.8l-3.8 3.8l-3.8 -3.8zM259.5 874.6l3.8 3.8l-3.8 3.8l-3.8 -3.8zM288.5 855.5l3.8 3.8l-3.8 3.8l-3.8 -3.8zM227.9 885.4l3.8 3.8l-3.8 3.8l-3.8 -3.8zM159.5 901.2l3.8 3.8l-3.8 3.8l-3.8 -3.8zM266.8 868.2l3.8 3.8l-3.8 3.8l-3.8 -3.8zM213.0 899.4l3.8 3.8l-3.8 3.8l-3.8 -3.8zM282.2 868.2l3.8 3.8l-3.8 3.8l-3.8 -3.8zM68.2 762.7l3.8 3.8l-3.8 3.8l-3.8 -3.8zM215.9 898.4l3.8 3.8l-3.8 3.8l-3.8 -3.8zM265.6 880.4l3.8 3.8l-3.8 3.8l-3.8 -3.8zM54.8 740.6l3.8 3.8l-3.8 3.8l-3.8 -3.8zM154.7 881.5l3.8 3.8l-3.8 3.8l-3.8 -3.8zM295.7 848.0l3.8 3.8l-3.8 3.8l-3.8 -3.8zM242.6 903.2l3.8 3.8l-3.8 3.8l-3.8 -3.8zM92.2 835.7l3.8 3.8l-3.8 3.8l-3.8 -3.8zM119.5 870.6l3.8 3.8l-3.8 3.8l-3.8 -3.8zM238.9 901.8l3.8 3.8l-3.8 3.8l-3.8 -3.8zM174.6 880.9l3.8 3.8l-3.8 3.8l-3.8 -3.8zM226.8 873.6l3.8 3.8l-3.8 3.8l-3.8 -3.8zM200.6 901.5l3.8 3.8l-3.8 3.8l-3.8 -3.8zM158.7 902.9l3.8 3.8l-3.8 3.8l-3.8 -3.8zM295.1 837.5l3.8 3.8l-3.8 3.8l-3.8 -3.8zM216.4 884.1l3.8 3.8l-3.8 3.8l-3.8 -3.8zM226.9 892.1l3.8 3.8l-3.8 3.8l-3.8 -3.8zM207.9 896.0l3.8 3.8l-3.8 3.8l-3.8 -3.8zM154.3 880.8l3.8 3.8l-3.8 3.8l-3.8 -3.8zM186.3 897.7l3.8 3.8l-3.8 3.8l-3.8 -3.8zM59.7 766.3l3.8 3.8l-3.8 3.8l-3.8 -3.8zM93.8 843.9l3.8 3.8l-3.8 3.8l-3.8 -3.8zM171.4 879.2l3.8 3.8l-3.8 3.8l-3.8 -3.8zM191.3 889.7l3.8 3.8l-3.8 3.8l-3.8 -3.8zM245.9 882.8l3.8 3.8l-3.8 3.8l-3.8 -3.8zM99.1 847.6l3.8 3.8l-3.8 3.8l-3.8 -3.8zM219.5 888.7l3.8 3.8l-3.8 3.8l-3.8 -3.8zM200.1 907.9l3.8 3.8l-3.8 3.8l-3.8 -3.8zM304.6 834.3l3.8 3.8l-3.8 3.8l-3.8 -3.8zM107.6 864.2l3.8 3.8l-3.8 3.8l-3.8 -3.8zM226.9 904.3l3.8 3.8l-3.8 3.8l-3.8 -3.8zM193.9 889.9l3.8 3.8l-3.8 3.8l-3.8 -3.8zM144.2 883.2l3.8 3.8l-3.8 3.8l-3.8 -3.8zM175.8 911.0l3.8 3.8l-3.8 3.8l-3.8 -3.8zM185.2 899.2l3.8 3.8l-3.8 3.8l-3.8 -3.8zM65.4 801.5l3.8 3.8l-3.8 3.8l-3.8 -3.8zM66.3 802.3l3.8 3.8l-3.8 3.8l-3.8 -3.8zM229.1 879.5l3.8 3.8l-3.8 3.8l-3.8 -3.8zM151.3 878.9l3.8 3.8l-3.8 3.8l-3.8 -3.8zM156.0 894.3l3.8 3.8l-3.8 3.8l-3.8 -3.8zM83.3 828.4l3.8 3.8l-3.8 3.8l-3.8 -3.8zM94.7 845.1l3.8 3.8l-3.8 3.8l-3.8 -3.8zM275.8 872.8l3.8 3.8l-3.8 3.8l-3.8 -3.8zM206.9 883.4l3.8 3.8l-3.8 3.8l-3.8 -3.8zM307.2 812.8l3.8 3.8l-3.8 3.8l-3.8 -3.8zM166.9 881.3l3.8 3.8l-3.8 3.8l-3.8 -3.8zM182.0 885.5l3.8 3.8l-3.8 3.8l-3.8 -3.8zM290.2 851.8l3.8 3.8l-3.8 3.8l-3.8 -3.8zM198.5 900.3l3.8 3.8l-3.8 3.8l-3.8 -3.8zM148.5 893.7l3.8 3.8l-3.8 3.8l-3.8 -3.8zM232.3 905.9l3.8 3.8l-3.8 3.8l-3.8 -3.8zM91.9 841.8l3.8 3.8l-3.8 3.8l-3.8 -3.8zM295.1 856.4l3.8 3.8l-3.8 3.8l-3.8 -3.8zM166.0 907.8l3.8 3.8l-3.8 3.8l-3.8 -3.8zM201.2 887.7l3.8 3.8l-3.8 3.8l-3.8 -3.8zM147.3 882.9l3.8 3.8l-3.8 3.8l-3.8 -3.8zM307.3 820.7l3.8 3.8l-3.8 3.8l-3.8 -3.8zM142.1 892.5l3.8 3.8l-3.8 3.8l-3.8 -3.8zM74.5 808.0l3.8 3.8l-3.8 3.8l-3.8 -3.8zM221.1 874.4l3.8 3.8l-3.8 3.8l-3.8 -3.8zM248.1 881.5l3.8 3.8l-3.8 3.8l-3.8 -3.8zM108.2 865.4l3.8 3.8l-3.8 3.8l-3.8 -3.8zM305.8 812.9l3.8 3.8l-3.8 3.8l-3.8 -3.8zM64.2 779.0l3.8 3.8l-3.8 3.8l-3.8 -3.8zM137.5 887.0l3.8 3.8l-3.8 3.8l-3.8 -3.8zM145.6 879.9l3.8 3.8l-3.8 3.8l-3.8 -3.8zM305.5 810.8l3.8 3.8l-3.8 3.8l-3.8 -3.8zM270.2 868.6l3.8 3.8l-3.8 3.8l-3.8 -3.8zM258.5 884.3l3.8 3.8l-3.8 3.8l-3.8 -3.8zM186.0 894.7l3.8 3.8l-3.8 3.8l-3.8 -3.8zM74.5 823.2l3.8 3.8l-3.8 3.8l-3.8 -3.8zM306.7 776.0l3.8 3.8l-3.8 3.8l-3.8 -3.8zM62.3 757.4l3.8 3.8l-3.8 3.8l-3.8 -3.8zM242.1 886.0l3.8 3.8l-3.8 3.8l-3.8 -3.8zM195.9 888.7l3.8 3.8l-3.8 3.8l-3.8 -3.8zM303.8 815.3l3.8 3.8l-3.8 3.8l-3.8 -3.8zM67.4 809.7l3.8 3.8l-3.8 3.8l-3.8 -3.8zM299.3 802.7l3.8 3.8l-3.8 3.8l-3.8 -3.8zM307.0 800.0l3.8 3.8l-3.8 3.8l-3.8 -3.8zM230.0 905.6l3.8 3.8l-3.8 3.8l-3.8 -3.8zM100.1 843.1l3.8 3.8l-3.8 3.8l-3.8 -3.8zM306.1 808.8l3.8 3.8l-3.8 3.8l-3.8 -3.8zM172.6 906.0l3.8 3.8l-3.8 3.8l-3.8 -3.8zM83.4 834.6l3.8 3.8l-3.8 3.8l-3.8 -3.8zM311.3 802.9l3.8 3.8l-3.8 3.8l-3.8 -3.8zM228.0 897.4l3.8 3.8l-3.8 3.8l-3.8 -3.8zM140.4 893.0l3.8 3.8l-3.8 3.8l-3.8 -3.8zM61.0 739.7l3.8 3.8l-3.8 3.8l-3.8 -3.8zM186.3 897.8l3.8 3.8l-3.8 3.8l-3.8 -3.8zM74.2 822.3l3.8 3.8l-3.8 3.8l-3.8 -3.8zM210.4 908.7l3.8 3.8l-3.8 3.8l-3.8 -3.8zM310.0 805.1l3.8 3.8l-3.8 3.8l-3.8 -3.8zM143.0 878.9l3.8 3.8l-3.8 3.8l-3.8 -3.8zM180.9 900.0l3.8 3.8l-3.8 3.8l-3.8 -3.8zM103.8 861.5l3.8 3.8l-3.8 3.8l-3.8 -3.8zM67.2 795.2l3.8 3.8l-3.8 3.8l-3.8 -3.8zM238.8 882.0l3.8 3.8l-3.8 3.8l-3.8 -3.8zM234.8 892.9l3.8 3.8l-3.8 3.8l-3.8 -3.8zM56.2 744.9l3.8 3.8l-3.8 3.8l-3.8 -3.8zM241.2 881.5l3.8 3.8l-3.8 3.8l-3.8 -3.8zM164.3 905.7l3.8 3.8l-3.8 3.8l-3.8 -3.8zM185.7 884.8l3.8 3.8l-3.8 3.8l-3.8 -3.8zM281.3 869.8l3.8 3.8l-3.8 3.8l-3.8 -3.8zM283.5 864.3l3.8 3.8l-3.8 3.8l-3.8 -3.8zM72.5 805.1l3.8 3.8l-3.8 3.8l-3.8 -3.8zM302.9 836.5l3.8 3.8l-3.8 3.8l-3.8 -3.8zM192.7 894.6l3.8 3.8l-3.8 3.8l-3.8 -3.8zM182.2 892.9l3.8 3.8l-3.8 3.8l-3.8 -3.8zM71.1 800.9l3.8 3.8l-3.8 3.8l-3.8 -3.8zM297.3 847.4l3.8 3.8l-3.8 3.8l-3.8 -3.8zM57.5 753.5l3.8 3.8l-3.8 3.8l-3.8 -3.8zM167.8 877.9l3.8 3.8l-3.8 3.8l-3.8 -3.8zM303.8 784.7l3.8 3.8l-3.8 3.8l-3.8 -3.8zM75.0 812.4l3.8 3.8l-3.8 3.8l-3.8 -3.8zM251.6 883.4l3.8 3.8l-3.8 3.8l-3.8 -3.8zM53.3 729.3l3.8 3.8l-3.8 3.8l-3.8 -3.8zM257.0 874.5l3.8 3.8l-3.8 3.8l-3.8 -3.8zM304.9 837.1l3.8 3.8l-3.8 3.8l-3.8 -3.8zM240.1 885.2l3.8 3.8l-3.8 3.8l-3.8 -3.8zM223.6 904.8l3.8 3.8l-3.8 3.8l-3.8 -3.8zM102.6 847.7l3.8 3.8l-3.8 3.8l-3.8 -3.8zM224.0 872.7l3.8 3.8l-3.8 3.8l-3.8 -3.8zM167.9 881.3l3.8 3.8l-3.8 3.8l-3.8 -3.8zM279.2 865.0l3.8 3.8l-3.8 3.8l-3.8 -3.8zM198.6 902.9l3.8 3.8l-3.8 3.8l-3.8 -3.8zM158.9 902.1l3.8 3.8l-3.8 3.8l-3.8 -3.8zM225.2 903.5l3.8 3.8l-3.8 3.8l-3.8 -3.8zM63.5 775.7l3.8 3.8l-3.8 3.8l-3.8 -3.8zM69.8 798.7l3.8 3.8l-3.8 3.8l-3.8 -3.8zM268.6 876.3l3.8 3.8l-3.8 3.8l-3.8 -3.8zM256.6 893.9l3.8 3.8l-3.8 3.8l-3.8 -3.8zM245.4 900.5l3.8 3.8l-3.8 3.8l-3.8 -3.8zM155.4 895.0l3.8 3.8l-3.8 3.8l-3.8 -3.8zM197.0 902.7l3.8 3.8l-3.8 3.8l-3.8 -3.8zM188.2 884.4l3.8 3.8l-3.8 3.8l-3.8 -3.8zM217.1 870.9l3.8 3.8l-3.8 3.8l-3.8 -3.8zM234.9 877.1l3.8 3.8l-3.8 3.8l-3.8 -3.8zM165.7 887.9l3.8 3.8l-3.8 3.8l-3.8 -3.8zM182.9 905.5l3.8 3.8l-3.8 3.8l-3.8 -3.8zM208.3 881.8l3.8 3.8l-3.8 3.8l-3.8 -3.8zM168.4 889.7l3.8 3.8l-3.8 3.8l-3.8 -3.8zM142.9 892.3l3.8 3.8l-3.8 3.8l-3.8 -3.8zM223.1 891.5l3.8 3.8l-3.8 3.8l-3.8 -3.8zM79.5 828.1l3.8 3.8l-3.8 3.8l-3.8 -3.8zM293.5 854.6l3.8 3.8l-3.8 3.8l-3.8 -3.8zM194.6 904.2l3.8 3.8l-3.8 3.8l-3.8 -3.8zM74.8 808.3l3.8 3.8l-3.8 3.8l-3.8 -3.8zM105.1 864.9l3.8 3.8l-3.8 3.8l-3.8 -3.8zM176.3 902.7l3.8 3.8l-3.8 3.8l-3.8 -3.8zM137.2 895.5l3.8 3.8l-3.8 3.8l-3.8 -3.8zM241.9 887.3l3.8 3.8l-3.8 3.8l-3.8 -3.8zM161.5 891.0l3.8 3.8l-3.8 3.8l-3.8 -3.8zM228.5 897.0l3.8 3.8l-3.8 3.8l-3.8 -3.8zM124.2 867.4l3.8 3.8l-3.8 3.8l-3.8 -3.8zM93.6 842.6l3.8 3.8l-3.8 3.8l-3.8 -3.8zM227.9 884.1l3.8 3.8l-3.8 3.8l-3.8 -3.8zM309.9 824.4l3.8 3.8l-3.8 3.8l-3.8 -3.8zM114.2 862.2l3.8 3.8l-3.8 3.8l-3.8 -3.8zM155.6 896.9l3.8 3.8l-3.8 3.8l-3.8 -3.8zM310.2 780.0l3.8 3.8l-3.8 3.8l-3.8 -3.8zM237.9 900.4l3.8 3.8l-3.8 3.8l-3.8 -3.8zM109.6 861.2l3.8 3.8l-3.8 3.8l-3.8 -3.8zM109.6 865.2l3.8 3.8l-3.8 3.8l-3.8 -3.8zM128.2 890.0l3.8 3.8l-3.8 3.8l-3.8 -3.8zM300.7 798.0l3.8 3.8l-3.8 3.8l-3.8 -3.8zM219.9 895.5l3.8 3.8l-3.8 3.8l-3.8 -3.8zM309.9 797.0l3.8 3.8l-3.8 3.8l-3.8 -3.8zM59.9 745.4l3.8 3.8l-3.8 3.8l-3.8 -3.8zM86.7 832.7l3.8 3.8l-3.8 3.8l-3.8 -3.8zM248.6 896.2l3.8 3.8l-3.8 3.8l-3.8 -3.8zM117.6 863.7l3.8 3.8l-3.8 3.8l-3.8 -3.8zM203.0 897.5l3.8 3.8l-3.8 3.8l-3.8 -3.8zM304.5 796.0l3.8 3.8l-3.8 3.8l-3.8 -3.8zM67.7 783.4l3.8 3.8l-3.8 3.8l-3.8 -3.8zM248.3 892.5l3.8 3.8l-3.8 3.8l-3.8 -3.8zM254.4 886.3l3.8 3.8l-3.8 3.8l-3.8 -3.8zM157.6 893.0l3.8 3.8l-3.8 3.8l-3.8 -3.8zM220.4 898.4l3.8 3.8l-3.8 3.8l-3.8 -3.8zM115.2 873.6l3.8 3.8l-3.8 3.8l-3.8 -3.8zM245.5 897.8l3.8 3.8l-3.8 3.8l-3.8 -3.8zM107.8 870.2l3.8 3.8l-3.8 3.8l-3.8 -3.8zM246.5 885.2l3.8 3.8l-3.8 3.8l-3.8 -3.8zM63.9 755.9l3.8 3.8l-3.8 3.8l-3.8 -3.8zM307.3 791.9l3.8 3.8l-3.8 3.8l-3.8 -3.8zM195.2 899.1l3.8 3.8l-3.8 3.8l-3.8 -3.8zM238.0 884.6l3.8 3.8l-3.8 3.8l-3.8 -3.8zM268.1 868.0l3.8 3.8l-3.8 3.8l-3.8 -3.8zM99.8 850.5l3.8 3.8l-3.8 3.8l-3.8 -3.8zM118.2 875.2l3.8 3.8l-3.8 3.8l-3.8 -3.8zM57.9 716.6l3.8 3.8l-3.8 3.8l-3.8 -3.8zM205.5 907.2l3.8 3.8l-3.8 3.8l-3.8 -3.8zM306.1 799.3l3.8 3.8l-3.8 3.8l-3.8 -3.8zM153.4 890.6l3.8 3.8l-3.8 3.8l-3.8 -3.8zM301.0 836.8l3.8 3.8l-3.8 3.8l-3.8 -3.8zM296.5 849.5l3.8 3.8l-3.8 3.8l-3.8 -3.8zM180.5 894.1l3.8 3.8l-3.8 3.8l-3.8 -3.8zM97.7 845.6l3.8 3.8l-3.8 3.8l-3.8 -3.8zM183.6 893.1l3.8 3.8l-3.8 3.8l-3.8 -3.8zM194.1 885.4l3.8 3.8l-3.8 3.8l-3.8 -3.8zM59.6 724.2l3.8 3.8l-3.8 3.8l-3.8 -3.8zM306.8 809.9l3.8 3.8l-3.8 3.8l-3.8 -3.8zM301.6 798.7l3.8 3.8l-3.8 3.8l-3.8 -3.8zM270.8 873.0l3.8 3.8l-3.8 3.8l-3.8 -3.8zM256.4 876.3l3.8 3.8l-3.8 3.8l-3.8 -3.8zM207.5 888.4l3.8 3.8l-3.8 3.8l-3.8 -3.8zM173.0 891.7l3.8 3.8l-3.8 3.8l-3.8 -3.8zM252.3 890.4l3.8 3.8l-3.8 3.8l-3.8 -3.8zM220.6 876.1l3.8 3.8l-3.8 3.8l-3.8 -3.8zM122.4 870.3l3.8 3.8l-3.8 3.8l-3.8 -3.8zM98.8 855.3l3.8 3.8l-3.8 3.8l-3.8 -3.8zM62.4 778.8l3.8 3.8l-3.8 3.8l-3.8 -3.8zM306.0 784.0l3.8 3.8l-3.8 3.8l-3.8 -3.8zM269.8 881.4l3.8 3.8l-3.8 3.8l-3.8 -3.8zM228.2 887.8l3.8 3.8l-3.8 3.8l-3.8 -3.8zM304.5 789.1l3.8 3.8l-3.8 3.8l-3.8 -3.8zM87.1 843.2l3.8 3.8l-3.8 3.8l-3.8 -3.8zM58.5 750.5l3.8 3.8l-3.8 3.8l-3.8 -3.8zM138.0 893.1l3.8 3.8l-3.8 3.8l-3.8 -3.8zM187.2 913.7l3.8 3.8l-3.8 3.8l-3.8 -3.8zM285.0 853.6l3.8 3.8l-3.8 3.8l-3.8 -3.8zM168.3 886.5l3.8 3.8l-3.8 3.8l-3.8 -3.8zM255.8 879.3l3.8 3.8l-3.8 3.8l-3.8 -3.8zM261.0 878.6l3.8 3.8l-3.8 3.8l-3.8 -3.8zM304.2 839.7l3.8 3.8l-3.8 3.8l-3.8 -3.8zM56.5 710.4l3.8 3.8l-3.8 3.8l-3.8 -3.8zM54.0 714.4l3.8 3.8l-3.8 3.8l-3.8 -3.8zM52.6 723.1l3.8 3.8l-3.8 3.8l-3.8 -3.8zM52.9 727.7l3.8 3.8l-3.8 3.8l-3.8 -3.8zM51.0 732.7l3.8 3.8l-3.8 3.8l-3.8 -3.8zM52.2 735.1l3.8 3.8l-3.8 3.8l-3.8 -3.8zM51.7 740.8l3.8 3.8l-3.8 3.8l-3.8 -3.8zM53.0 748.2l3.8 3.8l-3.8 3.8l-3.8 -3.8zM57.0 753.2l3.8 3.8l-3.8 3.8l-3.8 -3.8zM57.8 754.8l3.8 3.8l-3.8 3.8l-3.8 -3.8zM55.0 759.2l3.8 3.8l-3.8 3.8l-3.8 -3.8zM58.8 762.3l3.8 3.8l-3.8 3.8l-3.8 -3.8zM60.0 767.3l3.8 3.8l-3.8 3.8l-3.8 -3.8zM62.3 773.9l3.8 3.8l-3.8 3.8l-3.8 -3.8zM61.9 777.9l3.8 3.8l-3.8 3.8l-3.8 -3.8zM62.6 783.5l3.8 3.8l-3.8 3.8l-3.8 -3.8zM61.9 785.3l3.8 3.8l-3.8 3.8l-3.8 -3.8zM62.5 788.2l3.8 3.8l-3.8 3.8l-3.8 -3.8zM60.6 792.0l3.8 3.8l-3.8 3.8l-3.8 -3.8zM62.5 802.0l3.8 3.8l-3.8 3.8l-3.8 -3.8zM62.6 803.6l3.8 3.8l-3.8 3.8l-3.8 -3.8zM64.7 809.4l3.8 3.8l-3.8 3.8l-3.8 -3.8zM68.8 810.5l3.8 3.8l-3.8 3.8l-3.8 -3.8zM67.8 814.2l3.8 3.8l-3.8 3.8l-3.8 -3.8zM71.2 819.5l3.8 3.8l-3.8 3.8l-3.8 -3.8zM74.1 824.7l3.8 3.8l-3.8 3.8l-3.8 -3.8zM78.6 825.7l3.8 3.8l-3.8 3.8l-3.8 -3.8zM76.6 830.5l3.8 3.8l-3.8 3.8l-3.8 -3.8zM81.1 836.0l3.8 3.8l-3.8 3.8l-3.8 -3.8zM82.5 838.0l3.8 3.8l-3.8 3.8l-3.8 -3.8zM87.2 843.0l3.8 3.8l-3.8 3.8l-3.8 -3.8zM89.2 845.5l3.8 3.8l-3.8 3.8l-3.8 -3.8zM92.9 851.3l3.8 3.8l-3.8 3.8l-3.8 -3.8zM95.0 853.6l3.8 3.8l-3.8 3.8l-3.8 -3.8zM96.5 856.4l3.8 3.8l-3.8 3.8l-3.8 -3.8zM102.2 862.4l3.8 3.8l-3.8 3.8l-3.8 -3.8zM102.3 864.6l3.8 3.8l-3.8 3.8l-3.8 -3.8zM106.4 871.8l3.8 3.8l-3.8 3.8l-3.8 -3.8zM111.0 876.3l3.8 3.8l-3.8 3.8l-3.8 -3.8zM114.3 876.4l3.8 3.8l-3.8 3.8l-3.8 -3.8zM120.0 880.2l3.8 3.8l-3.8 3.8l-3.8 -3.8zM120.3 883.2l3.8 3.8l-3.8 3.8l-3.8 -3.8zM122.7 885.2l3.8 3.8l-3.8 3.8l-3.8 -3.8zM128.7 889.2l3.8 3.8l-3.8 3.8l-3.8 -3.8zM128.9 892.2l3.8 3.8l-3.8 3.8l-3.8 -3.8zM134.0 893.5l3.8 3.8l-3.8 3.8l-3.8 -3.8zM137.8 894.8l3.8 3.8l-3.8 3.8l-3.8 -3.8zM140.7 897.9l3.8 3.8l-3.8 3.8l-3.8 -3.8zM145.0 900.2l3.8 3.8l-3.8 3.8l-3.8 -3.8zM149.3 901.0l3.8 3.8l-3.8 3.8l-3.8 -3.8zM155.9 903.6l3.8 3.8l-3.8 3.8l-3.8 -3.8zM156.5 905.2l3.8 3.8l-3.8 3.8l-3.8 -3.8zM164.4 910.4l3.8 3.8l-3.8 3.8l-3.8 -3.8zM166.8 909.3l3.8 3.8l-3.8 3.8l-3.8 -3.8zM171.9 913.0l3.8 3.8l-3.8 3.8l-3.8 -3.8zM174.7 913.7l3.8 3.8l-3.8 3.8l-3.8 -3.8zM176.6 912.9l3.8 3.8l-3.8 3.8l-3.8 -3.8zM183.5 914.1l3.8 3.8l-3.8 3.8l-3.8 -3.8zM187.1 914.4l3.8 3.8l-3.8 3.8l-3.8 -3.8zM193.9 915.1l3.8 3.8l-3.8 3.8l-3.8 -3.8zM193.8 912.0l3.8 3.8l-3.8 3.8l-3.8 -3.8zM195.4 912.6l3.8 3.8l-3.8 3.8l-3.8 -3.8zM201.6 912.4l3.8 3.8l-3.8 3.8l-3.8 -3.8zM207.4 911.4l3.8 3.8l-3.8 3.8l-3.8 -3.8zM209.7 911.4l3.8 3.8l-3.8 3.8l-3.8 -3.8zM215.0 909.0l3.8 3.8l-3.8 3.8l-3.8 -3.8zM220.4 909.7l3.8 3.8l-3.8 3.8l-3.8 -3.8zM225.4 907.3l3.8 3.8l-3.8 3.8l-3.8 -3.8zM230.5 907.5l3.8 3.8l-3.8 3.8l-3.8 -3.8zM236.2 905.2l3.8 3.8l-3.8 3.8l-3.8 -3.8zM237.9 904.6l3.8 3.8l-3.8 3.8l-3.8 -3.8zM242.1 902.2l3.8 3.8l-3.8 3.8l-3.8 -3.8zM247.6 900.9l3.8 3.8l-3.8 3.8l-3.8 -3.8zM254.7 897.3l3.8 3.8l-3.8 3.8l-3.8 -3.8zM258.5 894.8l3.8 3.8l-3.8 3.8l-3.8 -3.8zM262.1 890.6l3.8 3.8l-3.8 3.8l-3.8 -3.8zM266.6 887.6l3.8 3.8l-3.8 3.8l-3.8 -3.8zM270.9 884.2l3.8 3.8l-3.8 3.8l-3.8 -3.8zM273.9 881.2l3.8 3.8l-3.8 3.8l-3.8 -3.8zM275.0 876.8l3.8 3.8l-3.8 3.8l-3.8 -3.8zM277.7 876.6l3.8 3.8l-3.8 3.8l-3.8 -3.8zM281.0 872.2l3.8 3.8l-3.8 3.8l-3.8 -3.8zM283.0 872.2l3.8 3.8l-3.8 3.8l-3.8 -3.8zM285.6 869.0l3.8 3.8l-3.8 3.8l-3.8 -3.8zM290.9 862.4l3.8 3.8l-3.8 3.8l-3.8 -3.8zM290.4 859.6l3.8 3.8l-3.8 3.8l-3.8 -3.8zM294.9 857.4l3.8 3.8l-3.8 3.8l-3.8 -3.8zM296.5 853.4l3.8 3.8l-3.8 3.8l-3.8 -3.8zM300.9 850.0l3.8 3.8l-3.8 3.8l-3.8 -3.8zM299.0 848.3l3.8 3.8l-3.8 3.8l-3.8 -3.8zM304.4 844.3l3.8 3.8l-3.8 3.8l-3.8 -3.8zM303.9 840.0l3.8 3.8l-3.8 3.8l-3.8 -3.8zM308.8 833.5l3.8 3.8l-3.8 3.8l-3.8 -3.8zM310.0 826.6l3.8 3.8l-3.8 3.8l-3.8 -3.8zM308.1 824.4l3.8 3.8l-3.8 3.8l-3.8 -3.8zM309.8 821.6l3.8 3.8l-3.8 3.8l-3.8 -3.8zM310.6 817.1l3.8 3.8l-3.8 3.8l-3.8 -3.8zM311.2 815.3l3.8 3.8l-3.8 3.8l-3.8 -3.8zM311.5 807.4l3.8 3.8l-3.8 3.8l-3.8 -3.8zM310.1 807.1l3.8 3.8l-3.8 3.8l-3.8 -3.8zM312.2 800.2l3.8 3.8l-3.8 3.8l-3.8 -3.8zM310.7 799.9l3.8 3.8l-3.8 3.8l-3.8 -3.8zM309.1 790.8l3.8 3.8l-3.8 3.8l-3.8 -3.8zM312.3 788.4l3.8 3.8l-3.8 3.8l-3.8 -3.8zM309.5 784.9l3.8 3.8l-3.8 3.8l-3.8 -3.8zM309.8 780.3l3.8 3.8l-3.8 3.8l-3.8 -3.8zM308.6 772.8l3.8 3.8l-3.8 3.8l-3.8 -3.8zM307.6 769.9l3.8 3.8l-3.8 3.8l-3.8 -3.8zM303.9 765.3l3.8 3.8l-3.8 3.8l-3.8 -3.8zM300.2 765.4l3.8 3.8l-3.8 3.8l-3.8 -3.8zM300.0 770.2l3.8 3.8l-3.8 3.8l-3.8 -3.8zM300.0 771.7l3.8 3.8l-3.8 3.8l-3.8 -3.8zM301.1 773.6l3.8 3.8l-3.8 3.8l-3.8 -3.8zM299.3 780.4l3.8 3.8l-3.8 3.8l-3.8 -3.8zM298.9 783.9l3.8 3.8l-3.8 3.8l-3.8 -3.8zM299.1 787.9l3.8 3.8l-3.8 3.8l-3.8 -3.8zM299.4 791.8l3.8 3.8l-3.8 3.8l-3.8 -3.8zM297.9 797.7l3.8 3.8l-3.8 3.8l-3.8 -3.8zM298.1 798.9l3.8 3.8l-3.8 3.8l-3.8 -3.8zM299.4 805.5l3.8 3.8l-3.8 3.8l-3.8 -3.8zM297.1 812.9l3.8 3.8l-3.8 3.8l-3.8 -3.8zM299.3 813.7l3.8 3.8l-3.8 3.8l-3.8 -3.8zM297.8 819.2l3.8 3.8l-3.8 3.8l-3.8 -3.8zM299.2 823.3l3.8 3.8l-3.8 3.8l-3.8 -3.8zM297.9 823.4l3.8 3.8l-3.8 3.8l-3.8 -3.8zM296.0 831.1l3.8 3.8l-3.8 3.8l-3.8 -3.8zM296.6 836.3l3.8 3.8l-3.8 3.8l-3.8 -3.8zM291.6 841.9l3.8 3.8l-3.8 3.8l-3.8 -3.8zM287.8 844.8l3.8 3.8l-3.8 3.8l-3.8 -3.8zM286.8 847.7l3.8 3.8l-3.8 3.8l-3.8 -3.8zM284.8 852.4l3.8 3.8l-3.8 3.8l-3.8 -3.8zM282.4 855.7l3.8 3.8l-3.8 3.8l-3.8 -3.8zM279.7 859.5l3.8 3.8l-3.8 3.8l-3.8 -3.8zM276.7 862.2l3.8 3.8l-3.8 3.8l-3.8 -3.8zM268.1 865.7l3.8 3.8l-3.8 3.8l-3.8 -3.8zM265.1 868.3l3.8 3.8l-3.8 3.8l-3.8 -3.8zM263.8 867.5l3.8 3.8l-3.8 3.8l-3.8 -3.8zM256.7 871.3l3.8 3.8l-3.8 3.8l-3.8 -3.8zM255.3 873.3l3.8 3.8l-3.8 3.8l-3.8 -3.8zM245.8 876.4l3.8 3.8l-3.8 3.8l-3.8 -3.8zM242.5 877.2l3.8 3.8l-3.8 3.8l-3.8 -3.8zM237.3 875.6l3.8 3.8l-3.8 3.8l-3.8 -3.8zM234.2 877.5l3.8 3.8l-3.8 3.8l-3.8 -3.8zM228.7 874.0l3.8 3.8l-3.8 3.8l-3.8 -3.8zM227.6 872.4l3.8 3.8l-3.8 3.8l-3.8 -3.8zM222.6 869.4l3.8 3.8l-3.8 3.8l-3.8 -3.8zM217.0 870.1l3.8 3.8l-3.8 3.8l-3.8 -3.8zM210.8 873.5l3.8 3.8l-3.8 3.8l-3.8 -3.8zM207.3 876.2l3.8 3.8l-3.8 3.8l-3.8 -3.8zM206.5 879.6l3.8 3.8l-3.8 3.8l-3.8 -3.8zM205.9 880.3l3.8 3.8l-3.8 3.8l-3.8 -3.8zM197.7 879.4l3.8 3.8l-3.8 3.8l-3.8 -3.8zM194.8 881.2l3.8 3.8l-3.8 3.8l-3.8 -3.8zM190.7 877.8l3.8 3.8l-3.8 3.8l-3.8 -3.8zM184.1 876.8l3.8 3.8l-3.8 3.8l-3.8 -3.8zM182.6 874.2l3.8 3.8l-3.8 3.8l-3.8 -3.8zM180.1 874.4l3.8 3.8l-3.8 3.8l-3.8 -3.8zM172.7 876.8l3.8 3.8l-3.8 3.8l-3.8 -3.8zM169.4 878.8l3.8 3.8l-3.8 3.8l-3.8 -3.8zM163.8 878.8l3.8 3.8l-3.8 3.8l-3.8 -3.8zM161.0 877.3l3.8 3.8l-3.8 3.8l-3.8 -3.8zM157.2 876.9l3.8 3.8l-3.8 3.8l-3.8 -3.8zM152.0 877.1l3.8 3.8l-3.8 3.8l-3.8 -3.8zM148.4 877.1l3.8 3.8l-3.8 3.8l-3.8 -3.8zM144.3 876.3l3.8 3.8l-3.8 3.8l-3.8 -3.8zM139.4 874.5l3.8 3.8l-3.8 3.8l-3.8 -3.8zM135.0 871.7l3.8 3.8l-3.8 3.8l-3.8 -3.8zM133.5 870.0l3.8 3.8l-3.8 3.8l-3.8 -3.8zM130.6 868.9l3.8 3.8l-3.8 3.8l-3.8 -3.8zM118.5 864.3l3.8 3.8l-3.8 3.8l-3.8 -3.8zM120.1 862.5l3.8 3.8l-3.8 3.8l-3.8 -3.8zM115.4 859.7l3.8 3.8l-3.8 3.8l-3.8 -3.8zM113.6 856.0l3.8 3.8l-3.8 3.8l-3.8 -3.8zM106.5 847.5l3.8 3.8l-3.8 3.8l-3.8 -3.8zM103.0 845.5l3.8 3.8l-3.8 3.8l-3.8 -3.8zM101.3 844.3l3.8 3.8l-3.8 3.8l-3.8 -3.8zM99.0 841.1l3.8 3.8l-3.8 3.8l-3.8 -3.8zM93.7 836.7l3.8 3.8l-3.8 3.8l-3.8 -3.8zM91.8 834.8l3.8 3.8l-3.8 3.8l-3.8 -3.8zM88.3 832.8l3.8 3.8l-3.8 3.8l-3.8 -3.8zM86.0 827.7l3.8 3.8l-3.8 3.8l-3.8 -3.8zM81.8 829.5l3.8 3.8l-3.8 3.8l-3.8 -3.8zM80.2 824.1l3.8 3.8l-3.8 3.8l-3.8 -3.8zM80.0 817.9l3.8 3.8l-3.8 3.8l-3.8 -3.8zM79.1 815.7l3.8 3.8l-3.8 3.8l-3.8 -3.8zM77.7 808.0l3.8 3.8l-3.8 3.8l-3.8 -3.8zM76.6 806.9l3.8 3.8l-3.8 3.8l-3.8 -3.8zM76.7 797.5l3.8 3.8l-3.8 3.8l-3.8 -3.8zM75.8 796.9l3.8 3.8l-3.8 3.8l-3.8 -3.8zM71.3 791.4l3.8 3.8l-3.8 3.8l-3.8 -3.8zM69.5 787.5l3.8 3.8l-3.8 3.8l-3.8 -3.8zM69.6 782.3l3.8 3.8l-3.8 3.8l-3.8 -3.8zM68.0 780.0l3.8 3.8l-3.8 3.8l-3.8 -3.8zM67.9 773.2l3.8 3.8l-3.8 3.8l-3.8 -3.8zM68.3 769.9l3.8 3.8l-3.8 3.8l-3.8 -3.8zM66.1 765.0l3.8 3.8l-3.8 3.8l-3.8 -3.8zM69.1 759.7l3.8 3.8l-3.8 3.8l-3.8 -3.8zM67.4 753.9l3.8 3.8l-3.8 3.8l-3.8 -3.8zM62.9 749.7l3.8 3.8l-3.8 3.8l-3.8 -3.8zM63.8 747.5l3.8 3.8l-3.8 3.8l-3.8 -3.8zM61.7 742.5l3.8 3.8l-3.8 3.8l-3.8 -3.8zM63.2 737.4l3.8 3.8l-3.8 3.8l-3.8 -3.8zM60.9 736.2l3.8 3.8l-3.8 3.8l-3.8 -3.8zM62.3 732.7l3.8 3.8l-3.8 3.8l-3.8 -3.8zM60.2 727.6l3.8 3.8l-3.8 3.8l-3.8 -3.8zM57.6 723.1l3.8 3.8l-3.8 3.8l-3.8 -3.8zM56.0 710.3l3.8 3.8l-3.8 3.8l-3.8 -3.8zM72.7 739.6l3.8 3.8l-3.8 3.8l-3.8 -3.8zM75.6 750.9l3.8 3.8l-3.8 3.8l-3.8 -3.8zM80.3 752.8l3.8 3.8l-3.8 3.8l-3.8 -3.8zM84.0 745.2l3.8 3.8l-3.8 3.8l-3.8 -3.8zM82.2 767.9l3.8 3.8l-3.8 3.8l-3.8 -3.8zM86.0 769.8l3.8 3.8l-3.8 3.8l-3.8 -3.8zM80.3 779.2l3.8 3.8l-3.8 3.8l-3.8 -3.8zM72.7 788.7l3.8 3.8l-3.8 3.8l-3.8 -3.8zM78.4 792.4l3.8 3.8l-3.8 3.8l-3.8 -3.8zM84.0 798.1l3.8 3.8l-3.8 3.8l-3.8 -3.8zM91.6 790.5l3.8 3.8l-3.8 3.8l-3.8 -3.8zM97.3 801.9l3.8 3.8l-3.8 3.8l-3.8 -3.8zM106.7 807.5l3.8 3.8l-3.8 3.8l-3.8 -3.8zM114.2 805.6l3.8 3.8l-3.8 3.8l-3.8 -3.8zM91.6 807.5l3.8 3.8l-3.8 3.8l-3.8 -3.8zM66.0 730.2l3.8 3.8l-3.8 3.8l-3.8 -3.8zM70.0 744.2l3.8 3.8l-3.8 3.8l-3.8 -3.8zM69.0 732.7l3.8 3.8l-3.8 3.8l-3.8 -3.8zM72.7 739.0l3.8 3.8l-3.8 3.8l-3.8 -3.8zM77.7 741.5l3.8 3.8l-3.8 3.8l-3.8 -3.8zM84.0 737.7l3.8 3.8l-3.8 3.8l-3.8 -3.8zM85.3 749.0l3.8 3.8l-3.8 3.8l-3.8 -3.8zM77.7 756.6l3.8 3.8l-3.8 3.8l-3.8 -3.8zM79.0 764.2l3.8 3.8l-3.8 3.8l-3.8 -3.8zM85.3 769.2l3.8 3.8l-3.8 3.8l-3.8 -3.8zM82.8 757.8l3.8 3.8l-3.8 3.8l-3.8 -3.8zM121.8 774.2l3.8 3.8l-3.8 3.8l-3.8 -3.8zM74.0 791.3l3.8 3.8l-3.8 3.8l-3.8 -3.8zM77.7 792.6l3.8 3.8l-3.8 3.8l-3.8 -3.8zM79.0 788.8l3.8 3.8l-3.8 3.8l-3.8 -3.8zM87.8 798.9l3.8 3.8l-3.8 3.8l-3.8 -3.8zM90.3 801.4l3.8 3.8l-3.8 3.8l-3.8 -3.8zM94.0 803.9l3.8 3.8l-3.8 3.8l-3.8 -3.8zM108.0 800.2l3.8 3.8l-3.8 3.8l-3.8 -3.8zM110.4 807.7l3.8 3.8l-3.8 3.8l-3.8 -3.8zM110.4 811.5l3.8 3.8l-3.8 3.8l-3.8 -3.8zM114.2 808.9l3.8 3.8l-3.8 3.8l-3.8 -3.8zM95.3 819.0l3.8 3.8l-3.8 3.8l-3.8 -3.8zM99.1 824.0l3.8 3.8l-3.8 3.8l-3.8 -3.8zM104.2 826.5l3.8 3.8l-3.8 3.8l-3.8 -3.8zM109.2 830.3l3.8 3.8l-3.8 3.8l-3.8 -3.8zM87.8 836.6l3.8 3.8l-3.8 3.8l-3.8 -3.8zM91.6 844.2l3.8 3.8l-3.8 3.8l-3.8 -3.8zM115.5 824.0l3.8 3.8l-3.8 3.8l-3.8 -3.8zM116.7 839.1l3.8 3.8l-3.8 3.8l-3.8 -3.8zM110.4 841.6l3.8 3.8l-3.8 3.8l-3.8 -3.8zM120.5 829.1l3.8 3.8l-3.8 3.8l-3.8 -3.8zM114.2 780.0l3.8 3.8l-3.8 3.8l-3.8 -3.8zM120.5 780.0l3.8 3.8l-3.8 3.8l-3.8 -3.8zM115.5 785.0l3.8 3.8l-3.8 3.8l-3.8 -3.8zM110.4 783.8l3.8 3.8l-3.8 3.8l-3.8 -3.8zM123.0 786.3l3.8 3.8l-3.8 3.8l-3.8 -3.8zM76.3 790.5l3.8 3.8l-3.8 3.8l-3.8 -3.8zM95.4 823.9l3.8 3.8l-3.8 3.8l-3.8 -3.8zM103.4 827.1l3.8 3.8l-3.8 3.8l-3.8 -3.8zM109.7 831.8l3.8 3.8l-3.8 3.8l-3.8 -3.8zM116.1 823.9l3.8 3.8l-3.8 3.8l-3.8 -3.8zM114.5 839.8l3.8 3.8l-3.8 3.8l-3.8 -3.8zM145.1 787.6l3.8 3.8l-3.8 3.8l-3.8 -3.8zM152.0 791.3l3.8 3.8l-3.8 3.8l-3.8 -3.8zM162.0 797.0l3.8 3.8l-3.8 3.8l-3.8 -3.8zM160.2 808.3l3.8 3.8l-3.8 3.8l-3.8 -3.8zM172.8 816.5l3.8 3.8l-3.8 3.8l-3.8 -3.8zM178.4 821.5l3.8 3.8l-3.8 3.8l-3.8 -3.8zM157.0 820.9l3.8 3.8l-3.8 3.8l-3.8 -3.8zM165.2 827.8l3.8 3.8l-3.8 3.8l-3.8 -3.8zM170.3 835.4l3.8 3.8l-3.8 3.8l-3.8 -3.8zM166.5 841.0l3.8 3.8l-3.8 3.8l-3.8 -3.8zM154.5 839.1l3.8 3.8l-3.8 3.8l-3.8 -3.8zM140.0 842.3l3.8 3.8l-3.8 3.8l-3.8 -3.8zM205.5 810.2l3.8 3.8l-3.8 3.8l-3.8 -3.8zM199.2 825.3l3.8 3.8l-3.8 3.8l-3.8 -3.8zM197.9 834.1l3.8 3.8l-3.8 3.8l-3.8 -3.8zM203.0 835.4l3.8 3.8l-3.8 3.8l-3.8 -3.8zM216.8 827.8l3.8 3.8l-3.8 3.8l-3.8 -3.8zM226.9 829.1l3.8 3.8l-3.8 3.8l-3.8 -3.8zM177.8 846.7l3.8 3.8l-3.8 3.8l-3.8 -3.8zM221.8 847.9l3.8 3.8l-3.8 3.8l-3.8 -3.8zM274.0 793.8l3.8 3.8l-3.8 3.8l-3.8 -3.8zM269.0 803.3l3.8 3.8l-3.8 3.8l-3.8 -3.8zM287.9 799.5l3.8 3.8l-3.8 3.8l-3.8 -3.8zM291.7 798.2l3.8 3.8l-3.8 3.8l-3.8 -3.8zM285.4 805.2l3.8 3.8l-3.8 3.8l-3.8 -3.8zM264.0 821.5l3.8 3.8l-3.8 3.8l-3.8 -3.8zM242.6 825.9l3.8 3.8l-3.8 3.8l-3.8 -3.8zM227.5 829.1l3.8 3.8l-3.8 3.8l-3.8 -3.8zM280.3 819.0l3.8 3.8l-3.8 3.8l-3.8 -3.8zM284.1 817.7l3.8 3.8l-3.8 3.8l-3.8 -3.8zM277.8 827.8l3.8 3.8l-3.8 3.8l-3.8 -3.8zM279.1 834.1l3.8 3.8l-3.8 3.8l-3.8 -3.8zM261.5 837.9l3.8 3.8l-3.8 3.8l-3.8 -3.8zM266.5 839.1l3.8 3.8l-3.8 3.8l-3.8 -3.8zM270.3 842.9l3.8 3.8l-3.8 3.8l-3.8 -3.8zM253.9 845.4l3.8 3.8l-3.8 3.8l-3.8 -3.8zM287.9 840.4l3.8 3.8l-3.8 3.8l-3.8 -3.8zM291.7 844.2l3.8 3.8l-3.8 3.8l-3.8 -3.8zM284.1 846.7l3.8 3.8l-3.8 3.8l-3.8 -3.8zM298.0 796.4l3.8 3.8l-3.8 3.8l-3.8 -3.8zM152.6 856.2l3.8 3.8l-3.8 3.8l-3.8 -3.8zM156.4 852.5l3.8 3.8l-3.8 3.8l-3.8 -3.8zM162.7 853.7l3.8 3.8l-3.8 3.8l-3.8 -3.8zM167.7 856.2l3.8 3.8l-3.8 3.8l-3.8 -3.8zM155.2 862.6l3.8 3.8l-3.8 3.8l-3.8 -3.8zM147.6 863.8l3.8 3.8l-3.8 3.8l-3.8 -3.8zM135.0 868.8l3.8 3.8l-3.8 3.8l-3.8 -3.8zM190.4 867.6l3.8 3.8l-3.8 3.8l-3.8 -3.8zM194.2 870.1l3.8 3.8l-3.8 3.8l-3.8 -3.8zM208.0 861.3l3.8 3.8l-3.8 3.8l-3.8 -3.8zM211.8 862.6l3.8 3.8l-3.8 3.8l-3.8 -3.8zM225.6 850.0l3.8 3.8l-3.8 3.8l-3.8 -3.8zM223.1 852.5l3.8 3.8l-3.8 3.8l-3.8 -3.8zM176.5 847.5l3.8 3.8l-3.8 3.8l-3.8 -3.8zM161.4 877.6l3.8 3.8l-3.8 3.8l-3.8 -3.8zM142.6 878.9l3.8 3.8l-3.8 3.8l-3.8 -3.8zM132.5 873.9l3.8 3.8l-3.8 3.8l-3.8 -3.8zM177.8 877.6l3.8 3.8l-3.8 3.8l-3.8 -3.8zM200.4 863.8l3.8 3.8l-3.8 3.8l-3.8 -3.8zM252.7 860.0l3.8 3.8l-3.8 3.8l-3.8 -3.8zM267.8 856.2l3.8 3.8l-3.8 3.8l-3.8 -3.8zM251.4 852.5l3.8 3.8l-3.8 3.8l-3.8 -3.8zM266.5 848.7l3.8 3.8l-3.8 3.8l-3.8 -3.8zM280.3 853.7l3.8 3.8l-3.8 3.8l-3.8 -3.8zM245.0 866.2l3.8 3.8l-3.8 3.8l-3.8 -3.8zM235.0 878.2l3.8 3.8l-3.8 3.8l-3.8 -3.8zM240.0 884.2l3.8 3.8l-3.8 3.8l-3.8 -3.8zM75.0 741.1l3.8 3.8l-3.8 3.8l-3.8 -3.8zM74.7 748.5l3.8 3.8l-3.8 3.8l-3.8 -3.8zM81.3 755.2l3.8 3.8l-3.8 3.8l-3.8 -3.8zM83.2 743.5l3.8 3.8l-3.8 3.8l-3.8 -3.8zM81.8 768.1l3.8 3.8l-3.8 3.8l-3.8 -3.8zM86.1 769.9l3.8 3.8l-3.8 3.8l-3.8 -3.8zM79.2 778.7l3.8 3.8l-3.8 3.8l-3.8 -3.8zM75.0 789.5l3.8 3.8l-3.8 3.8l-3.8 -3.8zM82.9 792.6l3.8 3.8l-3.8 3.8l-3.8 -3.8zM83.4 799.0l3.8 3.8l-3.8 3.8l-3.8 -3.8zM94.2 790.5l3.8 3.8l-3.8 3.8l-3.8 -3.8zM97.6 804.3l3.8 3.8l-3.8 3.8l-3.8 -3.8zM107.3 807.1l3.8 3.8l-3.8 3.8l-3.8 -3.8zM111.9 806.0l3.8 3.8l-3.8 3.8l-3.8 -3.8zM88.6 805.5l3.8 3.8l-3.8 3.8l-3.8 -3.8zM64.8 727.9l3.8 3.8l-3.8 3.8l-3.8 -3.8zM68.7 743.5l3.8 3.8l-3.8 3.8l-3.8 -3.8zM68.3 732.4l3.8 3.8l-3.8 3.8l-3.8 -3.8zM74.0 737.1l3.8 3.8l-3.8 3.8l-3.8 -3.8zM80.0 739.1l3.8 3.8l-3.8 3.8l-3.8 -3.8zM81.6 735.3l3.8 3.8l-3.8 3.8l-3.8 -3.8zM86.4 748.2l3.8 3.8l-3.8 3.8l-3.8 -3.8zM76.8 756.3l3.8 3.8l-3.8 3.8l-3.8 -3.8zM81.1 766.5l3.8 3.8l-3.8 3.8l-3.8 -3.8zM86.5 768.6l3.8 3.8l-3.8 3.8l-3.8 -3.8zM81.4 757.9l3.8 3.8l-3.8 3.8l-3.8 -3.8zM124.0 772.1l3.8 3.8l-3.8 3.8l-3.8 -3.8zM74.2 792.9l3.8 3.8l-3.8 3.8l-3.8 -3.8zM78.3 794.4l3.8 3.8l-3.8 3.8l-3.8 -3.8zM78.5 793.5l3.8 3.8l-3.8 3.8l-3.8 -3.8zM86.5 798.8l3.8 3.8l-3.8 3.8l-3.8 -3.8zM91.6 801.8l3.8 3.8l-3.8 3.8l-3.8 -3.8zM92.8 804.4l3.8 3.8l-3.8 3.8l-3.8 -3.8zM110.6 800.1l3.8 3.8l-3.8 3.8l-3.8 -3.8zM109.6 809.1l3.8 3.8l-3.8 3.8l-3.8 -3.8zM114.2 810.9l3.8 3.8l-3.8 3.8l-3.8 -3.8zM113.3 810.3l3.8 3.8l-3.8 3.8l-3.8 -3.8zM99.7 817.3l3.8 3.8l-3.8 3.8l-3.8 -3.8zM100.2 822.6l3.8 3.8l-3.8 3.8l-3.8 -3.8zM102.8 829.7l3.8 3.8l-3.8 3.8l-3.8 -3.8zM107.6 827.7l3.8 3.8l-3.8 3.8l-3.8 -3.8zM90.3 837.8l3.8 3.8l-3.8 3.8l-3.8 -3.8zM91.3 844.8l3.8 3.8l-3.8 3.8l-3.8 -3.8zM116.2 828.3l3.8 3.8l-3.8 3.8l-3.8 -3.8zM115.9 837.1l3.8 3.8l-3.8 3.8l-3.8 -3.8zM110.5 839.8l3.8 3.8l-3.8 3.8l-3.8 -3.8zM119.7 827.7l3.8 3.8l-3.8 3.8l-3.8 -3.8zM112.9 780.4l3.8 3.8l-3.8 3.8l-3.8 -3.8zM120.0 781.7l3.8 3.8l-3.8 3.8l-3.8 -3.8zM112.4 785.5l3.8 3.8l-3.8 3.8l-3.8 -3.8zM109.1 784.3l3.8 3.8l-3.8 3.8l-3.8 -3.8zM121.4 784.4l3.8 3.8l-3.8 3.8l-3.8 -3.8zM77.1 790.0l3.8 3.8l-3.8 3.8l-3.8 -3.8zM95.7 825.4l3.8 3.8l-3.8 3.8l-3.8 -3.8zM103.0 826.2l3.8 3.8l-3.8 3.8l-3.8 -3.8zM110.0 833.5l3.8 3.8l-3.8 3.8l-3.8 -3.8zM115.7 824.8l3.8 3.8l-3.8 3.8l-3.8 -3.8zM112.6 840.7l3.8 3.8l-3.8 3.8l-3.8 -3.8zM146.6 791.3l3.8 3.8l-3.8 3.8l-3.8 -3.8zM154.7 789.6l3.8 3.8l-3.8 3.8l-3.8 -3.8zM160.9 799.4l3.8 3.8l-3.8 3.8l-3.8 -3.8zM161.1 810.6l3.8 3.8l-3.8 3.8l-3.8 -3.8zM169.2 816.3l3.8 3.8l-3.8 3.8l-3.8 -3.8zM177.9 821.8l3.8 3.8l-3.8 3.8l-3.8 -3.8zM155.8 819.7l3.8 3.8l-3.8 3.8l-3.8 -3.8zM164.4 826.4l3.8 3.8l-3.8 3.8l-3.8 -3.8zM169.3 834.1l3.8 3.8l-3.8 3.8l-3.8 -3.8zM164.8 840.2l3.8 3.8l-3.8 3.8l-3.8 -3.8zM156.5 838.0l3.8 3.8l-3.8 3.8l-3.8 -3.8zM139.1 842.7l3.8 3.8l-3.8 3.8l-3.8 -3.8zM204.0 807.6l3.8 3.8l-3.8 3.8l-3.8 -3.8zM199.1 826.6l3.8 3.8l-3.8 3.8l-3.8 -3.8zM195.2 834.3l3.8 3.8l-3.8 3.8l-3.8 -3.8zM202.9 834.3l3.8 3.8l-3.8 3.8l-3.8 -3.8zM218.7 827.4l3.8 3.8l-3.8 3.8l-3.8 -3.8zM226.5 832.4l3.8 3.8l-3.8 3.8l-3.8 -3.8zM177.4 844.0l3.8 3.8l-3.8 3.8l-3.8 -3.8zM226.2 850.8l3.8 3.8l-3.8 3.8l-3.8 -3.8zM275.8 794.3l3.8 3.8l-3.8 3.8l-3.8 -3.8zM271.0 802.9l3.8 3.8l-3.8 3.8l-3.8 -3.8zM289.7 801.7l3.8 3.8l-3.8 3.8l-3.8 -3.8zM292.3 797.7l3.8 3.8l-3.8 3.8l-3.8 -3.8zM284.9 804.1l3.8 3.8l-3.8 3.8l-3.8 -3.8zM263.4 820.4l3.8 3.8l-3.8 3.8l-3.8 -3.8zM242.8 826.1l3.8 3.8l-3.8 3.8l-3.8 -3.8zM226.8 829.7l3.8 3.8l-3.8 3.8l-3.8 -3.8zM284.2 819.5l3.8 3.8l-3.8 3.8l-3.8 -3.8zM284.0 818.9l3.8 3.8l-3.8 3.8l-3.8 -3.8zM274.8 829.9l3.8 3.8l-3.8 3.8l-3.8 -3.8zM279.5 833.5l3.8 3.8l-3.8 3.8l-3.8 -3.8zM263.0 837.7l3.8 3.8l-3.8 3.8l-3.8 -3.8zM264.9 838.8l3.8 3.8l-3.8 3.8l-3.8 -3.8zM268.8 843.1l3.8 3.8l-3.8 3.8l-3.8 -3.8zM253.5 845.4l3.8 3.8l-3.8 3.8l-3.8 -3.8zM285.7 838.7l3.8 3.8l-3.8 3.8l-3.8 -3.8zM294.6 848.4l3.8 3.8l-3.8 3.8l-3.8 -3.8zM286.0 848.7l3.8 3.8l-3.8 3.8l-3.8 -3.8zM300.9 798.5l3.8 3.8l-3.8 3.8l-3.8 -3.8zM154.5 853.8l3.8 3.8l-3.8 3.8l-3.8 -3.8zM156.5 852.1l3.8 3.8l-3.8 3.8l-3.8 -3.8zM163.9 854.6l3.8 3.8l-3.8 3.8l-3.8 -3.8zM167.8 861.1l3.8 3.8l-3.8 3.8l-3.8 -3.8zM157.3 861.7l3.8 3.8l-3.8 3.8l-3.8 -3.8zM147.8 865.9l3.8 3.8l-3.8 3.8l-3.8 -3.8zM134.7 871.4l3.8 3.8l-3.8 3.8l-3.8 -3.8zM191.4 868.6l3.8 3.8l-3.8 3.8l-3.8 -3.8zM194.5 871.7l3.8 3.8l-3.8 3.8l-3.8 -3.8zM206.3 860.3l3.8 3.8l-3.8 3.8l-3.8 -3.8zM210.5 865.5l3.8 3.8l-3.8 3.8l-3.8 -3.8zM225.0 849.5l3.8 3.8l-3.8 3.8l-3.8 -3.8zM223.0 851.7l3.8 3.8l-3.8 3.8l-3.8 -3.8zM173.1 847.6l3.8 3.8l-3.8 3.8l-3.8 -3.8zM159.8 877.6l3.8 3.8l-3.8 3.8l-3.8 -3.8zM141.2 880.7l3.8 3.8l-3.8 3.8l-3.8 -3.8zM132.6 875.9l3.8 3.8l-3.8 3.8l-3.8 -3.8zM177.4 875.3l3.8 3.8l-3.8 3.8l-3.8 -3.8zM201.3 862.4l3.8 3.8l-3.8 3.8l-3.8 -3.8zM251.6 863.7l3.8 3.8l-3.8 3.8l-3.8 -3.8zM269.0 858.1l3.8 3.8l-3.8 3.8l-3.8 -3.8zM250.7 850.4l3.8 3.8l-3.8 3.8l-3.8 -3.8zM266.0 852.1l3.8 3.8l-3.8 3.8l-3.8 -3.8zM280.3 854.4l3.8 3.8l-3.8 3.8l-3.8 -3.8zM247.6 862.6l3.8 3.8l-3.8 3.8l-3.8 -3.8zM237.1 879.2l3.8 3.8l-3.8 3.8l-3.8 -3.8zM240.1 884.7l3.8 3.8l-3.8 3.8l-3.8 -3.8zM259.5 842.3l3.8 3.8l-3.8 3.8l-3.8 -3.8zM177.5 838.1l3.8 3.8l-3.8 3.8l-3.8 -3.8zM158.4 837.5l3.8 3.8l-3.8 3.8l-3.8 -3.8zM128.2 816.5l3.8 3.8l-3.8 3.8l-3.8 -3.8zM139.7 812.3l3.8 3.8l-3.8 3.8l-3.8 -3.8zM234.0 844.5l3.8 3.8l-3.8 3.8l-3.8 -3.8zM211.5 842.5l3.8 3.8l-3.8 3.8l-3.8 -3.8zM163.7 823.2l3.8 3.8l-3.8 3.8l-3.8 -3.8zM112.3 826.8l3.8 3.8l-3.8 3.8l-3.8 -3.8zM92.4 827.5l3.8 3.8l-3.8 3.8l-3.8 -3.8zM187.9 829.5l3.8 3.8l-3.8 3.8l-3.8 -3.8zM183.5 863.6l3.8 3.8l-3.8 3.8l-3.8 -3.8zM228.5 861.4l3.8 3.8l-3.8 3.8l-3.8 -3.8zM269.2 826.1l3.8 3.8l-3.8 3.8l-3.8 -3.8zM192.2 832.8l3.8 3.8l-3.8 3.8l-3.8 -3.8zM114.1 809.1l3.8 3.8l-3.8 3.8l-3.8 -3.8zM215.1 835.5l3.8 3.8l-3.8 3.8l-3.8 -3.8zM118.5 836.7l3.8 3.8l-3.8 3.8l-3.8 -3.8zM202.5 835.2l3.8 3.8l-3.8 3.8l-3.8 -3.8zM292.1 810.8l3.8 3.8l-3.8 3.8l-3.8 -3.8zM269.4 838.5l3.8 3.8l-3.8 3.8l-3.8 -3.8zM108.3 834.9l3.8 3.8l-3.8 3.8l-3.8 -3.8zM159.9 855.0l3.8 3.8l-3.8 3.8l-3.8 -3.8zM187.4 820.2l3.8 3.8l-3.8 3.8l-3.8 -3.8zM162.8 842.6l3.8 3.8l-3.8 3.8l-3.8 -3.8zM278.4 824.9l3.8 3.8l-3.8 3.8l-3.8 -3.8zM207.2 861.4l3.8 3.8l-3.8 3.8l-3.8 -3.8zM193.9 834.5l3.8 3.8l-3.8 3.8l-3.8 -3.8zM126.5 826.9l3.8 3.8l-3.8 3.8l-3.8 -3.8zM147.3 805.1l3.8 3.8l-3.8 3.8l-3.8 -3.8zM258.1 865.1l3.8 3.8l-3.8 3.8l-3.8 -3.8zM183.2 828.2l3.8 3.8l-3.8 3.8l-3.8 -3.8zM225.5 859.1l3.8 3.8l-3.8 3.8l-3.8 -3.8zM281.6 844.6l3.8 3.8l-3.8 3.8l-3.8 -3.8zM127.2 808.8l3.8 3.8l-3.8 3.8l-3.8 -3.8zM263.2 840.8l3.8 3.8l-3.8 3.8l-3.8 -3.8zM128.4 854.1l3.8 3.8l-3.8 3.8l-3.8 -3.8zM111.8 824.8l3.8 3.8l-3.8 3.8l-3.8 -3.8zM88.8 813.5l3.8 3.8l-3.8 3.8l-3.8 -3.8zM106.4 827.5l3.8 3.8l-3.8 3.8l-3.8 -3.8zM83.9 796.8l3.8 3.8l-3.8 3.8l-3.8 -3.8zM264.6 832.4l3.8 3.8l-3.8 3.8l-3.8 -3.8zM266.7 834.8l3.8 3.8l-3.8 3.8l-3.8 -3.8zM281.1 830.2l3.8 3.8l-3.8 3.8l-3.8 -3.8zM249.1 847.2l3.8 3.8l-3.8 3.8l-3.8 -3.8zM257.3 828.4l3.8 3.8l-3.8 3.8l-3.8 -3.8zM258.4 856.7l3.8 3.8l-3.8 3.8l-3.8 -3.8zM283.5 838.1l3.8 3.8l-3.8 3.8l-3.8 -3.8zM261.6 840.0l3.8 3.8l-3.8 3.8l-3.8 -3.8zM285.9 838.4l3.8 3.8l-3.8 3.8l-3.8 -3.8zM286.9 836.0l3.8 3.8l-3.8 3.8l-3.8 -3.8zM254.3 836.1l3.8 3.8l-3.8 3.8l-3.8 -3.8zM270.7 860.7l3.8 3.8l-3.8 3.8l-3.8 -3.8zM270.6 840.6l3.8 3.8l-3.8 3.8l-3.8 -3.8zM263.0 846.6l3.8 3.8l-3.8 3.8l-3.8 -3.8zM264.0 839.5l3.8 3.8l-3.8 3.8l-3.8 -3.8zM273.6 822.0l3.8 3.8l-3.8 3.8l-3.8 -3.8zM262.4 856.3l3.8 3.8l-3.8 3.8l-3.8 -3.8zM293.0 824.5l3.8 3.8l-3.8 3.8l-3.8 -3.8zM247.4 858.1l3.8 3.8l-3.8 3.8l-3.8 -3.8zM282.4 845.2l3.8 3.8l-3.8 3.8l-3.8 -3.8zM271.3 827.9l3.8 3.8l-3.8 3.8l-3.8 -3.8zM277.9 826.9l3.8 3.8l-3.8 3.8l-3.8 -3.8zM256.2 824.3l3.8 3.8l-3.8 3.8l-3.8 -3.8zM293.7 817.3l3.8 3.8l-3.8 3.8l-3.8 -3.8zM269.5 822.7l3.8 3.8l-3.8 3.8l-3.8 -3.8zM281.3 829.4l3.8 3.8l-3.8 3.8l-3.8 -3.8zM259.9 833.4l3.8 3.8l-3.8 3.8l-3.8 -3.8zM291.2 828.1l3.8 3.8l-3.8 3.8l-3.8 -3.8zM263.2 840.6l3.8 3.8l-3.8 3.8l-3.8 -3.8zM262.0 841.3l3.8 3.8l-3.8 3.8l-3.8 -3.8zM276.8 823.5l3.8 3.8l-3.8 3.8l-3.8 -3.8zM272.3 835.2l3.8 3.8l-3.8 3.8l-3.8 -3.8zM281.1 813.4l3.8 3.8l-3.8 3.8l-3.8 -3.8zM292.8 818.1l3.8 3.8l-3.8 3.8l-3.8 -3.8zM253.4 851.2l3.8 3.8l-3.8 3.8l-3.8 -3.8zM289.6 822.0l3.8 3.8l-3.8 3.8l-3.8 -3.8zM250.0 835.8l3.8 3.8l-3.8 3.8l-3.8 -3.8zM257.5 855.8l3.8 3.8l-3.8 3.8l-3.8 -3.8zM283.8 819.1l3.8 3.8l-3.8 3.8l-3.8 -3.8zM252.3 858.1l3.8 3.8l-3.8 3.8l-3.8 -3.8zM260.8 864.7l3.8 3.8l-3.8 3.8l-3.8 -3.8zM254.0 828.4l3.8 3.8l-3.8 3.8l-3.8 -3.8zM246.6 849.4l3.8 3.8l-3.8 3.8l-3.8 -3.8zM263.5 831.7l3.8 3.8l-3.8 3.8l-3.8 -3.8zM57.1 732.4l3.8 3.8l-3.8 3.8l-3.8 -3.8zM58.1 739.4l3.8 3.8l-3.8 3.8l-3.8 -3.8zM69.6 738.3l3.8 3.8l-3.8 3.8l-3.8 -3.8zM80.3 754.1l3.8 3.8l-3.8 3.8l-3.8 -3.8zM86.5 742.7l3.8 3.8l-3.8 3.8l-3.8 -3.8zM87.8 755.3l3.8 3.8l-3.8 3.8l-3.8 -3.8zM74.6 768.5l3.8 3.8l-3.8 3.8l-3.8 -3.8zM64.5 754.7l3.8 3.8l-3.8 3.8l-3.8 -3.8zM60.8 762.2l3.8 3.8l-3.8 3.8l-3.8 -3.8zM61.1 771.6l3.8 3.8l-3.8 3.8l-3.8 -3.8zM62.8 783.4l3.8 3.8l-3.8 3.8l-3.8 -3.8zM65.2 794.5l3.8 3.8l-3.8 3.8l-3.8 -3.8zM66.0 803.2l3.8 3.8l-3.8 3.8l-3.8 -3.8zM68.4 808.0l3.8 3.8l-3.8 3.8l-3.8 -3.8zM85.3 781.2l3.8 3.8l-3.8 3.8l-3.8 -3.8zM87.2 791.3l3.8 3.8l-3.8 3.8l-3.8 -3.8zM98.5 804.5l3.8 3.8l-3.8 3.8l-3.8 -3.8zM104.8 802.0l3.8 3.8l-3.8 3.8l-3.8 -3.8zM109.2 786.3l3.8 3.8l-3.8 3.8l-3.8 -3.8zM118.0 783.8l3.8 3.8l-3.8 3.8l-3.8 -3.8zM113.0 792.0l3.8 3.8l-3.8 3.8l-3.8 -3.8zM94.6 840.6l3.8 3.8l-3.8 3.8l-3.8 -3.8zM97.8 845.4l3.8 3.8l-3.8 3.8l-3.8 -3.8zM101.8 847.7l3.8 3.8l-3.8 3.8l-3.8 -3.8zM105.0 857.3l3.8 3.8l-3.8 3.8l-3.8 -3.8zM120.9 849.3l3.8 3.8l-3.8 3.8l-3.8 -3.8zM121.6 885.1l3.8 3.8l-3.8 3.8l-3.8 -3.8zM124.0 858.9l3.8 3.8l-3.8 3.8l-3.8 -3.8zM128.8 862.1l3.8 3.8l-3.8 3.8l-3.8 -3.8zM130.4 841.4l3.8 3.8l-3.8 3.8l-3.8 -3.8zM129.2 845.2l3.8 3.8l-3.8 3.8l-3.8 -3.8zM117.7 828.7l3.8 3.8l-3.8 3.8l-3.8 -3.8zM118.0 831.2l3.8 3.8l-3.8 3.8l-3.8 -3.8zM130.6 841.6l3.8 3.8l-3.8 3.8l-3.8 -3.8zM128.0 846.7l3.8 3.8l-3.8 3.8l-3.8 -3.8zM109.7 785.7l3.8 3.8l-3.8 3.8l-3.8 -3.8zM112.0 786.7l3.8 3.8l-3.8 3.8l-3.8 -3.8zM105.0 802.4l3.8 3.8l-3.8 3.8l-3.8 -3.8zM175.3 798.2l3.8 3.8l-3.8 3.8l-3.8 -3.8zM175.9 800.8l3.8 3.8l-3.8 3.8l-3.8 -3.8zM158.3 834.7l3.8 3.8l-3.8 3.8l-3.8 -3.8zM150.1 838.5l3.8 3.8l-3.8 3.8l-3.8 -3.8zM208.6 832.8l3.8 3.8l-3.8 3.8l-3.8 -3.8zM215.5 832.8l3.8 3.8l-3.8 3.8l-3.8 -3.8zM131.3 841.0l3.8 3.8l-3.8 3.8l-3.8 -3.8zM270.3 793.8l3.8 3.8l-3.8 3.8l-3.8 -3.8zM281.6 812.7l3.8 3.8l-3.8 3.8l-3.8 -3.8zM272.2 824.0l3.8 3.8l-3.8 3.8l-3.8 -3.8zM306.8 797.6l3.8 3.8l-3.8 3.8l-3.8 -3.8zM310.5 806.4l3.8 3.8l-3.8 3.8l-3.8 -3.8zM306.8 829.1l3.8 3.8l-3.8 3.8l-3.8 -3.8zM301.7 837.9l3.8 3.8l-3.8 3.8l-3.8 -3.8zM275.3 846.7l3.8 3.8l-3.8 3.8l-3.8 -3.8zM139.4 865.1l3.8 3.8l-3.8 3.8l-3.8 -3.8zM134.0 861.2l3.8 3.8l-3.8 3.8l-3.8 -3.8zM177.2 865.1l3.8 3.8l-3.8 3.8l-3.8 -3.8zM204.2 868.8l3.8 3.8l-3.8 3.8l-3.8 -3.8zM201.7 875.8l3.8 3.8l-3.8 3.8l-3.8 -3.8zM203.0 882.7l3.8 3.8l-3.8 3.8l-3.8 -3.8zM208.0 887.7l3.8 3.8l-3.8 3.8l-3.8 -3.8zM215.5 881.4l3.8 3.8l-3.8 3.8l-3.8 -3.8zM221.8 886.5l3.8 3.8l-3.8 3.8l-3.8 -3.8zM215.5 897.8l3.8 3.8l-3.8 3.8l-3.8 -3.8zM225.0 873.9l3.8 3.8l-3.8 3.8l-3.8 -3.8zM137.5 895.9l3.8 3.8l-3.8 3.8l-3.8 -3.8zM146.4 895.3l3.8 3.8l-3.8 3.8l-3.8 -3.8zM158.9 904.1l3.8 3.8l-3.8 3.8l-3.8 -3.8zM166.5 905.3l3.8 3.8l-3.8 3.8l-3.8 -3.8zM167.7 912.9l3.8 3.8l-3.8 3.8l-3.8 -3.8zM177.8 906.6l3.8 3.8l-3.8 3.8l-3.8 -3.8zM187.9 905.3l3.8 3.8l-3.8 3.8l-3.8 -3.8zM197.9 911.6l3.8 3.8l-3.8 3.8l-3.8 -3.8zM210.5 911.0l3.8 3.8l-3.8 3.8l-3.8 -3.8zM225.6 895.3l3.8 3.8l-3.8 3.8l-3.8 -3.8zM131.9 887.7l3.8 3.8l-3.8 3.8l-3.8 -3.8zM275.3 848.1l3.8 3.8l-3.8 3.8l-3.8 -3.8zM284.1 857.5l3.8 3.8l-3.8 3.8l-3.8 -3.8zM290.4 856.9l3.8 3.8l-3.8 3.8l-3.8 -3.8zM293.6 859.4l3.8 3.8l-3.8 3.8l-3.8 -3.8zM272.8 864.4l3.8 3.8l-3.8 3.8l-3.8 -3.8zM282.9 868.8l3.8 3.8l-3.8 3.8l-3.8 -3.8zM253.3 880.8l3.8 3.8l-3.8 3.8l-3.8 -3.8zM243.2 882.0l3.8 3.8l-3.8 3.8l-3.8 -3.8zM231.9 883.3l3.8 3.8l-3.8 3.8l-3.8 -3.8zM247.0 893.4l3.8 3.8l-3.8 3.8l-3.8 -3.8zM230.0 894.0l3.8 3.8l-3.8 3.8l-3.8 -3.8zM228.1 899.7l3.8 3.8l-3.8 3.8l-3.8 -3.8zM232.5 907.8l3.8 3.8l-3.8 3.8l-3.8 -3.8zM236.3 906.6l3.8 3.8l-3.8 3.8l-3.8 -3.8zM259.0 894.0l3.8 3.8l-3.8 3.8l-3.8 -3.8zM58.0 786.2l3.8 3.8l-3.8 3.8l-3.8 -3.8zM63.0 796.2l3.8 3.8l-3.8 3.8l-3.8 -3.8zM67.0 811.2l3.8 3.8l-3.8 3.8l-3.8 -3.8zM72.0 824.2l3.8 3.8l-3.8 3.8l-3.8 -3.8zM76.0 834.2l3.8 3.8l-3.8 3.8l-3.8 -3.8zM84.0 842.2l3.8 3.8l-3.8 3.8l-3.8 -3.8zM92.0 851.2l3.8 3.8l-3.8 3.8l-3.8 -3.8zM100.0 862.2l3.8 3.8l-3.8 3.8l-3.8 -3.8zM108.0 872.2l3.8 3.8l-3.8 3.8l-3.8 -3.8zM115.0 879.2l3.8 3.8l-3.8 3.8l-3.8 -3.8zM140.0 891.2l3.8 3.8l-3.8 3.8l-3.8 -3.8zM150.0 899.2l3.8 3.8l-3.8 3.8l-3.8 -3.8zM160.0 896.2l3.8 3.8l-3.8 3.8l-3.8 -3.8zM170.0 901.2l3.8 3.8l-3.8 3.8l-3.8 -3.8zM185.0 896.2l3.8 3.8l-3.8 3.8l-3.8 -3.8zM195.0 901.2l3.8 3.8l-3.8 3.8l-3.8 -3.8zM205.0 896.2l3.8 3.8l-3.8 3.8l-3.8 -3.8zM215.0 891.2l3.8 3.8l-3.8 3.8l-3.8 -3.8zM235.0 891.2l3.8 3.8l-3.8 3.8l-3.8 -3.8zM250.0 891.2l3.8 3.8l-3.8 3.8l-3.8 -3.8zM265.0 881.2l3.8 3.8l-3.8 3.8l-3.8 -3.8zM275.0 871.2l3.8 3.8l-3.8 3.8l-3.8 -3.8zM290.0 854.2l3.8 3.8l-3.8 3.8l-3.8 -3.8zM300.0 841.2l3.8 3.8l-3.8 3.8l-3.8 -3.8zM305.0 824.2l3.8 3.8l-3.8 3.8l-3.8 -3.8zM303.0 811.2l3.8 3.8l-3.8 3.8l-3.8 -3.8zM307.0 791.2l3.8 3.8l-3.8 3.8l-3.8 -3.8zM300.0 786.2l3.8 3.8l-3.8 3.8l-3.8 -3.8z" fill="#FFA500"/>
<path d="M145.8 881.0h0M198.7 887.9h0M242.1 884.3h0M302.5 796.2h0M208.0 885.3h0M57.6 728.8h0M173.8 882.5h0M108.5 858.4h0M193.3 886.4h0M68.4 789.7h0M59.9 730.7h0M130.4 877.9h0M75.7 811.9h0M204.4 887.8h0M188.0 882.4h0M65.6 767.2h0M90.7 843.3h0M300.6 834.5h0M212.8 882.0h0M282.1 864.1h0M73.9 811.9h0M131.5 877.2h0M245.7 880.8h0M66.3 761.3h0M276.9 868.5h0M116.7 867.4h0M103.1 857.1h0M206.1 884.9h0M243.9 884.8h0M211.0 884.7h0M238.8 885.7h0M59.1 741.9h0M302.4 815.0h0M300.8 784.4h0M101.4 853.5h0M303.4 777.2h0M234.8 881.0h0M300.1 818.9h0M222.5 876.8h0M75.0 811.8h0M210.7 879.2h0M278.7 866.5h0M80.6 830.9h0M139.7 881.3h0M126.4 872.3h0M62.4 753.2h0M74.8 808.6h0M233.5 883.2h0M226.8 876.4h0M296.1 844.3h0M146.8 881.5h0M303.9 784.3h0M212.4 882.9h0M227.1 878.6h0M283.4 862.3h0M304.0 785.5h0M58.9 740.8h0M279.1 870.0h0M159.5 884.6h0M224.1 875.9h0M64.8 773.4h0M64.7 788.8h0M66.2 762.5h0M268.9 872.5h0M271.1 871.0h0M284.9 856.0h0M98.9 850.7h0M153.9 882.4h0M78.2 832.2h0M295.9 845.2h0M299.6 824.6h0M64.5 781.0h0M173.9 880.5h0M271.6 871.1h0M105.7 858.6h0M256.0 877.4h0M143.1 880.3h0M112.5 862.6h0M184.8 884.1h0M260.0 876.6h0M237.4 884.0h0M228.6 881.0h0M263.7 873.2h0M301.2 790.9h0M300.9 817.7h0M106.4 856.7h0M260.0 878.8h0M302.9 802.2h0M125.0 874.0h0M131.1 878.8h0M303.2 778.2h0M300.5 794.6h0M65.6 782.3h0M302.2 792.2h0M76.5 819.9h0M102.3 850.2h0M217.1 877.7h0M303.0 802.0h0M55.3 714.7h0M213.3 876.2h0M73.2 804.1h0M75.9 829.6h0M58.5 746.5h0M169.7 883.1h0M296.1 840.1h0M214.6 878.0h0M94.5 844.6h0M221.4 875.8h0M179.1 879.8h0M300.4 805.0h0" stroke="#808080" stroke-width="5.4" stroke-linecap="round" fill="none"/>
<path d="M225.1 889.9l3.8 3.8l-3.8 3.8l-3.8 -3.8zM285.5 863.1l3.8 3.8l-3.8 3.8l-3.8 -3.8zM58.9 763.6l3.8 3.8l-3.8 3.8l-3.8 -3.8zM170.2 907.0l3.8 3.8l-3.8 3.8l-3.8 -3.8zM263.1 870.5l3.8 3.8l-3.8 3.8l-3.8 -3.8zM279.6 867.9l3.8 3.8l-3.8 3.8l-3.8 -3.8zM58.3 760.3l3.8 3.8l-3.8 3.8l-3.8 -3.8zM77.0 810.0l3.8 3.8l-3.8 3.8l-3.8 -3.8zM176.1 900.3l3.8 3.8l-3.8 3.8l-3.8 -3.8zM174.5 887.2l3.8 3.8l-3.8 3.8l-3.8 -3.8zM76.9 805.4l3.8 3.8l-3.8 3.8l-3.8 -3.8zM155.3 881.7l3.8 3.8l-3.8 3.8l-3.8 -3.8zM155.0 895.5l3.8 3.8l-3.8 3.8l-3.8 -3.8zM211.3 879.0l3.8 3.8l-3.8 3.8l-3.8 -3.8zM164.8 906.2l3.8 3.8l-3.8 3.8l-3.8 -3.8zM207.0 899.2l3.8 3.8l-3.8 3.8l-3.8 -3.8zM69.0 790.4l3.8 3.8l-3.8 3.8l-3.8 -3.8zM303.6 787.8l3.8 3.8l-3.8 3.8l-3.8 -3.8zM111.7 869.0l3.8 3.8l-3.8 3.8l-3.8 -3.8zM238.5 895.1l3.8 3.8l-3.8 3.8l-3.8 -3.8zM304.3 765.7l3.8 3.8l-3.8 3.8l-3.8 -3.8zM298.0 831.7l3.8 3.8l-3.8 3.8l-3.8 -3.8zM125.8 879.5l3.8 3.8l-3.8 3.8l-3.8 -3.8zM59.6 741.1l3.8 3.8l-3.8 3.8l-3.8 -3.8zM165.5 903.0l3.8 3.8l-3.8 3.8l-3.8 -3.8z" fill="#FFA500"/>
<g fill="#000080" fill-opacity="0.5" stroke="#000080" stroke-opacity="0.45" stroke-width="0.7"><circle cx="57.1" cy="736.2" r="2.9"/><circle cx="58.1" cy="743.2" r="2.9"/><circle cx="69.6" cy="742.1" r="2.9"/><circle cx="80.3" cy="757.9" r="2.9"/><circle cx="86.5" cy="746.5" r="2.9"/><circle cx="87.8" cy="759.1" r="2.9"/><circle cx="74.6" cy="772.3" r="2.9"/><circle cx="64.5" cy="758.5" r="2.9"/><circle cx="60.8" cy="766.0" r="2.9"/><circle cx="61.1" cy="775.4" r="2.9"/><circle cx="62.8" cy="787.2" r="2.9"/><circle cx="65.2" cy="798.3" r="2.9"/><circle cx="66.0" cy="807.0" r="2.9"/><circle cx="68.4" cy="811.8" r="2.9"/><circle cx="85.3" cy="785.0" r="2.9"/><circle cx="87.2" cy="795.1" r="2.9"/><circle cx="98.5" cy="808.3" r="2.9"/><circle cx="104.8" cy="805.8" r="2.9"/><circle cx="109.2" cy="790.1" r="2.9"/><circle cx="118.0" cy="787.6" r="2.9"/><circle cx="113.0" cy="795.8" r="2.9"/><circle cx="94.6" cy="844.4" r="2.9"/><circle cx="97.8" cy="849.2" r="2.9"/><circle cx="101.8" cy="851.5" r="2.9"/><circle cx="105.0" cy="861.1" r="2.9"/><circle cx="120.9" cy="853.1" r="2.9"/><circle cx="121.6" cy="888.9" r="2.9"/><circle cx="124.0" cy="862.7" r="2.9"/><circle cx="128.8" cy="865.9" r="2.9"/><circle cx="130.4" cy="845.2" r="2.9"/><circle cx="129.2" cy="849.0" r="2.9"/><circle cx="117.7" cy="832.5" r="2.9"/><circle cx="118.0" cy="835.0" r="2.9"/><circle cx="130.6" cy="845.4" r="2.9"/><circle cx="128.0" cy="850.5" r="2.9"/><circle cx="109.7" cy="789.5" r="2.9"/><circle cx="112.0" cy="790.5" r="2.9"/><circle cx="105.0" cy="806.2" r="2.9"/><circle cx="175.3" cy="802.0" r="2.9"/><circle cx="175.9" cy="804.6" r="2.9"/><circle cx="158.3" cy="838.5" r="2.9"/><circle cx="150.1" cy="842.3" r="2.9"/><circle cx="208.6" cy="836.6" r="2.9"/><circle cx="215.5" cy="836.6" r="2.9"/><circle cx="131.3" cy="844.8" r="2.9"/><circle cx="270.3" cy="797.6" r="2.9"/><circle cx="281.6" cy="816.5" r="2.9"/><circle cx="272.2" cy="827.8" r="2.9"/><circle cx="306.8" cy="801.4" r="2.9"/><circle cx="310.5" cy="810.2" r="2.9"/><circle cx="306.8" cy="832.9" r="2.9"/><circle cx="301.7" cy="841.7" r="2.9"/><circle cx="275.3" cy="850.5" r="2.9"/><circle cx="139.4" cy="868.9" r="2.9"/><circle cx="134.0" cy="865.0" r="2.9"/><circle cx="177.2" cy="868.9" r="2.9"/><circle cx="204.2" cy="872.6" r="2.9"/><circle cx="201.7" cy="879.6" r="2.9"/><circle cx="203.0" cy="886.5" r="2.9"/><circle cx="208.0" cy="891.5" r="2.9"/><circle cx="215.5" cy="885.2" r="2.9"/><circle cx="221.8" cy="890.3" r="2.9"/><circle cx="215.5" cy="901.6" r="2.9"/><circle cx="225.0" cy="877.7" r="2.9"/><circle cx="137.5" cy="899.7" r="2.9"/><circle cx="146.4" cy="899.1" r="2.9"/><circle cx="158.9" cy="907.9" r="2.9"/><circle cx="166.5" cy="909.1" r="2.9"/><circle cx="167.7" cy="916.7" r="2.9"/><circle cx="177.8" cy="910.4" r="2.9"/><circle cx="187.9" cy="909.1" r="2.9"/><circle cx="197.9" cy="915.4" r="2.9"/><circle cx="210.5" cy="914.8" r="2.9"/><circle cx="225.6" cy="899.1" r="2.9"/><circle cx="131.9" cy="891.5" r="2.9"/><circle cx="275.3" cy="851.9" r="2.9"/><circle cx="284.1" cy="861.3" r="2.9"/><circle cx="290.4" cy="860.7" r="2.9"/><circle cx="293.6" cy="863.2" r="2.9"/><circle cx="272.8" cy="868.2" r="2.9"/><circle cx="282.9" cy="872.6" r="2.9"/><circle cx="253.3" cy="884.6" r="2.9"/><circle cx="243.2" cy="885.8" r="2.9"/><circle cx="231.9" cy="887.1" r="2.9"/><circle cx="247.0" cy="897.2" r="2.9"/><circle cx="230.0" cy="897.8" r="2.9"/><circle cx="228.1" cy="903.5" r="2.9"/><circle cx="232.5" cy="911.6" r="2.9"/><circle cx="236.3" cy="910.4" r="2.9"/><circle cx="259.0" cy="897.8" r="2.9"/><circle cx="58.0" cy="790.0" r="2.9"/><circle cx="63.0" cy="800.0" r="2.9"/><circle cx="67.0" cy="815.0" r="2.9"/><circle cx="72.0" cy="828.0" r="2.9"/><circle cx="76.0" cy="838.0" r="2.9"/><circle cx="84.0" cy="846.0" r="2.9"/><circle cx="92.0" cy="855.0" r="2.9"/><circle cx="100.0" cy="866.0" r="2.9"/><circle cx="108.0" cy="876.0" r="2.9"/><circle cx="115.0" cy="883.0" r="2.9"/><circle cx="140.0" cy="895.0" r="2.9"/><circle cx="150.0" cy="903.0" r="2.9"/><circle cx="160.0" cy="900.0" r="2.9"/><circle cx="170.0" cy="905.0" r="2.9"/><circle cx="185.0" cy="900.0" r="2.9"/><circle cx="195.0" cy="905.0" r="2.9"/><circle cx="205.0" cy="900.0" r="2.9"/><circle cx="215.0" cy="895.0" r="2.9"/><circle cx="235.0" cy="895.0" r="2.9"/><circle cx="250.0" cy="895.0" r="2.9"/><circle cx="265.0" cy="885.0" r="2.9"/><circle cx="275.0" cy="875.0" r="2.9"/><circle cx="290.0" cy="858.0" r="2.9"/><circle cx="300.0" cy="845.0" r="2.9"/><circle cx="305.0" cy="828.0" r="2.9"/><circle cx="303.0" cy="815.0" r="2.9"/><circle cx="307.0" cy="795.0" r="2.9"/><circle cx="300.0" cy="790.0" r="2.9"/><circle cx="65.9" cy="791.2" r="2.9"/><circle cx="178.2" cy="906.3" r="2.9"/><circle cx="230.6" cy="884.6" r="2.9"/><circle cx="127.4" cy="877.2" r="2.9"/><circle cx="304.4" cy="814.5" r="2.9"/><circle cx="59.4" cy="743.4" r="2.9"/><circle cx="242.4" cy="901.9" r="2.9"/><circle cx="176.2" cy="899.3" r="2.9"/><circle cx="126.8" cy="875.6" r="2.9"/><circle cx="288.8" cy="855.3" r="2.9"/><circle cx="67.0" cy="800.5" r="2.9"/><circle cx="203.4" cy="892.1" r="2.9"/><circle cx="258.2" cy="891.4" r="2.9"/><circle cx="240.8" cy="907.7" r="2.9"/><circle cx="146.4" cy="886.0" r="2.9"/><circle cx="194.4" cy="909.6" r="2.9"/><circle cx="71.1" cy="806.7" r="2.9"/><circle cx="87.4" cy="847.5" r="2.9"/><circle cx="108.7" cy="869.2" r="2.9"/><circle cx="296.4" cy="858.4" r="2.9"/><circle cx="78.4" cy="751.0" r="2.9"/><circle cx="79.0" cy="780.7" r="2.9"/><circle cx="83.3" cy="780.7" r="2.9"/><circle cx="76.5" cy="788.2" r="2.9"/><circle cx="102.9" cy="798.9" r="2.9"/><circle cx="90.6" cy="835.6" r="2.9"/><circle cx="132.5" cy="789.5" r="2.9"/><circle cx="160.8" cy="805.8" r="2.9"/><circle cx="166.5" cy="805.8" r="2.9"/><circle cx="169.0" cy="807.0" r="2.9"/><circle cx="182.8" cy="809.0" r="2.9"/><circle cx="186.6" cy="806.4" r="2.9"/><circle cx="149.5" cy="831.0" r="2.9"/><circle cx="198.0" cy="818.4" r="2.9"/><circle cx="296.1" cy="781.9" r="2.9"/><circle cx="257.7" cy="803.3" r="2.9"/><circle cx="251.4" cy="822.8" r="2.9"/><circle cx="184.1" cy="863.8" r="2.9"/><circle cx="197.9" cy="876.4" r="2.9"/><circle cx="196.7" cy="904.1" r="2.9"/><circle cx="55.7" cy="714.5" r="2.9"/><circle cx="56.5" cy="717.0" r="2.9"/><circle cx="70.8" cy="729.6" r="2.9"/><circle cx="87.8" cy="739.0" r="2.9"/><circle cx="91.6" cy="740.3" r="2.9"/><circle cx="95.3" cy="740.3" r="2.9"/><circle cx="98.5" cy="740.9" r="2.9"/><circle cx="89.0" cy="754.1" r="2.9"/><circle cx="62.6" cy="760.4" r="2.9"/><circle cx="60.8" cy="762.9" r="2.9"/><circle cx="60.8" cy="775.5" r="2.9"/><circle cx="76.5" cy="756.6" r="2.9"/><circle cx="84.7" cy="764.8" r="2.9"/><circle cx="87.8" cy="798.9" r="2.9"/><circle cx="90.3" cy="801.4" r="2.9"/><circle cx="94.0" cy="811.5" r="2.9"/><circle cx="97.9" cy="812.1" r="2.9"/><circle cx="99.1" cy="810.8" r="2.9"/><circle cx="119.2" cy="780.0" r="2.9"/><circle cx="121.8" cy="780.7" r="2.9"/><circle cx="124.3" cy="780.7" r="2.9"/><circle cx="114.2" cy="791.4" r="2.9"/><circle cx="115.5" cy="793.2" r="2.9"/><circle cx="126.8" cy="787.6" r="2.9"/><circle cx="130.6" cy="789.5" r="2.9"/><circle cx="118.0" cy="831.6" r="2.9"/><circle cx="117.4" cy="836.0" r="2.9"/><circle cx="73.2" cy="821.3" r="2.9"/><circle cx="81.1" cy="834.0" r="2.9"/><circle cx="83.0" cy="834.6" r="2.9"/><circle cx="98.6" cy="837.2" r="2.9"/><circle cx="111.3" cy="859.5" r="2.9"/><circle cx="112.5" cy="862.0" r="2.9"/><circle cx="110.5" cy="873.8" r="2.9"/><circle cx="112.5" cy="875.2" r="2.9"/><circle cx="129.6" cy="889.7" r="2.9"/><circle cx="131.2" cy="891.0" r="2.9"/><circle cx="151.4" cy="789.5" r="2.9"/><circle cx="153.5" cy="789.5" r="2.9"/><circle cx="160.2" cy="790.1" r="2.9"/><circle cx="162.7" cy="791.4" r="2.9"/><circle cx="201.7" cy="809.0" r="2.9"/><circle cx="158.3" cy="821.5" r="2.9"/><circle cx="158.9" cy="829.1" r="2.9"/><circle cx="156.4" cy="832.2" r="2.9"/><circle cx="163.3" cy="841.0" r="2.9"/><circle cx="208.0" cy="829.1" r="2.9"/><circle cx="220.0" cy="827.8" r="2.9"/><circle cx="194.2" cy="827.8" r="2.9"/><circle cx="223.0" cy="848.6" r="2.9"/><circle cx="274.0" cy="805.8" r="2.9"/><circle cx="305.5" cy="783.8" r="2.9"/><circle cx="308.0" cy="782.5" r="2.9"/><circle cx="309.3" cy="789.5" r="2.9"/><circle cx="308.0" cy="819.0" r="2.9"/><circle cx="300.5" cy="822.2" r="2.9"/><circle cx="298.0" cy="819.0" r="2.9"/><circle cx="300.5" cy="830.3" r="2.9"/><circle cx="303.0" cy="831.6" r="2.9"/><circle cx="245.1" cy="822.2" r="2.9"/><circle cx="252.0" cy="827.8" r="2.9"/><circle cx="247.6" cy="811.5" r="2.9"/><circle cx="252.7" cy="807.1" r="2.9"/><circle cx="299.2" cy="853.6" r="2.9"/><circle cx="177.2" cy="855.7" r="2.9"/><circle cx="179.0" cy="860.0" r="2.9"/><circle cx="180.3" cy="873.9" r="2.9"/><circle cx="187.9" cy="889.0" r="2.9"/><circle cx="172.1" cy="890.9" r="2.9"/><circle cx="221.8" cy="861.3" r="2.9"/><circle cx="145.1" cy="901.6" r="2.9"/><circle cx="132.5" cy="865.0" r="2.9"/><circle cx="144.5" cy="862.6" r="2.9"/><circle cx="161.4" cy="911.6" r="2.9"/><circle cx="180.3" cy="915.4" r="2.9"/><circle cx="190.4" cy="916.7" r="2.9"/><circle cx="223.1" cy="912.9" r="2.9"/><circle cx="221.0" cy="915.0" r="2.9"/><circle cx="211.8" cy="909.1" r="2.9"/><circle cx="299.2" cy="855.0" r="2.9"/><circle cx="281.6" cy="875.2" r="2.9"/><circle cx="280.5" cy="877.0" r="2.9"/><circle cx="260.2" cy="894.0" r="2.9"/><circle cx="246.4" cy="904.1" r="2.9"/><circle cx="245.8" cy="905.5" r="2.9"/><circle cx="225.0" cy="911.6" r="2.9"/><circle cx="303.6" cy="762.3" r="2.9"/></g>
<g fill="#000080" fill-opacity="0.5" stroke="#000080" stroke-opacity="0.45" stroke-width="0.7"><circle cx="55.7" cy="714.5" r="2.9"/><circle cx="56.5" cy="717.0" r="2.9"/><circle cx="70.8" cy="729.6" r="2.9"/><circle cx="87.8" cy="739.0" r="2.9"/><circle cx="91.6" cy="740.3" r="2.9"/><circle cx="95.3" cy="740.3" r="2.9"/><circle cx="98.5" cy="740.9" r="2.9"/><circle cx="89.0" cy="754.1" r="2.9"/><circle cx="62.6" cy="760.4" r="2.9"/><circle cx="60.8" cy="762.9" r="2.9"/><circle cx="60.8" cy="775.5" r="2.9"/><circle cx="76.5" cy="756.6" r="2.9"/><circle cx="84.7" cy="764.8" r="2.9"/><circle cx="87.8" cy="798.9" r="2.9"/><circle cx="90.3" cy="801.4" r="2.9"/><circle cx="94.0" cy="811.5" r="2.9"/><circle cx="97.9" cy="812.1" r="2.9"/><circle cx="99.1" cy="810.8" r="2.9"/><circle cx="119.2" cy="780.0" r="2.9"/><circle cx="121.8" cy="780.7" r="2.9"/><circle cx="124.3" cy="780.7" r="2.9"/><circle cx="114.2" cy="791.4" r="2.9"/><circle cx="115.5" cy="793.2" r="2.9"/><circle cx="126.8" cy="787.6" r="2.9"/><circle cx="130.6" cy="789.5" r="2.9"/><circle cx="118.0" cy="831.6" r="2.9"/><circle cx="117.4" cy="836.0" r="2.9"/><circle cx="73.2" cy="821.3" r="2.9"/><circle cx="81.1" cy="834.0" r="2.9"/><circle cx="83.0" cy="834.6" r="2.9"/><circle cx="98.6" cy="837.2" r="2.9"/><circle cx="111.3" cy="859.5" r="2.9"/><circle cx="112.5" cy="862.0" r="2.9"/><circle cx="110.5" cy="873.8" r="2.9"/><circle cx="112.5" cy="875.2" r="2.9"/><circle cx="129.6" cy="889.7" r="2.9"/><circle cx="131.2" cy="891.0" r="2.9"/><circle cx="151.4" cy="789.5" r="2.9"/><circle cx="153.5" cy="789.5" r="2.9"/><circle cx="160.2" cy="790.1" r="2.9"/><circle cx="162.7" cy="791.4" r="2.9"/><circle cx="201.7" cy="809.0" r="2.9"/><circle cx="158.3" cy="821.5" r="2.9"/><circle cx="158.9" cy="829.1" r="2.9"/><circle cx="156.4" cy="832.2" r="2.9"/><circle cx="163.3" cy="841.0" r="2.9"/><circle cx="208.0" cy="829.1" r="2.9"/><circle cx="220.0" cy="827.8" r="2.9"/><circle cx="194.2" cy="827.8" r="2.9"/><circle cx="223.0" cy="848.6" r="2.9"/><circle cx="274.0" cy="805.8" r="2.9"/><circle cx="305.5" cy="783.8" r="2.9"/><circle cx="308.0" cy="782.5" r="2.9"/><circle cx="309.3" cy="789.5" r="2.9"/><circle cx="308.0" cy="819.0" r="2.9"/><circle cx="300.5" cy="822.2" r="2.9"/><circle cx="298.0" cy="819.0" r="2.9"/><circle cx="300.5" cy="830.3" r="2.9"/><circle cx="303.0" cy="831.6" r="2.9"/><circle cx="245.1" cy="822.2" r="2.9"/><circle cx="252.0" cy="827.8" r="2.9"/><circle cx="247.6" cy="811.5" r="2.9"/><circle cx="252.7" cy="807.1" r="2.9"/><circle cx="299.2" cy="853.6" r="2.9"/><circle cx="177.2" cy="855.7" r="2.9"/><circle cx="179.0" cy="860.0" r="2.9"/><circle cx="180.3" cy="873.9" r="2.9"/><circle cx="187.9" cy="889.0" r="2.9"/><circle cx="172.1" cy="890.9" r="2.9"/><circle cx="221.8" cy="861.3" r="2.9"/><circle cx="145.1" cy="901.6" r="2.9"/><circle cx="132.5" cy="865.0" r="2.9"/><circle cx="144.5" cy="862.6" r="2.9"/><circle cx="161.4" cy="911.6" r="2.9"/><circle cx="180.3" cy="915.4" r="2.9"/><circle cx="190.4" cy="916.7" r="2.9"/><circle cx="223.1" cy="912.9" r="2.9"/><circle cx="221.0" cy="915.0" r="2.9"/><circle cx="211.8" cy="909.1" r="2.9"/><circle cx="299.2" cy="855.0" r="2.9"/><circle cx="281.6" cy="875.2" r="2.9"/><circle cx="280.5" cy="877.0" r="2.9"/><circle cx="260.2" cy="894.0" r="2.9"/><circle cx="246.4" cy="904.1" r="2.9"/><circle cx="245.8" cy="905.5" r="2.9"/><circle cx="225.0" cy="911.6" r="2.9"/><circle cx="303.6" cy="762.3" r="2.9"/></g>
<rect x="37.6" y="702.3" width="286.2" height="226.7" fill="none" stroke="#555" stroke-width="0.9"/>
<line x1="65.5" y1="929" x2="65.5" y2="930.8" stroke="#555" stroke-width="0.5"/>
<text x="65.5" y="937.7" font-family="'DejaVu Sans', sans-serif" font-size="5.6" fill="#111" text-anchor="middle">−2.5</text>
<line x1="101.8" y1="929" x2="101.8" y2="930.8" stroke="#555" stroke-width="0.5"/>
<text x="101.8" y="937.7" font-family="'DejaVu Sans', sans-serif" font-size="5.6" fill="#111" text-anchor="middle">0.0</text>
<line x1="138.1" y1="929" x2="138.1" y2="930.8" stroke="#555" stroke-width="0.5"/>
<text x="138.1" y="937.7" font-family="'DejaVu Sans', sans-serif" font-size="5.6" fill="#111" text-anchor="middle">2.5</text>
<line x1="174.5" y1="929" x2="174.5" y2="930.8" stroke="#555" stroke-width="0.5"/>
<text x="174.5" y="937.7" font-family="'DejaVu Sans', sans-serif" font-size="5.6" fill="#111" text-anchor="middle">5.0</text>
<line x1="210.8" y1="929" x2="210.8" y2="930.8" stroke="#555" stroke-width="0.5"/>
<text x="210.8" y="937.7" font-family="'DejaVu Sans', sans-serif" font-size="5.6" fill="#111" text-anchor="middle">7.5</text>
<line x1="247.2" y1="929" x2="247.2" y2="930.8" stroke="#555" stroke-width="0.5"/>
<text x="247.2" y="937.7" font-family="'DejaVu Sans', sans-serif" font-size="5.6" fill="#111" text-anchor="middle">10.0</text>
<line x1="283.6" y1="929" x2="283.6" y2="930.8" stroke="#555" stroke-width="0.5"/>
<text x="283.6" y="937.7" font-family="'DejaVu Sans', sans-serif" font-size="5.6" fill="#111" text-anchor="middle">12.5</text>
<line x1="319.9" y1="929" x2="319.9" y2="930.8" stroke="#555" stroke-width="0.5"/>
<text x="319.9" y="937.7" font-family="'DejaVu Sans', sans-serif" font-size="5.6" fill="#111" text-anchor="middle">15.</text>
<line x1="37.6" y1="897.3" x2="35.800000000000004" y2="897.3" stroke="#555" stroke-width="0.5"/>
<text x="34.6" y="899.3" font-family="'DejaVu Sans', sans-serif" font-size="5.6" fill="#111" text-anchor="end">0</text>
<line x1="37.6" y1="859.8" x2="35.800000000000004" y2="859.8" stroke="#555" stroke-width="0.5"/>
<text x="34.6" y="861.8" font-family="'DejaVu Sans', sans-serif" font-size="5.6" fill="#111" text-anchor="end">2</text>
<line x1="37.6" y1="822.4" x2="35.800000000000004" y2="822.4" stroke="#555" stroke-width="0.5"/>
<text x="34.6" y="824.4" font-family="'DejaVu Sans', sans-serif" font-size="5.6" fill="#111" text-anchor="end">4</text>
<line x1="37.6" y1="784.9" x2="35.800000000000004" y2="784.9" stroke="#555" stroke-width="0.5"/>
<text x="34.6" y="786.9" font-family="'DejaVu Sans', sans-serif" font-size="5.6" fill="#111" text-anchor="end">6</text>
<line x1="37.6" y1="747.5" x2="35.800000000000004" y2="747.5" stroke="#555" stroke-width="0.5"/>
<text x="34.6" y="749.5" font-family="'DejaVu Sans', sans-serif" font-size="5.6" fill="#111" text-anchor="end">8</text>
<line x1="37.6" y1="710.0" x2="35.800000000000004" y2="710.0" stroke="#555" stroke-width="0.5"/>
<text x="34.6" y="712.0" font-family="'DejaVu Sans', sans-serif" font-size="5.6" fill="#111" text-anchor="end">10</text>
<text x="173.9" y="692.3" font-family="'Liberation Sans', Arial, sans-serif" font-size="20.8" fill="#111" text-anchor="middle">beta</text>
<path d="M446.9 802.5h0M487.5 805.3h0M491.2 800.4h0M479.9 814.2h0M495.0 817.9h0M398.8 807.9h0M400.7 807.2h0M392.2 814.2h0M388.4 817.0h0M385.6 817.9h0M396.0 818.9h0M402.6 815.1h0M560.4 714.2h0M610.4 743.0h0M636.8 792.1h0M635.5 798.1h0M637.4 802.3h0M598.1 809.1h0M573.6 814.7h0M550.0 816.0h0M587.2 818.5h0M389.4 815.7h0M395.0 817.5h0M396.9 820.4h0M398.8 822.3h0M400.7 823.2h0M401.6 830.8h0M406.3 835.5h0M411.1 831.7h0M412.9 828.9h0M414.8 827.0h0M429.9 836.4h0M449.7 855.3h0M464.8 844.9h0M469.5 844.0h0M464.8 852.5h0M468.6 860.9h0M464.8 870.4h0M473.3 880.8h0M482.8 879.4h0M483.7 850.6h0M484.6 852.5h0M481.8 841.1h0M486.5 842.1h0M490.3 840.2h0M491.2 832.6h0M494.1 820.4h0M496.9 818.5h0M499.7 828.9h0M502.6 827.9h0M507.3 833.6h0M509.2 822.3h0M501.6 856.2h0M503.5 859.1h0M505.4 861.9h0M506.3 864.7h0M503.5 866.6h0M501.6 868.5h0M498.8 866.6h0M496.0 866.2h0M507.3 868.5h0M511.1 857.2h0M501.6 899.6h0M401.6 907.2h0M475.2 853.4h0M508.5 821.3h0M501.9 828.9h0M515.1 833.6h0M511.3 841.1h0M519.8 843.0h0M520.8 850.6h0M529.2 847.7h0M502.8 858.1h0M503.8 862.8h0M502.8 868.5h0M519.8 865.7h0M526.4 859.1h0M529.2 860.0h0M533.0 857.2h0M537.7 859.1h0M563.2 821.3h0M558.5 828.9h0M560.4 830.8h0M557.5 834.5h0M550.9 838.3h0M550.0 843.0h0M554.7 841.1h0M564.2 841.1h0M543.4 844.9h0M579.2 830.8h0M574.5 838.3h0M580.2 842.1h0M587.7 819.4h0M592.5 823.2h0M597.2 828.9h0M601.9 823.2h0M588.7 839.2h0M588.7 848.7h0M592.5 852.5h0M597.2 851.5h0M601.9 851.5h0M581.1 852.5h0M584.0 855.3h0M586.8 859.1h0M589.6 862.8h0M597.2 860.9h0M595.3 865.7h0M600.0 877.0h0M601.9 876.0h0M592.5 887.4h0M590.6 884.5h0" stroke="#808080" stroke-width="5.7" stroke-linecap="round" fill="none"/>
<path d="M405.4 808.0l3.9 3.9l-3.9 3.9l-3.9 -3.9zM552.8 710.3l3.9 3.9l-3.9 3.9l-3.9 -3.9zM556.6 709.3l3.9 3.9l-3.9 3.9l-3.9 -3.9zM597.2 767.4l3.9 3.9l-3.9 3.9l-3.9 -3.9zM462.0 825.9l3.9 3.9l-3.9 3.9l-3.9 -3.9zM477.1 851.4l3.9 3.9l-3.9 3.9l-3.9 -3.9zM470.5 858.9l3.9 3.9l-3.9 3.9l-3.9 -3.9zM471.4 865.5l3.9 3.9l-3.9 3.9l-3.9 -3.9zM477.5 869.3l3.9 3.9l-3.9 3.9l-3.9 -3.9zM429.9 870.6l3.9 3.9l-3.9 3.9l-3.9 -3.9zM426.2 879.7l3.9 3.9l-3.9 3.9l-3.9 -3.9zM415.8 878.7l3.9 3.9l-3.9 3.9l-3.9 -3.9zM426.2 890.1l3.9 3.9l-3.9 3.9l-3.9 -3.9zM412.0 889.1l3.9 3.9l-3.9 3.9l-3.9 -3.9zM410.1 890.1l3.9 3.9l-3.9 3.9l-3.9 -3.9zM407.3 896.7l3.9 3.9l-3.9 3.9l-3.9 -3.9zM404.5 906.1l3.9 3.9l-3.9 3.9l-3.9 -3.9zM396.9 902.3l3.9 3.9l-3.9 3.9l-3.9 -3.9zM390.3 910.8l3.9 3.9l-3.9 3.9l-3.9 -3.9zM384.6 913.6l3.9 3.9l-3.9 3.9l-3.9 -3.9zM380.9 915.5l3.9 3.9l-3.9 3.9l-3.9 -3.9zM377.1 914.6l3.9 3.9l-3.9 3.9l-3.9 -3.9zM382.8 911.8l3.9 3.9l-3.9 3.9l-3.9 -3.9zM386.5 916.5l3.9 3.9l-3.9 3.9l-3.9 -3.9zM379.9 917.4l3.9 3.9l-3.9 3.9l-3.9 -3.9zM443.1 883.5l3.9 3.9l-3.9 3.9l-3.9 -3.9zM447.8 882.5l3.9 3.9l-3.9 3.9l-3.9 -3.9zM454.5 882.5l3.9 3.9l-3.9 3.9l-3.9 -3.9zM443.1 889.1l3.9 3.9l-3.9 3.9l-3.9 -3.9zM460.1 881.6l3.9 3.9l-3.9 3.9l-3.9 -3.9zM462.0 885.3l3.9 3.9l-3.9 3.9l-3.9 -3.9zM464.8 883.5l3.9 3.9l-3.9 3.9l-3.9 -3.9zM466.7 887.2l3.9 3.9l-3.9 3.9l-3.9 -3.9zM463.9 889.1l3.9 3.9l-3.9 3.9l-3.9 -3.9zM458.2 887.2l3.9 3.9l-3.9 3.9l-3.9 -3.9zM468.6 884.4l3.9 3.9l-3.9 3.9l-3.9 -3.9zM475.2 883.5l3.9 3.9l-3.9 3.9l-3.9 -3.9zM442.2 906.1l3.9 3.9l-3.9 3.9l-3.9 -3.9zM444.1 908.0l3.9 3.9l-3.9 3.9l-3.9 -3.9zM487.5 891.9l3.9 3.9l-3.9 3.9l-3.9 -3.9zM496.0 875.9l3.9 3.9l-3.9 3.9l-3.9 -3.9zM498.8 881.6l3.9 3.9l-3.9 3.9l-3.9 -3.9zM497.8 892.9l3.9 3.9l-3.9 3.9l-3.9 -3.9zM506.3 893.3l3.9 3.9l-3.9 3.9l-3.9 -3.9zM541.5 839.7l3.9 3.9l-3.9 3.9l-3.9 -3.9zM575.5 854.2l3.9 3.9l-3.9 3.9l-3.9 -3.9zM614.2 837.8l3.9 3.9l-3.9 3.9l-3.9 -3.9zM500.0 881.6l3.9 3.9l-3.9 3.9l-3.9 -3.9zM378.2 915.3l3.9 3.9l-3.9 3.9l-3.9 -3.9zM382.3 914.3l3.9 3.9l-3.9 3.9l-3.9 -3.9zM384.3 910.3l3.9 3.9l-3.9 3.9l-3.9 -3.9zM376.2 915.8l3.9 3.9l-3.9 3.9l-3.9 -3.9z" fill="#FFA500"/>
<g fill="#000080" fill-opacity="0.5" stroke="#000080" stroke-opacity="0.45" stroke-width="0.7"><circle cx="492.2" cy="736.8" r="2.9"/><circle cx="497.8" cy="736.2" r="2.9"/><circle cx="490.3" cy="739.6" r="2.9"/><circle cx="488.4" cy="740.6" r="2.9"/><circle cx="506.3" cy="738.7" r="2.9"/><circle cx="512.0" cy="737.7" r="2.9"/><circle cx="479.9" cy="744.9" r="2.9"/><circle cx="496.3" cy="749.6" r="2.9"/><circle cx="460.1" cy="752.8" r="2.9"/><circle cx="456.3" cy="755.7" r="2.9"/><circle cx="458.2" cy="756.6" r="2.9"/><circle cx="455.4" cy="758.5" r="2.9"/><circle cx="459.2" cy="763.2" r="2.9"/><circle cx="471.4" cy="756.6" r="2.9"/><circle cx="476.2" cy="753.8" r="2.9"/><circle cx="477.1" cy="754.7" r="2.9"/><circle cx="470.5" cy="757.5" r="2.9"/><circle cx="479.9" cy="758.5" r="2.9"/><circle cx="485.6" cy="760.0" r="2.9"/><circle cx="495.0" cy="763.2" r="2.9"/><circle cx="496.3" cy="767.0" r="2.9"/><circle cx="434.6" cy="760.0" r="2.9"/><circle cx="437.5" cy="760.8" r="2.9"/><circle cx="449.7" cy="761.3" r="2.9"/><circle cx="447.8" cy="767.0" r="2.9"/><circle cx="470.5" cy="769.4" r="2.9"/><circle cx="433.7" cy="773.6" r="2.9"/><circle cx="450.7" cy="775.5" r="2.9"/><circle cx="454.5" cy="774.5" r="2.9"/><circle cx="462.0" cy="776.4" r="2.9"/><circle cx="436.5" cy="778.3" r="2.9"/><circle cx="440.3" cy="778.9" r="2.9"/><circle cx="444.1" cy="778.9" r="2.9"/><circle cx="467.7" cy="780.2" r="2.9"/><circle cx="465.8" cy="783.0" r="2.9"/><circle cx="476.2" cy="780.2" r="2.9"/><circle cx="488.4" cy="783.0" r="2.9"/><circle cx="500.7" cy="779.2" r="2.9"/><circle cx="508.2" cy="784.0" r="2.9"/><circle cx="436.5" cy="785.8" r="2.9"/><circle cx="438.4" cy="787.7" r="2.9"/><circle cx="454.5" cy="786.8" r="2.9"/><circle cx="464.8" cy="785.8" r="2.9"/><circle cx="470.5" cy="786.8" r="2.9"/><circle cx="471.4" cy="789.6" r="2.9"/><circle cx="475.2" cy="792.5" r="2.9"/><circle cx="478.0" cy="792.5" r="2.9"/><circle cx="483.7" cy="795.3" r="2.9"/><circle cx="501.6" cy="787.7" r="2.9"/><circle cx="505.4" cy="791.5" r="2.9"/><circle cx="437.5" cy="793.4" r="2.9"/><circle cx="441.2" cy="794.3" r="2.9"/><circle cx="438.4" cy="797.2" r="2.9"/><circle cx="443.1" cy="797.2" r="2.9"/><circle cx="454.5" cy="794.3" r="2.9"/><circle cx="459.2" cy="792.5" r="2.9"/><circle cx="470.5" cy="793.4" r="2.9"/><circle cx="471.4" cy="798.1" r="2.9"/><circle cx="475.2" cy="797.2" r="2.9"/><circle cx="479.9" cy="796.2" r="2.9"/><circle cx="495.0" cy="795.3" r="2.9"/><circle cx="506.3" cy="797.2" r="2.9"/><circle cx="455.4" cy="802.8" r="2.9"/><circle cx="464.8" cy="801.9" r="2.9"/><circle cx="477.1" cy="802.8" r="2.9"/><circle cx="479.0" cy="803.8" r="2.9"/><circle cx="496.9" cy="800.9" r="2.9"/><circle cx="442.2" cy="807.5" r="2.9"/><circle cx="455.4" cy="808.5" r="2.9"/><circle cx="464.8" cy="807.5" r="2.9"/><circle cx="466.7" cy="809.4" r="2.9"/><circle cx="479.0" cy="807.5" r="2.9"/><circle cx="484.6" cy="811.3" r="2.9"/><circle cx="509.2" cy="806.6" r="2.9"/><circle cx="433.7" cy="814.2" r="2.9"/><circle cx="431.8" cy="816.0" r="2.9"/><circle cx="456.3" cy="813.2" r="2.9"/><circle cx="465.4" cy="813.2" r="2.9"/><circle cx="474.3" cy="815.1" r="2.9"/><circle cx="497.8" cy="811.3" r="2.9"/><circle cx="506.3" cy="813.2" r="2.9"/><circle cx="500.0" cy="736.8" r="2.9"/><circle cx="513.2" cy="736.8" r="2.9"/><circle cx="515.1" cy="737.4" r="2.9"/><circle cx="517.9" cy="742.5" r="2.9"/><circle cx="524.5" cy="743.0" r="2.9"/><circle cx="529.2" cy="742.5" r="2.9"/><circle cx="517.0" cy="749.1" r="2.9"/><circle cx="518.9" cy="749.4" r="2.9"/><circle cx="533.6" cy="749.6" r="2.9"/><circle cx="545.3" cy="735.8" r="2.9"/><circle cx="559.4" cy="736.8" r="2.9"/><circle cx="542.5" cy="744.3" r="2.9"/><circle cx="544.3" cy="746.2" r="2.9"/><circle cx="552.8" cy="754.7" r="2.9"/><circle cx="554.7" cy="758.1" r="2.9"/><circle cx="526.4" cy="753.8" r="2.9"/><circle cx="527.4" cy="756.6" r="2.9"/><circle cx="526.4" cy="763.2" r="2.9"/><circle cx="570.8" cy="750.6" r="2.9"/><circle cx="578.3" cy="749.4" r="2.9"/><circle cx="582.1" cy="752.8" r="2.9"/><circle cx="585.3" cy="754.7" r="2.9"/><circle cx="513.2" cy="770.8" r="2.9"/><circle cx="518.9" cy="771.3" r="2.9"/><circle cx="522.6" cy="770.2" r="2.9"/><circle cx="524.5" cy="771.7" r="2.9"/><circle cx="528.3" cy="772.6" r="2.9"/><circle cx="533.0" cy="768.3" r="2.9"/><circle cx="544.3" cy="768.3" r="2.9"/><circle cx="560.4" cy="769.4" r="2.9"/><circle cx="563.2" cy="768.3" r="2.9"/><circle cx="565.1" cy="768.9" r="2.9"/><circle cx="568.9" cy="765.7" r="2.9"/><circle cx="574.5" cy="768.3" r="2.9"/><circle cx="578.3" cy="767.5" r="2.9"/><circle cx="582.1" cy="771.3" r="2.9"/><circle cx="558.5" cy="772.6" r="2.9"/><circle cx="550.9" cy="777.7" r="2.9"/><circle cx="553.8" cy="777.4" r="2.9"/><circle cx="557.5" cy="777.7" r="2.9"/><circle cx="517.0" cy="777.4" r="2.9"/><circle cx="515.1" cy="782.1" r="2.9"/><circle cx="521.7" cy="780.2" r="2.9"/><circle cx="526.4" cy="777.4" r="2.9"/><circle cx="529.2" cy="775.5" r="2.9"/><circle cx="528.3" cy="783.0" r="2.9"/><circle cx="527.9" cy="786.4" r="2.9"/><circle cx="501.9" cy="779.2" r="2.9"/><circle cx="501.9" cy="785.8" r="2.9"/><circle cx="510.4" cy="787.7" r="2.9"/><circle cx="514.2" cy="790.6" r="2.9"/><circle cx="518.9" cy="792.8" r="2.9"/><circle cx="504.7" cy="792.5" r="2.9"/><circle cx="535.8" cy="786.4" r="2.9"/><circle cx="536.8" cy="788.7" r="2.9"/><circle cx="585.8" cy="778.3" r="2.9"/><circle cx="584.9" cy="779.2" r="2.9"/><circle cx="566.0" cy="786.4" r="2.9"/><circle cx="579.2" cy="788.3" r="2.9"/><circle cx="592.5" cy="766.0" r="2.9"/><circle cx="594.3" cy="771.7" r="2.9"/><circle cx="591.5" cy="787.2" r="2.9"/><circle cx="598.1" cy="788.3" r="2.9"/><circle cx="600.0" cy="785.8" r="2.9"/><circle cx="603.8" cy="786.8" r="2.9"/><circle cx="605.7" cy="785.8" r="2.9"/><circle cx="610.4" cy="786.8" r="2.9"/><circle cx="611.3" cy="784.0" r="2.9"/><circle cx="613.2" cy="782.1" r="2.9"/><circle cx="619.8" cy="784.0" r="2.9"/><circle cx="622.6" cy="783.0" r="2.9"/><circle cx="624.5" cy="784.0" r="2.9"/><circle cx="621.7" cy="788.3" r="2.9"/><circle cx="618.9" cy="790.6" r="2.9"/><circle cx="614.2" cy="794.3" r="2.9"/><circle cx="617.9" cy="793.4" r="2.9"/><circle cx="601.9" cy="794.3" r="2.9"/><circle cx="597.2" cy="792.5" r="2.9"/><circle cx="592.5" cy="793.4" r="2.9"/><circle cx="591.5" cy="796.2" r="2.9"/><circle cx="608.5" cy="737.7" r="2.9"/><circle cx="612.3" cy="732.1" r="2.9"/><circle cx="611.3" cy="734.0" r="2.9"/><circle cx="608.5" cy="747.2" r="2.9"/><circle cx="609.1" cy="754.7" r="2.9"/><circle cx="610.4" cy="755.1" r="2.9"/><circle cx="609.1" cy="760.8" r="2.9"/><circle cx="616.0" cy="763.2" r="2.9"/><circle cx="617.9" cy="768.9" r="2.9"/><circle cx="618.5" cy="775.8" r="2.9"/><circle cx="626.0" cy="771.7" r="2.9"/><circle cx="630.2" cy="774.5" r="2.9"/><circle cx="633.0" cy="774.5" r="2.9"/><circle cx="634.0" cy="782.1" r="2.9"/><circle cx="516.0" cy="802.8" r="2.9"/><circle cx="525.5" cy="801.5" r="2.9"/><circle cx="534.0" cy="802.8" r="2.9"/><circle cx="541.5" cy="800.9" r="2.9"/><circle cx="540.6" cy="806.6" r="2.9"/><circle cx="557.5" cy="797.2" r="2.9"/><circle cx="556.6" cy="801.9" r="2.9"/><circle cx="563.2" cy="803.8" r="2.9"/><circle cx="565.1" cy="806.6" r="2.9"/><circle cx="562.3" cy="808.5" r="2.9"/><circle cx="577.4" cy="801.9" r="2.9"/><circle cx="578.3" cy="802.8" r="2.9"/><circle cx="586.8" cy="802.8" r="2.9"/><circle cx="591.5" cy="803.8" r="2.9"/><circle cx="608.5" cy="805.1" r="2.9"/><circle cx="601.9" cy="811.3" r="2.9"/><circle cx="598.1" cy="809.4" r="2.9"/><circle cx="521.7" cy="814.2" r="2.9"/><circle cx="523.6" cy="815.1" r="2.9"/><circle cx="530.2" cy="809.4" r="2.9"/><circle cx="537.7" cy="815.1" r="2.9"/><circle cx="550.0" cy="807.5" r="2.9"/><circle cx="564.2" cy="808.5" r="2.9"/><circle cx="553.8" cy="718.9" r="2.9"/><circle cx="556.6" cy="717.9" r="2.9"/><circle cx="560.4" cy="717.0" r="2.9"/><circle cx="552.8" cy="722.6" r="2.9"/><circle cx="554.7" cy="716.6" r="2.9"/><circle cx="432.8" cy="816.6" r="2.9"/><circle cx="434.6" cy="813.8" r="2.9"/><circle cx="431.8" cy="817.5" r="2.9"/><circle cx="433.7" cy="820.4" r="2.9"/><circle cx="429.9" cy="821.3" r="2.9"/><circle cx="435.6" cy="824.2" r="2.9"/><circle cx="437.5" cy="825.1" r="2.9"/><circle cx="430.9" cy="828.9" r="2.9"/><circle cx="432.8" cy="827.9" r="2.9"/><circle cx="438.4" cy="847.7" r="2.9"/><circle cx="444.1" cy="849.6" r="2.9"/><circle cx="440.3" cy="858.1" r="2.9"/><circle cx="445.0" cy="868.5" r="2.9"/><circle cx="446.9" cy="865.7" r="2.9"/><circle cx="416.7" cy="871.3" r="2.9"/><circle cx="418.6" cy="877.0" r="2.9"/><circle cx="405.4" cy="884.5" r="2.9"/><circle cx="394.1" cy="902.5" r="2.9"/><circle cx="393.1" cy="908.1" r="2.9"/><circle cx="455.4" cy="811.9" r="2.9"/><circle cx="456.3" cy="816.6" r="2.9"/><circle cx="460.1" cy="820.4" r="2.9"/><circle cx="463.9" cy="824.2" r="2.9"/><circle cx="465.8" cy="826.0" r="2.9"/><circle cx="467.7" cy="828.9" r="2.9"/><circle cx="473.3" cy="821.3" r="2.9"/><circle cx="474.3" cy="823.2" r="2.9"/><circle cx="475.2" cy="825.1" r="2.9"/><circle cx="479.0" cy="826.0" r="2.9"/><circle cx="477.1" cy="817.5" r="2.9"/><circle cx="480.9" cy="819.4" r="2.9"/><circle cx="471.4" cy="835.5" r="2.9"/><circle cx="470.5" cy="834.5" r="2.9"/><circle cx="485.6" cy="834.5" r="2.9"/><circle cx="496.9" cy="811.9" r="2.9"/><circle cx="499.7" cy="816.6" r="2.9"/><circle cx="505.4" cy="840.2" r="2.9"/><circle cx="507.3" cy="838.3" r="2.9"/><circle cx="494.1" cy="891.1" r="2.9"/><circle cx="497.8" cy="893.0" r="2.9"/><circle cx="500.9" cy="816.6" r="2.9"/><circle cx="524.5" cy="812.8" r="2.9"/><circle cx="529.2" cy="813.8" r="2.9"/><circle cx="538.7" cy="814.7" r="2.9"/><circle cx="543.4" cy="818.5" r="2.9"/><circle cx="528.3" cy="823.2" r="2.9"/><circle cx="529.2" cy="826.0" r="2.9"/><circle cx="534.0" cy="823.2" r="2.9"/><circle cx="512.3" cy="824.2" r="2.9"/><circle cx="527.4" cy="830.8" r="2.9"/><circle cx="528.3" cy="834.5" r="2.9"/><circle cx="524.5" cy="838.3" r="2.9"/><circle cx="504.7" cy="839.2" r="2.9"/><circle cx="506.6" cy="841.1" r="2.9"/><circle cx="504.7" cy="842.1" r="2.9"/><circle cx="535.8" cy="842.1" r="2.9"/><circle cx="550.9" cy="823.2" r="2.9"/><circle cx="554.7" cy="825.1" r="2.9"/><circle cx="565.1" cy="856.2" r="2.9"/><circle cx="547.2" cy="866.2" r="2.9"/><circle cx="555.7" cy="871.9" r="2.9"/><circle cx="547.2" cy="876.0" r="2.9"/><circle cx="553.8" cy="883.2" r="2.9"/><circle cx="560.4" cy="886.4" r="2.9"/><circle cx="562.3" cy="888.3" r="2.9"/><circle cx="566.0" cy="891.5" r="2.9"/><circle cx="547.2" cy="890.2" r="2.9"/><circle cx="575.5" cy="894.0" r="2.9"/><circle cx="577.4" cy="895.8" r="2.9"/><circle cx="579.2" cy="893.0" r="2.9"/><circle cx="583.0" cy="893.0" r="2.9"/><circle cx="582.1" cy="879.8" r="2.9"/><circle cx="585.8" cy="877.0" r="2.9"/><circle cx="586.8" cy="882.6" r="2.9"/><circle cx="588.7" cy="884.5" r="2.9"/><circle cx="592.5" cy="868.5" r="2.9"/><circle cx="596.2" cy="815.7" r="2.9"/><circle cx="608.5" cy="819.4" r="2.9"/><circle cx="606.6" cy="828.9" r="2.9"/><circle cx="605.7" cy="838.3" r="2.9"/><circle cx="602.8" cy="844.9" r="2.9"/><circle cx="606.6" cy="844.9" r="2.9"/><circle cx="607.5" cy="844.0" r="2.9"/><circle cx="609.4" cy="845.8" r="2.9"/><circle cx="605.7" cy="849.6" r="2.9"/><circle cx="606.6" cy="853.0" r="2.9"/><circle cx="393.3" cy="906.5" r="2.9"/><circle cx="393.8" cy="904.0" r="2.9"/></g>
<rect x="364" y="704.3" width="285.6" height="227.6" fill="none" stroke="#555" stroke-width="0.9"/>
<line x1="367.4" y1="931.9" x2="367.4" y2="933.6999999999999" stroke="#555" stroke-width="0.5"/>
<text x="367.4" y="939.3" font-family="'DejaVu Sans', sans-serif" font-size="5.6" fill="#111" text-anchor="middle">2</text>
<line x1="406.1" y1="931.9" x2="406.1" y2="933.6999999999999" stroke="#555" stroke-width="0.5"/>
<text x="406.1" y="939.3" font-family="'DejaVu Sans', sans-serif" font-size="5.6" fill="#111" text-anchor="middle">3</text>
<line x1="444.7" y1="931.9" x2="444.7" y2="933.6999999999999" stroke="#555" stroke-width="0.5"/>
<text x="444.7" y="939.3" font-family="'DejaVu Sans', sans-serif" font-size="5.6" fill="#111" text-anchor="middle">4</text>
<line x1="483.4" y1="931.9" x2="483.4" y2="933.6999999999999" stroke="#555" stroke-width="0.5"/>
<text x="483.4" y="939.3" font-family="'DejaVu Sans', sans-serif" font-size="5.6" fill="#111" text-anchor="middle">5</text>
<line x1="522.0" y1="931.9" x2="522.0" y2="933.6999999999999" stroke="#555" stroke-width="0.5"/>
<text x="522.0" y="939.3" font-family="'DejaVu Sans', sans-serif" font-size="5.6" fill="#111" text-anchor="middle">6</text>
<line x1="560.7" y1="931.9" x2="560.7" y2="933.6999999999999" stroke="#555" stroke-width="0.5"/>
<text x="560.7" y="939.3" font-family="'DejaVu Sans', sans-serif" font-size="5.6" fill="#111" text-anchor="middle">7</text>
<line x1="599.4" y1="931.9" x2="599.4" y2="933.6999999999999" stroke="#555" stroke-width="0.5"/>
<text x="599.4" y="939.3" font-family="'DejaVu Sans', sans-serif" font-size="5.6" fill="#111" text-anchor="middle">8</text>
<line x1="638.0" y1="931.9" x2="638.0" y2="933.6999999999999" stroke="#555" stroke-width="0.5"/>
<text x="638.0" y="939.3" font-family="'DejaVu Sans', sans-serif" font-size="5.6" fill="#111" text-anchor="middle">9</text>
<line x1="364" y1="899.3" x2="362.2" y2="899.3" stroke="#555" stroke-width="0.5"/>
<text x="361.0" y="901.3" font-family="'DejaVu Sans', sans-serif" font-size="5.6" fill="#111" text-anchor="end">8</text>
<line x1="364" y1="862.6" x2="362.2" y2="862.6" stroke="#555" stroke-width="0.5"/>
<text x="361.0" y="864.6" font-family="'DejaVu Sans', sans-serif" font-size="5.6" fill="#111" text-anchor="end">9</text>
<line x1="364" y1="825.9" x2="362.2" y2="825.9" stroke="#555" stroke-width="0.5"/>
<text x="361.0" y="827.9" font-family="'DejaVu Sans', sans-serif" font-size="5.6" fill="#111" text-anchor="end">10</text>
<line x1="364" y1="789.2" x2="362.2" y2="789.2" stroke="#555" stroke-width="0.5"/>
<text x="361.0" y="791.2" font-family="'DejaVu Sans', sans-serif" font-size="5.6" fill="#111" text-anchor="end">11</text>
<line x1="364" y1="752.5" x2="362.2" y2="752.5" stroke="#555" stroke-width="0.5"/>
<text x="361.0" y="754.5" font-family="'DejaVu Sans', sans-serif" font-size="5.6" fill="#111" text-anchor="end">12</text>
<line x1="364" y1="715.8" x2="362.2" y2="715.8" stroke="#555" stroke-width="0.5"/>
<text x="361.0" y="717.8" font-family="'DejaVu Sans', sans-serif" font-size="5.6" fill="#111" text-anchor="end">13</text>
<text x="500.1" y="692.4" font-family="'Liberation Sans', Arial, sans-serif" font-size="21.3" fill="#111" text-anchor="middle">quiescent_stellate</text>
<circle cx="673.3" cy="756.4" r="7" fill="#7f7f7f"/>
<path d="M672.9 782.6L682.6 792.4L672.9 802.2L663.2 792.4Z" fill="#FAAB2C"/>
<circle cx="673.3" cy="865.9" r="6.6" fill="#7b7bc4" stroke="#5a5aae" stroke-width="0.9"/>
<text x="692.0" y="761.9" font-family="'Liberation Sans', Arial, sans-serif" font-size="15" fill="#111">Training data</text>
<text x="692.0" y="797.8" font-family="'Liberation Sans', Arial, sans-serif" font-size="15" fill="#111">Testing data</text>
<text x="692.0" y="861.7" font-family="'Liberation Sans', Arial, sans-serif" font-size="15" fill="#111">Generated</text>
<text x="692.0" y="880" font-family="'Liberation Sans', Arial, sans-serif" font-size="15" fill="#111">data</text>
</svg></body></html>
